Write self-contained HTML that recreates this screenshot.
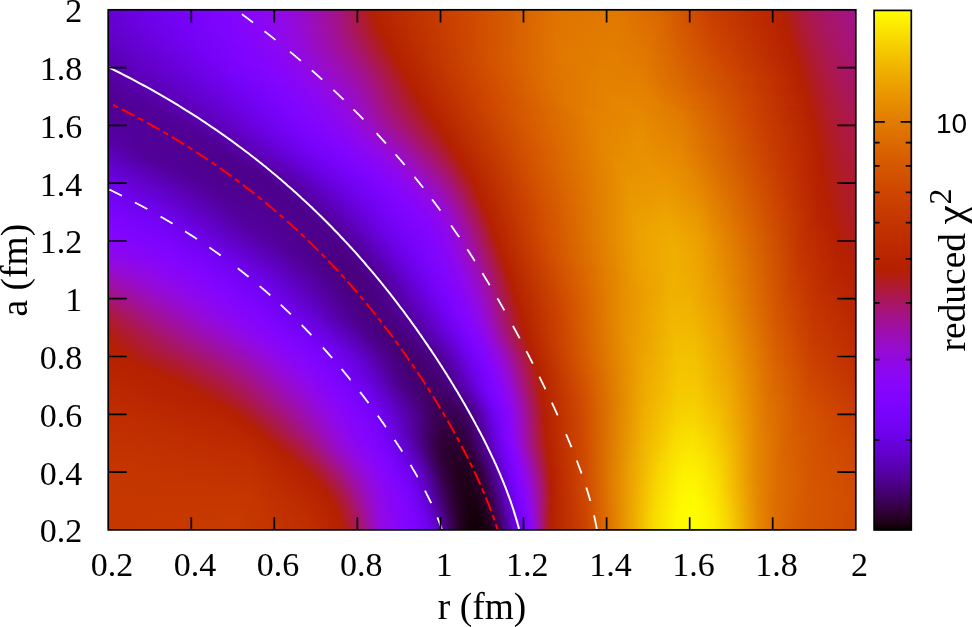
<!DOCTYPE html><html><head><meta charset="utf-8"><style>html,body{margin:0;padding:0;background:#fff;overflow:hidden}svg{display:block}text{font-family:"Liberation Serif","Times New Roman",serif;fill:#000}</style></head><body><svg width="972" height="627" viewBox="0 0 972 627"><defs><linearGradient id="g0"><stop offset="0.0006684" stop-color="#6401d3"/><stop offset="0.06751" stop-color="#7102f1"/><stop offset="0.1464" stop-color="#7e04ff"/><stop offset="0.1905" stop-color="#8806f9"/><stop offset="0.24" stop-color="#9209e1"/><stop offset="0.2694" stop-color="#9a0cbe"/><stop offset="0.3095" stop-color="#a41281"/><stop offset="0.3269" stop-color="#aa1754"/><stop offset="0.3536" stop-color="#b42003"/><stop offset="0.3643" stop-color="#b72300"/><stop offset="0.5074" stop-color="#d35100"/><stop offset="0.6009" stop-color="#e07400"/><stop offset="0.6798" stop-color="#e17900"/><stop offset="0.74" stop-color="#db6600"/><stop offset="0.8028" stop-color="#ca4000"/><stop offset="0.8763" stop-color="#bc2900"/><stop offset="0.9017" stop-color="#b42001"/><stop offset="0.9271" stop-color="#ad193d"/><stop offset="0.9539" stop-color="#a81563"/><stop offset="0.9993" stop-color="#a3118a"/></linearGradient><linearGradient id="g1"><stop offset="0.0006684" stop-color="#6401d3"/><stop offset="0.06885" stop-color="#7102f1"/><stop offset="0.1464" stop-color="#7e04ff"/><stop offset="0.1918" stop-color="#8806f9"/><stop offset="0.24" stop-color="#9209e1"/><stop offset="0.2694" stop-color="#9a0cbf"/><stop offset="0.3095" stop-color="#a41281"/><stop offset="0.3269" stop-color="#aa1755"/><stop offset="0.3549" stop-color="#b42001"/><stop offset="0.4806" stop-color="#cf4800"/><stop offset="0.6023" stop-color="#e07400"/><stop offset="0.6811" stop-color="#e17900"/><stop offset="0.74" stop-color="#db6600"/><stop offset="0.8028" stop-color="#ca4000"/><stop offset="0.879" stop-color="#bb2800"/><stop offset="0.9017" stop-color="#b42000"/><stop offset="0.9271" stop-color="#ad193c"/><stop offset="0.9539" stop-color="#a91562"/><stop offset="0.9993" stop-color="#a3118a"/></linearGradient><linearGradient id="g2"><stop offset="0.0006684" stop-color="#6401d2"/><stop offset="0.07019" stop-color="#7102f1"/><stop offset="0.1477" stop-color="#7e04ff"/><stop offset="0.1932" stop-color="#8806f8"/><stop offset="0.24" stop-color="#9209e1"/><stop offset="0.2694" stop-color="#9a0cbf"/><stop offset="0.3095" stop-color="#a41282"/><stop offset="0.3269" stop-color="#aa1656"/><stop offset="0.3549" stop-color="#b42003"/><stop offset="0.3656" stop-color="#b72300"/><stop offset="0.5074" stop-color="#d35100"/><stop offset="0.6009" stop-color="#e07400"/><stop offset="0.6798" stop-color="#e17900"/><stop offset="0.7386" stop-color="#db6700"/><stop offset="0.8041" stop-color="#ca4000"/><stop offset="0.8817" stop-color="#bb2700"/><stop offset="0.9031" stop-color="#b42002"/><stop offset="0.9271" stop-color="#ae193b"/><stop offset="0.9539" stop-color="#a91562"/><stop offset="0.9993" stop-color="#a31289"/></linearGradient><linearGradient id="g3"><stop offset="0.0006684" stop-color="#6401d1"/><stop offset="0.07152" stop-color="#7102f0"/><stop offset="0.1477" stop-color="#7e04ff"/><stop offset="0.1932" stop-color="#8806f9"/><stop offset="0.24" stop-color="#9209e2"/><stop offset="0.2694" stop-color="#9a0cc0"/><stop offset="0.3095" stop-color="#a41282"/><stop offset="0.3282" stop-color="#aa1753"/><stop offset="0.3563" stop-color="#b42001"/><stop offset="0.482" stop-color="#cf4800"/><stop offset="0.6023" stop-color="#e07500"/><stop offset="0.6811" stop-color="#e17900"/><stop offset="0.7386" stop-color="#db6800"/><stop offset="0.8041" stop-color="#cb4000"/><stop offset="0.8857" stop-color="#ba2600"/><stop offset="0.9031" stop-color="#b42001"/><stop offset="0.9271" stop-color="#ae1939"/><stop offset="0.9539" stop-color="#a91561"/><stop offset="0.9993" stop-color="#a31289"/></linearGradient><linearGradient id="g4"><stop offset="0.0006684" stop-color="#6301d0"/><stop offset="0.0742" stop-color="#7102f1"/><stop offset="0.1491" stop-color="#7e04ff"/><stop offset="0.1945" stop-color="#8806f8"/><stop offset="0.24" stop-color="#9209e2"/><stop offset="0.2707" stop-color="#9a0cbe"/><stop offset="0.3095" stop-color="#a41283"/><stop offset="0.3282" stop-color="#aa1755"/><stop offset="0.3576" stop-color="#b42000"/><stop offset="0.4846" stop-color="#cf4900"/><stop offset="0.6023" stop-color="#e07500"/><stop offset="0.6811" stop-color="#e17a00"/><stop offset="0.7386" stop-color="#dc6800"/><stop offset="0.8041" stop-color="#cb4100"/><stop offset="0.8884" stop-color="#b92500"/><stop offset="0.9044" stop-color="#b42003"/><stop offset="0.9285" stop-color="#ae193b"/><stop offset="0.9552" stop-color="#a91561"/><stop offset="0.9993" stop-color="#a31288"/></linearGradient><linearGradient id="g5"><stop offset="0.0006684" stop-color="#6301cf"/><stop offset="0.07553" stop-color="#7102f1"/><stop offset="0.1491" stop-color="#7e04ff"/><stop offset="0.1945" stop-color="#8806f9"/><stop offset="0.2386" stop-color="#9109e4"/><stop offset="0.268" stop-color="#990cc3"/><stop offset="0.3095" stop-color="#a41284"/><stop offset="0.3282" stop-color="#aa1656"/><stop offset="0.3576" stop-color="#b42002"/><stop offset="0.4833" stop-color="#cf4800"/><stop offset="0.6023" stop-color="#e07500"/><stop offset="0.6811" stop-color="#e17a00"/><stop offset="0.7373" stop-color="#dc6900"/><stop offset="0.8041" stop-color="#cb4100"/><stop offset="0.8897" stop-color="#b92500"/><stop offset="0.9044" stop-color="#b42001"/><stop offset="0.9285" stop-color="#ae1939"/><stop offset="0.9552" stop-color="#a91560"/><stop offset="0.9993" stop-color="#a31287"/></linearGradient><linearGradient id="g6"><stop offset="0.0006684" stop-color="#6301cf"/><stop offset="0.07821" stop-color="#7102f1"/><stop offset="0.1504" stop-color="#7e04ff"/><stop offset="0.1959" stop-color="#8806f9"/><stop offset="0.2386" stop-color="#9109e4"/><stop offset="0.2694" stop-color="#9a0cc2"/><stop offset="0.3095" stop-color="#a41285"/><stop offset="0.3282" stop-color="#aa1658"/><stop offset="0.359" stop-color="#b42002"/><stop offset="0.486" stop-color="#cf4900"/><stop offset="0.6009" stop-color="#e07500"/><stop offset="0.6798" stop-color="#e27a00"/><stop offset="0.736" stop-color="#dc6a00"/><stop offset="0.8055" stop-color="#cb4100"/><stop offset="0.8924" stop-color="#b82400"/><stop offset="0.9057" stop-color="#b42003"/><stop offset="0.9285" stop-color="#ae1a38"/><stop offset="0.9552" stop-color="#a9165f"/><stop offset="0.9993" stop-color="#a41287"/></linearGradient><linearGradient id="g7"><stop offset="0.0006684" stop-color="#6301ce"/><stop offset="0.08088" stop-color="#7102f1"/><stop offset="0.1517" stop-color="#7e04ff"/><stop offset="0.1985" stop-color="#8906f8"/><stop offset="0.24" stop-color="#9109e4"/><stop offset="0.2707" stop-color="#9a0cc0"/><stop offset="0.3095" stop-color="#a41286"/><stop offset="0.3295" stop-color="#aa1756"/><stop offset="0.3603" stop-color="#b42001"/><stop offset="0.4873" stop-color="#cf4a00"/><stop offset="0.6009" stop-color="#e07500"/><stop offset="0.6798" stop-color="#e27a00"/><stop offset="0.7346" stop-color="#dd6b00"/><stop offset="0.8055" stop-color="#cb4200"/><stop offset="0.8937" stop-color="#b82400"/><stop offset="0.9057" stop-color="#b42001"/><stop offset="0.9285" stop-color="#ae1a37"/><stop offset="0.9539" stop-color="#a9165d"/><stop offset="0.9993" stop-color="#a41286"/></linearGradient><linearGradient id="g8"><stop offset="0.0006684" stop-color="#6201cd"/><stop offset="0.08489" stop-color="#7202f2"/><stop offset="0.1544" stop-color="#7e04ff"/><stop offset="0.2012" stop-color="#8906f8"/><stop offset="0.2413" stop-color="#9109e3"/><stop offset="0.2734" stop-color="#9a0dbe"/><stop offset="0.3108" stop-color="#a41284"/><stop offset="0.3322" stop-color="#ab1750"/><stop offset="0.3616" stop-color="#b42000"/><stop offset="0.4886" stop-color="#cf4a00"/><stop offset="0.6009" stop-color="#e07500"/><stop offset="0.6798" stop-color="#e27b00"/><stop offset="0.7346" stop-color="#dd6b00"/><stop offset="0.8055" stop-color="#cc4200"/><stop offset="0.8964" stop-color="#b72300"/><stop offset="0.9071" stop-color="#b42002"/><stop offset="0.9298" stop-color="#ae1a38"/><stop offset="0.9566" stop-color="#a9165f"/><stop offset="0.9993" stop-color="#a41285"/></linearGradient><linearGradient id="g9"><stop offset="0.0006684" stop-color="#6201cc"/><stop offset="0.08757" stop-color="#7202f2"/><stop offset="0.1557" stop-color="#7e04ff"/><stop offset="0.2039" stop-color="#8906f7"/><stop offset="0.2413" stop-color="#9109e4"/><stop offset="0.2747" stop-color="#9b0dbd"/><stop offset="0.3108" stop-color="#a41285"/><stop offset="0.3322" stop-color="#ab1753"/><stop offset="0.363" stop-color="#b42000"/><stop offset="0.4913" stop-color="#d04b00"/><stop offset="0.5996" stop-color="#e07500"/><stop offset="0.6785" stop-color="#e27b00"/><stop offset="0.732" stop-color="#dd6d00"/><stop offset="0.8068" stop-color="#cc4200"/><stop offset="0.8991" stop-color="#b72300"/><stop offset="0.9071" stop-color="#b42000"/><stop offset="0.9298" stop-color="#ae1a36"/><stop offset="0.9566" stop-color="#a9165e"/><stop offset="0.9993" stop-color="#a41284"/></linearGradient><linearGradient id="g10"><stop offset="0.0006684" stop-color="#6101ca"/><stop offset="0.09158" stop-color="#7202f2"/><stop offset="0.1584" stop-color="#7f04ff"/><stop offset="0.2079" stop-color="#8a06f6"/><stop offset="0.244" stop-color="#9209e2"/><stop offset="0.2801" stop-color="#9c0db6"/><stop offset="0.3135" stop-color="#a41282"/><stop offset="0.3376" stop-color="#ac1846"/><stop offset="0.3643" stop-color="#b42000"/><stop offset="0.4926" stop-color="#d04b00"/><stop offset="0.5996" stop-color="#e07500"/><stop offset="0.6785" stop-color="#e27b00"/><stop offset="0.732" stop-color="#dd6d00"/><stop offset="0.8068" stop-color="#cc4300"/><stop offset="0.9004" stop-color="#b72200"/><stop offset="0.9084" stop-color="#b42002"/><stop offset="0.9311" stop-color="#ae1a37"/><stop offset="0.9579" stop-color="#a9165e"/><stop offset="0.9993" stop-color="#a41283"/></linearGradient><linearGradient id="g11"><stop offset="0.0006684" stop-color="#6101c9"/><stop offset="0.09559" stop-color="#7202f3"/><stop offset="0.1624" stop-color="#7f04ff"/><stop offset="0.2132" stop-color="#8b07f5"/><stop offset="0.2467" stop-color="#9209e0"/><stop offset="0.2881" stop-color="#9e0eac"/><stop offset="0.3162" stop-color="#a5137e"/><stop offset="0.3469" stop-color="#af1a30"/><stop offset="0.3656" stop-color="#b42000"/><stop offset="0.494" stop-color="#d04b00"/><stop offset="0.5996" stop-color="#e07500"/><stop offset="0.6785" stop-color="#e27b00"/><stop offset="0.7306" stop-color="#de6e00"/><stop offset="0.8068" stop-color="#cc4400"/><stop offset="0.9031" stop-color="#b62200"/><stop offset="0.9084" stop-color="#b42000"/><stop offset="0.9311" stop-color="#ae1a35"/><stop offset="0.9579" stop-color="#a9165d"/><stop offset="0.9993" stop-color="#a41282"/></linearGradient><linearGradient id="g12"><stop offset="0.0006684" stop-color="#6101c8"/><stop offset="0.1009" stop-color="#7302f4"/><stop offset="0.1651" stop-color="#8004ff"/><stop offset="0.2159" stop-color="#8b07f4"/><stop offset="0.248" stop-color="#9209e0"/><stop offset="0.2921" stop-color="#9e0fa8"/><stop offset="0.3189" stop-color="#a5137a"/><stop offset="0.367" stop-color="#b42000"/><stop offset="0.4967" stop-color="#d14c00"/><stop offset="0.5996" stop-color="#e07500"/><stop offset="0.6785" stop-color="#e27c00"/><stop offset="0.7306" stop-color="#de6e00"/><stop offset="0.8082" stop-color="#cc4400"/><stop offset="0.9044" stop-color="#b62200"/><stop offset="0.9098" stop-color="#b42001"/><stop offset="0.9311" stop-color="#ae1a34"/><stop offset="0.9579" stop-color="#a9165c"/><stop offset="0.9993" stop-color="#a41282"/></linearGradient><linearGradient id="g13"><stop offset="0.0006684" stop-color="#6001c7"/><stop offset="0.1049" stop-color="#7302f5"/><stop offset="0.1691" stop-color="#8004ff"/><stop offset="0.2213" stop-color="#8c07f3"/><stop offset="0.252" stop-color="#9309dd"/><stop offset="0.3001" stop-color="#a0109d"/><stop offset="0.3242" stop-color="#a71470"/><stop offset="0.3683" stop-color="#b42000"/><stop offset="0.498" stop-color="#d14d00"/><stop offset="0.5983" stop-color="#e07500"/><stop offset="0.6771" stop-color="#e27c00"/><stop offset="0.7279" stop-color="#de7000"/><stop offset="0.8082" stop-color="#cd4400"/><stop offset="0.9057" stop-color="#b62100"/><stop offset="0.9111" stop-color="#b42003"/><stop offset="0.9325" stop-color="#ae1a35"/><stop offset="0.9592" stop-color="#a9165c"/><stop offset="0.9993" stop-color="#a41281"/></linearGradient><linearGradient id="g14"><stop offset="0.0006684" stop-color="#6001c5"/><stop offset="0.1076" stop-color="#7302f5"/><stop offset="0.1705" stop-color="#8004ff"/><stop offset="0.2213" stop-color="#8b07f3"/><stop offset="0.252" stop-color="#9309dd"/><stop offset="0.3001" stop-color="#a00f9f"/><stop offset="0.3242" stop-color="#a61473"/><stop offset="0.3697" stop-color="#b42000"/><stop offset="0.5007" stop-color="#d14e00"/><stop offset="0.5983" stop-color="#e07500"/><stop offset="0.6758" stop-color="#e27c00"/><stop offset="0.7266" stop-color="#df7100"/><stop offset="0.8095" stop-color="#cd4400"/><stop offset="0.9071" stop-color="#b62100"/><stop offset="0.9111" stop-color="#b42001"/><stop offset="0.9325" stop-color="#ae1a33"/><stop offset="0.9592" stop-color="#aa165b"/><stop offset="0.9993" stop-color="#a51280"/></linearGradient><linearGradient id="g15"><stop offset="0.0006684" stop-color="#5f01c4"/><stop offset="0.1116" stop-color="#7402f5"/><stop offset="0.1731" stop-color="#8104ff"/><stop offset="0.2239" stop-color="#8c07f3"/><stop offset="0.2547" stop-color="#940adc"/><stop offset="0.3041" stop-color="#a1109a"/><stop offset="0.3282" stop-color="#a7146c"/><stop offset="0.3723" stop-color="#b52000"/><stop offset="0.506" stop-color="#d25000"/><stop offset="0.5983" stop-color="#e07500"/><stop offset="0.6758" stop-color="#e27c00"/><stop offset="0.7266" stop-color="#df7100"/><stop offset="0.8095" stop-color="#cd4500"/><stop offset="0.9071" stop-color="#b62100"/><stop offset="0.9124" stop-color="#b42002"/><stop offset="0.9338" stop-color="#ae1a34"/><stop offset="0.9619" stop-color="#a9165c"/><stop offset="0.9993" stop-color="#a5137f"/></linearGradient><linearGradient id="g16"><stop offset="0.0006684" stop-color="#5f01c2"/><stop offset="0.1143" stop-color="#7402f5"/><stop offset="0.1745" stop-color="#8104ff"/><stop offset="0.2253" stop-color="#8c07f3"/><stop offset="0.2574" stop-color="#940ada"/><stop offset="0.3068" stop-color="#a11098"/><stop offset="0.3322" stop-color="#a81566"/><stop offset="0.3737" stop-color="#b52000"/><stop offset="0.5087" stop-color="#d25100"/><stop offset="0.5983" stop-color="#e07500"/><stop offset="0.6745" stop-color="#e27d00"/><stop offset="0.7239" stop-color="#df7200"/><stop offset="0.8108" stop-color="#cd4500"/><stop offset="0.9084" stop-color="#b62100"/><stop offset="0.9124" stop-color="#b42000"/><stop offset="0.9338" stop-color="#af1a32"/><stop offset="0.9619" stop-color="#aa165b"/><stop offset="0.9993" stop-color="#a5137e"/></linearGradient><linearGradient id="g17"><stop offset="0.0006684" stop-color="#5e01c1"/><stop offset="0.117" stop-color="#7402f6"/><stop offset="0.1758" stop-color="#8004ff"/><stop offset="0.2253" stop-color="#8b07f4"/><stop offset="0.2574" stop-color="#940adb"/><stop offset="0.3068" stop-color="#a1109a"/><stop offset="0.3322" stop-color="#a81569"/><stop offset="0.375" stop-color="#b42000"/><stop offset="0.5114" stop-color="#d35200"/><stop offset="0.5969" stop-color="#e07500"/><stop offset="0.6731" stop-color="#e27d00"/><stop offset="0.7226" stop-color="#df7300"/><stop offset="0.8122" stop-color="#cd4500"/><stop offset="0.9098" stop-color="#b52100"/><stop offset="0.9151" stop-color="#b41f05"/><stop offset="0.9365" stop-color="#ae1a35"/><stop offset="0.9659" stop-color="#a9165e"/><stop offset="0.9993" stop-color="#a5137d"/></linearGradient><linearGradient id="g18"><stop offset="0.0006684" stop-color="#5e01bf"/><stop offset="0.1183" stop-color="#7402f5"/><stop offset="0.1771" stop-color="#8004ff"/><stop offset="0.2266" stop-color="#8b07f4"/><stop offset="0.2587" stop-color="#940adb"/><stop offset="0.3068" stop-color="#a0109c"/><stop offset="0.3336" stop-color="#a81569"/><stop offset="0.3763" stop-color="#b42000"/><stop offset="0.514" stop-color="#d35300"/><stop offset="0.5969" stop-color="#e07500"/><stop offset="0.6718" stop-color="#e27d00"/><stop offset="0.7213" stop-color="#e07400"/><stop offset="0.8122" stop-color="#cd4600"/><stop offset="0.9098" stop-color="#b62100"/><stop offset="0.9151" stop-color="#b42002"/><stop offset="0.9352" stop-color="#af1a31"/><stop offset="0.9632" stop-color="#aa165a"/><stop offset="0.9993" stop-color="#a5137c"/></linearGradient><linearGradient id="g19"><stop offset="0.0006684" stop-color="#5d01be"/><stop offset="0.121" stop-color="#7402f5"/><stop offset="0.1785" stop-color="#8004ff"/><stop offset="0.2266" stop-color="#8b07f4"/><stop offset="0.2587" stop-color="#930adc"/><stop offset="0.3068" stop-color="#a0109e"/><stop offset="0.3336" stop-color="#a7146d"/><stop offset="0.3777" stop-color="#b42000"/><stop offset="0.518" stop-color="#d45400"/><stop offset="0.5983" stop-color="#e07600"/><stop offset="0.6718" stop-color="#e37d00"/><stop offset="0.7213" stop-color="#e07500"/><stop offset="0.8135" stop-color="#cd4600"/><stop offset="0.9098" stop-color="#b62200"/><stop offset="0.9151" stop-color="#b42000"/><stop offset="0.9352" stop-color="#af1b2f"/><stop offset="0.9632" stop-color="#aa1659"/><stop offset="0.9993" stop-color="#a5137b"/></linearGradient><linearGradient id="g20"><stop offset="0.0006684" stop-color="#5d01bc"/><stop offset="0.1223" stop-color="#7302f5"/><stop offset="0.1798" stop-color="#8004ff"/><stop offset="0.2279" stop-color="#8b07f5"/><stop offset="0.2614" stop-color="#940ada"/><stop offset="0.3095" stop-color="#a0109c"/><stop offset="0.3376" stop-color="#a81568"/><stop offset="0.379" stop-color="#b42000"/><stop offset="0.5221" stop-color="#d55600"/><stop offset="0.5983" stop-color="#e07600"/><stop offset="0.6718" stop-color="#e37d00"/><stop offset="0.7199" stop-color="#e07600"/><stop offset="0.8148" stop-color="#ce4600"/><stop offset="0.9111" stop-color="#b62200"/><stop offset="0.9164" stop-color="#b42002"/><stop offset="0.9365" stop-color="#af1a30"/><stop offset="0.9646" stop-color="#aa1659"/><stop offset="0.9993" stop-color="#a5137a"/></linearGradient><linearGradient id="g21"><stop offset="0.0006684" stop-color="#5c01ba"/><stop offset="0.125" stop-color="#7302f5"/><stop offset="0.1811" stop-color="#8004ff"/><stop offset="0.2279" stop-color="#8a06f5"/><stop offset="0.2614" stop-color="#930adc"/><stop offset="0.3095" stop-color="#a00f9f"/><stop offset="0.3376" stop-color="#a7146b"/><stop offset="0.379" stop-color="#b41f04"/><stop offset="0.383" stop-color="#b52100"/><stop offset="0.5354" stop-color="#d75c00"/><stop offset="0.6036" stop-color="#e17700"/><stop offset="0.6771" stop-color="#e37e00"/><stop offset="0.7239" stop-color="#e07400"/><stop offset="0.8135" stop-color="#ce4700"/><stop offset="0.9098" stop-color="#b72200"/><stop offset="0.9164" stop-color="#b42000"/><stop offset="0.9378" stop-color="#af1a30"/><stop offset="0.9672" stop-color="#aa165b"/><stop offset="0.9993" stop-color="#a61379"/></linearGradient><linearGradient id="g22"><stop offset="0.0006684" stop-color="#5b01b8"/><stop offset="0.1263" stop-color="#7302f5"/><stop offset="0.1825" stop-color="#8004ff"/><stop offset="0.2293" stop-color="#8a06f5"/><stop offset="0.264" stop-color="#940adb"/><stop offset="0.3122" stop-color="#a0109e"/><stop offset="0.3402" stop-color="#a8156a"/><stop offset="0.383" stop-color="#b52000"/><stop offset="0.5341" stop-color="#d75c00"/><stop offset="0.6036" stop-color="#e17700"/><stop offset="0.6771" stop-color="#e37e00"/><stop offset="0.7226" stop-color="#e07500"/><stop offset="0.8162" stop-color="#ce4700"/><stop offset="0.9111" stop-color="#b62200"/><stop offset="0.9178" stop-color="#b42001"/><stop offset="0.9378" stop-color="#af1b2f"/><stop offset="0.9672" stop-color="#aa1659"/><stop offset="0.9993" stop-color="#a61378"/></linearGradient><linearGradient id="g23"><stop offset="0.0006684" stop-color="#5b01b7"/><stop offset="0.129" stop-color="#7302f5"/><stop offset="0.1838" stop-color="#8004ff"/><stop offset="0.2306" stop-color="#8a06f6"/><stop offset="0.2654" stop-color="#940adb"/><stop offset="0.3135" stop-color="#a0109e"/><stop offset="0.3416" stop-color="#a7146b"/><stop offset="0.3817" stop-color="#b41f06"/><stop offset="0.3857" stop-color="#b52100"/><stop offset="0.5354" stop-color="#d75c00"/><stop offset="0.6049" stop-color="#e17700"/><stop offset="0.6785" stop-color="#e37e00"/><stop offset="0.7226" stop-color="#e07600"/><stop offset="0.8175" stop-color="#ce4700"/><stop offset="0.9111" stop-color="#b72200"/><stop offset="0.9191" stop-color="#b42002"/><stop offset="0.9405" stop-color="#af1a32"/><stop offset="0.9699" stop-color="#aa165b"/><stop offset="0.9993" stop-color="#a61376"/></linearGradient><linearGradient id="g24"><stop offset="0.0006684" stop-color="#5a01b5"/><stop offset="0.1317" stop-color="#7302f5"/><stop offset="0.1852" stop-color="#8004ff"/><stop offset="0.2306" stop-color="#8a06f6"/><stop offset="0.2667" stop-color="#940adb"/><stop offset="0.3135" stop-color="#9f0fa1"/><stop offset="0.3416" stop-color="#a7146f"/><stop offset="0.3803" stop-color="#b31e0e"/><stop offset="0.3857" stop-color="#b42000"/><stop offset="0.5341" stop-color="#d75b00"/><stop offset="0.6036" stop-color="#e17700"/><stop offset="0.6745" stop-color="#e37e00"/><stop offset="0.7199" stop-color="#e17700"/><stop offset="0.8215" stop-color="#cd4600"/><stop offset="0.9124" stop-color="#b62200"/><stop offset="0.9191" stop-color="#b42000"/><stop offset="0.9392" stop-color="#af1b2d"/><stop offset="0.9686" stop-color="#aa1658"/><stop offset="0.9993" stop-color="#a61375"/></linearGradient><linearGradient id="g25"><stop offset="0.0006684" stop-color="#5a00b3"/><stop offset="0.1344" stop-color="#7302f4"/><stop offset="0.1865" stop-color="#7f04ff"/><stop offset="0.232" stop-color="#8a06f7"/><stop offset="0.268" stop-color="#940adc"/><stop offset="0.3148" stop-color="#9f0fa2"/><stop offset="0.3429" stop-color="#a71470"/><stop offset="0.3803" stop-color="#b21e12"/><stop offset="0.387" stop-color="#b42000"/><stop offset="0.5328" stop-color="#d75b00"/><stop offset="0.6036" stop-color="#e07700"/><stop offset="0.6745" stop-color="#e37f00"/><stop offset="0.7199" stop-color="#e17800"/><stop offset="0.8242" stop-color="#cd4500"/><stop offset="0.9138" stop-color="#b62200"/><stop offset="0.9205" stop-color="#b42002"/><stop offset="0.9418" stop-color="#af1a31"/><stop offset="0.9713" stop-color="#aa165a"/><stop offset="0.9993" stop-color="#a61474"/></linearGradient><linearGradient id="g26"><stop offset="0.0006684" stop-color="#5900b1"/><stop offset="0.137" stop-color="#7302f4"/><stop offset="0.1892" stop-color="#8004ff"/><stop offset="0.2333" stop-color="#8906f7"/><stop offset="0.2707" stop-color="#940adb"/><stop offset="0.3162" stop-color="#9f0fa3"/><stop offset="0.3429" stop-color="#a61474"/><stop offset="0.379" stop-color="#b11d1a"/><stop offset="0.3884" stop-color="#b42000"/><stop offset="0.5314" stop-color="#d65a00"/><stop offset="0.6023" stop-color="#e07600"/><stop offset="0.6718" stop-color="#e37f00"/><stop offset="0.7186" stop-color="#e17800"/><stop offset="0.8282" stop-color="#cd4400"/><stop offset="0.9151" stop-color="#b62200"/><stop offset="0.9218" stop-color="#b42003"/><stop offset="0.9432" stop-color="#af1a31"/><stop offset="0.9726" stop-color="#aa165a"/><stop offset="0.9993" stop-color="#a61473"/></linearGradient><linearGradient id="g27"><stop offset="0.0006684" stop-color="#5900af"/><stop offset="0.141" stop-color="#7302f5"/><stop offset="0.1918" stop-color="#8004ff"/><stop offset="0.2346" stop-color="#8906f7"/><stop offset="0.2721" stop-color="#940adb"/><stop offset="0.3175" stop-color="#9f0fa5"/><stop offset="0.3443" stop-color="#a61375"/><stop offset="0.3817" stop-color="#b21d16"/><stop offset="0.3897" stop-color="#b42000"/><stop offset="0.5301" stop-color="#d65900"/><stop offset="0.6023" stop-color="#e07600"/><stop offset="0.6705" stop-color="#e37f00"/><stop offset="0.7172" stop-color="#e17900"/><stop offset="0.8336" stop-color="#cc4300"/><stop offset="0.9191" stop-color="#b52100"/><stop offset="0.9231" stop-color="#b41f05"/><stop offset="0.9445" stop-color="#af1a32"/><stop offset="0.9739" stop-color="#aa165b"/><stop offset="0.9993" stop-color="#a61472"/></linearGradient><linearGradient id="g28"><stop offset="0.0006684" stop-color="#5800ae"/><stop offset="0.1451" stop-color="#7402f5"/><stop offset="0.1945" stop-color="#8004ff"/><stop offset="0.236" stop-color="#8906f7"/><stop offset="0.2734" stop-color="#930adc"/><stop offset="0.3189" stop-color="#9f0fa6"/><stop offset="0.3456" stop-color="#a61376"/><stop offset="0.383" stop-color="#b21d17"/><stop offset="0.3924" stop-color="#b52000"/><stop offset="0.5301" stop-color="#d65900"/><stop offset="0.6023" stop-color="#e07600"/><stop offset="0.6705" stop-color="#e37f00"/><stop offset="0.7172" stop-color="#e17a00"/><stop offset="0.8389" stop-color="#cb4100"/><stop offset="0.9231" stop-color="#b42002"/><stop offset="0.9445" stop-color="#af1a30"/><stop offset="0.9739" stop-color="#aa1659"/><stop offset="0.9993" stop-color="#a71471"/></linearGradient><linearGradient id="g29"><stop offset="0.0006684" stop-color="#5800ac"/><stop offset="0.09559" stop-color="#6801dd"/><stop offset="0.1678" stop-color="#7903fc"/><stop offset="0.2186" stop-color="#8405fd"/><stop offset="0.2547" stop-color="#8e08ed"/><stop offset="0.2961" stop-color="#990cc6"/><stop offset="0.3309" stop-color="#a11096"/><stop offset="0.3563" stop-color="#a91561"/><stop offset="0.3937" stop-color="#b52000"/><stop offset="0.5274" stop-color="#d55700"/><stop offset="0.6009" stop-color="#e07600"/><stop offset="0.6678" stop-color="#e37f00"/><stop offset="0.7159" stop-color="#e27b00"/><stop offset="0.8456" stop-color="#ca3f00"/><stop offset="0.9231" stop-color="#b42000"/><stop offset="0.9445" stop-color="#af1b2f"/><stop offset="0.9739" stop-color="#aa1658"/><stop offset="0.9993" stop-color="#a71470"/></linearGradient><linearGradient id="g30"><stop offset="0.0006684" stop-color="#5700aa"/><stop offset="0.09158" stop-color="#6701d9"/><stop offset="0.1651" stop-color="#7703fa"/><stop offset="0.2146" stop-color="#8305fe"/><stop offset="0.2507" stop-color="#8c07f1"/><stop offset="0.2908" stop-color="#970bcf"/><stop offset="0.3269" stop-color="#a00fa0"/><stop offset="0.3509" stop-color="#a71471"/><stop offset="0.3951" stop-color="#b42000"/><stop offset="0.5247" stop-color="#d55600"/><stop offset="0.5996" stop-color="#e07500"/><stop offset="0.6651" stop-color="#e38000"/><stop offset="0.7146" stop-color="#e27c00"/><stop offset="0.8536" stop-color="#c93d00"/><stop offset="0.9245" stop-color="#b42002"/><stop offset="0.9459" stop-color="#af1b2f"/><stop offset="0.9753" stop-color="#aa1658"/><stop offset="0.9993" stop-color="#a7146f"/></linearGradient><linearGradient id="g31"><stop offset="0.0006684" stop-color="#5600a8"/><stop offset="0.09158" stop-color="#6601d7"/><stop offset="0.1664" stop-color="#7703fa"/><stop offset="0.2159" stop-color="#8205fe"/><stop offset="0.252" stop-color="#8c07f2"/><stop offset="0.2921" stop-color="#970bd0"/><stop offset="0.3282" stop-color="#9f0fa1"/><stop offset="0.3523" stop-color="#a61472"/><stop offset="0.3964" stop-color="#b42000"/><stop offset="0.5234" stop-color="#d45500"/><stop offset="0.5996" stop-color="#e07500"/><stop offset="0.6651" stop-color="#e38000"/><stop offset="0.7146" stop-color="#e27c00"/><stop offset="0.8576" stop-color="#c83c00"/><stop offset="0.9245" stop-color="#b42000"/><stop offset="0.9472" stop-color="#af1a30"/><stop offset="0.9766" stop-color="#aa1659"/><stop offset="0.9993" stop-color="#a7146e"/></linearGradient><linearGradient id="g32"><stop offset="0.0006684" stop-color="#5600a6"/><stop offset="0.09425" stop-color="#6601d6"/><stop offset="0.1691" stop-color="#7703fa"/><stop offset="0.2186" stop-color="#8205fe"/><stop offset="0.2547" stop-color="#8c07f1"/><stop offset="0.2948" stop-color="#970bcf"/><stop offset="0.3295" stop-color="#9f0fa3"/><stop offset="0.3536" stop-color="#a61473"/><stop offset="0.3977" stop-color="#b42000"/><stop offset="0.5207" stop-color="#d35300"/><stop offset="0.5983" stop-color="#e07400"/><stop offset="0.6638" stop-color="#e38000"/><stop offset="0.7132" stop-color="#e37d00"/><stop offset="0.8643" stop-color="#c73a00"/><stop offset="0.9258" stop-color="#b42001"/><stop offset="0.9485" stop-color="#af1a31"/><stop offset="0.9779" stop-color="#aa1659"/><stop offset="0.9993" stop-color="#a7146d"/></linearGradient><linearGradient id="g33"><stop offset="0.0006684" stop-color="#5500a3"/><stop offset="0.09826" stop-color="#6601d7"/><stop offset="0.1718" stop-color="#7703fa"/><stop offset="0.2213" stop-color="#8205fe"/><stop offset="0.2587" stop-color="#8d07f0"/><stop offset="0.3001" stop-color="#970bcc"/><stop offset="0.3322" stop-color="#9f0fa2"/><stop offset="0.3563" stop-color="#a71470"/><stop offset="0.3991" stop-color="#b42000"/><stop offset="0.518" stop-color="#d35100"/><stop offset="0.5983" stop-color="#e07400"/><stop offset="0.6638" stop-color="#e38000"/><stop offset="0.7132" stop-color="#e37e00"/><stop offset="0.8697" stop-color="#c63800"/><stop offset="0.9258" stop-color="#b42000"/><stop offset="0.9499" stop-color="#af1a32"/><stop offset="0.9793" stop-color="#aa1659"/><stop offset="0.9993" stop-color="#a7146b"/></linearGradient><linearGradient id="g34"><stop offset="0.0006684" stop-color="#5400a1"/><stop offset="0.1009" stop-color="#6501d6"/><stop offset="0.1745" stop-color="#7703fa"/><stop offset="0.2239" stop-color="#8305fe"/><stop offset="0.2614" stop-color="#8d07f0"/><stop offset="0.3028" stop-color="#970bcc"/><stop offset="0.3336" stop-color="#9f0fa3"/><stop offset="0.3576" stop-color="#a71470"/><stop offset="0.4004" stop-color="#b42000"/><stop offset="0.5154" stop-color="#d24f00"/><stop offset="0.5969" stop-color="#df7300"/><stop offset="0.6624" stop-color="#e38000"/><stop offset="0.7132" stop-color="#e37e00"/><stop offset="0.875" stop-color="#c53600"/><stop offset="0.9271" stop-color="#b42001"/><stop offset="0.9499" stop-color="#af1a30"/><stop offset="0.9793" stop-color="#aa1658"/><stop offset="0.9993" stop-color="#a8156a"/></linearGradient><linearGradient id="g35"><stop offset="0.0006684" stop-color="#54009f"/><stop offset="0.1036" stop-color="#6501d5"/><stop offset="0.1771" stop-color="#7703fa"/><stop offset="0.2266" stop-color="#8305fe"/><stop offset="0.2654" stop-color="#8d07ef"/><stop offset="0.3068" stop-color="#980bca"/><stop offset="0.3362" stop-color="#9f0fa1"/><stop offset="0.3616" stop-color="#a81569"/><stop offset="0.4017" stop-color="#b42001"/><stop offset="0.5127" stop-color="#d14e00"/><stop offset="0.5969" stop-color="#df7300"/><stop offset="0.6624" stop-color="#e48100"/><stop offset="0.7132" stop-color="#e37f00"/><stop offset="0.883" stop-color="#c33300"/><stop offset="0.9285" stop-color="#b42002"/><stop offset="0.9525" stop-color="#ae1a33"/><stop offset="0.982" stop-color="#aa165a"/><stop offset="0.9993" stop-color="#a81569"/></linearGradient><linearGradient id="g36"><stop offset="0.0006684" stop-color="#53009d"/><stop offset="0.1049" stop-color="#6501d4"/><stop offset="0.1785" stop-color="#7703f9"/><stop offset="0.2279" stop-color="#8205fe"/><stop offset="0.2667" stop-color="#8d07f0"/><stop offset="0.3068" stop-color="#970bcd"/><stop offset="0.3362" stop-color="#9f0fa4"/><stop offset="0.3616" stop-color="#a7146d"/><stop offset="0.4044" stop-color="#b52000"/><stop offset="0.5127" stop-color="#d14d00"/><stop offset="0.5969" stop-color="#df7300"/><stop offset="0.6624" stop-color="#e48100"/><stop offset="0.7132" stop-color="#e38000"/><stop offset="0.8844" stop-color="#c33300"/><stop offset="0.9285" stop-color="#b42000"/><stop offset="0.9525" stop-color="#af1a32"/><stop offset="0.982" stop-color="#aa1658"/><stop offset="0.9993" stop-color="#a81568"/></linearGradient><linearGradient id="g37"><stop offset="0.0006684" stop-color="#52009b"/><stop offset="0.1063" stop-color="#6401d2"/><stop offset="0.1798" stop-color="#7603f9"/><stop offset="0.2293" stop-color="#8204fe"/><stop offset="0.268" stop-color="#8d07f0"/><stop offset="0.3082" stop-color="#970bce"/><stop offset="0.3362" stop-color="#9e0fa7"/><stop offset="0.3616" stop-color="#a71470"/><stop offset="0.4057" stop-color="#b42000"/><stop offset="0.51" stop-color="#d04c00"/><stop offset="0.5969" stop-color="#df7300"/><stop offset="0.6624" stop-color="#e48100"/><stop offset="0.7132" stop-color="#e38000"/><stop offset="0.8777" stop-color="#c53600"/><stop offset="0.9298" stop-color="#b42002"/><stop offset="0.9539" stop-color="#ae1a33"/><stop offset="0.9833" stop-color="#aa1659"/><stop offset="0.9993" stop-color="#a81567"/></linearGradient><linearGradient id="g38"><stop offset="0.0006684" stop-color="#520099"/><stop offset="0.09559" stop-color="#6101ca"/><stop offset="0.1798" stop-color="#7502f8"/><stop offset="0.2293" stop-color="#8104ff"/><stop offset="0.2694" stop-color="#8c07f1"/><stop offset="0.3082" stop-color="#960bd1"/><stop offset="0.3362" stop-color="#9e0eaa"/><stop offset="0.3616" stop-color="#a61473"/><stop offset="0.4071" stop-color="#b42000"/><stop offset="0.5074" stop-color="#cf4a00"/><stop offset="0.5969" stop-color="#df7200"/><stop offset="0.6624" stop-color="#e48100"/><stop offset="0.7132" stop-color="#e48100"/><stop offset="0.8082" stop-color="#d45500"/><stop offset="0.9111" stop-color="#bb2700"/><stop offset="0.9298" stop-color="#b42000"/><stop offset="0.9539" stop-color="#af1a31"/><stop offset="0.9833" stop-color="#aa1657"/><stop offset="0.9993" stop-color="#a81566"/></linearGradient><linearGradient id="g39"><stop offset="0.0006684" stop-color="#510097"/><stop offset="0.08356" stop-color="#5e01c0"/><stop offset="0.1798" stop-color="#7502f7"/><stop offset="0.2293" stop-color="#8104ff"/><stop offset="0.2694" stop-color="#8c07f3"/><stop offset="0.3082" stop-color="#960ad3"/><stop offset="0.3362" stop-color="#9d0ead"/><stop offset="0.3616" stop-color="#a61376"/><stop offset="0.4084" stop-color="#b42000"/><stop offset="0.506" stop-color="#cf4900"/><stop offset="0.5983" stop-color="#df7300"/><stop offset="0.6638" stop-color="#e48200"/><stop offset="0.7146" stop-color="#e48100"/><stop offset="0.8028" stop-color="#d65800"/><stop offset="0.9111" stop-color="#bb2700"/><stop offset="0.9311" stop-color="#b42002"/><stop offset="0.9552" stop-color="#af1a32"/><stop offset="0.9846" stop-color="#aa1657"/><stop offset="0.9993" stop-color="#a81564"/></linearGradient><linearGradient id="g40"><stop offset="0.0006684" stop-color="#510096"/><stop offset="0.07553" stop-color="#5c01ba"/><stop offset="0.1825" stop-color="#7402f6"/><stop offset="0.2306" stop-color="#8104ff"/><stop offset="0.2707" stop-color="#8b07f3"/><stop offset="0.3082" stop-color="#950ad6"/><stop offset="0.3362" stop-color="#9d0eb0"/><stop offset="0.3616" stop-color="#a51379"/><stop offset="0.4098" stop-color="#b42000"/><stop offset="0.5033" stop-color="#ce4700"/><stop offset="0.5983" stop-color="#df7200"/><stop offset="0.6638" stop-color="#e48200"/><stop offset="0.7146" stop-color="#e48200"/><stop offset="0.7948" stop-color="#d85d00"/><stop offset="0.9111" stop-color="#bb2800"/><stop offset="0.9311" stop-color="#b42000"/><stop offset="0.9552" stop-color="#af1a31"/><stop offset="0.9846" stop-color="#aa1656"/><stop offset="0.9993" stop-color="#a81563"/></linearGradient><linearGradient id="g41"><stop offset="0.0006684" stop-color="#500094"/><stop offset="0.07152" stop-color="#5a01b5"/><stop offset="0.1838" stop-color="#7402f6"/><stop offset="0.232" stop-color="#8004ff"/><stop offset="0.2721" stop-color="#8b07f4"/><stop offset="0.3095" stop-color="#950ad7"/><stop offset="0.3376" stop-color="#9d0eb0"/><stop offset="0.3643" stop-color="#a61376"/><stop offset="0.4124" stop-color="#b52000"/><stop offset="0.506" stop-color="#ce4800"/><stop offset="0.6009" stop-color="#df7300"/><stop offset="0.6664" stop-color="#e48300"/><stop offset="0.7159" stop-color="#e48200"/><stop offset="0.7921" stop-color="#d96000"/><stop offset="0.9111" stop-color="#bb2800"/><stop offset="0.9325" stop-color="#b42001"/><stop offset="0.9566" stop-color="#af1a31"/><stop offset="0.986" stop-color="#aa1656"/><stop offset="0.9993" stop-color="#a91562"/></linearGradient><linearGradient id="g42"><stop offset="0.0006684" stop-color="#500094"/><stop offset="0.06217" stop-color="#5800ad"/><stop offset="0.1852" stop-color="#7402f5"/><stop offset="0.2333" stop-color="#8004ff"/><stop offset="0.2734" stop-color="#8b07f4"/><stop offset="0.3095" stop-color="#940ad9"/><stop offset="0.3376" stop-color="#9c0eb3"/><stop offset="0.3643" stop-color="#a61379"/><stop offset="0.4138" stop-color="#b52000"/><stop offset="0.5047" stop-color="#ce4700"/><stop offset="0.6023" stop-color="#df7300"/><stop offset="0.6678" stop-color="#e48300"/><stop offset="0.7159" stop-color="#e48300"/><stop offset="0.7894" stop-color="#da6200"/><stop offset="0.9111" stop-color="#bb2800"/><stop offset="0.9325" stop-color="#b42000"/><stop offset="0.9579" stop-color="#af1a32"/><stop offset="0.9873" stop-color="#aa1656"/><stop offset="0.9993" stop-color="#a91561"/></linearGradient><linearGradient id="g43"><stop offset="0.0006684" stop-color="#500093"/><stop offset="0.0488" stop-color="#5500a4"/><stop offset="0.1892" stop-color="#7402f5"/><stop offset="0.236" stop-color="#8004ff"/><stop offset="0.2761" stop-color="#8b07f4"/><stop offset="0.3122" stop-color="#940ad8"/><stop offset="0.3389" stop-color="#9c0eb3"/><stop offset="0.367" stop-color="#a61375"/><stop offset="0.4151" stop-color="#b42000"/><stop offset="0.5033" stop-color="#cd4500"/><stop offset="0.6036" stop-color="#df7300"/><stop offset="0.6691" stop-color="#e48400"/><stop offset="0.7172" stop-color="#e48300"/><stop offset="0.7881" stop-color="#da6400"/><stop offset="0.883" stop-color="#c53600"/><stop offset="0.9338" stop-color="#b42001"/><stop offset="0.9579" stop-color="#af1a31"/><stop offset="0.9873" stop-color="#aa1755"/><stop offset="0.9993" stop-color="#a91660"/></linearGradient><linearGradient id="g44"><stop offset="0.0006684" stop-color="#500093"/><stop offset="0.04612" stop-color="#5400a0"/><stop offset="0.1491" stop-color="#6901de"/><stop offset="0.2052" stop-color="#7703fa"/><stop offset="0.248" stop-color="#8305fe"/><stop offset="0.2868" stop-color="#8d07ef"/><stop offset="0.3202" stop-color="#960bd1"/><stop offset="0.3443" stop-color="#9e0eab"/><stop offset="0.387" stop-color="#ac1847"/><stop offset="0.4164" stop-color="#b42000"/><stop offset="0.5033" stop-color="#cd4500"/><stop offset="0.6063" stop-color="#e07400"/><stop offset="0.6718" stop-color="#e58400"/><stop offset="0.7186" stop-color="#e48300"/><stop offset="0.7868" stop-color="#db6600"/><stop offset="0.8777" stop-color="#c73900"/><stop offset="0.9352" stop-color="#b42002"/><stop offset="0.9592" stop-color="#af1a32"/><stop offset="0.9886" stop-color="#aa1755"/><stop offset="0.9993" stop-color="#a9165e"/></linearGradient><linearGradient id="g45"><stop offset="0.0006684" stop-color="#4f0092"/><stop offset="0.0488" stop-color="#53009f"/><stop offset="0.1464" stop-color="#6701da"/><stop offset="0.2052" stop-color="#7603f9"/><stop offset="0.248" stop-color="#8205fe"/><stop offset="0.2868" stop-color="#8c07f1"/><stop offset="0.3202" stop-color="#960ad3"/><stop offset="0.3443" stop-color="#9d0eae"/><stop offset="0.3884" stop-color="#ac1847"/><stop offset="0.4191" stop-color="#b52000"/><stop offset="0.5074" stop-color="#ce4600"/><stop offset="0.609" stop-color="#e07500"/><stop offset="0.6745" stop-color="#e58500"/><stop offset="0.7199" stop-color="#e48400"/><stop offset="0.7854" stop-color="#db6700"/><stop offset="0.8737" stop-color="#c83b00"/><stop offset="0.9352" stop-color="#b42001"/><stop offset="0.9592" stop-color="#af1a30"/><stop offset="0.9886" stop-color="#aa1754"/><stop offset="0.9993" stop-color="#a9165d"/></linearGradient><linearGradient id="g46"><stop offset="0.0006684" stop-color="#4f0092"/><stop offset="0.05281" stop-color="#53009e"/><stop offset="0.1959" stop-color="#7302f4"/><stop offset="0.2413" stop-color="#8004ff"/><stop offset="0.2814" stop-color="#8a07f5"/><stop offset="0.3162" stop-color="#940ada"/><stop offset="0.3416" stop-color="#9c0db6"/><stop offset="0.3737" stop-color="#a7146e"/><stop offset="0.4205" stop-color="#b42000"/><stop offset="0.5087" stop-color="#ce4600"/><stop offset="0.613" stop-color="#e07600"/><stop offset="0.6798" stop-color="#e58600"/><stop offset="0.7239" stop-color="#e48300"/><stop offset="0.7868" stop-color="#db6800"/><stop offset="0.8723" stop-color="#c83c00"/><stop offset="0.9365" stop-color="#b42002"/><stop offset="0.9606" stop-color="#af1a31"/><stop offset="0.99" stop-color="#aa1754"/><stop offset="0.9993" stop-color="#a9165c"/></linearGradient><linearGradient id="g47"><stop offset="0.0006684" stop-color="#4f0091"/><stop offset="0.05682" stop-color="#53009d"/><stop offset="0.1972" stop-color="#7302f4"/><stop offset="0.2426" stop-color="#7f04ff"/><stop offset="0.2828" stop-color="#8a06f6"/><stop offset="0.3162" stop-color="#930adc"/><stop offset="0.3416" stop-color="#9b0db8"/><stop offset="0.3737" stop-color="#a71471"/><stop offset="0.4218" stop-color="#b42000"/><stop offset="0.51" stop-color="#ce4600"/><stop offset="0.6156" stop-color="#e17700"/><stop offset="0.6825" stop-color="#e58700"/><stop offset="0.7253" stop-color="#e48400"/><stop offset="0.7868" stop-color="#dc6900"/><stop offset="0.871" stop-color="#c93d00"/><stop offset="0.9365" stop-color="#b42001"/><stop offset="0.9606" stop-color="#af1b2f"/><stop offset="0.99" stop-color="#ab1753"/><stop offset="0.9993" stop-color="#aa165b"/></linearGradient><linearGradient id="g48"><stop offset="0.0006684" stop-color="#4f0091"/><stop offset="0.06083" stop-color="#53009d"/><stop offset="0.1985" stop-color="#7202f3"/><stop offset="0.244" stop-color="#7f04ff"/><stop offset="0.2841" stop-color="#8a06f6"/><stop offset="0.3175" stop-color="#9309dd"/><stop offset="0.3429" stop-color="#9b0db8"/><stop offset="0.3777" stop-color="#a7146b"/><stop offset="0.4231" stop-color="#b42000"/><stop offset="0.5114" stop-color="#ce4700"/><stop offset="0.6197" stop-color="#e17800"/><stop offset="0.6878" stop-color="#e58700"/><stop offset="0.7306" stop-color="#e48300"/><stop offset="0.7881" stop-color="#dc6900"/><stop offset="0.871" stop-color="#c93d00"/><stop offset="0.9378" stop-color="#b42002"/><stop offset="0.9619" stop-color="#af1a30"/><stop offset="0.9913" stop-color="#ab1753"/><stop offset="0.9993" stop-color="#aa165a"/></linearGradient><linearGradient id="g49"><stop offset="0.0006684" stop-color="#4f0091"/><stop offset="0.06484" stop-color="#53009c"/><stop offset="0.2012" stop-color="#7202f3"/><stop offset="0.2453" stop-color="#7f04ff"/><stop offset="0.2841" stop-color="#8906f7"/><stop offset="0.3175" stop-color="#9309df"/><stop offset="0.3429" stop-color="#9b0dbb"/><stop offset="0.3777" stop-color="#a7146e"/><stop offset="0.4258" stop-color="#b52000"/><stop offset="0.5207" stop-color="#d04b00"/><stop offset="0.6277" stop-color="#e27b00"/><stop offset="0.6972" stop-color="#e68800"/><stop offset="0.744" stop-color="#e37f00"/><stop offset="0.8015" stop-color="#d96100"/><stop offset="0.9191" stop-color="#ba2600"/><stop offset="0.9378" stop-color="#b42001"/><stop offset="0.9619" stop-color="#af1b2f"/><stop offset="0.9913" stop-color="#ab1752"/><stop offset="0.9993" stop-color="#aa1658"/></linearGradient><linearGradient id="g50"><stop offset="0.0006684" stop-color="#4f0092"/><stop offset="0.06885" stop-color="#52009b"/><stop offset="0.2025" stop-color="#7202f2"/><stop offset="0.2467" stop-color="#7e04ff"/><stop offset="0.2854" stop-color="#8906f7"/><stop offset="0.3175" stop-color="#9209e1"/><stop offset="0.3429" stop-color="#9a0dbd"/><stop offset="0.3777" stop-color="#a61472"/><stop offset="0.4271" stop-color="#b42000"/><stop offset="0.5247" stop-color="#d04c00"/><stop offset="0.6344" stop-color="#e27d00"/><stop offset="0.7025" stop-color="#e68900"/><stop offset="0.7547" stop-color="#e27c00"/><stop offset="0.875" stop-color="#c83c00"/><stop offset="0.9392" stop-color="#b42002"/><stop offset="0.9632" stop-color="#af1b30"/><stop offset="0.994" stop-color="#ab1753"/><stop offset="0.9993" stop-color="#aa1657"/></linearGradient><linearGradient id="g51"><stop offset="0.0006684" stop-color="#500093"/><stop offset="0.07286" stop-color="#52009b"/><stop offset="0.2039" stop-color="#7202f2"/><stop offset="0.248" stop-color="#7e04ff"/><stop offset="0.2868" stop-color="#8906f8"/><stop offset="0.3189" stop-color="#9209e1"/><stop offset="0.3443" stop-color="#9a0dbe"/><stop offset="0.3844" stop-color="#a81567"/><stop offset="0.4298" stop-color="#b52000"/><stop offset="0.5381" stop-color="#d35200"/><stop offset="0.6464" stop-color="#e48100"/><stop offset="0.7092" stop-color="#e68900"/><stop offset="0.768" stop-color="#e17700"/><stop offset="0.8643" stop-color="#cb4100"/><stop offset="0.9392" stop-color="#b42001"/><stop offset="0.9632" stop-color="#af1b2e"/><stop offset="0.994" stop-color="#ab1752"/><stop offset="0.9993" stop-color="#aa1656"/></linearGradient><linearGradient id="g52"><stop offset="0.0006684" stop-color="#500094"/><stop offset="0.07687" stop-color="#52009a"/><stop offset="0.2066" stop-color="#7202f2"/><stop offset="0.2493" stop-color="#7e04ff"/><stop offset="0.2881" stop-color="#8906f8"/><stop offset="0.3202" stop-color="#9209e2"/><stop offset="0.3456" stop-color="#9a0dbe"/><stop offset="0.3937" stop-color="#aa1756"/><stop offset="0.4311" stop-color="#b42000"/><stop offset="0.5448" stop-color="#d45500"/><stop offset="0.6491" stop-color="#e48200"/><stop offset="0.7106" stop-color="#e68900"/><stop offset="0.7694" stop-color="#e17700"/><stop offset="0.8643" stop-color="#cb4200"/><stop offset="0.9405" stop-color="#b42002"/><stop offset="0.9646" stop-color="#af1b2f"/><stop offset="0.9953" stop-color="#ab1752"/><stop offset="0.9993" stop-color="#aa1755"/></linearGradient><linearGradient id="g53"><stop offset="0.0006684" stop-color="#500095"/><stop offset="0.07687" stop-color="#510098"/><stop offset="0.1277" stop-color="#5c01ba"/><stop offset="0.2092" stop-color="#7202f2"/><stop offset="0.252" stop-color="#7e04ff"/><stop offset="0.2908" stop-color="#8906f8"/><stop offset="0.3229" stop-color="#9209e1"/><stop offset="0.3483" stop-color="#9b0dbc"/><stop offset="0.4124" stop-color="#af1a30"/><stop offset="0.4325" stop-color="#b42000"/><stop offset="0.5541" stop-color="#d65900"/><stop offset="0.6531" stop-color="#e48300"/><stop offset="0.7119" stop-color="#e68a00"/><stop offset="0.7707" stop-color="#e17700"/><stop offset="0.8643" stop-color="#cc4200"/><stop offset="0.9405" stop-color="#b42001"/><stop offset="0.9646" stop-color="#af1b2e"/><stop offset="0.9953" stop-color="#ab1751"/><stop offset="0.9993" stop-color="#aa1754"/></linearGradient><linearGradient id="g54"><stop offset="0.0006684" stop-color="#510097"/><stop offset="0.07019" stop-color="#510096"/><stop offset="0.09693" stop-color="#54009f"/><stop offset="0.2079" stop-color="#7102f0"/><stop offset="0.2507" stop-color="#7d04fe"/><stop offset="0.2894" stop-color="#8806fa"/><stop offset="0.3215" stop-color="#9109e4"/><stop offset="0.3469" stop-color="#9a0cc1"/><stop offset="0.3951" stop-color="#a9165c"/><stop offset="0.4352" stop-color="#b52000"/><stop offset="0.5568" stop-color="#d65a00"/><stop offset="0.6544" stop-color="#e48300"/><stop offset="0.7119" stop-color="#e68a00"/><stop offset="0.7694" stop-color="#e17900"/><stop offset="0.8643" stop-color="#cc4200"/><stop offset="0.9418" stop-color="#b42002"/><stop offset="0.9659" stop-color="#af1b2e"/><stop offset="0.9967" stop-color="#ab1751"/><stop offset="0.9993" stop-color="#ab1753"/></linearGradient><linearGradient id="g55"><stop offset="0.0006684" stop-color="#510099"/><stop offset="0.06618" stop-color="#500095"/><stop offset="0.09826" stop-color="#53009d"/><stop offset="0.2092" stop-color="#7002ef"/><stop offset="0.252" stop-color="#7c03fe"/><stop offset="0.2908" stop-color="#8706fa"/><stop offset="0.3229" stop-color="#9109e5"/><stop offset="0.3483" stop-color="#990cc2"/><stop offset="0.3977" stop-color="#aa165b"/><stop offset="0.4365" stop-color="#b42000"/><stop offset="0.5568" stop-color="#d65a00"/><stop offset="0.6557" stop-color="#e48400"/><stop offset="0.7119" stop-color="#e68b00"/><stop offset="0.7694" stop-color="#e17900"/><stop offset="0.8656" stop-color="#cc4200"/><stop offset="0.9418" stop-color="#b42001"/><stop offset="0.9659" stop-color="#af1b2d"/><stop offset="0.9967" stop-color="#ab174f"/><stop offset="0.9993" stop-color="#ab1752"/></linearGradient><linearGradient id="g56"><stop offset="0.0006684" stop-color="#52009a"/><stop offset="0.06885" stop-color="#500095"/><stop offset="0.1023" stop-color="#53009c"/><stop offset="0.2106" stop-color="#7002ee"/><stop offset="0.2533" stop-color="#7c03fe"/><stop offset="0.2921" stop-color="#8706fa"/><stop offset="0.3229" stop-color="#9008e7"/><stop offset="0.3483" stop-color="#990cc5"/><stop offset="0.3924" stop-color="#a7146b"/><stop offset="0.4365" stop-color="#b41f04"/><stop offset="0.4405" stop-color="#b52100"/><stop offset="0.5582" stop-color="#d65a00"/><stop offset="0.6557" stop-color="#e48400"/><stop offset="0.7119" stop-color="#e78b00"/><stop offset="0.7694" stop-color="#e27a00"/><stop offset="0.8656" stop-color="#cc4200"/><stop offset="0.9418" stop-color="#b42000"/><stop offset="0.9672" stop-color="#af1b2e"/><stop offset="0.998" stop-color="#ab174f"/><stop offset="0.9993" stop-color="#ab1751"/></linearGradient><linearGradient id="g57"><stop offset="0.0006684" stop-color="#53009c"/><stop offset="0.07286" stop-color="#500094"/><stop offset="0.1063" stop-color="#52009c"/><stop offset="0.2132" stop-color="#7002ee"/><stop offset="0.256" stop-color="#7c03fe"/><stop offset="0.2948" stop-color="#8706fa"/><stop offset="0.3255" stop-color="#9008e6"/><stop offset="0.3509" stop-color="#990cc4"/><stop offset="0.3977" stop-color="#a81565"/><stop offset="0.4405" stop-color="#b52000"/><stop offset="0.5582" stop-color="#d65900"/><stop offset="0.6571" stop-color="#e48400"/><stop offset="0.7119" stop-color="#e78c00"/><stop offset="0.768" stop-color="#e27c00"/><stop offset="0.867" stop-color="#cc4200"/><stop offset="0.9432" stop-color="#b42001"/><stop offset="0.9672" stop-color="#af1b2c"/><stop offset="0.998" stop-color="#ab174e"/><stop offset="0.9993" stop-color="#ab174f"/></linearGradient><linearGradient id="g58"><stop offset="0.0006684" stop-color="#53009e"/><stop offset="0.07821" stop-color="#500094"/><stop offset="0.1116" stop-color="#53009c"/><stop offset="0.2146" stop-color="#6f02ed"/><stop offset="0.256" stop-color="#7b03fe"/><stop offset="0.2948" stop-color="#8605fb"/><stop offset="0.3255" stop-color="#9008e8"/><stop offset="0.3509" stop-color="#980cc7"/><stop offset="0.3937" stop-color="#a61473"/><stop offset="0.4378" stop-color="#b31f0a"/><stop offset="0.4418" stop-color="#b42000"/><stop offset="0.5595" stop-color="#d65900"/><stop offset="0.6571" stop-color="#e58400"/><stop offset="0.7119" stop-color="#e78c00"/><stop offset="0.768" stop-color="#e27c00"/><stop offset="0.8683" stop-color="#cc4200"/><stop offset="0.9432" stop-color="#b42000"/><stop offset="0.9672" stop-color="#af1b2b"/><stop offset="0.998" stop-color="#ab174d"/><stop offset="0.9993" stop-color="#ab174e"/></linearGradient><linearGradient id="g59"><stop offset="0.0006684" stop-color="#53009f"/><stop offset="0.08623" stop-color="#500093"/><stop offset="0.117" stop-color="#53009c"/><stop offset="0.2159" stop-color="#6f02ec"/><stop offset="0.2574" stop-color="#7b03fd"/><stop offset="0.2961" stop-color="#8605fc"/><stop offset="0.3269" stop-color="#8f08e9"/><stop offset="0.3536" stop-color="#990cc6"/><stop offset="0.3964" stop-color="#a61472"/><stop offset="0.4392" stop-color="#b31f0c"/><stop offset="0.4432" stop-color="#b42000"/><stop offset="0.5608" stop-color="#d65900"/><stop offset="0.6584" stop-color="#e58400"/><stop offset="0.7119" stop-color="#e78c00"/><stop offset="0.768" stop-color="#e27d00"/><stop offset="0.8697" stop-color="#cb4200"/><stop offset="0.9445" stop-color="#b42002"/><stop offset="0.9686" stop-color="#af1b2c"/><stop offset="0.9993" stop-color="#ab174d"/></linearGradient><linearGradient id="g60"><stop offset="0.0006684" stop-color="#5400a0"/><stop offset="0.09291" stop-color="#500093"/><stop offset="0.1223" stop-color="#53009d"/><stop offset="0.2172" stop-color="#6e02eb"/><stop offset="0.2587" stop-color="#7a03fd"/><stop offset="0.2975" stop-color="#8605fc"/><stop offset="0.3282" stop-color="#8f08ea"/><stop offset="0.3549" stop-color="#980cc8"/><stop offset="0.3951" stop-color="#a5137a"/><stop offset="0.4378" stop-color="#b21e14"/><stop offset="0.4459" stop-color="#b52000"/><stop offset="0.5635" stop-color="#d65a00"/><stop offset="0.6598" stop-color="#e58500"/><stop offset="0.7119" stop-color="#e78d00"/><stop offset="0.768" stop-color="#e37e00"/><stop offset="0.871" stop-color="#cb4100"/><stop offset="0.9445" stop-color="#b42000"/><stop offset="0.9686" stop-color="#af1b2b"/><stop offset="0.9993" stop-color="#ab184c"/></linearGradient><linearGradient id="g61"><stop offset="0.0006684" stop-color="#5400a1"/><stop offset="0.09693" stop-color="#4f0092"/><stop offset="0.1263" stop-color="#53009c"/><stop offset="0.2186" stop-color="#6e02ea"/><stop offset="0.26" stop-color="#7a03fd"/><stop offset="0.2988" stop-color="#8505fc"/><stop offset="0.3295" stop-color="#8f08eb"/><stop offset="0.3563" stop-color="#980bca"/><stop offset="0.3951" stop-color="#a51280"/><stop offset="0.4378" stop-color="#b11d1a"/><stop offset="0.4472" stop-color="#b42000"/><stop offset="0.5662" stop-color="#d75b00"/><stop offset="0.6598" stop-color="#e58500"/><stop offset="0.7106" stop-color="#e78d00"/><stop offset="0.7667" stop-color="#e37f00"/><stop offset="0.8737" stop-color="#cb4000"/><stop offset="0.9459" stop-color="#b42002"/><stop offset="0.9699" stop-color="#af1b2b"/><stop offset="0.9993" stop-color="#ac184b"/></linearGradient><linearGradient id="g62"><stop offset="0.0006684" stop-color="#5400a2"/><stop offset="0.09826" stop-color="#4f0091"/><stop offset="0.1277" stop-color="#52009a"/><stop offset="0.2213" stop-color="#6d02e9"/><stop offset="0.2627" stop-color="#7a03fd"/><stop offset="0.3001" stop-color="#8505fd"/><stop offset="0.3309" stop-color="#8e08ec"/><stop offset="0.3576" stop-color="#980bcb"/><stop offset="0.3937" stop-color="#a31288"/><stop offset="0.4365" stop-color="#b01c23"/><stop offset="0.4485" stop-color="#b42000"/><stop offset="0.5675" stop-color="#d75b00"/><stop offset="0.6611" stop-color="#e58500"/><stop offset="0.7106" stop-color="#e78e00"/><stop offset="0.7667" stop-color="#e38000"/><stop offset="0.875" stop-color="#cb4000"/><stop offset="0.9459" stop-color="#b42001"/><stop offset="0.9699" stop-color="#af1b2a"/><stop offset="0.9993" stop-color="#ac184a"/></linearGradient><linearGradient id="g63"><stop offset="0.0006684" stop-color="#5500a4"/><stop offset="0.05548" stop-color="#510098"/><stop offset="0.1143" stop-color="#4f0092"/><stop offset="0.1424" stop-color="#5400a2"/><stop offset="0.2213" stop-color="#6c02e7"/><stop offset="0.2627" stop-color="#7903fc"/><stop offset="0.3015" stop-color="#8405fd"/><stop offset="0.3322" stop-color="#8e08ed"/><stop offset="0.3603" stop-color="#980bcb"/><stop offset="0.3951" stop-color="#a3118b"/><stop offset="0.4378" stop-color="#b01c24"/><stop offset="0.4512" stop-color="#b52000"/><stop offset="0.5715" stop-color="#d75c00"/><stop offset="0.6624" stop-color="#e58600"/><stop offset="0.7106" stop-color="#e78e00"/><stop offset="0.7654" stop-color="#e48100"/><stop offset="0.8777" stop-color="#ca3f00"/><stop offset="0.9459" stop-color="#b42000"/><stop offset="0.9699" stop-color="#b01b29"/><stop offset="0.9993" stop-color="#ac1849"/></linearGradient><linearGradient id="g64"><stop offset="0.0006684" stop-color="#5500a5"/><stop offset="0.04345" stop-color="#520099"/><stop offset="0.1183" stop-color="#4f0091"/><stop offset="0.1464" stop-color="#5400a2"/><stop offset="0.2226" stop-color="#6c01e6"/><stop offset="0.2654" stop-color="#7903fc"/><stop offset="0.3041" stop-color="#8405fd"/><stop offset="0.3349" stop-color="#8e08ed"/><stop offset="0.363" stop-color="#980bcb"/><stop offset="0.3964" stop-color="#a3118e"/><stop offset="0.4378" stop-color="#b01b2a"/><stop offset="0.4525" stop-color="#b42000"/><stop offset="0.5729" stop-color="#d75d00"/><stop offset="0.6638" stop-color="#e58600"/><stop offset="0.7106" stop-color="#e78f00"/><stop offset="0.7654" stop-color="#e48200"/><stop offset="0.8803" stop-color="#ca3e00"/><stop offset="0.9472" stop-color="#b42002"/><stop offset="0.9726" stop-color="#af1b2c"/><stop offset="0.9993" stop-color="#ac1848"/></linearGradient><linearGradient id="g65"><stop offset="0.0006684" stop-color="#5600a7"/><stop offset="0.0381" stop-color="#52009a"/><stop offset="0.1223" stop-color="#4f0091"/><stop offset="0.1504" stop-color="#5400a1"/><stop offset="0.2239" stop-color="#6b01e4"/><stop offset="0.2667" stop-color="#7803fb"/><stop offset="0.3055" stop-color="#8405fe"/><stop offset="0.3362" stop-color="#8d07ee"/><stop offset="0.3643" stop-color="#970bcd"/><stop offset="0.3964" stop-color="#a21194"/><stop offset="0.4378" stop-color="#af1b2f"/><stop offset="0.4539" stop-color="#b42000"/><stop offset="0.5742" stop-color="#d75d00"/><stop offset="0.6638" stop-color="#e58600"/><stop offset="0.7106" stop-color="#e88f00"/><stop offset="0.7654" stop-color="#e48200"/><stop offset="0.883" stop-color="#c93d00"/><stop offset="0.9472" stop-color="#b42001"/><stop offset="0.9726" stop-color="#af1b2b"/><stop offset="0.9993" stop-color="#ac1847"/></linearGradient><linearGradient id="g66"><stop offset="0.0006684" stop-color="#5700aa"/><stop offset="0.03543" stop-color="#52009a"/><stop offset="0.1063" stop-color="#4f0091"/><stop offset="0.1317" stop-color="#4f0092"/><stop offset="0.1611" stop-color="#5600a7"/><stop offset="0.2279" stop-color="#6b01e5"/><stop offset="0.2707" stop-color="#7903fb"/><stop offset="0.3082" stop-color="#8405fe"/><stop offset="0.3389" stop-color="#8d07ee"/><stop offset="0.367" stop-color="#970bce"/><stop offset="0.3964" stop-color="#a11099"/><stop offset="0.4378" stop-color="#ae1a35"/><stop offset="0.4552" stop-color="#b42001"/><stop offset="0.5742" stop-color="#d75c00"/><stop offset="0.6651" stop-color="#e58700"/><stop offset="0.7106" stop-color="#e88f00"/><stop offset="0.7654" stop-color="#e48300"/><stop offset="0.8844" stop-color="#c93d00"/><stop offset="0.9472" stop-color="#b42000"/><stop offset="0.9739" stop-color="#af1b2c"/><stop offset="0.9993" stop-color="#ac1846"/></linearGradient><linearGradient id="g67"><stop offset="0.0006684" stop-color="#5800ac"/><stop offset="0.03543" stop-color="#52009a"/><stop offset="0.1076" stop-color="#4f0091"/><stop offset="0.1344" stop-color="#4f0090"/><stop offset="0.1638" stop-color="#5600a6"/><stop offset="0.2306" stop-color="#6b01e4"/><stop offset="0.2747" stop-color="#7903fc"/><stop offset="0.3122" stop-color="#8405fd"/><stop offset="0.3429" stop-color="#8e08ee"/><stop offset="0.371" stop-color="#970bcc"/><stop offset="0.3991" stop-color="#a11099"/><stop offset="0.4392" stop-color="#ae1a37"/><stop offset="0.4579" stop-color="#b52000"/><stop offset="0.5742" stop-color="#d75c00"/><stop offset="0.6651" stop-color="#e58700"/><stop offset="0.7092" stop-color="#e89000"/><stop offset="0.7654" stop-color="#e48400"/><stop offset="0.887" stop-color="#c83c00"/><stop offset="0.9472" stop-color="#b42000"/><stop offset="0.9766" stop-color="#af1b2e"/><stop offset="0.9993" stop-color="#ac1845"/></linearGradient><linearGradient id="g68"><stop offset="0.0006684" stop-color="#5800af"/><stop offset="0.03676" stop-color="#52009a"/><stop offset="0.1116" stop-color="#4f0091"/><stop offset="0.1384" stop-color="#4f0090"/><stop offset="0.1678" stop-color="#5600a6"/><stop offset="0.2333" stop-color="#6b01e3"/><stop offset="0.2774" stop-color="#7903fb"/><stop offset="0.3148" stop-color="#8405fe"/><stop offset="0.3456" stop-color="#8e08ee"/><stop offset="0.3737" stop-color="#970bcd"/><stop offset="0.4004" stop-color="#a0109c"/><stop offset="0.4392" stop-color="#ad193d"/><stop offset="0.4592" stop-color="#b42000"/><stop offset="0.5689" stop-color="#d65800"/><stop offset="0.6638" stop-color="#e58600"/><stop offset="0.7092" stop-color="#e89000"/><stop offset="0.7654" stop-color="#e58400"/><stop offset="0.891" stop-color="#c73a00"/><stop offset="0.9485" stop-color="#b42000"/><stop offset="0.9739" stop-color="#b01b2a"/><stop offset="0.9993" stop-color="#ac1844"/></linearGradient><linearGradient id="g69"><stop offset="0.0006684" stop-color="#5900b2"/><stop offset="0.0381" stop-color="#52009a"/><stop offset="0.1156" stop-color="#4f0091"/><stop offset="0.141" stop-color="#4e008e"/><stop offset="0.1691" stop-color="#5500a3"/><stop offset="0.236" stop-color="#6a01e2"/><stop offset="0.2801" stop-color="#7803fb"/><stop offset="0.3175" stop-color="#8405fe"/><stop offset="0.3483" stop-color="#8e07ee"/><stop offset="0.3763" stop-color="#970bcd"/><stop offset="0.4017" stop-color="#a00f9f"/><stop offset="0.4405" stop-color="#ad193f"/><stop offset="0.4606" stop-color="#b42001"/><stop offset="0.5662" stop-color="#d55600"/><stop offset="0.6638" stop-color="#e58600"/><stop offset="0.7079" stop-color="#e89000"/><stop offset="0.764" stop-color="#e58500"/><stop offset="0.9031" stop-color="#c43400"/><stop offset="0.9499" stop-color="#b42002"/><stop offset="0.9766" stop-color="#af1b2c"/><stop offset="0.9993" stop-color="#ad1843"/></linearGradient><linearGradient id="g70"><stop offset="0.0006684" stop-color="#5a01b5"/><stop offset="0.04078" stop-color="#52009a"/><stop offset="0.1197" stop-color="#4f0091"/><stop offset="0.1451" stop-color="#4e008e"/><stop offset="0.1731" stop-color="#5500a2"/><stop offset="0.24" stop-color="#6a01e3"/><stop offset="0.2841" stop-color="#7903fb"/><stop offset="0.3215" stop-color="#8405fd"/><stop offset="0.3523" stop-color="#8e08ed"/><stop offset="0.3803" stop-color="#970bcc"/><stop offset="0.4057" stop-color="#a0109c"/><stop offset="0.4418" stop-color="#ad1942"/><stop offset="0.4632" stop-color="#b52000"/><stop offset="0.5675" stop-color="#d55700"/><stop offset="0.6651" stop-color="#e58700"/><stop offset="0.7079" stop-color="#e89100"/><stop offset="0.764" stop-color="#e58600"/><stop offset="0.9044" stop-color="#c33300"/><stop offset="0.9499" stop-color="#b42001"/><stop offset="0.9766" stop-color="#af1b2b"/><stop offset="0.9993" stop-color="#ad1942"/></linearGradient><linearGradient id="g71"><stop offset="0.0006684" stop-color="#5c01b9"/><stop offset="0.04211" stop-color="#52009b"/><stop offset="0.09291" stop-color="#500095"/><stop offset="0.1491" stop-color="#4e008d"/><stop offset="0.1758" stop-color="#5400a1"/><stop offset="0.2426" stop-color="#6a01e2"/><stop offset="0.2868" stop-color="#7803fb"/><stop offset="0.3242" stop-color="#8405fe"/><stop offset="0.3549" stop-color="#8e08ee"/><stop offset="0.383" stop-color="#970bcd"/><stop offset="0.4084" stop-color="#a0109b"/><stop offset="0.4432" stop-color="#ac1844"/><stop offset="0.4646" stop-color="#b42000"/><stop offset="0.5662" stop-color="#d45500"/><stop offset="0.6651" stop-color="#e58700"/><stop offset="0.7079" stop-color="#e89100"/><stop offset="0.764" stop-color="#e58700"/><stop offset="0.9031" stop-color="#c43400"/><stop offset="0.9499" stop-color="#b42001"/><stop offset="0.9753" stop-color="#b01b29"/><stop offset="0.9993" stop-color="#ad1941"/></linearGradient><linearGradient id="g72"><stop offset="0.0006684" stop-color="#5d01bc"/><stop offset="0.04479" stop-color="#52009b"/><stop offset="0.09024" stop-color="#500094"/><stop offset="0.1303" stop-color="#4f008f"/><stop offset="0.1544" stop-color="#4e008d"/><stop offset="0.1825" stop-color="#5500a3"/><stop offset="0.2453" stop-color="#6a01e1"/><stop offset="0.2881" stop-color="#7803fa"/><stop offset="0.3255" stop-color="#8305fe"/><stop offset="0.3563" stop-color="#8d07ef"/><stop offset="0.3844" stop-color="#970bcf"/><stop offset="0.4098" stop-color="#a0109e"/><stop offset="0.4432" stop-color="#ac184a"/><stop offset="0.4659" stop-color="#b42000"/><stop offset="0.5662" stop-color="#d45500"/><stop offset="0.6664" stop-color="#e58700"/><stop offset="0.7079" stop-color="#e89100"/><stop offset="0.764" stop-color="#e68800"/><stop offset="0.9017" stop-color="#c53600"/><stop offset="0.9512" stop-color="#b42002"/><stop offset="0.9779" stop-color="#af1b2b"/><stop offset="0.9993" stop-color="#ad1940"/></linearGradient><linearGradient id="g73"><stop offset="0.0006684" stop-color="#5e01bf"/><stop offset="0.0488" stop-color="#52009b"/><stop offset="0.09425" stop-color="#500094"/><stop offset="0.1357" stop-color="#4e008f"/><stop offset="0.1598" stop-color="#4e008d"/><stop offset="0.1892" stop-color="#5600a6"/><stop offset="0.2493" stop-color="#6a01e1"/><stop offset="0.2921" stop-color="#7803fb"/><stop offset="0.3295" stop-color="#8305fe"/><stop offset="0.3603" stop-color="#8d07ef"/><stop offset="0.387" stop-color="#970bcf"/><stop offset="0.4124" stop-color="#a0109e"/><stop offset="0.4445" stop-color="#ab174c"/><stop offset="0.4686" stop-color="#b52000"/><stop offset="0.5702" stop-color="#d55700"/><stop offset="0.6691" stop-color="#e68800"/><stop offset="0.7092" stop-color="#e89200"/><stop offset="0.764" stop-color="#e68800"/><stop offset="0.9017" stop-color="#c53600"/><stop offset="0.9512" stop-color="#b42001"/><stop offset="0.9779" stop-color="#af1b2a"/><stop offset="0.9993" stop-color="#ad193f"/></linearGradient><linearGradient id="g74"><stop offset="0.0006684" stop-color="#5f01c3"/><stop offset="0.05281" stop-color="#52009b"/><stop offset="0.09693" stop-color="#500093"/><stop offset="0.1397" stop-color="#4e008e"/><stop offset="0.1638" stop-color="#4e008d"/><stop offset="0.1918" stop-color="#5500a4"/><stop offset="0.252" stop-color="#6901e0"/><stop offset="0.2948" stop-color="#7703fa"/><stop offset="0.3322" stop-color="#8305fe"/><stop offset="0.363" stop-color="#8d07ef"/><stop offset="0.3897" stop-color="#970bd0"/><stop offset="0.4151" stop-color="#a0109e"/><stop offset="0.4445" stop-color="#ab1753"/><stop offset="0.4699" stop-color="#b42000"/><stop offset="0.5729" stop-color="#d55800"/><stop offset="0.6718" stop-color="#e68a00"/><stop offset="0.7106" stop-color="#e89200"/><stop offset="0.7654" stop-color="#e68800"/><stop offset="0.9017" stop-color="#c53600"/><stop offset="0.9512" stop-color="#b42001"/><stop offset="0.9779" stop-color="#b01b29"/><stop offset="0.9993" stop-color="#ad193e"/></linearGradient><linearGradient id="g75"><stop offset="0.0006684" stop-color="#6001c6"/><stop offset="0.05682" stop-color="#52009b"/><stop offset="0.0996" stop-color="#500092"/><stop offset="0.1437" stop-color="#4e008e"/><stop offset="0.1678" stop-color="#4e008c"/><stop offset="0.1959" stop-color="#5500a4"/><stop offset="0.2547" stop-color="#6901df"/><stop offset="0.2961" stop-color="#7703f9"/><stop offset="0.3336" stop-color="#8205fe"/><stop offset="0.3643" stop-color="#8d07f0"/><stop offset="0.3897" stop-color="#950ad4"/><stop offset="0.4151" stop-color="#9f0fa3"/><stop offset="0.4445" stop-color="#aa1659"/><stop offset="0.4713" stop-color="#b42000"/><stop offset="0.5755" stop-color="#d65900"/><stop offset="0.6758" stop-color="#e78b00"/><stop offset="0.7146" stop-color="#e89200"/><stop offset="0.7667" stop-color="#e68900"/><stop offset="0.9017" stop-color="#c53700"/><stop offset="0.9512" stop-color="#b42000"/><stop offset="0.9779" stop-color="#b01b29"/><stop offset="0.9993" stop-color="#ad193d"/></linearGradient><linearGradient id="g76"><stop offset="0.0006684" stop-color="#6101c9"/><stop offset="0.06217" stop-color="#52009b"/><stop offset="0.1049" stop-color="#4f0092"/><stop offset="0.1504" stop-color="#4e008d"/><stop offset="0.1731" stop-color="#4e008c"/><stop offset="0.2025" stop-color="#5600a6"/><stop offset="0.2587" stop-color="#6901df"/><stop offset="0.3001" stop-color="#7703f9"/><stop offset="0.3376" stop-color="#8305fe"/><stop offset="0.3683" stop-color="#8d07f0"/><stop offset="0.3937" stop-color="#960bd2"/><stop offset="0.4205" stop-color="#a0109d"/><stop offset="0.4472" stop-color="#aa1657"/><stop offset="0.4726" stop-color="#b42001"/><stop offset="0.5836" stop-color="#d75d00"/><stop offset="0.6811" stop-color="#e78e00"/><stop offset="0.7199" stop-color="#e99300"/><stop offset="0.768" stop-color="#e68900"/><stop offset="0.9017" stop-color="#c53700"/><stop offset="0.9512" stop-color="#b42000"/><stop offset="0.9806" stop-color="#af1b2b"/><stop offset="0.9993" stop-color="#ad193c"/></linearGradient><linearGradient id="g77"><stop offset="0.0006684" stop-color="#6201cd"/><stop offset="0.06751" stop-color="#52009b"/><stop offset="0.1103" stop-color="#4f0091"/><stop offset="0.1571" stop-color="#4e008c"/><stop offset="0.1798" stop-color="#4e008d"/><stop offset="0.2159" stop-color="#5900b0"/><stop offset="0.2667" stop-color="#6a01e3"/><stop offset="0.3068" stop-color="#7803fb"/><stop offset="0.3429" stop-color="#8305fe"/><stop offset="0.3723" stop-color="#8d07ef"/><stop offset="0.3964" stop-color="#960bd2"/><stop offset="0.4231" stop-color="#a0109d"/><stop offset="0.4485" stop-color="#aa165a"/><stop offset="0.4753" stop-color="#b52000"/><stop offset="0.5836" stop-color="#d75c00"/><stop offset="0.6825" stop-color="#e78e00"/><stop offset="0.7226" stop-color="#e99300"/><stop offset="0.768" stop-color="#e68900"/><stop offset="0.9004" stop-color="#c63800"/><stop offset="0.9499" stop-color="#b52000"/><stop offset="0.9566" stop-color="#b31f08"/><stop offset="0.9846" stop-color="#af1b2e"/><stop offset="0.9993" stop-color="#ae193b"/></linearGradient><linearGradient id="g78"><stop offset="0.0006684" stop-color="#6301d0"/><stop offset="0.07286" stop-color="#52009b"/><stop offset="0.1143" stop-color="#4f0091"/><stop offset="0.1651" stop-color="#4d008b"/><stop offset="0.1865" stop-color="#4e008e"/><stop offset="0.232" stop-color="#5d01bd"/><stop offset="0.2814" stop-color="#6e02eb"/><stop offset="0.3202" stop-color="#7b03fd"/><stop offset="0.3536" stop-color="#8605fc"/><stop offset="0.3817" stop-color="#8f08e9"/><stop offset="0.4057" stop-color="#990cc7"/><stop offset="0.4352" stop-color="#a41286"/><stop offset="0.4566" stop-color="#ac1846"/><stop offset="0.4766" stop-color="#b42000"/><stop offset="0.5822" stop-color="#d75b00"/><stop offset="0.6838" stop-color="#e88f00"/><stop offset="0.7239" stop-color="#e99300"/><stop offset="0.7694" stop-color="#e68a00"/><stop offset="0.9004" stop-color="#c63800"/><stop offset="0.9499" stop-color="#b52100"/><stop offset="0.9552" stop-color="#b41f05"/><stop offset="0.9833" stop-color="#af1b2c"/><stop offset="0.9993" stop-color="#ae193a"/></linearGradient><linearGradient id="g79"><stop offset="0.0006684" stop-color="#6501d3"/><stop offset="0.08088" stop-color="#520099"/><stop offset="0.1237" stop-color="#4f0090"/><stop offset="0.1852" stop-color="#4d008b"/><stop offset="0.2132" stop-color="#5500a3"/><stop offset="0.2721" stop-color="#6a01e1"/><stop offset="0.3122" stop-color="#7703fa"/><stop offset="0.3469" stop-color="#8205fe"/><stop offset="0.3763" stop-color="#8c07f1"/><stop offset="0.4004" stop-color="#950ad4"/><stop offset="0.4271" stop-color="#a00f9f"/><stop offset="0.4499" stop-color="#a91563"/><stop offset="0.4779" stop-color="#b42000"/><stop offset="0.5822" stop-color="#d75b00"/><stop offset="0.6852" stop-color="#e88f00"/><stop offset="0.7266" stop-color="#e99400"/><stop offset="0.7694" stop-color="#e68a00"/><stop offset="0.8991" stop-color="#c73900"/><stop offset="0.9485" stop-color="#b52100"/><stop offset="0.9539" stop-color="#b42002"/><stop offset="0.982" stop-color="#b01b2a"/><stop offset="0.9993" stop-color="#ae1a39"/></linearGradient><linearGradient id="g80"><stop offset="0.0006684" stop-color="#6601d7"/><stop offset="0.08757" stop-color="#520099"/><stop offset="0.1317" stop-color="#4f008f"/><stop offset="0.1892" stop-color="#4d008b"/><stop offset="0.2172" stop-color="#5500a2"/><stop offset="0.2774" stop-color="#6a01e2"/><stop offset="0.3175" stop-color="#7703fa"/><stop offset="0.3523" stop-color="#8305fe"/><stop offset="0.3803" stop-color="#8d07f0"/><stop offset="0.4044" stop-color="#960bd2"/><stop offset="0.4311" stop-color="#a0109c"/><stop offset="0.4525" stop-color="#a91561"/><stop offset="0.4793" stop-color="#b42000"/><stop offset="0.5809" stop-color="#d65900"/><stop offset="0.6865" stop-color="#e89000"/><stop offset="0.7293" stop-color="#e99400"/><stop offset="0.7707" stop-color="#e68b00"/><stop offset="0.8991" stop-color="#c73a00"/><stop offset="0.9485" stop-color="#b52100"/><stop offset="0.9552" stop-color="#b41f04"/><stop offset="0.9833" stop-color="#af1b2b"/><stop offset="0.9993" stop-color="#ae1a38"/></linearGradient><linearGradient id="g81"><stop offset="0.0006684" stop-color="#6701da"/><stop offset="0.09425" stop-color="#510098"/><stop offset="0.1397" stop-color="#4e008f"/><stop offset="0.1945" stop-color="#4d008b"/><stop offset="0.2239" stop-color="#5500a5"/><stop offset="0.2814" stop-color="#6a01e2"/><stop offset="0.3229" stop-color="#7803fb"/><stop offset="0.3563" stop-color="#8305fe"/><stop offset="0.3844" stop-color="#8d07ef"/><stop offset="0.4084" stop-color="#970bd0"/><stop offset="0.4352" stop-color="#a11099"/><stop offset="0.4552" stop-color="#a9165f"/><stop offset="0.4806" stop-color="#b42001"/><stop offset="0.5809" stop-color="#d65900"/><stop offset="0.6878" stop-color="#e89100"/><stop offset="0.732" stop-color="#e99400"/><stop offset="0.7721" stop-color="#e68b00"/><stop offset="0.8991" stop-color="#c73a00"/><stop offset="0.9485" stop-color="#b62100"/><stop offset="0.9552" stop-color="#b42003"/><stop offset="0.9833" stop-color="#b01b2a"/><stop offset="0.9993" stop-color="#ae1a37"/></linearGradient><linearGradient id="g82"><stop offset="0.0006684" stop-color="#6801dd"/><stop offset="0.1009" stop-color="#510097"/><stop offset="0.1464" stop-color="#4e008e"/><stop offset="0.1985" stop-color="#4d008b"/><stop offset="0.2279" stop-color="#5500a5"/><stop offset="0.2841" stop-color="#6a01e1"/><stop offset="0.3255" stop-color="#7803fb"/><stop offset="0.359" stop-color="#8305fe"/><stop offset="0.387" stop-color="#8d07ef"/><stop offset="0.4111" stop-color="#970bcf"/><stop offset="0.4365" stop-color="#a0109b"/><stop offset="0.4552" stop-color="#a81565"/><stop offset="0.482" stop-color="#b42002"/><stop offset="0.5795" stop-color="#d55800"/><stop offset="0.6892" stop-color="#e89100"/><stop offset="0.736" stop-color="#e99500"/><stop offset="0.7734" stop-color="#e68b00"/><stop offset="0.8991" stop-color="#c83b00"/><stop offset="0.9485" stop-color="#b62100"/><stop offset="0.9552" stop-color="#b42002"/><stop offset="0.9833" stop-color="#b01b29"/><stop offset="0.9993" stop-color="#ae1a36"/></linearGradient><linearGradient id="g83"><stop offset="0.0006684" stop-color="#6901e0"/><stop offset="0.1063" stop-color="#510097"/><stop offset="0.1504" stop-color="#4e008e"/><stop offset="0.2025" stop-color="#4d008b"/><stop offset="0.2333" stop-color="#5600a6"/><stop offset="0.2881" stop-color="#6a01e2"/><stop offset="0.3295" stop-color="#7803fb"/><stop offset="0.363" stop-color="#8305fe"/><stop offset="0.3897" stop-color="#8d07ef"/><stop offset="0.4138" stop-color="#970bcf"/><stop offset="0.4378" stop-color="#a0109e"/><stop offset="0.4566" stop-color="#a81567"/><stop offset="0.4833" stop-color="#b42002"/><stop offset="0.5795" stop-color="#d55700"/><stop offset="0.6905" stop-color="#e89200"/><stop offset="0.7386" stop-color="#e99500"/><stop offset="0.7761" stop-color="#e68a00"/><stop offset="0.9004" stop-color="#c73a00"/><stop offset="0.9485" stop-color="#b62100"/><stop offset="0.9566" stop-color="#b41f04"/><stop offset="0.9846" stop-color="#b01b2a"/><stop offset="0.9993" stop-color="#ae1a35"/></linearGradient><linearGradient id="g84"><stop offset="0.0006684" stop-color="#6a01e3"/><stop offset="0.1116" stop-color="#510097"/><stop offset="0.1544" stop-color="#4e008e"/><stop offset="0.2066" stop-color="#4d008b"/><stop offset="0.2386" stop-color="#5600a7"/><stop offset="0.2908" stop-color="#6a01e1"/><stop offset="0.3322" stop-color="#7803fb"/><stop offset="0.3656" stop-color="#8305fe"/><stop offset="0.3924" stop-color="#8d07ef"/><stop offset="0.4178" stop-color="#970bcd"/><stop offset="0.4405" stop-color="#a0109e"/><stop offset="0.4592" stop-color="#a81564"/><stop offset="0.486" stop-color="#b52000"/><stop offset="0.5795" stop-color="#d55700"/><stop offset="0.6918" stop-color="#e99300"/><stop offset="0.7426" stop-color="#e99500"/><stop offset="0.7801" stop-color="#e68900"/><stop offset="0.9017" stop-color="#c73a00"/><stop offset="0.9499" stop-color="#b52100"/><stop offset="0.9566" stop-color="#b42003"/><stop offset="0.9846" stop-color="#b01b29"/><stop offset="0.9993" stop-color="#ae1a35"/></linearGradient><linearGradient id="g85"><stop offset="0.0006684" stop-color="#6c01e5"/><stop offset="0.09158" stop-color="#5600a6"/><stop offset="0.1317" stop-color="#4f0091"/><stop offset="0.2092" stop-color="#4d008b"/><stop offset="0.2386" stop-color="#5500a3"/><stop offset="0.2934" stop-color="#6901e0"/><stop offset="0.3349" stop-color="#7803fa"/><stop offset="0.367" stop-color="#8305fe"/><stop offset="0.3937" stop-color="#8d07f0"/><stop offset="0.4191" stop-color="#970bcf"/><stop offset="0.4418" stop-color="#a00fa0"/><stop offset="0.4592" stop-color="#a7146b"/><stop offset="0.4873" stop-color="#b52000"/><stop offset="0.5795" stop-color="#d55600"/><stop offset="0.6932" stop-color="#e99300"/><stop offset="0.7453" stop-color="#e99600"/><stop offset="0.7828" stop-color="#e68800"/><stop offset="0.9017" stop-color="#c73a00"/><stop offset="0.9499" stop-color="#b62100"/><stop offset="0.9566" stop-color="#b42002"/><stop offset="0.9833" stop-color="#b01b27"/><stop offset="0.9993" stop-color="#ae1a34"/></linearGradient><linearGradient id="g86"><stop offset="0.0006684" stop-color="#6d02e8"/><stop offset="0.08489" stop-color="#5800af"/><stop offset="0.1263" stop-color="#500094"/><stop offset="0.1718" stop-color="#4e008e"/><stop offset="0.2132" stop-color="#4d008b"/><stop offset="0.2453" stop-color="#5600a6"/><stop offset="0.2961" stop-color="#6901df"/><stop offset="0.3376" stop-color="#7703fa"/><stop offset="0.3697" stop-color="#8305fe"/><stop offset="0.3964" stop-color="#8d07f0"/><stop offset="0.4218" stop-color="#970bcf"/><stop offset="0.4432" stop-color="#9f0fa3"/><stop offset="0.4606" stop-color="#a7146c"/><stop offset="0.4886" stop-color="#b52000"/><stop offset="0.5795" stop-color="#d55600"/><stop offset="0.6945" stop-color="#e99400"/><stop offset="0.748" stop-color="#e99600"/><stop offset="0.7868" stop-color="#e58700"/><stop offset="0.9044" stop-color="#c63900"/><stop offset="0.9512" stop-color="#b52100"/><stop offset="0.9579" stop-color="#b41f04"/><stop offset="0.9846" stop-color="#b01b28"/><stop offset="0.9993" stop-color="#ae1a33"/></linearGradient><linearGradient id="g87"><stop offset="0.0006684" stop-color="#6e02ea"/><stop offset="0.08088" stop-color="#5b01b6"/><stop offset="0.1263" stop-color="#510096"/><stop offset="0.1678" stop-color="#4e008e"/><stop offset="0.2172" stop-color="#4d008b"/><stop offset="0.2507" stop-color="#5600a8"/><stop offset="0.2988" stop-color="#6901df"/><stop offset="0.3402" stop-color="#7703fa"/><stop offset="0.3723" stop-color="#8305fe"/><stop offset="0.3991" stop-color="#8d07f0"/><stop offset="0.4245" stop-color="#970bcf"/><stop offset="0.4445" stop-color="#9f0fa5"/><stop offset="0.4619" stop-color="#a7146e"/><stop offset="0.49" stop-color="#b52000"/><stop offset="0.5795" stop-color="#d45500"/><stop offset="0.6945" stop-color="#e99400"/><stop offset="0.7467" stop-color="#ea9700"/><stop offset="0.7841" stop-color="#e68900"/><stop offset="0.9017" stop-color="#c83b00"/><stop offset="0.9485" stop-color="#b62200"/><stop offset="0.9579" stop-color="#b42003"/><stop offset="0.9846" stop-color="#b01b27"/><stop offset="0.9993" stop-color="#af1a32"/></linearGradient><linearGradient id="g88"><stop offset="0.0006684" stop-color="#6f02ec"/><stop offset="0.07553" stop-color="#5d01be"/><stop offset="0.1263" stop-color="#510098"/><stop offset="0.1651" stop-color="#4e008e"/><stop offset="0.2199" stop-color="#4d008b"/><stop offset="0.252" stop-color="#5600a6"/><stop offset="0.3028" stop-color="#6901df"/><stop offset="0.3429" stop-color="#7703fa"/><stop offset="0.375" stop-color="#8305fe"/><stop offset="0.4017" stop-color="#8d07f0"/><stop offset="0.4271" stop-color="#970bcf"/><stop offset="0.4459" stop-color="#9e0fa7"/><stop offset="0.4632" stop-color="#a7146f"/><stop offset="0.4913" stop-color="#b52000"/><stop offset="0.5782" stop-color="#d45400"/><stop offset="0.6959" stop-color="#e99500"/><stop offset="0.748" stop-color="#ea9800"/><stop offset="0.7868" stop-color="#e68800"/><stop offset="0.9017" stop-color="#c83b00"/><stop offset="0.9485" stop-color="#b62200"/><stop offset="0.9579" stop-color="#b42002"/><stop offset="0.9846" stop-color="#b01c26"/><stop offset="0.9993" stop-color="#af1a31"/></linearGradient><linearGradient id="g89"><stop offset="0.0006684" stop-color="#7002ee"/><stop offset="0.07152" stop-color="#5f01c5"/><stop offset="0.1303" stop-color="#510099"/><stop offset="0.1691" stop-color="#4e008f"/><stop offset="0.2239" stop-color="#4d008b"/><stop offset="0.2587" stop-color="#5700aa"/><stop offset="0.3055" stop-color="#6901df"/><stop offset="0.3456" stop-color="#7703fa"/><stop offset="0.3777" stop-color="#8305fe"/><stop offset="0.4044" stop-color="#8d07f0"/><stop offset="0.4285" stop-color="#960bd1"/><stop offset="0.4472" stop-color="#9e0ea9"/><stop offset="0.4646" stop-color="#a71470"/><stop offset="0.4913" stop-color="#b42003"/><stop offset="0.5194" stop-color="#c02f00"/><stop offset="0.6143" stop-color="#dc6800"/><stop offset="0.6972" stop-color="#e99600"/><stop offset="0.7493" stop-color="#ea9800"/><stop offset="0.7881" stop-color="#e68900"/><stop offset="0.9031" stop-color="#c73a00"/><stop offset="0.9499" stop-color="#b62200"/><stop offset="0.9579" stop-color="#b42001"/><stop offset="0.9846" stop-color="#b01c26"/><stop offset="0.9993" stop-color="#af1a31"/></linearGradient><linearGradient id="g90"><stop offset="0.0006684" stop-color="#7102f0"/><stop offset="0.06751" stop-color="#6201cb"/><stop offset="0.133" stop-color="#520099"/><stop offset="0.1705" stop-color="#4e008f"/><stop offset="0.2266" stop-color="#4d008b"/><stop offset="0.26" stop-color="#5600a7"/><stop offset="0.3082" stop-color="#6901df"/><stop offset="0.3483" stop-color="#7703fa"/><stop offset="0.3803" stop-color="#8305fe"/><stop offset="0.4071" stop-color="#8d07f0"/><stop offset="0.4311" stop-color="#960bd1"/><stop offset="0.4485" stop-color="#9e0eab"/><stop offset="0.4659" stop-color="#a71471"/><stop offset="0.4926" stop-color="#b42002"/><stop offset="0.5769" stop-color="#d35200"/><stop offset="0.6959" stop-color="#e99500"/><stop offset="0.7467" stop-color="#ea9900"/><stop offset="0.7854" stop-color="#e78b00"/><stop offset="0.9004" stop-color="#c93d00"/><stop offset="0.9485" stop-color="#b62200"/><stop offset="0.9592" stop-color="#b42003"/><stop offset="0.986" stop-color="#b01c26"/><stop offset="0.9993" stop-color="#af1a30"/></linearGradient><linearGradient id="g91"><stop offset="0.0006684" stop-color="#7202f2"/><stop offset="0.06618" stop-color="#6301d0"/><stop offset="0.137" stop-color="#520099"/><stop offset="0.1745" stop-color="#4f008f"/><stop offset="0.2306" stop-color="#4d008b"/><stop offset="0.2667" stop-color="#5700ab"/><stop offset="0.3122" stop-color="#6901df"/><stop offset="0.3509" stop-color="#7703fa"/><stop offset="0.3817" stop-color="#8205fe"/><stop offset="0.4084" stop-color="#8c07f1"/><stop offset="0.4325" stop-color="#960ad3"/><stop offset="0.4485" stop-color="#9d0eb1"/><stop offset="0.4659" stop-color="#a61377"/><stop offset="0.494" stop-color="#b42002"/><stop offset="0.5782" stop-color="#d35200"/><stop offset="0.6972" stop-color="#e99600"/><stop offset="0.748" stop-color="#ea9a00"/><stop offset="0.7868" stop-color="#e78b00"/><stop offset="0.9004" stop-color="#c93d00"/><stop offset="0.9485" stop-color="#b72200"/><stop offset="0.9592" stop-color="#b42002"/><stop offset="0.986" stop-color="#b01c25"/><stop offset="0.9993" stop-color="#af1b2f"/></linearGradient><linearGradient id="g92"><stop offset="0.0006684" stop-color="#7302f4"/><stop offset="0.0635" stop-color="#6501d5"/><stop offset="0.141" stop-color="#520099"/><stop offset="0.1785" stop-color="#4f0090"/><stop offset="0.2333" stop-color="#4d008b"/><stop offset="0.2667" stop-color="#5600a8"/><stop offset="0.3162" stop-color="#6901e0"/><stop offset="0.3549" stop-color="#7803fb"/><stop offset="0.3857" stop-color="#8305fe"/><stop offset="0.4124" stop-color="#8d07f0"/><stop offset="0.4352" stop-color="#960ad3"/><stop offset="0.4512" stop-color="#9d0eae"/><stop offset="0.4686" stop-color="#a61472"/><stop offset="0.4953" stop-color="#b42001"/><stop offset="0.5782" stop-color="#d35200"/><stop offset="0.6972" stop-color="#ea9600"/><stop offset="0.7467" stop-color="#eb9b00"/><stop offset="0.7854" stop-color="#e78d00"/><stop offset="0.8991" stop-color="#ca3e00"/><stop offset="0.9472" stop-color="#b72300"/><stop offset="0.9592" stop-color="#b42001"/><stop offset="0.9846" stop-color="#b01c24"/><stop offset="0.9993" stop-color="#af1b2e"/></linearGradient><linearGradient id="g93"><stop offset="0.0006684" stop-color="#7402f5"/><stop offset="0.0635" stop-color="#6601d8"/><stop offset="0.1451" stop-color="#520099"/><stop offset="0.1825" stop-color="#4f0090"/><stop offset="0.236" stop-color="#4d008b"/><stop offset="0.268" stop-color="#5600a6"/><stop offset="0.3202" stop-color="#6a01e1"/><stop offset="0.3576" stop-color="#7803fb"/><stop offset="0.3884" stop-color="#8305fe"/><stop offset="0.4164" stop-color="#8d07ef"/><stop offset="0.4378" stop-color="#960bd2"/><stop offset="0.4539" stop-color="#9e0eac"/><stop offset="0.4726" stop-color="#a81568"/><stop offset="0.4967" stop-color="#b42001"/><stop offset="0.5782" stop-color="#d35100"/><stop offset="0.6972" stop-color="#ea9700"/><stop offset="0.7453" stop-color="#eb9c00"/><stop offset="0.7841" stop-color="#e78f00"/><stop offset="0.8977" stop-color="#ca4000"/><stop offset="0.9472" stop-color="#b72300"/><stop offset="0.9606" stop-color="#b42003"/><stop offset="0.986" stop-color="#b01c24"/><stop offset="0.9993" stop-color="#af1b2e"/></linearGradient><linearGradient id="g94"><stop offset="0.0006684" stop-color="#7402f6"/><stop offset="0.06217" stop-color="#6801dc"/><stop offset="0.1504" stop-color="#510099"/><stop offset="0.1918" stop-color="#4f0090"/><stop offset="0.24" stop-color="#4d008b"/><stop offset="0.2734" stop-color="#5600a8"/><stop offset="0.3229" stop-color="#6a01e1"/><stop offset="0.3603" stop-color="#7803fb"/><stop offset="0.391" stop-color="#8305fe"/><stop offset="0.4191" stop-color="#8d07ef"/><stop offset="0.4392" stop-color="#960ad4"/><stop offset="0.4539" stop-color="#9d0eb1"/><stop offset="0.4713" stop-color="#a61473"/><stop offset="0.498" stop-color="#b42000"/><stop offset="0.5795" stop-color="#d35100"/><stop offset="0.6985" stop-color="#ea9700"/><stop offset="0.7467" stop-color="#eb9c00"/><stop offset="0.7854" stop-color="#e88f00"/><stop offset="0.8977" stop-color="#cb4000"/><stop offset="0.9472" stop-color="#b72300"/><stop offset="0.9606" stop-color="#b42002"/><stop offset="0.986" stop-color="#b01c23"/><stop offset="0.9993" stop-color="#af1b2d"/></linearGradient><linearGradient id="g95"><stop offset="0.0006684" stop-color="#7502f8"/><stop offset="0.06217" stop-color="#6901e0"/><stop offset="0.1544" stop-color="#510099"/><stop offset="0.1985" stop-color="#4f0091"/><stop offset="0.2426" stop-color="#4d008b"/><stop offset="0.2747" stop-color="#5600a6"/><stop offset="0.3282" stop-color="#6b01e3"/><stop offset="0.3643" stop-color="#7803fb"/><stop offset="0.3951" stop-color="#8405fe"/><stop offset="0.4218" stop-color="#8d07ef"/><stop offset="0.4418" stop-color="#960ad3"/><stop offset="0.4566" stop-color="#9d0eae"/><stop offset="0.4753" stop-color="#a81569"/><stop offset="0.4993" stop-color="#b42000"/><stop offset="0.5795" stop-color="#d35100"/><stop offset="0.6985" stop-color="#ea9800"/><stop offset="0.7467" stop-color="#eb9d00"/><stop offset="0.7854" stop-color="#e89000"/><stop offset="0.8977" stop-color="#cb4000"/><stop offset="0.9472" stop-color="#b82300"/><stop offset="0.9619" stop-color="#b42003"/><stop offset="0.9873" stop-color="#b01c24"/><stop offset="0.9993" stop-color="#af1b2c"/></linearGradient><linearGradient id="g96"><stop offset="0.0006684" stop-color="#7603f9"/><stop offset="0.06217" stop-color="#6a01e2"/><stop offset="0.1571" stop-color="#520099"/><stop offset="0.1999" stop-color="#4f0091"/><stop offset="0.2453" stop-color="#4d008b"/><stop offset="0.2747" stop-color="#5500a3"/><stop offset="0.3322" stop-color="#6b01e4"/><stop offset="0.3683" stop-color="#7903fc"/><stop offset="0.3991" stop-color="#8405fd"/><stop offset="0.4258" stop-color="#8e08ed"/><stop offset="0.4445" stop-color="#960bd2"/><stop offset="0.4592" stop-color="#9e0eaa"/><stop offset="0.4793" stop-color="#a9165e"/><stop offset="0.5007" stop-color="#b52000"/><stop offset="0.5809" stop-color="#d35100"/><stop offset="0.6985" stop-color="#ea9800"/><stop offset="0.7453" stop-color="#ec9e00"/><stop offset="0.7841" stop-color="#e89200"/><stop offset="0.8951" stop-color="#cc4300"/><stop offset="0.9459" stop-color="#b82400"/><stop offset="0.9619" stop-color="#b42002"/><stop offset="0.9873" stop-color="#b01c23"/><stop offset="0.9993" stop-color="#af1b2c"/></linearGradient><linearGradient id="g97"><stop offset="0.0006684" stop-color="#7703fa"/><stop offset="0.06083" stop-color="#6c01e6"/><stop offset="0.1103" stop-color="#5e01bf"/><stop offset="0.1624" stop-color="#510098"/><stop offset="0.248" stop-color="#4d008a"/><stop offset="0.2761" stop-color="#5400a1"/><stop offset="0.3362" stop-color="#6c01e6"/><stop offset="0.371" stop-color="#7903fc"/><stop offset="0.4017" stop-color="#8405fd"/><stop offset="0.4285" stop-color="#8e08ed"/><stop offset="0.4459" stop-color="#960ad3"/><stop offset="0.4606" stop-color="#9e0eab"/><stop offset="0.482" stop-color="#aa1658"/><stop offset="0.5007" stop-color="#b41f03"/><stop offset="0.506" stop-color="#b72200"/><stop offset="0.5862" stop-color="#d45400"/><stop offset="0.6999" stop-color="#ea9900"/><stop offset="0.7467" stop-color="#ec9f00"/><stop offset="0.7854" stop-color="#e89200"/><stop offset="0.8964" stop-color="#cc4200"/><stop offset="0.9472" stop-color="#b82400"/><stop offset="0.9619" stop-color="#b42001"/><stop offset="0.986" stop-color="#b11c21"/><stop offset="0.9993" stop-color="#af1b2b"/></linearGradient><linearGradient id="g98"><stop offset="0.0006684" stop-color="#7803fb"/><stop offset="0.06217" stop-color="#6d02e8"/><stop offset="0.1103" stop-color="#5f01c3"/><stop offset="0.1651" stop-color="#520099"/><stop offset="0.2507" stop-color="#4d008a"/><stop offset="0.2774" stop-color="#5400a0"/><stop offset="0.3402" stop-color="#6c01e7"/><stop offset="0.3737" stop-color="#7903fc"/><stop offset="0.4057" stop-color="#8505fd"/><stop offset="0.4311" stop-color="#8e08ed"/><stop offset="0.4472" stop-color="#950ad4"/><stop offset="0.4619" stop-color="#9e0eab"/><stop offset="0.4833" stop-color="#aa1658"/><stop offset="0.502" stop-color="#b42002"/><stop offset="0.5809" stop-color="#d25000"/><stop offset="0.6999" stop-color="#ea9900"/><stop offset="0.7453" stop-color="#eca000"/><stop offset="0.7841" stop-color="#e99400"/><stop offset="0.8951" stop-color="#cc4400"/><stop offset="0.9459" stop-color="#b82400"/><stop offset="0.9632" stop-color="#b42002"/><stop offset="0.9873" stop-color="#b01c22"/><stop offset="0.9993" stop-color="#af1b2a"/></linearGradient><linearGradient id="g99"><stop offset="0.0006684" stop-color="#7903fc"/><stop offset="0.06217" stop-color="#6e02ea"/><stop offset="0.1063" stop-color="#6101ca"/><stop offset="0.1664" stop-color="#52009a"/><stop offset="0.2533" stop-color="#4d008a"/><stop offset="0.2787" stop-color="#53009e"/><stop offset="0.3429" stop-color="#6c01e7"/><stop offset="0.3763" stop-color="#7a03fc"/><stop offset="0.4084" stop-color="#8505fd"/><stop offset="0.4338" stop-color="#8e08ec"/><stop offset="0.4499" stop-color="#960bd2"/><stop offset="0.4646" stop-color="#9e0fa7"/><stop offset="0.486" stop-color="#ab1752"/><stop offset="0.5033" stop-color="#b42001"/><stop offset="0.5809" stop-color="#d25000"/><stop offset="0.7012" stop-color="#ea9a00"/><stop offset="0.7467" stop-color="#eca100"/><stop offset="0.7868" stop-color="#e99300"/><stop offset="0.8977" stop-color="#cc4200"/><stop offset="0.9472" stop-color="#b82400"/><stop offset="0.9632" stop-color="#b42001"/><stop offset="0.9873" stop-color="#b11c21"/><stop offset="0.9993" stop-color="#b01b2a"/></linearGradient><linearGradient id="g100"><stop offset="0.0006684" stop-color="#7a03fc"/><stop offset="0.06217" stop-color="#6f02ed"/><stop offset="0.1049" stop-color="#6301ce"/><stop offset="0.1678" stop-color="#52009b"/><stop offset="0.2146" stop-color="#500092"/><stop offset="0.256" stop-color="#4d008a"/><stop offset="0.2814" stop-color="#53009d"/><stop offset="0.3469" stop-color="#6d02e8"/><stop offset="0.379" stop-color="#7a03fd"/><stop offset="0.4111" stop-color="#8505fd"/><stop offset="0.4352" stop-color="#8e08ed"/><stop offset="0.4499" stop-color="#950ad6"/><stop offset="0.4646" stop-color="#9e0eac"/><stop offset="0.486" stop-color="#aa1658"/><stop offset="0.5047" stop-color="#b42000"/><stop offset="0.5822" stop-color="#d25000"/><stop offset="0.7012" stop-color="#eb9a00"/><stop offset="0.7453" stop-color="#eca200"/><stop offset="0.7841" stop-color="#e99600"/><stop offset="0.8951" stop-color="#cd4400"/><stop offset="0.9459" stop-color="#b92500"/><stop offset="0.9646" stop-color="#b42003"/><stop offset="0.9886" stop-color="#b11c21"/><stop offset="0.9993" stop-color="#b01b29"/></linearGradient><linearGradient id="g101"><stop offset="0.0006684" stop-color="#7a03fd"/><stop offset="0.06217" stop-color="#7002ef"/><stop offset="0.1036" stop-color="#6401d3"/><stop offset="0.1705" stop-color="#52009c"/><stop offset="0.2199" stop-color="#500092"/><stop offset="0.2587" stop-color="#4d008a"/><stop offset="0.2828" stop-color="#52009b"/><stop offset="0.3496" stop-color="#6d02e9"/><stop offset="0.3817" stop-color="#7a03fd"/><stop offset="0.4138" stop-color="#8505fd"/><stop offset="0.4378" stop-color="#8e08ec"/><stop offset="0.4525" stop-color="#960ad3"/><stop offset="0.4672" stop-color="#9e0fa7"/><stop offset="0.4873" stop-color="#aa1657"/><stop offset="0.506" stop-color="#b42000"/><stop offset="0.5836" stop-color="#d25100"/><stop offset="0.7025" stop-color="#eb9b00"/><stop offset="0.7467" stop-color="#eda200"/><stop offset="0.7854" stop-color="#e99600"/><stop offset="0.8964" stop-color="#cd4400"/><stop offset="0.9472" stop-color="#b82500"/><stop offset="0.9646" stop-color="#b42001"/><stop offset="0.9886" stop-color="#b11c21"/><stop offset="0.9993" stop-color="#b01b28"/></linearGradient><linearGradient id="g102"><stop offset="0.0006684" stop-color="#7b03fe"/><stop offset="0.06217" stop-color="#7102f1"/><stop offset="0.1036" stop-color="#6501d6"/><stop offset="0.1731" stop-color="#53009c"/><stop offset="0.2614" stop-color="#4d008a"/><stop offset="0.2854" stop-color="#52009b"/><stop offset="0.3523" stop-color="#6d02e9"/><stop offset="0.383" stop-color="#7a03fc"/><stop offset="0.4151" stop-color="#8505fd"/><stop offset="0.4378" stop-color="#8d07ef"/><stop offset="0.4525" stop-color="#950ad7"/><stop offset="0.4672" stop-color="#9e0eac"/><stop offset="0.4873" stop-color="#a9165d"/><stop offset="0.5074" stop-color="#b52000"/><stop offset="0.5836" stop-color="#d25000"/><stop offset="0.7025" stop-color="#eb9c00"/><stop offset="0.7467" stop-color="#eda300"/><stop offset="0.7854" stop-color="#ea9700"/><stop offset="0.8964" stop-color="#cd4400"/><stop offset="0.9472" stop-color="#b92500"/><stop offset="0.9659" stop-color="#b42003"/><stop offset="0.99" stop-color="#b11c21"/><stop offset="0.9993" stop-color="#b01b27"/></linearGradient><linearGradient id="g103"><stop offset="0.0006684" stop-color="#7c03fe"/><stop offset="0.0635" stop-color="#7202f2"/><stop offset="0.1049" stop-color="#6601d8"/><stop offset="0.1745" stop-color="#53009d"/><stop offset="0.2213" stop-color="#500093"/><stop offset="0.2654" stop-color="#4d008a"/><stop offset="0.2894" stop-color="#53009c"/><stop offset="0.3549" stop-color="#6d02e9"/><stop offset="0.3857" stop-color="#7a03fd"/><stop offset="0.4178" stop-color="#8505fd"/><stop offset="0.4405" stop-color="#8e08ee"/><stop offset="0.4552" stop-color="#960ad4"/><stop offset="0.4713" stop-color="#9f0fa2"/><stop offset="0.4913" stop-color="#ab1750"/><stop offset="0.5074" stop-color="#b42003"/><stop offset="0.5234" stop-color="#bc2900"/><stop offset="0.6036" stop-color="#d75c00"/><stop offset="0.7025" stop-color="#eb9c00"/><stop offset="0.7467" stop-color="#eda400"/><stop offset="0.7854" stop-color="#ea9800"/><stop offset="0.8964" stop-color="#cd4500"/><stop offset="0.9472" stop-color="#b92500"/><stop offset="0.9659" stop-color="#b42001"/><stop offset="0.9886" stop-color="#b11c1f"/><stop offset="0.9993" stop-color="#b01b27"/></linearGradient><linearGradient id="g104"><stop offset="0.0006684" stop-color="#7d04fe"/><stop offset="0.0635" stop-color="#7302f4"/><stop offset="0.1049" stop-color="#6701db"/><stop offset="0.1771" stop-color="#53009e"/><stop offset="0.2279" stop-color="#500092"/><stop offset="0.2667" stop-color="#4d008a"/><stop offset="0.2894" stop-color="#520099"/><stop offset="0.3576" stop-color="#6e02ea"/><stop offset="0.3884" stop-color="#7a03fd"/><stop offset="0.4205" stop-color="#8505fd"/><stop offset="0.4418" stop-color="#8e07ee"/><stop offset="0.4566" stop-color="#960ad4"/><stop offset="0.4726" stop-color="#9f0fa2"/><stop offset="0.4913" stop-color="#aa1755"/><stop offset="0.5087" stop-color="#b42001"/><stop offset="0.5836" stop-color="#d25000"/><stop offset="0.7039" stop-color="#eb9d00"/><stop offset="0.7467" stop-color="#eda500"/><stop offset="0.7854" stop-color="#ea9900"/><stop offset="0.8964" stop-color="#cd4500"/><stop offset="0.9472" stop-color="#b92500"/><stop offset="0.9672" stop-color="#b42002"/><stop offset="0.99" stop-color="#b11c1f"/><stop offset="0.9993" stop-color="#b01c26"/></linearGradient><linearGradient id="g105"><stop offset="0.0006684" stop-color="#7e04ff"/><stop offset="0.06484" stop-color="#7402f5"/><stop offset="0.1063" stop-color="#6801dd"/><stop offset="0.1785" stop-color="#54009f"/><stop offset="0.2253" stop-color="#500093"/><stop offset="0.2694" stop-color="#4d008a"/><stop offset="0.2921" stop-color="#510098"/><stop offset="0.3603" stop-color="#6e02ea"/><stop offset="0.3897" stop-color="#7a03fc"/><stop offset="0.4218" stop-color="#8505fd"/><stop offset="0.4432" stop-color="#8e07ee"/><stop offset="0.4579" stop-color="#960ad4"/><stop offset="0.4739" stop-color="#9f0fa2"/><stop offset="0.4926" stop-color="#aa1754"/><stop offset="0.51" stop-color="#b42000"/><stop offset="0.5849" stop-color="#d25000"/><stop offset="0.7052" stop-color="#eb9e00"/><stop offset="0.748" stop-color="#eda600"/><stop offset="0.7868" stop-color="#ea9900"/><stop offset="0.8977" stop-color="#cd4400"/><stop offset="0.9472" stop-color="#b92500"/><stop offset="0.9672" stop-color="#b42001"/><stop offset="0.99" stop-color="#b11c1e"/><stop offset="0.9993" stop-color="#b01c25"/></linearGradient><linearGradient id="g106"><stop offset="0.0006684" stop-color="#7f04ff"/><stop offset="0.06484" stop-color="#7502f7"/><stop offset="0.1063" stop-color="#6901df"/><stop offset="0.1811" stop-color="#5400a0"/><stop offset="0.2306" stop-color="#500092"/><stop offset="0.2721" stop-color="#4d008a"/><stop offset="0.2948" stop-color="#510098"/><stop offset="0.363" stop-color="#6e02eb"/><stop offset="0.3924" stop-color="#7a03fd"/><stop offset="0.4245" stop-color="#8505fd"/><stop offset="0.4445" stop-color="#8d07ee"/><stop offset="0.4592" stop-color="#960ad3"/><stop offset="0.4753" stop-color="#9f0fa1"/><stop offset="0.494" stop-color="#ab1753"/><stop offset="0.5114" stop-color="#b52000"/><stop offset="0.5862" stop-color="#d25100"/><stop offset="0.7052" stop-color="#eb9e00"/><stop offset="0.748" stop-color="#eda600"/><stop offset="0.7854" stop-color="#eb9b00"/><stop offset="0.8456" stop-color="#dd6d00"/><stop offset="0.9378" stop-color="#bd2a00"/><stop offset="0.9686" stop-color="#b42002"/><stop offset="0.9913" stop-color="#b11c1e"/><stop offset="0.9993" stop-color="#b01c24"/></linearGradient><linearGradient id="g107"><stop offset="0.0006684" stop-color="#7f04ff"/><stop offset="0.06618" stop-color="#7502f8"/><stop offset="0.109" stop-color="#6901e0"/><stop offset="0.1825" stop-color="#5400a1"/><stop offset="0.2293" stop-color="#500093"/><stop offset="0.2747" stop-color="#4d008a"/><stop offset="0.2975" stop-color="#510098"/><stop offset="0.3643" stop-color="#6e02ea"/><stop offset="0.3937" stop-color="#7a03fc"/><stop offset="0.4258" stop-color="#8505fd"/><stop offset="0.4459" stop-color="#8d07ee"/><stop offset="0.4606" stop-color="#960ad3"/><stop offset="0.4766" stop-color="#a00fa1"/><stop offset="0.494" stop-color="#aa1658"/><stop offset="0.5114" stop-color="#b42003"/><stop offset="0.5194" stop-color="#b82400"/><stop offset="0.5943" stop-color="#d45500"/><stop offset="0.7066" stop-color="#ec9f00"/><stop offset="0.7493" stop-color="#eea700"/><stop offset="0.7868" stop-color="#eb9b00"/><stop offset="0.8523" stop-color="#dc6800"/><stop offset="0.9392" stop-color="#bc2900"/><stop offset="0.9686" stop-color="#b42001"/><stop offset="0.9913" stop-color="#b11c1d"/><stop offset="0.9993" stop-color="#b01c23"/></linearGradient><linearGradient id="g108"><stop offset="0.0006684" stop-color="#8004ff"/><stop offset="0.06751" stop-color="#7603f9"/><stop offset="0.1103" stop-color="#6a01e2"/><stop offset="0.1852" stop-color="#5400a2"/><stop offset="0.2333" stop-color="#4f0092"/><stop offset="0.2774" stop-color="#4d008a"/><stop offset="0.2988" stop-color="#510096"/><stop offset="0.367" stop-color="#6e02eb"/><stop offset="0.3964" stop-color="#7a03fd"/><stop offset="0.4285" stop-color="#8505fc"/><stop offset="0.4472" stop-color="#8d07ee"/><stop offset="0.4619" stop-color="#960bd2"/><stop offset="0.4779" stop-color="#a00fa0"/><stop offset="0.4953" stop-color="#aa1657"/><stop offset="0.5127" stop-color="#b42001"/><stop offset="0.5862" stop-color="#d25000"/><stop offset="0.7066" stop-color="#ec9f00"/><stop offset="0.7493" stop-color="#eea800"/><stop offset="0.7868" stop-color="#eb9c00"/><stop offset="0.8429" stop-color="#de7000"/><stop offset="0.9378" stop-color="#bd2a00"/><stop offset="0.9699" stop-color="#b42002"/><stop offset="0.9926" stop-color="#b11c1d"/><stop offset="0.9993" stop-color="#b01c22"/></linearGradient><linearGradient id="g109"><stop offset="0.0006684" stop-color="#8104ff"/><stop offset="0.06885" stop-color="#7703fa"/><stop offset="0.113" stop-color="#6b01e3"/><stop offset="0.1865" stop-color="#5500a3"/><stop offset="0.2333" stop-color="#500092"/><stop offset="0.2801" stop-color="#4d008a"/><stop offset="0.3015" stop-color="#510096"/><stop offset="0.3683" stop-color="#6e02ea"/><stop offset="0.3977" stop-color="#7a03fc"/><stop offset="0.4285" stop-color="#8405fd"/><stop offset="0.4472" stop-color="#8d07f0"/><stop offset="0.4619" stop-color="#950ad5"/><stop offset="0.4779" stop-color="#9f0fa4"/><stop offset="0.4953" stop-color="#a9165c"/><stop offset="0.514" stop-color="#b42000"/><stop offset="0.5876" stop-color="#d25100"/><stop offset="0.7079" stop-color="#eca000"/><stop offset="0.7507" stop-color="#eea800"/><stop offset="0.7881" stop-color="#eb9c00"/><stop offset="0.8509" stop-color="#dc6a00"/><stop offset="0.9378" stop-color="#bd2b00"/><stop offset="0.9713" stop-color="#b42003"/><stop offset="0.994" stop-color="#b11c1d"/><stop offset="0.9993" stop-color="#b01c21"/></linearGradient><linearGradient id="g110"><stop offset="0.0006684" stop-color="#8204ff"/><stop offset="0.07019" stop-color="#7803fa"/><stop offset="0.1143" stop-color="#6b01e5"/><stop offset="0.1892" stop-color="#5500a4"/><stop offset="0.2386" stop-color="#4f0091"/><stop offset="0.2828" stop-color="#4d0089"/><stop offset="0.3041" stop-color="#510096"/><stop offset="0.3697" stop-color="#6d02ea"/><stop offset="0.3991" stop-color="#7903fc"/><stop offset="0.4298" stop-color="#8405fd"/><stop offset="0.4485" stop-color="#8d07f0"/><stop offset="0.4632" stop-color="#950ad4"/><stop offset="0.4793" stop-color="#9f0fa3"/><stop offset="0.4967" stop-color="#aa165a"/><stop offset="0.5154" stop-color="#b52000"/><stop offset="0.5876" stop-color="#d25000"/><stop offset="0.7079" stop-color="#eca000"/><stop offset="0.7507" stop-color="#eea900"/><stop offset="0.7868" stop-color="#eb9d00"/><stop offset="0.8309" stop-color="#e27b00"/><stop offset="0.9298" stop-color="#c12f00"/><stop offset="0.9713" stop-color="#b42001"/><stop offset="0.994" stop-color="#b11d1c"/><stop offset="0.9993" stop-color="#b11c20"/></linearGradient><linearGradient id="g111"><stop offset="0.0006684" stop-color="#8305fe"/><stop offset="0.07152" stop-color="#7803fb"/><stop offset="0.117" stop-color="#6c01e5"/><stop offset="0.1918" stop-color="#5500a4"/><stop offset="0.2413" stop-color="#4f0091"/><stop offset="0.2854" stop-color="#4d0089"/><stop offset="0.3068" stop-color="#500095"/><stop offset="0.3723" stop-color="#6e02ea"/><stop offset="0.4017" stop-color="#7a03fc"/><stop offset="0.4325" stop-color="#8505fd"/><stop offset="0.4512" stop-color="#8e08ed"/><stop offset="0.4659" stop-color="#960bd0"/><stop offset="0.482" stop-color="#a0109d"/><stop offset="0.498" stop-color="#aa1658"/><stop offset="0.5154" stop-color="#b42002"/><stop offset="0.5876" stop-color="#d25000"/><stop offset="0.7092" stop-color="#eca100"/><stop offset="0.752" stop-color="#eeaa00"/><stop offset="0.7881" stop-color="#eb9e00"/><stop offset="0.8336" stop-color="#e17a00"/><stop offset="0.9325" stop-color="#c02e00"/><stop offset="0.9726" stop-color="#b42002"/><stop offset="0.9953" stop-color="#b11d1c"/><stop offset="0.9993" stop-color="#b11c1f"/></linearGradient><linearGradient id="g112"><stop offset="0.0006684" stop-color="#8405fe"/><stop offset="0.07286" stop-color="#7903fc"/><stop offset="0.1183" stop-color="#6c02e7"/><stop offset="0.1959" stop-color="#5500a4"/><stop offset="0.248" stop-color="#4e008f"/><stop offset="0.2881" stop-color="#4d0089"/><stop offset="0.3082" stop-color="#500094"/><stop offset="0.3737" stop-color="#6e02ea"/><stop offset="0.4031" stop-color="#7903fc"/><stop offset="0.4325" stop-color="#8405fd"/><stop offset="0.4512" stop-color="#8d07ef"/><stop offset="0.4659" stop-color="#960ad3"/><stop offset="0.482" stop-color="#a00fa1"/><stop offset="0.498" stop-color="#a9165d"/><stop offset="0.5167" stop-color="#b42000"/><stop offset="0.5889" stop-color="#d25100"/><stop offset="0.7092" stop-color="#eca100"/><stop offset="0.752" stop-color="#eeaa00"/><stop offset="0.7881" stop-color="#ec9e00"/><stop offset="0.8309" stop-color="#e27d00"/><stop offset="0.9311" stop-color="#c12f00"/><stop offset="0.9739" stop-color="#b42002"/><stop offset="0.998" stop-color="#b11d1d"/><stop offset="0.9993" stop-color="#b11c1e"/></linearGradient><linearGradient id="g113"><stop offset="0.0006684" stop-color="#8505fd"/><stop offset="0.0742" stop-color="#7a03fc"/><stop offset="0.1197" stop-color="#6d02e9"/><stop offset="0.1999" stop-color="#5500a4"/><stop offset="0.2533" stop-color="#4e008e"/><stop offset="0.2921" stop-color="#4d0089"/><stop offset="0.3122" stop-color="#500095"/><stop offset="0.375" stop-color="#6d02e9"/><stop offset="0.4044" stop-color="#7903fc"/><stop offset="0.4338" stop-color="#8405fd"/><stop offset="0.4525" stop-color="#8d07ee"/><stop offset="0.4672" stop-color="#960bd2"/><stop offset="0.4833" stop-color="#a00fa0"/><stop offset="0.4993" stop-color="#a9165b"/><stop offset="0.518" stop-color="#b52000"/><stop offset="0.5902" stop-color="#d35100"/><stop offset="0.7092" stop-color="#eca100"/><stop offset="0.752" stop-color="#efab00"/><stop offset="0.7868" stop-color="#eca000"/><stop offset="0.8255" stop-color="#e48200"/><stop offset="0.9271" stop-color="#c23200"/><stop offset="0.9699" stop-color="#b52100"/><stop offset="0.9766" stop-color="#b41f05"/><stop offset="0.9993" stop-color="#b11d1d"/></linearGradient><linearGradient id="g114"><stop offset="0.0006684" stop-color="#8605fc"/><stop offset="0.07553" stop-color="#7a03fd"/><stop offset="0.121" stop-color="#6e02eb"/><stop offset="0.2052" stop-color="#5500a3"/><stop offset="0.26" stop-color="#4d008c"/><stop offset="0.2961" stop-color="#4d0089"/><stop offset="0.3148" stop-color="#500095"/><stop offset="0.3763" stop-color="#6d02e8"/><stop offset="0.4057" stop-color="#7903fc"/><stop offset="0.4352" stop-color="#8405fd"/><stop offset="0.4525" stop-color="#8d07f0"/><stop offset="0.4672" stop-color="#950ad4"/><stop offset="0.4833" stop-color="#9f0fa3"/><stop offset="0.4993" stop-color="#a91660"/><stop offset="0.518" stop-color="#b42002"/><stop offset="0.5889" stop-color="#d25000"/><stop offset="0.7106" stop-color="#eca200"/><stop offset="0.7533" stop-color="#efac00"/><stop offset="0.7894" stop-color="#ec9f00"/><stop offset="0.8322" stop-color="#e27d00"/><stop offset="0.9325" stop-color="#c02f00"/><stop offset="0.9753" stop-color="#b42001"/><stop offset="0.9993" stop-color="#b11d1c"/></linearGradient><linearGradient id="g115"><stop offset="0.0006684" stop-color="#8706fb"/><stop offset="0.07687" stop-color="#7b03fd"/><stop offset="0.1223" stop-color="#6f02ec"/><stop offset="0.1691" stop-color="#5f01c3"/><stop offset="0.2199" stop-color="#53009c"/><stop offset="0.2747" stop-color="#4c0088"/><stop offset="0.3041" stop-color="#4d008a"/><stop offset="0.3242" stop-color="#53009d"/><stop offset="0.3777" stop-color="#6d02e8"/><stop offset="0.4071" stop-color="#7903fc"/><stop offset="0.4352" stop-color="#8405fe"/><stop offset="0.4539" stop-color="#8d07ef"/><stop offset="0.4686" stop-color="#960ad3"/><stop offset="0.4846" stop-color="#9f0fa2"/><stop offset="0.5007" stop-color="#a9165e"/><stop offset="0.5194" stop-color="#b42000"/><stop offset="0.5902" stop-color="#d25000"/><stop offset="0.7106" stop-color="#eca200"/><stop offset="0.7547" stop-color="#efac00"/><stop offset="0.7908" stop-color="#ec9f00"/><stop offset="0.8389" stop-color="#e17700"/><stop offset="0.9365" stop-color="#bf2d00"/><stop offset="0.9766" stop-color="#b42001"/><stop offset="0.9993" stop-color="#b11d1a"/></linearGradient><linearGradient id="g116"><stop offset="0.0006684" stop-color="#8806fa"/><stop offset="0.07821" stop-color="#7c03fe"/><stop offset="0.1237" stop-color="#7002ee"/><stop offset="0.1678" stop-color="#6101c8"/><stop offset="0.2226" stop-color="#53009c"/><stop offset="0.2734" stop-color="#4c0088"/><stop offset="0.3055" stop-color="#4d0089"/><stop offset="0.3242" stop-color="#52009a"/><stop offset="0.379" stop-color="#6c02e7"/><stop offset="0.4084" stop-color="#7803fb"/><stop offset="0.4365" stop-color="#8405fe"/><stop offset="0.4539" stop-color="#8d07f0"/><stop offset="0.4699" stop-color="#960bd2"/><stop offset="0.486" stop-color="#a00fa1"/><stop offset="0.502" stop-color="#a9165c"/><stop offset="0.5207" stop-color="#b52000"/><stop offset="0.5916" stop-color="#d35100"/><stop offset="0.7106" stop-color="#eca200"/><stop offset="0.7547" stop-color="#efad00"/><stop offset="0.7894" stop-color="#eca000"/><stop offset="0.8282" stop-color="#e48100"/><stop offset="0.9298" stop-color="#c23100"/><stop offset="0.9739" stop-color="#b52000"/><stop offset="0.982" stop-color="#b31f07"/><stop offset="0.9993" stop-color="#b11d19"/></linearGradient><linearGradient id="g117"><stop offset="0.0006684" stop-color="#8906f8"/><stop offset="0.07955" stop-color="#7c03fe"/><stop offset="0.125" stop-color="#7002ef"/><stop offset="0.1678" stop-color="#6201cc"/><stop offset="0.2266" stop-color="#53009c"/><stop offset="0.2747" stop-color="#4c0088"/><stop offset="0.3068" stop-color="#4c0088"/><stop offset="0.3255" stop-color="#510098"/><stop offset="0.3803" stop-color="#6c01e6"/><stop offset="0.4084" stop-color="#7803fb"/><stop offset="0.4365" stop-color="#8305fe"/><stop offset="0.4552" stop-color="#8d07f0"/><stop offset="0.4713" stop-color="#960bd1"/><stop offset="0.4873" stop-color="#a00f9f"/><stop offset="0.5033" stop-color="#aa165a"/><stop offset="0.5207" stop-color="#b42002"/><stop offset="0.5916" stop-color="#d25000"/><stop offset="0.7106" stop-color="#eca200"/><stop offset="0.7547" stop-color="#efad00"/><stop offset="0.7894" stop-color="#eca100"/><stop offset="0.8282" stop-color="#e48200"/><stop offset="0.9298" stop-color="#c23100"/><stop offset="0.9753" stop-color="#b52000"/><stop offset="0.9833" stop-color="#b31f07"/><stop offset="0.9993" stop-color="#b21d18"/></linearGradient><linearGradient id="g118"><stop offset="0.0006684" stop-color="#8a06f6"/><stop offset="0.08088" stop-color="#7d04ff"/><stop offset="0.1263" stop-color="#7102f1"/><stop offset="0.1678" stop-color="#6301d0"/><stop offset="0.2306" stop-color="#52009b"/><stop offset="0.2774" stop-color="#4c0087"/><stop offset="0.3095" stop-color="#4c0088"/><stop offset="0.3282" stop-color="#510098"/><stop offset="0.383" stop-color="#6c01e7"/><stop offset="0.4124" stop-color="#7903fc"/><stop offset="0.4392" stop-color="#8405fd"/><stop offset="0.4566" stop-color="#8d07ef"/><stop offset="0.4726" stop-color="#960bd0"/><stop offset="0.4886" stop-color="#a0109e"/><stop offset="0.5047" stop-color="#aa1658"/><stop offset="0.5221" stop-color="#b42000"/><stop offset="0.5916" stop-color="#d25000"/><stop offset="0.7119" stop-color="#eda200"/><stop offset="0.756" stop-color="#efad00"/><stop offset="0.7908" stop-color="#eca100"/><stop offset="0.8309" stop-color="#e38000"/><stop offset="0.9325" stop-color="#c13000"/><stop offset="0.9793" stop-color="#b42000"/><stop offset="0.9993" stop-color="#b21d16"/></linearGradient><linearGradient id="g119"><stop offset="0.0006684" stop-color="#8b07f4"/><stop offset="0.08088" stop-color="#7e04ff"/><stop offset="0.1263" stop-color="#7202f3"/><stop offset="0.1664" stop-color="#6501d5"/><stop offset="0.2346" stop-color="#52009b"/><stop offset="0.2787" stop-color="#4c0087"/><stop offset="0.3108" stop-color="#4c0087"/><stop offset="0.3295" stop-color="#510097"/><stop offset="0.3844" stop-color="#6c01e6"/><stop offset="0.4138" stop-color="#7803fb"/><stop offset="0.4405" stop-color="#8405fd"/><stop offset="0.4579" stop-color="#8d07ef"/><stop offset="0.4739" stop-color="#970bcf"/><stop offset="0.49" stop-color="#a0109c"/><stop offset="0.506" stop-color="#aa1756"/><stop offset="0.5234" stop-color="#b52000"/><stop offset="0.5929" stop-color="#d25000"/><stop offset="0.7119" stop-color="#eca200"/><stop offset="0.756" stop-color="#efae00"/><stop offset="0.7908" stop-color="#eca100"/><stop offset="0.8295" stop-color="#e48100"/><stop offset="0.9311" stop-color="#c23100"/><stop offset="0.9779" stop-color="#b52000"/><stop offset="0.9993" stop-color="#b21d15"/></linearGradient><linearGradient id="g120"><stop offset="0.0006684" stop-color="#8c07f2"/><stop offset="0.08222" stop-color="#7f04ff"/><stop offset="0.1277" stop-color="#7302f4"/><stop offset="0.1678" stop-color="#6601d7"/><stop offset="0.24" stop-color="#520099"/><stop offset="0.2828" stop-color="#4c0086"/><stop offset="0.3135" stop-color="#4c0087"/><stop offset="0.3322" stop-color="#510097"/><stop offset="0.3857" stop-color="#6c01e5"/><stop offset="0.4138" stop-color="#7803fb"/><stop offset="0.4405" stop-color="#8305fe"/><stop offset="0.4579" stop-color="#8d07f0"/><stop offset="0.4739" stop-color="#960bd1"/><stop offset="0.49" stop-color="#a00fa0"/><stop offset="0.506" stop-color="#aa165b"/><stop offset="0.5234" stop-color="#b42003"/><stop offset="0.5341" stop-color="#ba2600"/><stop offset="0.6023" stop-color="#d55600"/><stop offset="0.7119" stop-color="#eca200"/><stop offset="0.756" stop-color="#efae00"/><stop offset="0.7908" stop-color="#eca100"/><stop offset="0.8295" stop-color="#e48200"/><stop offset="0.9311" stop-color="#c23100"/><stop offset="0.9779" stop-color="#b52100"/><stop offset="0.9846" stop-color="#b41f04"/><stop offset="0.9993" stop-color="#b21e13"/></linearGradient><linearGradient id="g121"><stop offset="0.0006684" stop-color="#8d07f0"/><stop offset="0.08222" stop-color="#8004ff"/><stop offset="0.129" stop-color="#7402f6"/><stop offset="0.1691" stop-color="#6701da"/><stop offset="0.244" stop-color="#510098"/><stop offset="0.2854" stop-color="#4b0085"/><stop offset="0.3148" stop-color="#4c0086"/><stop offset="0.3349" stop-color="#510097"/><stop offset="0.387" stop-color="#6b01e5"/><stop offset="0.4151" stop-color="#7803fa"/><stop offset="0.4405" stop-color="#8305fe"/><stop offset="0.4579" stop-color="#8c07f1"/><stop offset="0.4739" stop-color="#960ad3"/><stop offset="0.49" stop-color="#9f0fa3"/><stop offset="0.506" stop-color="#a9165f"/><stop offset="0.5247" stop-color="#b42001"/><stop offset="0.5943" stop-color="#d25000"/><stop offset="0.7119" stop-color="#eca200"/><stop offset="0.756" stop-color="#efaf00"/><stop offset="0.7894" stop-color="#eda300"/><stop offset="0.8255" stop-color="#e58600"/><stop offset="0.9271" stop-color="#c43400"/><stop offset="0.9726" stop-color="#b62200"/><stop offset="0.9846" stop-color="#b42002"/><stop offset="0.9993" stop-color="#b21e11"/></linearGradient><linearGradient id="g122"><stop offset="0.0006684" stop-color="#8e08ed"/><stop offset="0.08356" stop-color="#8004ff"/><stop offset="0.1303" stop-color="#7502f7"/><stop offset="0.1705" stop-color="#6801dc"/><stop offset="0.2493" stop-color="#510097"/><stop offset="0.2908" stop-color="#4b0084"/><stop offset="0.3189" stop-color="#4c0086"/><stop offset="0.3389" stop-color="#520099"/><stop offset="0.3884" stop-color="#6b01e4"/><stop offset="0.4164" stop-color="#7703fa"/><stop offset="0.4418" stop-color="#8305fe"/><stop offset="0.4592" stop-color="#8c07f1"/><stop offset="0.4753" stop-color="#960bd2"/><stop offset="0.4913" stop-color="#9f0fa2"/><stop offset="0.5074" stop-color="#a9165d"/><stop offset="0.5261" stop-color="#b42000"/><stop offset="0.5956" stop-color="#d25100"/><stop offset="0.7119" stop-color="#eca200"/><stop offset="0.756" stop-color="#efaf00"/><stop offset="0.7894" stop-color="#eda300"/><stop offset="0.8255" stop-color="#e58700"/><stop offset="0.9271" stop-color="#c43400"/><stop offset="0.9726" stop-color="#b62200"/><stop offset="0.9873" stop-color="#b42003"/><stop offset="0.9993" stop-color="#b31e0f"/></linearGradient><linearGradient id="g123"><stop offset="0.0006684" stop-color="#8f08ea"/><stop offset="0.08356" stop-color="#8104ff"/><stop offset="0.1303" stop-color="#7602f9"/><stop offset="0.1691" stop-color="#6a01e1"/><stop offset="0.2547" stop-color="#500095"/><stop offset="0.2948" stop-color="#4b0083"/><stop offset="0.3215" stop-color="#4c0086"/><stop offset="0.3429" stop-color="#52009b"/><stop offset="0.3897" stop-color="#6a01e3"/><stop offset="0.4178" stop-color="#7703fa"/><stop offset="0.4418" stop-color="#8205fe"/><stop offset="0.4592" stop-color="#8c07f2"/><stop offset="0.4753" stop-color="#950ad5"/><stop offset="0.4913" stop-color="#9f0fa5"/><stop offset="0.5074" stop-color="#a91561"/><stop offset="0.5261" stop-color="#b41f03"/><stop offset="0.5301" stop-color="#b62200"/><stop offset="0.5983" stop-color="#d35200"/><stop offset="0.7119" stop-color="#eca200"/><stop offset="0.756" stop-color="#efaf00"/><stop offset="0.7894" stop-color="#eda300"/><stop offset="0.8255" stop-color="#e58700"/><stop offset="0.9271" stop-color="#c43500"/><stop offset="0.9726" stop-color="#b72200"/><stop offset="0.9886" stop-color="#b42003"/><stop offset="0.9993" stop-color="#b31e0e"/></linearGradient><linearGradient id="g124"><stop offset="0.0006684" stop-color="#9008e7"/><stop offset="0.08356" stop-color="#8205fe"/><stop offset="0.1303" stop-color="#7703fa"/><stop offset="0.1691" stop-color="#6b01e4"/><stop offset="0.26" stop-color="#500093"/><stop offset="0.2988" stop-color="#4a0082"/><stop offset="0.3242" stop-color="#4c0086"/><stop offset="0.3456" stop-color="#52009c"/><stop offset="0.391" stop-color="#6a01e2"/><stop offset="0.4191" stop-color="#7703fa"/><stop offset="0.4432" stop-color="#8305fe"/><stop offset="0.4606" stop-color="#8c07f1"/><stop offset="0.4766" stop-color="#960ad4"/><stop offset="0.4926" stop-color="#9f0fa4"/><stop offset="0.5074" stop-color="#a81566"/><stop offset="0.5274" stop-color="#b42001"/><stop offset="0.5969" stop-color="#d25000"/><stop offset="0.7119" stop-color="#eca100"/><stop offset="0.7574" stop-color="#f0af00"/><stop offset="0.7908" stop-color="#eda300"/><stop offset="0.8269" stop-color="#e58600"/><stop offset="0.9285" stop-color="#c43400"/><stop offset="0.9753" stop-color="#b62200"/><stop offset="0.99" stop-color="#b42002"/><stop offset="0.9993" stop-color="#b31e0c"/></linearGradient><linearGradient id="g125"><stop offset="0.0006684" stop-color="#9109e3"/><stop offset="0.08222" stop-color="#8405fe"/><stop offset="0.1303" stop-color="#7803fb"/><stop offset="0.1691" stop-color="#6c02e7"/><stop offset="0.2654" stop-color="#4f0091"/><stop offset="0.3028" stop-color="#4a0081"/><stop offset="0.3269" stop-color="#4c0086"/><stop offset="0.3483" stop-color="#53009c"/><stop offset="0.3937" stop-color="#6a01e2"/><stop offset="0.4218" stop-color="#7803fa"/><stop offset="0.4445" stop-color="#8305fe"/><stop offset="0.4619" stop-color="#8c07f1"/><stop offset="0.4779" stop-color="#960ad3"/><stop offset="0.494" stop-color="#9f0fa2"/><stop offset="0.5087" stop-color="#a81564"/><stop offset="0.5287" stop-color="#b42000"/><stop offset="0.5983" stop-color="#d25100"/><stop offset="0.7119" stop-color="#eca100"/><stop offset="0.7574" stop-color="#f0af00"/><stop offset="0.7908" stop-color="#eda300"/><stop offset="0.8269" stop-color="#e58700"/><stop offset="0.9285" stop-color="#c43400"/><stop offset="0.9753" stop-color="#b72200"/><stop offset="0.9926" stop-color="#b42003"/><stop offset="0.9993" stop-color="#b31f0a"/></linearGradient><linearGradient id="g126"><stop offset="0.0006684" stop-color="#9209e0"/><stop offset="0.08222" stop-color="#8505fd"/><stop offset="0.1303" stop-color="#7903fc"/><stop offset="0.1691" stop-color="#6e02ea"/><stop offset="0.2199" stop-color="#5d01bd"/><stop offset="0.2707" stop-color="#4f0090"/><stop offset="0.3068" stop-color="#4a0080"/><stop offset="0.3295" stop-color="#4b0085"/><stop offset="0.3523" stop-color="#53009e"/><stop offset="0.3951" stop-color="#6a01e2"/><stop offset="0.4231" stop-color="#7703fa"/><stop offset="0.4459" stop-color="#8305fe"/><stop offset="0.4632" stop-color="#8d07f0"/><stop offset="0.4793" stop-color="#960bd2"/><stop offset="0.4953" stop-color="#a00fa1"/><stop offset="0.51" stop-color="#a91562"/><stop offset="0.5301" stop-color="#b52000"/><stop offset="0.5996" stop-color="#d35100"/><stop offset="0.7106" stop-color="#eca000"/><stop offset="0.756" stop-color="#f0b000"/><stop offset="0.7881" stop-color="#eda500"/><stop offset="0.8242" stop-color="#e68a00"/><stop offset="0.9258" stop-color="#c53600"/><stop offset="0.9713" stop-color="#b82400"/><stop offset="0.994" stop-color="#b42002"/><stop offset="0.9993" stop-color="#b31f08"/></linearGradient><linearGradient id="g127"><stop offset="0.0006684" stop-color="#940adc"/><stop offset="0.08088" stop-color="#8605fc"/><stop offset="0.1303" stop-color="#7b03fd"/><stop offset="0.1705" stop-color="#6f02ec"/><stop offset="0.2172" stop-color="#5f01c3"/><stop offset="0.2707" stop-color="#4f0091"/><stop offset="0.3068" stop-color="#4a0080"/><stop offset="0.3295" stop-color="#4b0084"/><stop offset="0.3523" stop-color="#52009b"/><stop offset="0.3964" stop-color="#6a01e1"/><stop offset="0.4245" stop-color="#7703fa"/><stop offset="0.4472" stop-color="#8305fe"/><stop offset="0.4646" stop-color="#8d07f0"/><stop offset="0.4806" stop-color="#960bd1"/><stop offset="0.4967" stop-color="#a00f9f"/><stop offset="0.5114" stop-color="#a91660"/><stop offset="0.5301" stop-color="#b42002"/><stop offset="0.6009" stop-color="#d35100"/><stop offset="0.7106" stop-color="#eca000"/><stop offset="0.7574" stop-color="#f0b000"/><stop offset="0.7908" stop-color="#eda400"/><stop offset="0.8269" stop-color="#e58700"/><stop offset="0.9285" stop-color="#c43500"/><stop offset="0.9766" stop-color="#b72300"/><stop offset="0.9967" stop-color="#b42003"/><stop offset="0.9993" stop-color="#b41f06"/></linearGradient><linearGradient id="g128"><stop offset="0.0006684" stop-color="#950ad7"/><stop offset="0.07955" stop-color="#8706fa"/><stop offset="0.129" stop-color="#7c03fe"/><stop offset="0.1691" stop-color="#7002f0"/><stop offset="0.2132" stop-color="#6201cb"/><stop offset="0.2707" stop-color="#500093"/><stop offset="0.3082" stop-color="#4a007f"/><stop offset="0.3309" stop-color="#4b0083"/><stop offset="0.3536" stop-color="#52009a"/><stop offset="0.3991" stop-color="#6a01e1"/><stop offset="0.4271" stop-color="#7803fb"/><stop offset="0.4485" stop-color="#8305fe"/><stop offset="0.4659" stop-color="#8d07f0"/><stop offset="0.482" stop-color="#960bd0"/><stop offset="0.498" stop-color="#a0109e"/><stop offset="0.5127" stop-color="#a9165e"/><stop offset="0.5314" stop-color="#b42000"/><stop offset="0.6023" stop-color="#d35100"/><stop offset="0.7106" stop-color="#eca000"/><stop offset="0.7574" stop-color="#f0b000"/><stop offset="0.7908" stop-color="#eda400"/><stop offset="0.8269" stop-color="#e68800"/><stop offset="0.9285" stop-color="#c43500"/><stop offset="0.9779" stop-color="#b72300"/><stop offset="0.998" stop-color="#b42002"/><stop offset="0.9993" stop-color="#b41f04"/></linearGradient><linearGradient id="g129"><stop offset="0.0006684" stop-color="#960ad3"/><stop offset="0.07821" stop-color="#8806f8"/><stop offset="0.1277" stop-color="#7d04ff"/><stop offset="0.1678" stop-color="#7202f3"/><stop offset="0.2106" stop-color="#6401d2"/><stop offset="0.2734" stop-color="#500093"/><stop offset="0.3095" stop-color="#49007f"/><stop offset="0.3322" stop-color="#4a0082"/><stop offset="0.3549" stop-color="#510098"/><stop offset="0.4004" stop-color="#6a01e1"/><stop offset="0.4271" stop-color="#7703fa"/><stop offset="0.4485" stop-color="#8205fe"/><stop offset="0.4659" stop-color="#8c07f1"/><stop offset="0.482" stop-color="#960ad3"/><stop offset="0.498" stop-color="#9f0fa2"/><stop offset="0.5127" stop-color="#a91562"/><stop offset="0.5328" stop-color="#b42000"/><stop offset="0.6049" stop-color="#d35200"/><stop offset="0.7092" stop-color="#ec9f00"/><stop offset="0.756" stop-color="#f0b000"/><stop offset="0.7868" stop-color="#eea700"/><stop offset="0.8229" stop-color="#e78c00"/><stop offset="0.9245" stop-color="#c63800"/><stop offset="0.9699" stop-color="#b92500"/><stop offset="0.9993" stop-color="#b42002"/></linearGradient><linearGradient id="g130"><stop offset="0.0006684" stop-color="#970bce"/><stop offset="0.07553" stop-color="#8a06f6"/><stop offset="0.1263" stop-color="#7f04ff"/><stop offset="0.1664" stop-color="#7402f5"/><stop offset="0.2092" stop-color="#6601d7"/><stop offset="0.2774" stop-color="#4f0092"/><stop offset="0.3122" stop-color="#49007e"/><stop offset="0.3336" stop-color="#4a0081"/><stop offset="0.3576" stop-color="#520099"/><stop offset="0.4031" stop-color="#6a01e2"/><stop offset="0.4298" stop-color="#7803fb"/><stop offset="0.4512" stop-color="#8305fe"/><stop offset="0.4686" stop-color="#8d07ef"/><stop offset="0.4846" stop-color="#970bcf"/><stop offset="0.4993" stop-color="#a00fa0"/><stop offset="0.514" stop-color="#a91660"/><stop offset="0.5328" stop-color="#b41f03"/><stop offset="0.5381" stop-color="#b72300"/><stop offset="0.6116" stop-color="#d55700"/><stop offset="0.7092" stop-color="#ec9e00"/><stop offset="0.7574" stop-color="#f0b000"/><stop offset="0.7894" stop-color="#eda600"/><stop offset="0.8242" stop-color="#e78b00"/><stop offset="0.9245" stop-color="#c63800"/><stop offset="0.9699" stop-color="#b92500"/><stop offset="0.9993" stop-color="#b42000"/></linearGradient><linearGradient id="g131"><stop offset="0.0006684" stop-color="#980bc9"/><stop offset="0.0742" stop-color="#8b07f3"/><stop offset="0.125" stop-color="#8004ff"/><stop offset="0.1664" stop-color="#7502f7"/><stop offset="0.2079" stop-color="#6801db"/><stop offset="0.2814" stop-color="#4f0091"/><stop offset="0.3148" stop-color="#49007e"/><stop offset="0.3362" stop-color="#4a0081"/><stop offset="0.3603" stop-color="#52009a"/><stop offset="0.4044" stop-color="#6a01e1"/><stop offset="0.4311" stop-color="#7803fa"/><stop offset="0.4525" stop-color="#8305fe"/><stop offset="0.4699" stop-color="#8d07ef"/><stop offset="0.486" stop-color="#970bce"/><stop offset="0.5007" stop-color="#a00f9f"/><stop offset="0.5167" stop-color="#aa1657"/><stop offset="0.5341" stop-color="#b42001"/><stop offset="0.609" stop-color="#d45400"/><stop offset="0.7079" stop-color="#eb9d00"/><stop offset="0.756" stop-color="#f0b000"/><stop offset="0.7868" stop-color="#eea700"/><stop offset="0.8229" stop-color="#e78d00"/><stop offset="0.9231" stop-color="#c73900"/><stop offset="0.9686" stop-color="#b92600"/><stop offset="0.9993" stop-color="#b52000"/></linearGradient><linearGradient id="g132"><stop offset="0.0006684" stop-color="#990cc3"/><stop offset="0.07152" stop-color="#8d07f0"/><stop offset="0.1223" stop-color="#8204ff"/><stop offset="0.1638" stop-color="#7703fa"/><stop offset="0.2052" stop-color="#6a01e1"/><stop offset="0.2868" stop-color="#4e008f"/><stop offset="0.3175" stop-color="#49007d"/><stop offset="0.3389" stop-color="#4a0082"/><stop offset="0.363" stop-color="#52009b"/><stop offset="0.4057" stop-color="#6901e0"/><stop offset="0.4325" stop-color="#7803fa"/><stop offset="0.4525" stop-color="#8305fe"/><stop offset="0.4699" stop-color="#8d07f0"/><stop offset="0.486" stop-color="#960bd1"/><stop offset="0.5007" stop-color="#9f0fa3"/><stop offset="0.5154" stop-color="#a91562"/><stop offset="0.5354" stop-color="#b42000"/><stop offset="0.6116" stop-color="#d45500"/><stop offset="0.7066" stop-color="#eb9c00"/><stop offset="0.756" stop-color="#f0b000"/><stop offset="0.7868" stop-color="#eea800"/><stop offset="0.8229" stop-color="#e78d00"/><stop offset="0.9231" stop-color="#c73900"/><stop offset="0.9686" stop-color="#ba2600"/><stop offset="0.9993" stop-color="#b52000"/></linearGradient><linearGradient id="g133"><stop offset="0.0006684" stop-color="#9a0dbe"/><stop offset="0.07019" stop-color="#8e08ed"/><stop offset="0.121" stop-color="#8305fe"/><stop offset="0.1638" stop-color="#7803fb"/><stop offset="0.2039" stop-color="#6b01e5"/><stop offset="0.2908" stop-color="#4e008d"/><stop offset="0.3202" stop-color="#49007d"/><stop offset="0.3416" stop-color="#4a0082"/><stop offset="0.3656" stop-color="#52009c"/><stop offset="0.4084" stop-color="#6a01e1"/><stop offset="0.4338" stop-color="#7803fa"/><stop offset="0.4539" stop-color="#8305fe"/><stop offset="0.4713" stop-color="#8d07f0"/><stop offset="0.4873" stop-color="#960bd0"/><stop offset="0.502" stop-color="#9f0fa1"/><stop offset="0.518" stop-color="#aa1659"/><stop offset="0.5354" stop-color="#b41f04"/><stop offset="0.5381" stop-color="#b52100"/><stop offset="0.617" stop-color="#d65900"/><stop offset="0.7066" stop-color="#eb9c00"/><stop offset="0.756" stop-color="#f0b000"/><stop offset="0.7868" stop-color="#eea800"/><stop offset="0.8229" stop-color="#e78e00"/><stop offset="0.9218" stop-color="#c83b00"/><stop offset="0.9659" stop-color="#ba2700"/><stop offset="0.9993" stop-color="#b52100"/></linearGradient><linearGradient id="g134"><stop offset="0.0006684" stop-color="#9b0db8"/><stop offset="0.06885" stop-color="#8f08ea"/><stop offset="0.1197" stop-color="#8505fd"/><stop offset="0.1624" stop-color="#7903fc"/><stop offset="0.2025" stop-color="#6d02e9"/><stop offset="0.2426" stop-color="#5e01c0"/><stop offset="0.2948" stop-color="#4d008c"/><stop offset="0.3229" stop-color="#49007c"/><stop offset="0.3443" stop-color="#4b0083"/><stop offset="0.3683" stop-color="#53009d"/><stop offset="0.4098" stop-color="#6a01e1"/><stop offset="0.4352" stop-color="#7803fa"/><stop offset="0.4552" stop-color="#8305fe"/><stop offset="0.4726" stop-color="#8d07f0"/><stop offset="0.4886" stop-color="#970bd0"/><stop offset="0.5033" stop-color="#a00fa0"/><stop offset="0.5207" stop-color="#ab1750"/><stop offset="0.5368" stop-color="#b42002"/><stop offset="0.617" stop-color="#d65800"/><stop offset="0.7039" stop-color="#eb9a00"/><stop offset="0.756" stop-color="#f0b100"/><stop offset="0.7868" stop-color="#eea800"/><stop offset="0.8229" stop-color="#e78e00"/><stop offset="0.9218" stop-color="#c83b00"/><stop offset="0.9659" stop-color="#bb2700"/><stop offset="0.9993" stop-color="#b52100"/></linearGradient><linearGradient id="g135"><stop offset="0.0006684" stop-color="#9d0eb2"/><stop offset="0.06618" stop-color="#9109e5"/><stop offset="0.117" stop-color="#8605fb"/><stop offset="0.1611" stop-color="#7b03fd"/><stop offset="0.2012" stop-color="#6f02ec"/><stop offset="0.2373" stop-color="#6101ca"/><stop offset="0.2948" stop-color="#4e008d"/><stop offset="0.3229" stop-color="#49007c"/><stop offset="0.3443" stop-color="#4a0081"/><stop offset="0.3683" stop-color="#52009a"/><stop offset="0.4124" stop-color="#6a01e2"/><stop offset="0.4378" stop-color="#7803fb"/><stop offset="0.4579" stop-color="#8405fe"/><stop offset="0.4753" stop-color="#8e08ed"/><stop offset="0.49" stop-color="#970bcf"/><stop offset="0.5047" stop-color="#a0109e"/><stop offset="0.5234" stop-color="#ac1847"/><stop offset="0.5381" stop-color="#b42000"/><stop offset="0.621" stop-color="#d75b00"/><stop offset="0.7039" stop-color="#ea9a00"/><stop offset="0.756" stop-color="#f0b100"/><stop offset="0.7868" stop-color="#eea900"/><stop offset="0.8229" stop-color="#e78f00"/><stop offset="0.9205" stop-color="#c83c00"/><stop offset="0.9632" stop-color="#bc2800"/><stop offset="0.9993" stop-color="#b62100"/></linearGradient><linearGradient id="g136"><stop offset="0.0006684" stop-color="#9e0eac"/><stop offset="0.06484" stop-color="#9209e1"/><stop offset="0.1156" stop-color="#8706fa"/><stop offset="0.1598" stop-color="#7c03fe"/><stop offset="0.1999" stop-color="#7002ef"/><stop offset="0.2346" stop-color="#6301d0"/><stop offset="0.2961" stop-color="#4e008e"/><stop offset="0.3242" stop-color="#49007c"/><stop offset="0.3456" stop-color="#4a0081"/><stop offset="0.3697" stop-color="#520099"/><stop offset="0.4151" stop-color="#6b01e4"/><stop offset="0.4392" stop-color="#7803fb"/><stop offset="0.4592" stop-color="#8405fd"/><stop offset="0.4766" stop-color="#8e08ed"/><stop offset="0.4913" stop-color="#970bce"/><stop offset="0.5047" stop-color="#9f0fa2"/><stop offset="0.5234" stop-color="#ac184b"/><stop offset="0.5394" stop-color="#b52000"/><stop offset="0.625" stop-color="#d85d00"/><stop offset="0.7025" stop-color="#ea9900"/><stop offset="0.756" stop-color="#f0b100"/><stop offset="0.7868" stop-color="#eea900"/><stop offset="0.8229" stop-color="#e88f00"/><stop offset="0.9191" stop-color="#c93d00"/><stop offset="0.9619" stop-color="#bc2900"/><stop offset="0.9993" stop-color="#b62100"/></linearGradient><linearGradient id="g137"><stop offset="0.0006684" stop-color="#9f0fa5"/><stop offset="0.0635" stop-color="#9309dd"/><stop offset="0.1143" stop-color="#8906f8"/><stop offset="0.1598" stop-color="#7d04ff"/><stop offset="0.1985" stop-color="#7202f2"/><stop offset="0.2333" stop-color="#6501d5"/><stop offset="0.2988" stop-color="#4e008d"/><stop offset="0.3255" stop-color="#49007c"/><stop offset="0.3469" stop-color="#4a0081"/><stop offset="0.371" stop-color="#520099"/><stop offset="0.4178" stop-color="#6b01e5"/><stop offset="0.4418" stop-color="#7903fc"/><stop offset="0.4606" stop-color="#8405fd"/><stop offset="0.4779" stop-color="#8e08ed"/><stop offset="0.4926" stop-color="#970bce"/><stop offset="0.506" stop-color="#a00fa0"/><stop offset="0.5394" stop-color="#b42002"/><stop offset="0.6223" stop-color="#d75b00"/><stop offset="0.6999" stop-color="#ea9700"/><stop offset="0.756" stop-color="#f0b100"/><stop offset="0.7854" stop-color="#eeaa00"/><stop offset="0.8215" stop-color="#e89100"/><stop offset="0.9164" stop-color="#ca4000"/><stop offset="0.9579" stop-color="#bd2b00"/><stop offset="0.9993" stop-color="#b62200"/></linearGradient><linearGradient id="g138"><stop offset="0.0006684" stop-color="#a00f9f"/><stop offset="0.06217" stop-color="#940ad8"/><stop offset="0.113" stop-color="#8a06f6"/><stop offset="0.1584" stop-color="#7f04ff"/><stop offset="0.1972" stop-color="#7302f4"/><stop offset="0.232" stop-color="#6701d9"/><stop offset="0.3015" stop-color="#4e008c"/><stop offset="0.3269" stop-color="#49007c"/><stop offset="0.3483" stop-color="#4a0081"/><stop offset="0.3723" stop-color="#510098"/><stop offset="0.4205" stop-color="#6c01e6"/><stop offset="0.4432" stop-color="#7903fc"/><stop offset="0.4619" stop-color="#8405fd"/><stop offset="0.4793" stop-color="#8e08ec"/><stop offset="0.494" stop-color="#970bcd"/><stop offset="0.5074" stop-color="#a0109e"/><stop offset="0.5408" stop-color="#b42000"/><stop offset="0.621" stop-color="#d65900"/><stop offset="0.6972" stop-color="#e99500"/><stop offset="0.7547" stop-color="#f0b100"/><stop offset="0.7841" stop-color="#efab00"/><stop offset="0.8202" stop-color="#e99300"/><stop offset="0.9138" stop-color="#cb4200"/><stop offset="0.9539" stop-color="#bf2c00"/><stop offset="0.9993" stop-color="#b62200"/></linearGradient><linearGradient id="g139"><stop offset="0.0006684" stop-color="#a11098"/><stop offset="0.06217" stop-color="#950ad5"/><stop offset="0.113" stop-color="#8b07f4"/><stop offset="0.1584" stop-color="#8004ff"/><stop offset="0.1972" stop-color="#7402f6"/><stop offset="0.232" stop-color="#6801dc"/><stop offset="0.3028" stop-color="#4e008d"/><stop offset="0.3282" stop-color="#49007c"/><stop offset="0.3509" stop-color="#4a0081"/><stop offset="0.375" stop-color="#52009a"/><stop offset="0.4231" stop-color="#6d02e8"/><stop offset="0.4459" stop-color="#7a03fd"/><stop offset="0.4646" stop-color="#8505fc"/><stop offset="0.482" stop-color="#8f08ea"/><stop offset="0.4967" stop-color="#980cc8"/><stop offset="0.5087" stop-color="#a0109c"/><stop offset="0.5408" stop-color="#b41f04"/><stop offset="0.5434" stop-color="#b52100"/><stop offset="0.621" stop-color="#d65800"/><stop offset="0.6959" stop-color="#e99400"/><stop offset="0.7547" stop-color="#f0b100"/><stop offset="0.7841" stop-color="#efab00"/><stop offset="0.8202" stop-color="#e99300"/><stop offset="0.9124" stop-color="#cc4300"/><stop offset="0.9525" stop-color="#bf2d00"/><stop offset="0.9993" stop-color="#b62200"/></linearGradient><linearGradient id="g140"><stop offset="0.0006684" stop-color="#a21191"/><stop offset="0.06083" stop-color="#970bd0"/><stop offset="0.1116" stop-color="#8c07f2"/><stop offset="0.1584" stop-color="#8104ff"/><stop offset="0.1972" stop-color="#7502f7"/><stop offset="0.232" stop-color="#6901df"/><stop offset="0.3055" stop-color="#4e008c"/><stop offset="0.3295" stop-color="#49007c"/><stop offset="0.3523" stop-color="#4a0081"/><stop offset="0.3763" stop-color="#520099"/><stop offset="0.4258" stop-color="#6d02ea"/><stop offset="0.4472" stop-color="#7a03fd"/><stop offset="0.4659" stop-color="#8505fc"/><stop offset="0.4833" stop-color="#8f08e9"/><stop offset="0.4967" stop-color="#980bcb"/><stop offset="0.5087" stop-color="#a00fa0"/><stop offset="0.5421" stop-color="#b42002"/><stop offset="0.617" stop-color="#d45400"/><stop offset="0.6932" stop-color="#e89200"/><stop offset="0.7547" stop-color="#f0b200"/><stop offset="0.7841" stop-color="#efac00"/><stop offset="0.8202" stop-color="#e99400"/><stop offset="0.9111" stop-color="#cd4400"/><stop offset="0.9512" stop-color="#c02e00"/><stop offset="0.9993" stop-color="#b72300"/></linearGradient><linearGradient id="g141"><stop offset="0.0006684" stop-color="#a3118b"/><stop offset="0.06083" stop-color="#970bcb"/><stop offset="0.1116" stop-color="#8d07f0"/><stop offset="0.1584" stop-color="#8204ff"/><stop offset="0.1972" stop-color="#7603f9"/><stop offset="0.232" stop-color="#6a01e1"/><stop offset="0.3082" stop-color="#4d008b"/><stop offset="0.3322" stop-color="#48007c"/><stop offset="0.3549" stop-color="#4a0082"/><stop offset="0.3777" stop-color="#520099"/><stop offset="0.4285" stop-color="#6e02eb"/><stop offset="0.4499" stop-color="#7b03fe"/><stop offset="0.4686" stop-color="#8605fb"/><stop offset="0.486" stop-color="#9008e6"/><stop offset="0.4993" stop-color="#990cc6"/><stop offset="0.5114" stop-color="#a11097"/><stop offset="0.5434" stop-color="#b42000"/><stop offset="0.617" stop-color="#d45400"/><stop offset="0.6918" stop-color="#e89100"/><stop offset="0.7547" stop-color="#f0b200"/><stop offset="0.7828" stop-color="#efad00"/><stop offset="0.8202" stop-color="#e99400"/><stop offset="0.9084" stop-color="#ce4700"/><stop offset="0.9485" stop-color="#c12f00"/><stop offset="0.9993" stop-color="#b72300"/></linearGradient><linearGradient id="g142"><stop offset="0.0006684" stop-color="#a41284"/><stop offset="0.05949" stop-color="#990cc6"/><stop offset="0.1103" stop-color="#8e08ed"/><stop offset="0.1571" stop-color="#8305fe"/><stop offset="0.1959" stop-color="#7703fa"/><stop offset="0.2306" stop-color="#6c01e5"/><stop offset="0.3108" stop-color="#4d008b"/><stop offset="0.3336" stop-color="#48007c"/><stop offset="0.3563" stop-color="#4a0082"/><stop offset="0.379" stop-color="#510098"/><stop offset="0.4311" stop-color="#6f02ed"/><stop offset="0.4512" stop-color="#7b03fe"/><stop offset="0.4699" stop-color="#8605fb"/><stop offset="0.486" stop-color="#9008e8"/><stop offset="0.4993" stop-color="#980bc9"/><stop offset="0.5114" stop-color="#a1109b"/><stop offset="0.5434" stop-color="#b42003"/><stop offset="0.5501" stop-color="#b72300"/><stop offset="0.621" stop-color="#d55700"/><stop offset="0.6918" stop-color="#e89100"/><stop offset="0.7547" stop-color="#f0b200"/><stop offset="0.7828" stop-color="#efad00"/><stop offset="0.8202" stop-color="#e99500"/><stop offset="0.9071" stop-color="#cf4800"/><stop offset="0.9485" stop-color="#c13000"/><stop offset="0.9993" stop-color="#b72300"/></linearGradient><linearGradient id="g143"><stop offset="0.0006684" stop-color="#a5137d"/><stop offset="0.05949" stop-color="#9a0cc1"/><stop offset="0.1103" stop-color="#8f08ea"/><stop offset="0.1571" stop-color="#8405fe"/><stop offset="0.1959" stop-color="#7803fb"/><stop offset="0.2306" stop-color="#6d02e8"/><stop offset="0.2828" stop-color="#5700ab"/><stop offset="0.3215" stop-color="#4b0083"/><stop offset="0.3416" stop-color="#48007c"/><stop offset="0.367" stop-color="#4d0089"/><stop offset="0.3884" stop-color="#5500a4"/><stop offset="0.4325" stop-color="#6f02ed"/><stop offset="0.4525" stop-color="#7b03fe"/><stop offset="0.4713" stop-color="#8706fb"/><stop offset="0.4873" stop-color="#9008e7"/><stop offset="0.5007" stop-color="#980cc7"/><stop offset="0.5127" stop-color="#a11098"/><stop offset="0.5434" stop-color="#b41f07"/><stop offset="0.5448" stop-color="#b42001"/><stop offset="0.6143" stop-color="#d25000"/><stop offset="0.6892" stop-color="#e88f00"/><stop offset="0.7533" stop-color="#f0b200"/><stop offset="0.7814" stop-color="#efae00"/><stop offset="0.8189" stop-color="#ea9700"/><stop offset="0.9044" stop-color="#d04b00"/><stop offset="0.9459" stop-color="#c23100"/><stop offset="0.9993" stop-color="#b72300"/></linearGradient><linearGradient id="g144"><stop offset="0.0006684" stop-color="#a61376"/><stop offset="0.05949" stop-color="#9b0dbd"/><stop offset="0.1103" stop-color="#9008e8"/><stop offset="0.1571" stop-color="#8505fd"/><stop offset="0.1959" stop-color="#7903fc"/><stop offset="0.2306" stop-color="#6e02ea"/><stop offset="0.2747" stop-color="#5b01b8"/><stop offset="0.3135" stop-color="#4d008b"/><stop offset="0.3376" stop-color="#48007c"/><stop offset="0.3603" stop-color="#4b0083"/><stop offset="0.383" stop-color="#520099"/><stop offset="0.4352" stop-color="#7002ee"/><stop offset="0.4552" stop-color="#7c03fe"/><stop offset="0.4726" stop-color="#8706fb"/><stop offset="0.4886" stop-color="#9008e7"/><stop offset="0.502" stop-color="#990cc6"/><stop offset="0.514" stop-color="#a11095"/><stop offset="0.5421" stop-color="#b31e10"/><stop offset="0.5461" stop-color="#b52000"/><stop offset="0.6143" stop-color="#d25000"/><stop offset="0.6878" stop-color="#e78e00"/><stop offset="0.752" stop-color="#f0b200"/><stop offset="0.7787" stop-color="#f0b000"/><stop offset="0.8175" stop-color="#ea9800"/><stop offset="0.9017" stop-color="#d14d00"/><stop offset="0.9445" stop-color="#c23200"/><stop offset="0.9993" stop-color="#b82400"/></linearGradient><linearGradient id="g145"><stop offset="0.0006684" stop-color="#a7146f"/><stop offset="0.05949" stop-color="#9b0db8"/><stop offset="0.1103" stop-color="#9109e5"/><stop offset="0.1571" stop-color="#8605fc"/><stop offset="0.1959" stop-color="#7a03fd"/><stop offset="0.2306" stop-color="#6f02ec"/><stop offset="0.2707" stop-color="#5e01c1"/><stop offset="0.3122" stop-color="#4e008e"/><stop offset="0.3376" stop-color="#49007c"/><stop offset="0.3603" stop-color="#4a0082"/><stop offset="0.3844" stop-color="#520099"/><stop offset="0.4365" stop-color="#7002ee"/><stop offset="0.4566" stop-color="#7c03fe"/><stop offset="0.4739" stop-color="#8706fb"/><stop offset="0.49" stop-color="#9008e6"/><stop offset="0.5033" stop-color="#990cc4"/><stop offset="0.5154" stop-color="#a21192"/><stop offset="0.5421" stop-color="#b21e13"/><stop offset="0.5461" stop-color="#b42002"/><stop offset="0.613" stop-color="#d14e00"/><stop offset="0.6878" stop-color="#e78e00"/><stop offset="0.752" stop-color="#f0b200"/><stop offset="0.7787" stop-color="#f0b100"/><stop offset="0.8175" stop-color="#ea9900"/><stop offset="0.9004" stop-color="#d14e00"/><stop offset="0.9432" stop-color="#c33300"/><stop offset="0.9993" stop-color="#b82400"/></linearGradient><linearGradient id="g146"><stop offset="0.0006684" stop-color="#a81568"/><stop offset="0.05949" stop-color="#9c0eb3"/><stop offset="0.1103" stop-color="#9209e2"/><stop offset="0.1571" stop-color="#8605fb"/><stop offset="0.1959" stop-color="#7b03fe"/><stop offset="0.2306" stop-color="#7002ee"/><stop offset="0.268" stop-color="#6001c7"/><stop offset="0.3135" stop-color="#4e008f"/><stop offset="0.3389" stop-color="#49007c"/><stop offset="0.3603" stop-color="#4a0081"/><stop offset="0.3857" stop-color="#510098"/><stop offset="0.4392" stop-color="#7002ef"/><stop offset="0.4579" stop-color="#7c03fe"/><stop offset="0.4753" stop-color="#8706fa"/><stop offset="0.4913" stop-color="#9109e5"/><stop offset="0.5033" stop-color="#990cc6"/><stop offset="0.5154" stop-color="#a11095"/><stop offset="0.5421" stop-color="#b21d17"/><stop offset="0.5475" stop-color="#b42000"/><stop offset="0.613" stop-color="#d14e00"/><stop offset="0.6878" stop-color="#e78e00"/><stop offset="0.752" stop-color="#f0b300"/><stop offset="0.7787" stop-color="#f0b100"/><stop offset="0.8189" stop-color="#ea9800"/><stop offset="0.8991" stop-color="#d25000"/><stop offset="0.9432" stop-color="#c33300"/><stop offset="0.9993" stop-color="#b82400"/></linearGradient><linearGradient id="g147"><stop offset="0.0006684" stop-color="#a91561"/><stop offset="0.05949" stop-color="#9d0eae"/><stop offset="0.1116" stop-color="#9209e0"/><stop offset="0.1584" stop-color="#8706fa"/><stop offset="0.1972" stop-color="#7c03fe"/><stop offset="0.232" stop-color="#7002ef"/><stop offset="0.268" stop-color="#6101ca"/><stop offset="0.3148" stop-color="#4f008f"/><stop offset="0.3416" stop-color="#49007c"/><stop offset="0.363" stop-color="#4a0082"/><stop offset="0.3884" stop-color="#52009a"/><stop offset="0.4405" stop-color="#7002ef"/><stop offset="0.4592" stop-color="#7c03fe"/><stop offset="0.4766" stop-color="#8706fa"/><stop offset="0.4926" stop-color="#9109e4"/><stop offset="0.5047" stop-color="#990cc4"/><stop offset="0.5167" stop-color="#a21192"/><stop offset="0.5434" stop-color="#b21e14"/><stop offset="0.5475" stop-color="#b42002"/><stop offset="0.6116" stop-color="#d04c00"/><stop offset="0.6865" stop-color="#e78d00"/><stop offset="0.752" stop-color="#f0b300"/><stop offset="0.7787" stop-color="#f0b200"/><stop offset="0.8189" stop-color="#ea9900"/><stop offset="0.8977" stop-color="#d35100"/><stop offset="0.9418" stop-color="#c43400"/><stop offset="0.9993" stop-color="#b82400"/></linearGradient><linearGradient id="g148"><stop offset="0.0006684" stop-color="#aa165a"/><stop offset="0.06083" stop-color="#9e0eab"/><stop offset="0.113" stop-color="#9309de"/><stop offset="0.1598" stop-color="#8806fa"/><stop offset="0.1972" stop-color="#7d03fe"/><stop offset="0.232" stop-color="#7102f1"/><stop offset="0.2667" stop-color="#6301cf"/><stop offset="0.3175" stop-color="#4e008e"/><stop offset="0.3429" stop-color="#49007c"/><stop offset="0.3643" stop-color="#4a0081"/><stop offset="0.3897" stop-color="#520099"/><stop offset="0.4432" stop-color="#7102f1"/><stop offset="0.4619" stop-color="#7d04ff"/><stop offset="0.4793" stop-color="#8806f9"/><stop offset="0.494" stop-color="#9109e3"/><stop offset="0.506" stop-color="#9a0cc2"/><stop offset="0.5194" stop-color="#a31289"/><stop offset="0.5448" stop-color="#b21e11"/><stop offset="0.5488" stop-color="#b42000"/><stop offset="0.6116" stop-color="#d04c00"/><stop offset="0.6865" stop-color="#e78d00"/><stop offset="0.752" stop-color="#f0b300"/><stop offset="0.7787" stop-color="#f0b200"/><stop offset="0.8189" stop-color="#ea9a00"/><stop offset="0.8964" stop-color="#d35300"/><stop offset="0.9418" stop-color="#c43400"/><stop offset="0.9993" stop-color="#b92500"/></linearGradient><linearGradient id="g149"><stop offset="0.0006684" stop-color="#aa1754"/><stop offset="0.06083" stop-color="#9f0fa6"/><stop offset="0.113" stop-color="#940adb"/><stop offset="0.1598" stop-color="#8806f8"/><stop offset="0.1972" stop-color="#7e04ff"/><stop offset="0.232" stop-color="#7202f3"/><stop offset="0.2654" stop-color="#6501d4"/><stop offset="0.3189" stop-color="#4e008f"/><stop offset="0.3456" stop-color="#49007c"/><stop offset="0.367" stop-color="#4a0082"/><stop offset="0.3924" stop-color="#52009a"/><stop offset="0.4445" stop-color="#7102f0"/><stop offset="0.4632" stop-color="#7d04ff"/><stop offset="0.4793" stop-color="#8706fa"/><stop offset="0.494" stop-color="#9109e5"/><stop offset="0.506" stop-color="#990cc4"/><stop offset="0.5194" stop-color="#a3118c"/><stop offset="0.5475" stop-color="#b31f09"/><stop offset="0.5501" stop-color="#b52000"/><stop offset="0.613" stop-color="#d14c00"/><stop offset="0.6865" stop-color="#e78d00"/><stop offset="0.752" stop-color="#f1b400"/><stop offset="0.7787" stop-color="#f0b300"/><stop offset="0.8189" stop-color="#eb9a00"/><stop offset="0.8964" stop-color="#d35300"/><stop offset="0.9418" stop-color="#c43500"/><stop offset="0.9993" stop-color="#b92500"/></linearGradient><linearGradient id="g150"><stop offset="0.0006684" stop-color="#ab174d"/><stop offset="0.06217" stop-color="#9f0fa3"/><stop offset="0.1156" stop-color="#940ada"/><stop offset="0.1624" stop-color="#8906f8"/><stop offset="0.1999" stop-color="#7e04ff"/><stop offset="0.2346" stop-color="#7202f3"/><stop offset="0.268" stop-color="#6501d4"/><stop offset="0.3202" stop-color="#4f008f"/><stop offset="0.3469" stop-color="#49007c"/><stop offset="0.367" stop-color="#4a0081"/><stop offset="0.3937" stop-color="#52009a"/><stop offset="0.4459" stop-color="#7102f0"/><stop offset="0.4646" stop-color="#7d04ff"/><stop offset="0.4806" stop-color="#8806fa"/><stop offset="0.4953" stop-color="#9109e4"/><stop offset="0.5074" stop-color="#9a0cc2"/><stop offset="0.5207" stop-color="#a31288"/><stop offset="0.5501" stop-color="#b42000"/><stop offset="0.6116" stop-color="#d04b00"/><stop offset="0.6865" stop-color="#e78d00"/><stop offset="0.752" stop-color="#f1b400"/><stop offset="0.7787" stop-color="#f0b300"/><stop offset="0.8189" stop-color="#eb9b00"/><stop offset="0.8951" stop-color="#d45400"/><stop offset="0.9405" stop-color="#c53600"/><stop offset="0.9993" stop-color="#b92500"/></linearGradient><linearGradient id="g151"><stop offset="0.0006684" stop-color="#ac1847"/><stop offset="0.06217" stop-color="#a0109d"/><stop offset="0.1156" stop-color="#950ad6"/><stop offset="0.1624" stop-color="#8a06f7"/><stop offset="0.1999" stop-color="#7f04ff"/><stop offset="0.2346" stop-color="#7302f4"/><stop offset="0.268" stop-color="#6601d7"/><stop offset="0.3229" stop-color="#4e008e"/><stop offset="0.3496" stop-color="#49007c"/><stop offset="0.3697" stop-color="#4a0081"/><stop offset="0.3964" stop-color="#52009b"/><stop offset="0.4485" stop-color="#7102f1"/><stop offset="0.4659" stop-color="#7d04ff"/><stop offset="0.482" stop-color="#8806f9"/><stop offset="0.4967" stop-color="#9209e3"/><stop offset="0.5087" stop-color="#9a0cbf"/><stop offset="0.5247" stop-color="#a61378"/><stop offset="0.5501" stop-color="#b42003"/><stop offset="0.5568" stop-color="#b72300"/><stop offset="0.617" stop-color="#d24f00"/><stop offset="0.6865" stop-color="#e78e00"/><stop offset="0.752" stop-color="#f1b400"/><stop offset="0.7787" stop-color="#f1b400"/><stop offset="0.8189" stop-color="#eb9c00"/><stop offset="0.8951" stop-color="#d45500"/><stop offset="0.9418" stop-color="#c53600"/><stop offset="0.9993" stop-color="#b92600"/></linearGradient><linearGradient id="g152"><stop offset="0.0006684" stop-color="#ad1940"/><stop offset="0.0635" stop-color="#a1109a"/><stop offset="0.1183" stop-color="#950ad5"/><stop offset="0.1651" stop-color="#8a06f6"/><stop offset="0.2025" stop-color="#7f04ff"/><stop offset="0.2373" stop-color="#7302f5"/><stop offset="0.2694" stop-color="#6601d8"/><stop offset="0.3255" stop-color="#4e008e"/><stop offset="0.3523" stop-color="#48007c"/><stop offset="0.3723" stop-color="#4a0082"/><stop offset="0.3991" stop-color="#53009c"/><stop offset="0.4499" stop-color="#7102f1"/><stop offset="0.4672" stop-color="#7d04ff"/><stop offset="0.4833" stop-color="#8806f9"/><stop offset="0.4967" stop-color="#9109e5"/><stop offset="0.5087" stop-color="#9a0cc1"/><stop offset="0.5247" stop-color="#a5137b"/><stop offset="0.5515" stop-color="#b42000"/><stop offset="0.6116" stop-color="#d04a00"/><stop offset="0.6865" stop-color="#e78e00"/><stop offset="0.752" stop-color="#f1b500"/><stop offset="0.7787" stop-color="#f1b500"/><stop offset="0.8189" stop-color="#eb9c00"/><stop offset="0.8937" stop-color="#d55600"/><stop offset="0.9405" stop-color="#c53700"/><stop offset="0.9993" stop-color="#ba2600"/></linearGradient><linearGradient id="g153"><stop offset="0.0006684" stop-color="#ae193a"/><stop offset="0.06484" stop-color="#a11096"/><stop offset="0.121" stop-color="#960ad4"/><stop offset="0.1678" stop-color="#8a06f6"/><stop offset="0.2052" stop-color="#7f04ff"/><stop offset="0.24" stop-color="#7302f5"/><stop offset="0.2721" stop-color="#6601d9"/><stop offset="0.3095" stop-color="#5500a4"/><stop offset="0.3322" stop-color="#4d0089"/><stop offset="0.3563" stop-color="#48007b"/><stop offset="0.3777" stop-color="#4b0084"/><stop offset="0.4017" stop-color="#53009d"/><stop offset="0.4512" stop-color="#7102f1"/><stop offset="0.4686" stop-color="#7d04ff"/><stop offset="0.4846" stop-color="#8806f9"/><stop offset="0.498" stop-color="#9109e4"/><stop offset="0.51" stop-color="#9a0cbf"/><stop offset="0.5301" stop-color="#a81565"/><stop offset="0.5515" stop-color="#b41f03"/><stop offset="0.5568" stop-color="#b72200"/><stop offset="0.6156" stop-color="#d14e00"/><stop offset="0.6865" stop-color="#e78e00"/><stop offset="0.752" stop-color="#f1b500"/><stop offset="0.7787" stop-color="#f1b500"/><stop offset="0.8189" stop-color="#eb9d00"/><stop offset="0.8937" stop-color="#d55600"/><stop offset="0.9405" stop-color="#c53700"/><stop offset="0.9993" stop-color="#ba2600"/></linearGradient><linearGradient id="g154"><stop offset="0.0006684" stop-color="#ae1a35"/><stop offset="0.06618" stop-color="#a21193"/><stop offset="0.1237" stop-color="#960bd3"/><stop offset="0.1705" stop-color="#8a06f5"/><stop offset="0.2079" stop-color="#7f04ff"/><stop offset="0.2426" stop-color="#7302f5"/><stop offset="0.2747" stop-color="#6701d9"/><stop offset="0.3095" stop-color="#5600a8"/><stop offset="0.3322" stop-color="#4d008b"/><stop offset="0.3576" stop-color="#48007b"/><stop offset="0.3777" stop-color="#4a0082"/><stop offset="0.4031" stop-color="#53009c"/><stop offset="0.4525" stop-color="#7102f0"/><stop offset="0.4699" stop-color="#7d04fe"/><stop offset="0.4846" stop-color="#8706fa"/><stop offset="0.498" stop-color="#9108e6"/><stop offset="0.51" stop-color="#9a0cc1"/><stop offset="0.5301" stop-color="#a81568"/><stop offset="0.5528" stop-color="#b42000"/><stop offset="0.6116" stop-color="#cf4a00"/><stop offset="0.6878" stop-color="#e78f00"/><stop offset="0.7533" stop-color="#f1b600"/><stop offset="0.7801" stop-color="#f1b500"/><stop offset="0.8189" stop-color="#eb9e00"/><stop offset="0.8937" stop-color="#d55700"/><stop offset="0.9405" stop-color="#c63700"/><stop offset="0.9993" stop-color="#ba2700"/></linearGradient><linearGradient id="g155"><stop offset="0.0006684" stop-color="#af1b2f"/><stop offset="0.06751" stop-color="#a2118f"/><stop offset="0.1263" stop-color="#960bd1"/><stop offset="0.1731" stop-color="#8a07f5"/><stop offset="0.2092" stop-color="#8004ff"/><stop offset="0.244" stop-color="#7402f6"/><stop offset="0.2761" stop-color="#6701da"/><stop offset="0.3095" stop-color="#5700ac"/><stop offset="0.3322" stop-color="#4e008d"/><stop offset="0.359" stop-color="#48007b"/><stop offset="0.379" stop-color="#4a0081"/><stop offset="0.4057" stop-color="#53009d"/><stop offset="0.4552" stop-color="#7202f2"/><stop offset="0.4726" stop-color="#7e04ff"/><stop offset="0.4873" stop-color="#8806f9"/><stop offset="0.4993" stop-color="#9109e5"/><stop offset="0.5114" stop-color="#9a0cbf"/><stop offset="0.5541" stop-color="#b52000"/><stop offset="0.6116" stop-color="#cf4900"/><stop offset="0.6878" stop-color="#e78f00"/><stop offset="0.7533" stop-color="#f1b600"/><stop offset="0.7801" stop-color="#f1b600"/><stop offset="0.8202" stop-color="#eb9d00"/><stop offset="0.8937" stop-color="#d55700"/><stop offset="0.9405" stop-color="#c63800"/><stop offset="0.9993" stop-color="#bb2700"/></linearGradient><linearGradient id="g156"><stop offset="0.0006684" stop-color="#b01b2a"/><stop offset="0.07019" stop-color="#a3118e"/><stop offset="0.1303" stop-color="#960bd1"/><stop offset="0.1758" stop-color="#8b07f4"/><stop offset="0.2119" stop-color="#8004ff"/><stop offset="0.2467" stop-color="#7402f6"/><stop offset="0.2787" stop-color="#6701db"/><stop offset="0.3108" stop-color="#5800ae"/><stop offset="0.3336" stop-color="#4e008d"/><stop offset="0.3616" stop-color="#48007b"/><stop offset="0.3817" stop-color="#4a0081"/><stop offset="0.4071" stop-color="#53009c"/><stop offset="0.4566" stop-color="#7102f1"/><stop offset="0.4739" stop-color="#7e04ff"/><stop offset="0.4886" stop-color="#8806f9"/><stop offset="0.5007" stop-color="#9109e4"/><stop offset="0.5127" stop-color="#9b0dbd"/><stop offset="0.5541" stop-color="#b42001"/><stop offset="0.6116" stop-color="#cf4900"/><stop offset="0.6878" stop-color="#e78f00"/><stop offset="0.7547" stop-color="#f1b700"/><stop offset="0.7814" stop-color="#f1b600"/><stop offset="0.8202" stop-color="#eb9e00"/><stop offset="0.8937" stop-color="#d55800"/><stop offset="0.9405" stop-color="#c63800"/><stop offset="0.9993" stop-color="#bb2700"/></linearGradient><linearGradient id="g157"><stop offset="0.0006684" stop-color="#b01c24"/><stop offset="0.07286" stop-color="#a3118c"/><stop offset="0.1357" stop-color="#960bd2"/><stop offset="0.1811" stop-color="#8a06f5"/><stop offset="0.2172" stop-color="#7f04ff"/><stop offset="0.2507" stop-color="#7402f5"/><stop offset="0.2828" stop-color="#6701d9"/><stop offset="0.3135" stop-color="#5800ad"/><stop offset="0.3362" stop-color="#4e008d"/><stop offset="0.363" stop-color="#48007b"/><stop offset="0.3817" stop-color="#4a007f"/><stop offset="0.4084" stop-color="#52009b"/><stop offset="0.4579" stop-color="#7102f1"/><stop offset="0.4753" stop-color="#7e04ff"/><stop offset="0.49" stop-color="#8806f9"/><stop offset="0.502" stop-color="#9109e3"/><stop offset="0.514" stop-color="#9b0dba"/><stop offset="0.5555" stop-color="#b52000"/><stop offset="0.613" stop-color="#d04a00"/><stop offset="0.6878" stop-color="#e78f00"/><stop offset="0.7547" stop-color="#f1b800"/><stop offset="0.7814" stop-color="#f1b700"/><stop offset="0.8202" stop-color="#ec9f00"/><stop offset="0.8937" stop-color="#d65800"/><stop offset="0.9405" stop-color="#c63900"/><stop offset="0.9993" stop-color="#bb2800"/></linearGradient><linearGradient id="g158"><stop offset="0.0006684" stop-color="#b11c1f"/><stop offset="0.07553" stop-color="#a3118a"/><stop offset="0.1397" stop-color="#960bd2"/><stop offset="0.1852" stop-color="#8a06f5"/><stop offset="0.2199" stop-color="#7f04ff"/><stop offset="0.2533" stop-color="#7402f6"/><stop offset="0.2854" stop-color="#6701da"/><stop offset="0.3148" stop-color="#5900af"/><stop offset="0.3376" stop-color="#4e008e"/><stop offset="0.3643" stop-color="#48007a"/><stop offset="0.383" stop-color="#49007e"/><stop offset="0.4098" stop-color="#52009a"/><stop offset="0.4592" stop-color="#7102f1"/><stop offset="0.4766" stop-color="#7e04ff"/><stop offset="0.4913" stop-color="#8806f8"/><stop offset="0.5033" stop-color="#9209e2"/><stop offset="0.5154" stop-color="#9b0db8"/><stop offset="0.5555" stop-color="#b42001"/><stop offset="0.6116" stop-color="#cf4900"/><stop offset="0.6892" stop-color="#e89000"/><stop offset="0.756" stop-color="#f2b900"/><stop offset="0.7828" stop-color="#f1b700"/><stop offset="0.8215" stop-color="#eb9e00"/><stop offset="0.8937" stop-color="#d65900"/><stop offset="0.9405" stop-color="#c73900"/><stop offset="0.9993" stop-color="#bb2800"/></linearGradient><linearGradient id="g159"><stop offset="0.0006684" stop-color="#b11d1b"/><stop offset="0.07821" stop-color="#a31288"/><stop offset="0.1451" stop-color="#960ad4"/><stop offset="0.1905" stop-color="#8a06f6"/><stop offset="0.2253" stop-color="#7f04ff"/><stop offset="0.2587" stop-color="#7302f4"/><stop offset="0.2908" stop-color="#6601d7"/><stop offset="0.3189" stop-color="#5800ac"/><stop offset="0.3402" stop-color="#4e008d"/><stop offset="0.367" stop-color="#48007a"/><stop offset="0.3857" stop-color="#49007e"/><stop offset="0.4124" stop-color="#52009b"/><stop offset="0.4619" stop-color="#7202f2"/><stop offset="0.4779" stop-color="#7e04ff"/><stop offset="0.4913" stop-color="#8806fa"/><stop offset="0.5033" stop-color="#9109e5"/><stop offset="0.5154" stop-color="#9b0dbc"/><stop offset="0.5568" stop-color="#b52000"/><stop offset="0.613" stop-color="#cf4a00"/><stop offset="0.6892" stop-color="#e89000"/><stop offset="0.756" stop-color="#f2b900"/><stop offset="0.7828" stop-color="#f1b800"/><stop offset="0.8229" stop-color="#eb9d00"/><stop offset="0.8937" stop-color="#d65900"/><stop offset="0.9405" stop-color="#c73900"/><stop offset="0.9993" stop-color="#bc2800"/></linearGradient><linearGradient id="g160"><stop offset="0.0006684" stop-color="#b21d16"/><stop offset="0.08222" stop-color="#a31288"/><stop offset="0.1504" stop-color="#950ad5"/><stop offset="0.1945" stop-color="#8a06f7"/><stop offset="0.2293" stop-color="#7f04ff"/><stop offset="0.2627" stop-color="#7302f4"/><stop offset="0.2948" stop-color="#6501d6"/><stop offset="0.3229" stop-color="#5700aa"/><stop offset="0.3443" stop-color="#4d008b"/><stop offset="0.3697" stop-color="#480079"/><stop offset="0.3884" stop-color="#49007e"/><stop offset="0.4138" stop-color="#520099"/><stop offset="0.4632" stop-color="#7202f2"/><stop offset="0.4793" stop-color="#7e04ff"/><stop offset="0.4926" stop-color="#8806fa"/><stop offset="0.5047" stop-color="#9109e4"/><stop offset="0.5167" stop-color="#9b0dba"/><stop offset="0.5568" stop-color="#b42002"/><stop offset="0.613" stop-color="#cf4a00"/><stop offset="0.6892" stop-color="#e89000"/><stop offset="0.756" stop-color="#f2b900"/><stop offset="0.7814" stop-color="#f2b900"/><stop offset="0.8215" stop-color="#ec9f00"/><stop offset="0.8937" stop-color="#d65a00"/><stop offset="0.9418" stop-color="#c73900"/><stop offset="0.9993" stop-color="#bc2900"/></linearGradient><linearGradient id="g161"><stop offset="0.0006684" stop-color="#b21e12"/><stop offset="0.08757" stop-color="#a31289"/><stop offset="0.1571" stop-color="#950ad7"/><stop offset="0.1999" stop-color="#8906f7"/><stop offset="0.2333" stop-color="#7e04ff"/><stop offset="0.2667" stop-color="#7302f3"/><stop offset="0.2988" stop-color="#6501d4"/><stop offset="0.3295" stop-color="#5400a2"/><stop offset="0.3509" stop-color="#4c0087"/><stop offset="0.3737" stop-color="#470078"/><stop offset="0.3924" stop-color="#49007f"/><stop offset="0.4164" stop-color="#52009a"/><stop offset="0.4646" stop-color="#7102f1"/><stop offset="0.4806" stop-color="#7e04ff"/><stop offset="0.494" stop-color="#8806f9"/><stop offset="0.506" stop-color="#9109e3"/><stop offset="0.518" stop-color="#9b0db9"/><stop offset="0.5582" stop-color="#b42000"/><stop offset="0.6143" stop-color="#d04a00"/><stop offset="0.6905" stop-color="#e89100"/><stop offset="0.7574" stop-color="#f2ba00"/><stop offset="0.7828" stop-color="#f2b900"/><stop offset="0.8229" stop-color="#ec9f00"/><stop offset="0.8937" stop-color="#d65a00"/><stop offset="0.9418" stop-color="#c73a00"/><stop offset="0.9993" stop-color="#bc2900"/></linearGradient><linearGradient id="g162"><stop offset="0.0006684" stop-color="#b31e0e"/><stop offset="0.09425" stop-color="#a3118c"/><stop offset="0.1651" stop-color="#940ada"/><stop offset="0.2052" stop-color="#8906f8"/><stop offset="0.2386" stop-color="#7e04ff"/><stop offset="0.2707" stop-color="#7202f3"/><stop offset="0.3015" stop-color="#6501d5"/><stop offset="0.3456" stop-color="#4e008e"/><stop offset="0.3723" stop-color="#470078"/><stop offset="0.391" stop-color="#48007c"/><stop offset="0.4164" stop-color="#510096"/><stop offset="0.4672" stop-color="#7202f3"/><stop offset="0.4833" stop-color="#7f04ff"/><stop offset="0.4967" stop-color="#8906f8"/><stop offset="0.5074" stop-color="#9209e2"/><stop offset="0.5194" stop-color="#9b0db8"/><stop offset="0.5582" stop-color="#b42003"/><stop offset="0.6143" stop-color="#d04a00"/><stop offset="0.6905" stop-color="#e89100"/><stop offset="0.7574" stop-color="#f2bb00"/><stop offset="0.7828" stop-color="#f2ba00"/><stop offset="0.8229" stop-color="#ec9f00"/><stop offset="0.8937" stop-color="#d75a00"/><stop offset="0.9418" stop-color="#c73a00"/><stop offset="0.9993" stop-color="#bc2a00"/></linearGradient><linearGradient id="g163"><stop offset="0.0006684" stop-color="#b31f0a"/><stop offset="0.1036" stop-color="#a21192"/><stop offset="0.1731" stop-color="#9309de"/><stop offset="0.2119" stop-color="#8806fa"/><stop offset="0.2453" stop-color="#7d03fe"/><stop offset="0.2774" stop-color="#7102f0"/><stop offset="0.3082" stop-color="#6301d0"/><stop offset="0.3483" stop-color="#4e008e"/><stop offset="0.3737" stop-color="#470078"/><stop offset="0.391" stop-color="#48007a"/><stop offset="0.4164" stop-color="#500093"/><stop offset="0.4525" stop-color="#6601d6"/><stop offset="0.4726" stop-color="#7502f7"/><stop offset="0.4873" stop-color="#8104ff"/><stop offset="0.4993" stop-color="#8a06f6"/><stop offset="0.51" stop-color="#9309de"/><stop offset="0.5234" stop-color="#9e0eab"/><stop offset="0.5595" stop-color="#b42000"/><stop offset="0.6156" stop-color="#d04b00"/><stop offset="0.6918" stop-color="#e89200"/><stop offset="0.7574" stop-color="#f2bb00"/><stop offset="0.7828" stop-color="#f2ba00"/><stop offset="0.8229" stop-color="#eca000"/><stop offset="0.8937" stop-color="#d75b00"/><stop offset="0.9418" stop-color="#c83b00"/><stop offset="0.9993" stop-color="#bd2a00"/></linearGradient><linearGradient id="g164"><stop offset="0.0006684" stop-color="#b41f07"/><stop offset="0.1183" stop-color="#a0109e"/><stop offset="0.1838" stop-color="#9109e4"/><stop offset="0.2199" stop-color="#8605fb"/><stop offset="0.2533" stop-color="#7b03fe"/><stop offset="0.2841" stop-color="#6f02ee"/><stop offset="0.3135" stop-color="#6201cc"/><stop offset="0.3496" stop-color="#4f008f"/><stop offset="0.375" stop-color="#470078"/><stop offset="0.3924" stop-color="#470078"/><stop offset="0.4178" stop-color="#4f0091"/><stop offset="0.4485" stop-color="#6101ca"/><stop offset="0.4713" stop-color="#7302f4"/><stop offset="0.486" stop-color="#7e04ff"/><stop offset="0.4993" stop-color="#8906f7"/><stop offset="0.51" stop-color="#9209e1"/><stop offset="0.5221" stop-color="#9c0db6"/><stop offset="0.5608" stop-color="#b52000"/><stop offset="0.617" stop-color="#d04c00"/><stop offset="0.6918" stop-color="#e89200"/><stop offset="0.7587" stop-color="#f2bc00"/><stop offset="0.7841" stop-color="#f2bb00"/><stop offset="0.8255" stop-color="#ec9e00"/><stop offset="0.8937" stop-color="#d75b00"/><stop offset="0.9418" stop-color="#c83b00"/><stop offset="0.9993" stop-color="#bd2a00"/></linearGradient><linearGradient id="g165"><stop offset="0.0006684" stop-color="#b41f04"/><stop offset="0.1384" stop-color="#9d0eb0"/><stop offset="0.1972" stop-color="#8e08ec"/><stop offset="0.2306" stop-color="#8405fd"/><stop offset="0.264" stop-color="#7903fc"/><stop offset="0.2948" stop-color="#6c01e7"/><stop offset="0.3215" stop-color="#5f01c4"/><stop offset="0.3523" stop-color="#4e008f"/><stop offset="0.3777" stop-color="#470077"/><stop offset="0.3951" stop-color="#470078"/><stop offset="0.4191" stop-color="#4e008f"/><stop offset="0.4472" stop-color="#5f01c3"/><stop offset="0.4726" stop-color="#7302f3"/><stop offset="0.4873" stop-color="#7e04ff"/><stop offset="0.5007" stop-color="#8906f7"/><stop offset="0.5114" stop-color="#9209e1"/><stop offset="0.5234" stop-color="#9c0db6"/><stop offset="0.5541" stop-color="#b01c23"/><stop offset="0.5608" stop-color="#b42002"/><stop offset="0.617" stop-color="#d04c00"/><stop offset="0.6932" stop-color="#e99300"/><stop offset="0.7587" stop-color="#f3bd00"/><stop offset="0.7841" stop-color="#f2bb00"/><stop offset="0.8255" stop-color="#ec9f00"/><stop offset="0.8937" stop-color="#d75c00"/><stop offset="0.9418" stop-color="#c83b00"/><stop offset="0.9993" stop-color="#bd2b00"/></linearGradient><linearGradient id="g166"><stop offset="0.0006684" stop-color="#b42000"/><stop offset="0.1598" stop-color="#990cc3"/><stop offset="0.2079" stop-color="#8c07f1"/><stop offset="0.2413" stop-color="#8204ff"/><stop offset="0.2734" stop-color="#7603f9"/><stop offset="0.3028" stop-color="#6a01e2"/><stop offset="0.3282" stop-color="#5d01bd"/><stop offset="0.3549" stop-color="#4e008e"/><stop offset="0.379" stop-color="#470076"/><stop offset="0.3964" stop-color="#470077"/><stop offset="0.4205" stop-color="#4e008d"/><stop offset="0.4472" stop-color="#5e01bf"/><stop offset="0.4739" stop-color="#7202f3"/><stop offset="0.4886" stop-color="#7e04ff"/><stop offset="0.5007" stop-color="#8806f9"/><stop offset="0.5127" stop-color="#9209e1"/><stop offset="0.5261" stop-color="#9d0eb0"/><stop offset="0.5568" stop-color="#b11d1a"/><stop offset="0.5622" stop-color="#b42000"/><stop offset="0.6183" stop-color="#d14d00"/><stop offset="0.6945" stop-color="#e99400"/><stop offset="0.7587" stop-color="#f3bd00"/><stop offset="0.7841" stop-color="#f2bc00"/><stop offset="0.8255" stop-color="#eca000"/><stop offset="0.8937" stop-color="#d75c00"/><stop offset="0.9418" stop-color="#c83c00"/><stop offset="0.9993" stop-color="#be2b00"/></linearGradient><linearGradient id="g167"><stop offset="0.0006684" stop-color="#b52000"/><stop offset="0.1785" stop-color="#960bd3"/><stop offset="0.2172" stop-color="#8b07f5"/><stop offset="0.2507" stop-color="#8004ff"/><stop offset="0.2814" stop-color="#7402f6"/><stop offset="0.3108" stop-color="#6801dc"/><stop offset="0.3362" stop-color="#5a00b3"/><stop offset="0.359" stop-color="#4e008c"/><stop offset="0.3817" stop-color="#460075"/><stop offset="0.3991" stop-color="#470076"/><stop offset="0.4231" stop-color="#4e008d"/><stop offset="0.4499" stop-color="#5e01c0"/><stop offset="0.4753" stop-color="#7202f3"/><stop offset="0.49" stop-color="#7e04ff"/><stop offset="0.502" stop-color="#8806f9"/><stop offset="0.514" stop-color="#9209e0"/><stop offset="0.5274" stop-color="#9d0eaf"/><stop offset="0.5528" stop-color="#ae1a33"/><stop offset="0.5622" stop-color="#b41f04"/><stop offset="0.5662" stop-color="#b62200"/><stop offset="0.625" stop-color="#d35300"/><stop offset="0.6959" stop-color="#e99500"/><stop offset="0.7587" stop-color="#f3be00"/><stop offset="0.7841" stop-color="#f2bd00"/><stop offset="0.8269" stop-color="#ec9f00"/><stop offset="0.8937" stop-color="#d85d00"/><stop offset="0.9418" stop-color="#c93c00"/><stop offset="0.9993" stop-color="#be2b00"/></linearGradient><linearGradient id="g168"><stop offset="0.0006684" stop-color="#b52100"/><stop offset="0.01003" stop-color="#b41f06"/><stop offset="0.1798" stop-color="#970bd0"/><stop offset="0.2186" stop-color="#8b07f3"/><stop offset="0.252" stop-color="#8004ff"/><stop offset="0.2828" stop-color="#7502f8"/><stop offset="0.3122" stop-color="#6801de"/><stop offset="0.3362" stop-color="#5b01b7"/><stop offset="0.3603" stop-color="#4e008d"/><stop offset="0.383" stop-color="#460075"/><stop offset="0.4004" stop-color="#460075"/><stop offset="0.4245" stop-color="#4d008b"/><stop offset="0.4499" stop-color="#5c01bc"/><stop offset="0.4766" stop-color="#7202f2"/><stop offset="0.4913" stop-color="#7e04ff"/><stop offset="0.5033" stop-color="#8806f9"/><stop offset="0.5154" stop-color="#9209e0"/><stop offset="0.5287" stop-color="#9d0eaf"/><stop offset="0.5515" stop-color="#ad1940"/><stop offset="0.5635" stop-color="#b42002"/><stop offset="0.6197" stop-color="#d14d00"/><stop offset="0.6959" stop-color="#e99500"/><stop offset="0.76" stop-color="#f3bf00"/><stop offset="0.7854" stop-color="#f3bd00"/><stop offset="0.8282" stop-color="#ec9e00"/><stop offset="0.8937" stop-color="#d85d00"/><stop offset="0.9432" stop-color="#c83c00"/><stop offset="0.9993" stop-color="#be2c00"/></linearGradient><linearGradient id="g169"><stop offset="0.0006684" stop-color="#b52100"/><stop offset="0.01136" stop-color="#b41f04"/><stop offset="0.1544" stop-color="#9e0ead"/><stop offset="0.2106" stop-color="#8f08eb"/><stop offset="0.244" stop-color="#8405fd"/><stop offset="0.2761" stop-color="#7903fc"/><stop offset="0.3055" stop-color="#6d02e8"/><stop offset="0.3309" stop-color="#6001c6"/><stop offset="0.3616" stop-color="#4e008e"/><stop offset="0.3844" stop-color="#460075"/><stop offset="0.4017" stop-color="#460074"/><stop offset="0.4245" stop-color="#4c0088"/><stop offset="0.4459" stop-color="#5800ae"/><stop offset="0.4779" stop-color="#7202f2"/><stop offset="0.4913" stop-color="#7d04ff"/><stop offset="0.5033" stop-color="#8706fa"/><stop offset="0.5154" stop-color="#9109e3"/><stop offset="0.5274" stop-color="#9b0dba"/><stop offset="0.5448" stop-color="#a81568"/><stop offset="0.5648" stop-color="#b42000"/><stop offset="0.621" stop-color="#d14e00"/><stop offset="0.6972" stop-color="#e99600"/><stop offset="0.76" stop-color="#f3bf00"/><stop offset="0.7854" stop-color="#f3bd00"/><stop offset="0.8282" stop-color="#ec9f00"/><stop offset="0.8937" stop-color="#d85e00"/><stop offset="0.9432" stop-color="#c93d00"/><stop offset="0.9993" stop-color="#be2c00"/></linearGradient><linearGradient id="g170"><stop offset="0.0006684" stop-color="#b62100"/><stop offset="0.01404" stop-color="#b41f04"/><stop offset="0.1183" stop-color="#a5137b"/><stop offset="0.2092" stop-color="#9008e6"/><stop offset="0.2426" stop-color="#8605fc"/><stop offset="0.2747" stop-color="#7b03fd"/><stop offset="0.3041" stop-color="#6f02ec"/><stop offset="0.3295" stop-color="#6201cd"/><stop offset="0.3643" stop-color="#4e008d"/><stop offset="0.387" stop-color="#460074"/><stop offset="0.4044" stop-color="#460074"/><stop offset="0.4271" stop-color="#4c0088"/><stop offset="0.4485" stop-color="#5900b0"/><stop offset="0.4793" stop-color="#7102f1"/><stop offset="0.4926" stop-color="#7d04ff"/><stop offset="0.5047" stop-color="#8706fa"/><stop offset="0.5167" stop-color="#9109e3"/><stop offset="0.5287" stop-color="#9b0db9"/><stop offset="0.5461" stop-color="#a81567"/><stop offset="0.5648" stop-color="#b41f04"/><stop offset="0.5675" stop-color="#b52100"/><stop offset="0.6263" stop-color="#d35300"/><stop offset="0.6999" stop-color="#ea9800"/><stop offset="0.76" stop-color="#f3bf00"/><stop offset="0.7841" stop-color="#f3be00"/><stop offset="0.8269" stop-color="#eca100"/><stop offset="0.8937" stop-color="#d85e00"/><stop offset="0.9432" stop-color="#c93d00"/><stop offset="0.9993" stop-color="#bf2d00"/></linearGradient><linearGradient id="g171"><stop offset="0.0006684" stop-color="#b62100"/><stop offset="0.01671" stop-color="#b42003"/><stop offset="0.1049" stop-color="#a81564"/><stop offset="0.2119" stop-color="#9108e6"/><stop offset="0.2453" stop-color="#8605fb"/><stop offset="0.2774" stop-color="#7b03fd"/><stop offset="0.3068" stop-color="#6f02ed"/><stop offset="0.3322" stop-color="#6201cd"/><stop offset="0.367" stop-color="#4e008c"/><stop offset="0.3884" stop-color="#460074"/><stop offset="0.4057" stop-color="#460073"/><stop offset="0.4285" stop-color="#4c0086"/><stop offset="0.4499" stop-color="#5800ae"/><stop offset="0.4806" stop-color="#7102f1"/><stop offset="0.494" stop-color="#7d04ff"/><stop offset="0.506" stop-color="#8706fa"/><stop offset="0.518" stop-color="#9209e3"/><stop offset="0.5301" stop-color="#9b0db9"/><stop offset="0.5461" stop-color="#a7146d"/><stop offset="0.5662" stop-color="#b42002"/><stop offset="0.6237" stop-color="#d25000"/><stop offset="0.7012" stop-color="#ea9900"/><stop offset="0.76" stop-color="#f3c000"/><stop offset="0.7841" stop-color="#f3bf00"/><stop offset="0.8282" stop-color="#eca000"/><stop offset="0.8937" stop-color="#d85f00"/><stop offset="0.9432" stop-color="#c93e00"/><stop offset="0.9993" stop-color="#bf2d00"/></linearGradient><linearGradient id="g172"><stop offset="0.0006684" stop-color="#b62200"/><stop offset="0.01939" stop-color="#b42002"/><stop offset="0.09826" stop-color="#aa1656"/><stop offset="0.2132" stop-color="#9109e3"/><stop offset="0.2453" stop-color="#8706fa"/><stop offset="0.2774" stop-color="#7c03fe"/><stop offset="0.3068" stop-color="#7002ef"/><stop offset="0.3322" stop-color="#6401d0"/><stop offset="0.3683" stop-color="#4e008d"/><stop offset="0.3897" stop-color="#460074"/><stop offset="0.4071" stop-color="#450072"/><stop offset="0.4285" stop-color="#4b0083"/><stop offset="0.4485" stop-color="#5600a7"/><stop offset="0.482" stop-color="#7102f1"/><stop offset="0.4953" stop-color="#7d04ff"/><stop offset="0.5074" stop-color="#8706fa"/><stop offset="0.5194" stop-color="#9209e2"/><stop offset="0.5314" stop-color="#9b0db8"/><stop offset="0.5475" stop-color="#a7146b"/><stop offset="0.5675" stop-color="#b42000"/><stop offset="0.625" stop-color="#d25100"/><stop offset="0.7025" stop-color="#eb9a00"/><stop offset="0.76" stop-color="#f3c000"/><stop offset="0.7841" stop-color="#f3c000"/><stop offset="0.8282" stop-color="#eca100"/><stop offset="0.8924" stop-color="#d96100"/><stop offset="0.9432" stop-color="#c93e00"/><stop offset="0.9993" stop-color="#bf2d00"/></linearGradient><linearGradient id="g173"><stop offset="0.0006684" stop-color="#b62200"/><stop offset="0.0234" stop-color="#b42003"/><stop offset="0.09559" stop-color="#ab174d"/><stop offset="0.2106" stop-color="#9309dd"/><stop offset="0.244" stop-color="#8906f8"/><stop offset="0.2761" stop-color="#7e04ff"/><stop offset="0.3055" stop-color="#7202f2"/><stop offset="0.3322" stop-color="#6501d4"/><stop offset="0.371" stop-color="#4d008c"/><stop offset="0.3924" stop-color="#450072"/><stop offset="0.4111" stop-color="#450072"/><stop offset="0.4325" stop-color="#4b0085"/><stop offset="0.4525" stop-color="#5700ab"/><stop offset="0.4833" stop-color="#7102f1"/><stop offset="0.4967" stop-color="#7d04ff"/><stop offset="0.5087" stop-color="#8706fa"/><stop offset="0.5207" stop-color="#9209e2"/><stop offset="0.5328" stop-color="#9c0db7"/><stop offset="0.5488" stop-color="#a81569"/><stop offset="0.5689" stop-color="#b52000"/><stop offset="0.6277" stop-color="#d35300"/><stop offset="0.7052" stop-color="#eb9d00"/><stop offset="0.7614" stop-color="#f3c100"/><stop offset="0.7854" stop-color="#f3c000"/><stop offset="0.8295" stop-color="#eca000"/><stop offset="0.8924" stop-color="#d96100"/><stop offset="0.9432" stop-color="#ca3f00"/><stop offset="0.9993" stop-color="#bf2e00"/></linearGradient><linearGradient id="g174"><stop offset="0.0006684" stop-color="#b72200"/><stop offset="0.02741" stop-color="#b42003"/><stop offset="0.09291" stop-color="#ac1844"/><stop offset="0.1798" stop-color="#9d0eb1"/><stop offset="0.2226" stop-color="#9108e6"/><stop offset="0.256" stop-color="#8605fc"/><stop offset="0.2868" stop-color="#7b03fd"/><stop offset="0.3148" stop-color="#6f02ec"/><stop offset="0.3389" stop-color="#6201cd"/><stop offset="0.3723" stop-color="#4e008c"/><stop offset="0.3937" stop-color="#450072"/><stop offset="0.4124" stop-color="#450072"/><stop offset="0.4325" stop-color="#4a0082"/><stop offset="0.4512" stop-color="#5500a4"/><stop offset="0.4846" stop-color="#7102f1"/><stop offset="0.498" stop-color="#7d04ff"/><stop offset="0.51" stop-color="#8806fa"/><stop offset="0.5207" stop-color="#9109e5"/><stop offset="0.5328" stop-color="#9b0dbc"/><stop offset="0.5488" stop-color="#a7146f"/><stop offset="0.5689" stop-color="#b42002"/><stop offset="0.6263" stop-color="#d35100"/><stop offset="0.7066" stop-color="#eb9e00"/><stop offset="0.7614" stop-color="#f4c200"/><stop offset="0.7854" stop-color="#f3c000"/><stop offset="0.8309" stop-color="#ec9f00"/><stop offset="0.8924" stop-color="#d96100"/><stop offset="0.9432" stop-color="#ca3f00"/><stop offset="0.9993" stop-color="#c02e00"/></linearGradient><linearGradient id="g175"><stop offset="0.0006684" stop-color="#b72300"/><stop offset="0.03142" stop-color="#b42002"/><stop offset="0.09158" stop-color="#ad193c"/><stop offset="0.1705" stop-color="#a00f9f"/><stop offset="0.2213" stop-color="#9209e1"/><stop offset="0.2547" stop-color="#8706fa"/><stop offset="0.2854" stop-color="#7c03fe"/><stop offset="0.3135" stop-color="#7002f0"/><stop offset="0.3376" stop-color="#6401d3"/><stop offset="0.3737" stop-color="#4e008c"/><stop offset="0.3951" stop-color="#450072"/><stop offset="0.4138" stop-color="#450071"/><stop offset="0.4338" stop-color="#4a0081"/><stop offset="0.4525" stop-color="#5500a3"/><stop offset="0.4846" stop-color="#7002ee"/><stop offset="0.498" stop-color="#7c03fe"/><stop offset="0.51" stop-color="#8605fb"/><stop offset="0.5207" stop-color="#9008e8"/><stop offset="0.5328" stop-color="#9a0cc0"/><stop offset="0.5488" stop-color="#a61473"/><stop offset="0.5702" stop-color="#b42000"/><stop offset="0.629" stop-color="#d35300"/><stop offset="0.7092" stop-color="#eca000"/><stop offset="0.7614" stop-color="#f4c200"/><stop offset="0.7854" stop-color="#f3c100"/><stop offset="0.8309" stop-color="#eca000"/><stop offset="0.891" stop-color="#da6300"/><stop offset="0.9418" stop-color="#cb4000"/><stop offset="0.9993" stop-color="#c02e00"/></linearGradient><linearGradient id="g176"><stop offset="0.0006684" stop-color="#b72300"/><stop offset="0.03543" stop-color="#b42002"/><stop offset="0.09024" stop-color="#ae1a35"/><stop offset="0.1638" stop-color="#a21190"/><stop offset="0.2213" stop-color="#9309de"/><stop offset="0.2547" stop-color="#8806f8"/><stop offset="0.2854" stop-color="#7d04ff"/><stop offset="0.3135" stop-color="#7202f2"/><stop offset="0.3389" stop-color="#6501d4"/><stop offset="0.375" stop-color="#4e008c"/><stop offset="0.3964" stop-color="#450072"/><stop offset="0.4151" stop-color="#450070"/><stop offset="0.4352" stop-color="#4a0080"/><stop offset="0.4539" stop-color="#5400a2"/><stop offset="0.486" stop-color="#7002ef"/><stop offset="0.4993" stop-color="#7c03fe"/><stop offset="0.5114" stop-color="#8706fb"/><stop offset="0.5221" stop-color="#9008e7"/><stop offset="0.5341" stop-color="#9a0cbf"/><stop offset="0.5501" stop-color="#a71471"/><stop offset="0.5702" stop-color="#b41f04"/><stop offset="0.5729" stop-color="#b52100"/><stop offset="0.6344" stop-color="#d55800"/><stop offset="0.7119" stop-color="#eda200"/><stop offset="0.7627" stop-color="#f4c300"/><stop offset="0.7868" stop-color="#f3c100"/><stop offset="0.8322" stop-color="#ec9f00"/><stop offset="0.891" stop-color="#da6300"/><stop offset="0.9432" stop-color="#cb4000"/><stop offset="0.9993" stop-color="#c02f00"/></linearGradient><linearGradient id="g177"><stop offset="0.0006684" stop-color="#b72300"/><stop offset="0.04078" stop-color="#b42002"/><stop offset="0.09158" stop-color="#af1a30"/><stop offset="0.1611" stop-color="#a41286"/><stop offset="0.2226" stop-color="#930adc"/><stop offset="0.256" stop-color="#8906f8"/><stop offset="0.2868" stop-color="#7e04ff"/><stop offset="0.3148" stop-color="#7202f2"/><stop offset="0.3389" stop-color="#6601d7"/><stop offset="0.3777" stop-color="#4d008a"/><stop offset="0.3977" stop-color="#450071"/><stop offset="0.4164" stop-color="#440070"/><stop offset="0.4352" stop-color="#49007d"/><stop offset="0.4539" stop-color="#53009e"/><stop offset="0.4873" stop-color="#7002ef"/><stop offset="0.5007" stop-color="#7c03fe"/><stop offset="0.5127" stop-color="#8706fb"/><stop offset="0.5234" stop-color="#9008e7"/><stop offset="0.5354" stop-color="#9b0dbd"/><stop offset="0.5528" stop-color="#a81567"/><stop offset="0.5715" stop-color="#b42001"/><stop offset="0.6303" stop-color="#d35300"/><stop offset="0.7119" stop-color="#eda300"/><stop offset="0.7627" stop-color="#f4c300"/><stop offset="0.7868" stop-color="#f3c100"/><stop offset="0.8322" stop-color="#eca000"/><stop offset="0.891" stop-color="#da6400"/><stop offset="0.9432" stop-color="#cb4100"/><stop offset="0.9993" stop-color="#c12f00"/></linearGradient><linearGradient id="g178"><stop offset="0.0006684" stop-color="#b82400"/><stop offset="0.04746" stop-color="#b42003"/><stop offset="0.09425" stop-color="#af1b2d"/><stop offset="0.1598" stop-color="#a5137f"/><stop offset="0.2239" stop-color="#940ada"/><stop offset="0.2574" stop-color="#8906f7"/><stop offset="0.2881" stop-color="#7e04ff"/><stop offset="0.3148" stop-color="#7302f4"/><stop offset="0.3402" stop-color="#6601d8"/><stop offset="0.3656" stop-color="#5500a3"/><stop offset="0.3897" stop-color="#48007b"/><stop offset="0.4057" stop-color="#44006e"/><stop offset="0.4285" stop-color="#460074"/><stop offset="0.4459" stop-color="#4d008a"/><stop offset="0.4672" stop-color="#5d01bc"/><stop offset="0.4886" stop-color="#7002ef"/><stop offset="0.502" stop-color="#7c03fe"/><stop offset="0.514" stop-color="#8706fa"/><stop offset="0.5247" stop-color="#9008e6"/><stop offset="0.5368" stop-color="#9b0dbb"/><stop offset="0.5555" stop-color="#a9165d"/><stop offset="0.5729" stop-color="#b42000"/><stop offset="0.6317" stop-color="#d45400"/><stop offset="0.7132" stop-color="#eda400"/><stop offset="0.7627" stop-color="#f4c400"/><stop offset="0.7868" stop-color="#f4c200"/><stop offset="0.8322" stop-color="#eca000"/><stop offset="0.8897" stop-color="#db6500"/><stop offset="0.9418" stop-color="#cb4200"/><stop offset="0.9993" stop-color="#c13000"/></linearGradient><linearGradient id="g179"><stop offset="0.0006684" stop-color="#b82400"/><stop offset="0.05281" stop-color="#b42002"/><stop offset="0.09693" stop-color="#af1b2a"/><stop offset="0.1584" stop-color="#a61377"/><stop offset="0.2253" stop-color="#950ad8"/><stop offset="0.2587" stop-color="#8a06f6"/><stop offset="0.2881" stop-color="#7f04ff"/><stop offset="0.3148" stop-color="#7402f6"/><stop offset="0.3402" stop-color="#6701da"/><stop offset="0.3616" stop-color="#5900af"/><stop offset="0.3817" stop-color="#4c0088"/><stop offset="0.4004" stop-color="#450071"/><stop offset="0.4205" stop-color="#44006f"/><stop offset="0.4378" stop-color="#48007b"/><stop offset="0.4566" stop-color="#53009d"/><stop offset="0.4886" stop-color="#6f02ed"/><stop offset="0.502" stop-color="#7b03fe"/><stop offset="0.514" stop-color="#8605fc"/><stop offset="0.5247" stop-color="#9008e9"/><stop offset="0.5354" stop-color="#990cc4"/><stop offset="0.5515" stop-color="#a61376"/><stop offset="0.5729" stop-color="#b42003"/><stop offset="0.6317" stop-color="#d35300"/><stop offset="0.7132" stop-color="#eda400"/><stop offset="0.7627" stop-color="#f4c400"/><stop offset="0.7868" stop-color="#f4c200"/><stop offset="0.8322" stop-color="#eca100"/><stop offset="0.8897" stop-color="#db6600"/><stop offset="0.9418" stop-color="#cc4200"/><stop offset="0.9993" stop-color="#c13000"/></linearGradient><linearGradient id="g180"><stop offset="0.0006684" stop-color="#b82400"/><stop offset="0.05949" stop-color="#b42002"/><stop offset="0.1036" stop-color="#af1b2c"/><stop offset="0.1611" stop-color="#a61375"/><stop offset="0.2266" stop-color="#950ad6"/><stop offset="0.26" stop-color="#8a07f5"/><stop offset="0.2894" stop-color="#8004ff"/><stop offset="0.3162" stop-color="#7402f6"/><stop offset="0.3402" stop-color="#6801dd"/><stop offset="0.3603" stop-color="#5b01b6"/><stop offset="0.3803" stop-color="#4e008c"/><stop offset="0.4017" stop-color="#450070"/><stop offset="0.4218" stop-color="#44006e"/><stop offset="0.4392" stop-color="#48007a"/><stop offset="0.4579" stop-color="#53009d"/><stop offset="0.4886" stop-color="#6e02eb"/><stop offset="0.502" stop-color="#7a03fd"/><stop offset="0.514" stop-color="#8505fd"/><stop offset="0.5247" stop-color="#8f08eb"/><stop offset="0.5354" stop-color="#980cc8"/><stop offset="0.5515" stop-color="#a5137a"/><stop offset="0.5742" stop-color="#b42000"/><stop offset="0.633" stop-color="#d45400"/><stop offset="0.7146" stop-color="#eda500"/><stop offset="0.7627" stop-color="#f4c400"/><stop offset="0.7868" stop-color="#f4c300"/><stop offset="0.8322" stop-color="#eca100"/><stop offset="0.8897" stop-color="#db6600"/><stop offset="0.9418" stop-color="#cc4300"/><stop offset="0.9993" stop-color="#c13000"/></linearGradient><linearGradient id="g181"><stop offset="0.0006684" stop-color="#b82500"/><stop offset="0.06618" stop-color="#b42002"/><stop offset="0.1143" stop-color="#af1a32"/><stop offset="0.1691" stop-color="#a5137b"/><stop offset="0.2266" stop-color="#960bd2"/><stop offset="0.26" stop-color="#8b07f3"/><stop offset="0.2894" stop-color="#8104ff"/><stop offset="0.3162" stop-color="#7502f8"/><stop offset="0.3402" stop-color="#6901e0"/><stop offset="0.359" stop-color="#5d01bd"/><stop offset="0.3803" stop-color="#4e008e"/><stop offset="0.4017" stop-color="#450071"/><stop offset="0.4205" stop-color="#44006d"/><stop offset="0.4392" stop-color="#470078"/><stop offset="0.4566" stop-color="#510096"/><stop offset="0.49" stop-color="#6e02ec"/><stop offset="0.5033" stop-color="#7b03fd"/><stop offset="0.5154" stop-color="#8505fc"/><stop offset="0.5261" stop-color="#8f08ea"/><stop offset="0.5368" stop-color="#990cc6"/><stop offset="0.5555" stop-color="#a81568"/><stop offset="0.5742" stop-color="#b42003"/><stop offset="0.5822" stop-color="#b92500"/><stop offset="0.6451" stop-color="#d96000"/><stop offset="0.7199" stop-color="#eeaa00"/><stop offset="0.764" stop-color="#f4c500"/><stop offset="0.7881" stop-color="#f4c200"/><stop offset="0.8336" stop-color="#eca100"/><stop offset="0.8884" stop-color="#db6800"/><stop offset="0.9418" stop-color="#cc4300"/><stop offset="0.9993" stop-color="#c23100"/></linearGradient><linearGradient id="g182"><stop offset="0.0006684" stop-color="#b92500"/><stop offset="0.07286" stop-color="#b42002"/><stop offset="0.1277" stop-color="#ad193c"/><stop offset="0.1811" stop-color="#a31288"/><stop offset="0.2293" stop-color="#960bd2"/><stop offset="0.264" stop-color="#8b07f4"/><stop offset="0.2934" stop-color="#8004ff"/><stop offset="0.3202" stop-color="#7402f6"/><stop offset="0.3443" stop-color="#6801dc"/><stop offset="0.363" stop-color="#5b01b7"/><stop offset="0.383" stop-color="#4d008c"/><stop offset="0.4044" stop-color="#450070"/><stop offset="0.4258" stop-color="#44006e"/><stop offset="0.4418" stop-color="#470079"/><stop offset="0.4606" stop-color="#52009b"/><stop offset="0.49" stop-color="#6d02ea"/><stop offset="0.5033" stop-color="#7a03fd"/><stop offset="0.5154" stop-color="#8405fd"/><stop offset="0.5261" stop-color="#8e08ed"/><stop offset="0.5368" stop-color="#980bc9"/><stop offset="0.5541" stop-color="#a61472"/><stop offset="0.5755" stop-color="#b42000"/><stop offset="0.633" stop-color="#d35200"/><stop offset="0.7146" stop-color="#eda600"/><stop offset="0.7627" stop-color="#f4c500"/><stop offset="0.7868" stop-color="#f4c400"/><stop offset="0.8322" stop-color="#eda300"/><stop offset="0.8884" stop-color="#dc6800"/><stop offset="0.9418" stop-color="#cd4400"/><stop offset="0.9993" stop-color="#c23100"/></linearGradient><linearGradient id="g183"><stop offset="0.0006684" stop-color="#b92500"/><stop offset="0.07955" stop-color="#b42002"/><stop offset="0.1384" stop-color="#ac1844"/><stop offset="0.1878" stop-color="#a3118e"/><stop offset="0.232" stop-color="#960bd1"/><stop offset="0.2667" stop-color="#8b07f4"/><stop offset="0.2948" stop-color="#8004ff"/><stop offset="0.3215" stop-color="#7502f7"/><stop offset="0.3456" stop-color="#6801dd"/><stop offset="0.3643" stop-color="#5b01b7"/><stop offset="0.3844" stop-color="#4d008b"/><stop offset="0.4057" stop-color="#44006f"/><stop offset="0.4271" stop-color="#44006d"/><stop offset="0.4432" stop-color="#470078"/><stop offset="0.4619" stop-color="#52009b"/><stop offset="0.4913" stop-color="#6e02ea"/><stop offset="0.5047" stop-color="#7a03fd"/><stop offset="0.5167" stop-color="#8505fd"/><stop offset="0.5274" stop-color="#8e08ec"/><stop offset="0.5368" stop-color="#970bcc"/><stop offset="0.5528" stop-color="#a5137d"/><stop offset="0.5755" stop-color="#b42003"/><stop offset="0.633" stop-color="#d35100"/><stop offset="0.7146" stop-color="#eda600"/><stop offset="0.7627" stop-color="#f4c600"/><stop offset="0.7868" stop-color="#f4c400"/><stop offset="0.8322" stop-color="#eda300"/><stop offset="0.887" stop-color="#dc6a00"/><stop offset="0.9405" stop-color="#cd4500"/><stop offset="0.9993" stop-color="#c23200"/></linearGradient><linearGradient id="g184"><stop offset="0.0006684" stop-color="#b92600"/><stop offset="0.08489" stop-color="#b42002"/><stop offset="0.1437" stop-color="#ac1845"/><stop offset="0.1905" stop-color="#a3118d"/><stop offset="0.2333" stop-color="#970bcf"/><stop offset="0.268" stop-color="#8b07f3"/><stop offset="0.2961" stop-color="#8104ff"/><stop offset="0.3215" stop-color="#7602f8"/><stop offset="0.3456" stop-color="#6901df"/><stop offset="0.3643" stop-color="#5c01ba"/><stop offset="0.3844" stop-color="#4e008d"/><stop offset="0.4057" stop-color="#450070"/><stop offset="0.4258" stop-color="#43006c"/><stop offset="0.4432" stop-color="#460075"/><stop offset="0.4606" stop-color="#500094"/><stop offset="0.4926" stop-color="#6e02eb"/><stop offset="0.506" stop-color="#7a03fd"/><stop offset="0.518" stop-color="#8505fd"/><stop offset="0.5287" stop-color="#8f08eb"/><stop offset="0.5381" stop-color="#980bca"/><stop offset="0.5582" stop-color="#a81563"/><stop offset="0.5769" stop-color="#b42000"/><stop offset="0.6344" stop-color="#d35200"/><stop offset="0.7159" stop-color="#eea700"/><stop offset="0.7627" stop-color="#f4c600"/><stop offset="0.7868" stop-color="#f4c500"/><stop offset="0.8322" stop-color="#eda400"/><stop offset="0.887" stop-color="#dc6a00"/><stop offset="0.9405" stop-color="#cd4600"/><stop offset="0.9993" stop-color="#c33200"/></linearGradient><linearGradient id="g185"><stop offset="0.0006684" stop-color="#ba2600"/><stop offset="0.09024" stop-color="#b42002"/><stop offset="0.1464" stop-color="#ad1843"/><stop offset="0.1905" stop-color="#a31288"/><stop offset="0.2333" stop-color="#970bcc"/><stop offset="0.268" stop-color="#8c07f1"/><stop offset="0.2961" stop-color="#8204ff"/><stop offset="0.3215" stop-color="#7603f9"/><stop offset="0.3443" stop-color="#6b01e3"/><stop offset="0.363" stop-color="#5e01c1"/><stop offset="0.3857" stop-color="#4e008d"/><stop offset="0.4071" stop-color="#440070"/><stop offset="0.4258" stop-color="#43006b"/><stop offset="0.4432" stop-color="#450072"/><stop offset="0.4592" stop-color="#4e008d"/><stop offset="0.4766" stop-color="#5d01bc"/><stop offset="0.4926" stop-color="#6d02e9"/><stop offset="0.506" stop-color="#7a03fc"/><stop offset="0.518" stop-color="#8405fd"/><stop offset="0.5287" stop-color="#8e08ed"/><stop offset="0.5381" stop-color="#970bcd"/><stop offset="0.5541" stop-color="#a5137c"/><stop offset="0.5769" stop-color="#b42001"/><stop offset="0.633" stop-color="#d25000"/><stop offset="0.7146" stop-color="#eea700"/><stop offset="0.7627" stop-color="#f5c600"/><stop offset="0.7868" stop-color="#f4c500"/><stop offset="0.8322" stop-color="#eda400"/><stop offset="0.8857" stop-color="#dd6b00"/><stop offset="0.9392" stop-color="#ce4700"/><stop offset="0.9993" stop-color="#c33300"/></linearGradient><linearGradient id="g186"><stop offset="0.0006684" stop-color="#ba2600"/><stop offset="0.09559" stop-color="#b42002"/><stop offset="0.1491" stop-color="#ad1941"/><stop offset="0.1918" stop-color="#a41285"/><stop offset="0.2346" stop-color="#980bca"/><stop offset="0.2694" stop-color="#8d07f0"/><stop offset="0.2975" stop-color="#8204ff"/><stop offset="0.3229" stop-color="#7703fa"/><stop offset="0.3456" stop-color="#6b01e4"/><stop offset="0.3643" stop-color="#5e01c1"/><stop offset="0.387" stop-color="#4e008d"/><stop offset="0.4098" stop-color="#44006e"/><stop offset="0.4311" stop-color="#43006a"/><stop offset="0.4472" stop-color="#460074"/><stop offset="0.4646" stop-color="#510096"/><stop offset="0.494" stop-color="#6d02e9"/><stop offset="0.5074" stop-color="#7a03fd"/><stop offset="0.5194" stop-color="#8505fd"/><stop offset="0.5301" stop-color="#8e08ec"/><stop offset="0.5394" stop-color="#980bcb"/><stop offset="0.5622" stop-color="#aa1753"/><stop offset="0.5769" stop-color="#b41f04"/><stop offset="0.5795" stop-color="#b52100"/><stop offset="0.6357" stop-color="#d35200"/><stop offset="0.7172" stop-color="#eea900"/><stop offset="0.7627" stop-color="#f5c700"/><stop offset="0.7868" stop-color="#f4c600"/><stop offset="0.8309" stop-color="#eda600"/><stop offset="0.8857" stop-color="#dd6c00"/><stop offset="0.9392" stop-color="#ce4700"/><stop offset="0.9993" stop-color="#c33300"/></linearGradient><linearGradient id="g187"><stop offset="0.0006684" stop-color="#ba2700"/><stop offset="0.1009" stop-color="#b42002"/><stop offset="0.1517" stop-color="#ad193f"/><stop offset="0.1918" stop-color="#a51280"/><stop offset="0.236" stop-color="#980cc8"/><stop offset="0.2721" stop-color="#8d07f0"/><stop offset="0.3001" stop-color="#8204ff"/><stop offset="0.3255" stop-color="#7603f9"/><stop offset="0.3483" stop-color="#6a01e3"/><stop offset="0.367" stop-color="#5d01bf"/><stop offset="0.3884" stop-color="#4e008e"/><stop offset="0.4111" stop-color="#44006e"/><stop offset="0.4311" stop-color="#420069"/><stop offset="0.4472" stop-color="#450071"/><stop offset="0.4632" stop-color="#4e008e"/><stop offset="0.4793" stop-color="#5d01bc"/><stop offset="0.4953" stop-color="#6e02ea"/><stop offset="0.5087" stop-color="#7a03fd"/><stop offset="0.5207" stop-color="#8505fd"/><stop offset="0.5301" stop-color="#8e08ee"/><stop offset="0.5394" stop-color="#970bce"/><stop offset="0.5555" stop-color="#a5137a"/><stop offset="0.5782" stop-color="#b42000"/><stop offset="0.633" stop-color="#d24f00"/><stop offset="0.7146" stop-color="#eea700"/><stop offset="0.7614" stop-color="#f5c700"/><stop offset="0.7854" stop-color="#f5c700"/><stop offset="0.8295" stop-color="#eea800"/><stop offset="0.8857" stop-color="#dd6c00"/><stop offset="0.9392" stop-color="#cf4800"/><stop offset="0.9993" stop-color="#c33400"/></linearGradient><linearGradient id="g188"><stop offset="0.0006684" stop-color="#bb2700"/><stop offset="0.1063" stop-color="#b42002"/><stop offset="0.1544" stop-color="#ad193d"/><stop offset="0.1932" stop-color="#a5137d"/><stop offset="0.2373" stop-color="#990cc6"/><stop offset="0.2734" stop-color="#8d07ef"/><stop offset="0.3015" stop-color="#8204fe"/><stop offset="0.3269" stop-color="#7703fa"/><stop offset="0.3496" stop-color="#6b01e3"/><stop offset="0.3683" stop-color="#5e01bf"/><stop offset="0.391" stop-color="#4d008c"/><stop offset="0.4138" stop-color="#43006c"/><stop offset="0.4365" stop-color="#420069"/><stop offset="0.4512" stop-color="#460073"/><stop offset="0.4686" stop-color="#510097"/><stop offset="0.4953" stop-color="#6d02e8"/><stop offset="0.5087" stop-color="#7903fc"/><stop offset="0.5207" stop-color="#8405fd"/><stop offset="0.5314" stop-color="#8e08ed"/><stop offset="0.5408" stop-color="#980bcb"/><stop offset="0.5729" stop-color="#b11c1f"/><stop offset="0.5782" stop-color="#b42002"/><stop offset="0.633" stop-color="#d14e00"/><stop offset="0.7146" stop-color="#eea800"/><stop offset="0.7614" stop-color="#f5c700"/><stop offset="0.7854" stop-color="#f5c700"/><stop offset="0.8295" stop-color="#eea900"/><stop offset="0.8844" stop-color="#de6e00"/><stop offset="0.9378" stop-color="#cf4900"/><stop offset="0.9993" stop-color="#c43400"/></linearGradient><linearGradient id="g189"><stop offset="0.0006684" stop-color="#bb2800"/><stop offset="0.1103" stop-color="#b42001"/><stop offset="0.1571" stop-color="#ad193b"/><stop offset="0.1945" stop-color="#a5137a"/><stop offset="0.2386" stop-color="#990cc3"/><stop offset="0.2747" stop-color="#8d07ee"/><stop offset="0.3028" stop-color="#8205fe"/><stop offset="0.3282" stop-color="#7703fa"/><stop offset="0.3496" stop-color="#6c01e6"/><stop offset="0.3683" stop-color="#5f01c3"/><stop offset="0.3924" stop-color="#4e008c"/><stop offset="0.4151" stop-color="#43006c"/><stop offset="0.4365" stop-color="#420067"/><stop offset="0.4512" stop-color="#440070"/><stop offset="0.4672" stop-color="#4e008f"/><stop offset="0.4833" stop-color="#5e01c0"/><stop offset="0.4967" stop-color="#6d02e8"/><stop offset="0.5087" stop-color="#7803fb"/><stop offset="0.5207" stop-color="#8305fe"/><stop offset="0.5314" stop-color="#8d07ef"/><stop offset="0.5408" stop-color="#970bcf"/><stop offset="0.5555" stop-color="#a41281"/><stop offset="0.5795" stop-color="#b52000"/><stop offset="0.6344" stop-color="#d24f00"/><stop offset="0.7159" stop-color="#eea900"/><stop offset="0.7627" stop-color="#f5c800"/><stop offset="0.7868" stop-color="#f5c800"/><stop offset="0.8309" stop-color="#eea800"/><stop offset="0.8844" stop-color="#de6e00"/><stop offset="0.9378" stop-color="#cf4a00"/><stop offset="0.9993" stop-color="#c43500"/></linearGradient><linearGradient id="g190"><stop offset="0.0006684" stop-color="#bb2800"/><stop offset="0.1156" stop-color="#b42002"/><stop offset="0.1611" stop-color="#ad193b"/><stop offset="0.2012" stop-color="#a41281"/><stop offset="0.2453" stop-color="#980bc9"/><stop offset="0.2801" stop-color="#8c07f1"/><stop offset="0.3068" stop-color="#8204ff"/><stop offset="0.3322" stop-color="#7603f9"/><stop offset="0.3536" stop-color="#6a01e2"/><stop offset="0.3723" stop-color="#5d01bd"/><stop offset="0.3951" stop-color="#4d008a"/><stop offset="0.4178" stop-color="#43006a"/><stop offset="0.4405" stop-color="#410066"/><stop offset="0.4539" stop-color="#44006f"/><stop offset="0.4713" stop-color="#500094"/><stop offset="0.4967" stop-color="#6b01e5"/><stop offset="0.5087" stop-color="#7703fa"/><stop offset="0.5207" stop-color="#8305fe"/><stop offset="0.5314" stop-color="#8d07f1"/><stop offset="0.5408" stop-color="#960bd2"/><stop offset="0.5528" stop-color="#a21194"/><stop offset="0.5795" stop-color="#b42000"/><stop offset="0.633" stop-color="#d14d00"/><stop offset="0.7146" stop-color="#eea800"/><stop offset="0.7614" stop-color="#f5c800"/><stop offset="0.7854" stop-color="#f5c900"/><stop offset="0.8282" stop-color="#efab00"/><stop offset="0.8844" stop-color="#de6e00"/><stop offset="0.9378" stop-color="#d04a00"/><stop offset="0.9993" stop-color="#c53500"/></linearGradient><linearGradient id="g191"><stop offset="0.0006684" stop-color="#bc2800"/><stop offset="0.121" stop-color="#b42002"/><stop offset="0.1664" stop-color="#ad193d"/><stop offset="0.236" stop-color="#9c0db7"/><stop offset="0.2747" stop-color="#8f08ea"/><stop offset="0.3028" stop-color="#8405fd"/><stop offset="0.3282" stop-color="#7903fc"/><stop offset="0.3496" stop-color="#6e02eb"/><stop offset="0.3683" stop-color="#6101ca"/><stop offset="0.3964" stop-color="#4d008b"/><stop offset="0.4191" stop-color="#420069"/><stop offset="0.4392" stop-color="#410065"/><stop offset="0.4539" stop-color="#43006c"/><stop offset="0.4686" stop-color="#4c0088"/><stop offset="0.4833" stop-color="#5a00b4"/><stop offset="0.498" stop-color="#6b01e5"/><stop offset="0.51" stop-color="#7803fb"/><stop offset="0.5221" stop-color="#8305fe"/><stop offset="0.5328" stop-color="#8d07ef"/><stop offset="0.5421" stop-color="#970bd0"/><stop offset="0.5555" stop-color="#a31288"/><stop offset="0.5795" stop-color="#b42002"/><stop offset="0.633" stop-color="#d14c00"/><stop offset="0.7146" stop-color="#eea800"/><stop offset="0.7614" stop-color="#f5c900"/><stop offset="0.7854" stop-color="#f5c900"/><stop offset="0.8282" stop-color="#efac00"/><stop offset="0.883" stop-color="#de7000"/><stop offset="0.9352" stop-color="#d14c00"/><stop offset="0.9993" stop-color="#c53600"/></linearGradient><linearGradient id="g192"><stop offset="0.0006684" stop-color="#bc2900"/><stop offset="0.125" stop-color="#b42002"/><stop offset="0.1691" stop-color="#ad193c"/><stop offset="0.2346" stop-color="#9d0eb1"/><stop offset="0.2747" stop-color="#9008e7"/><stop offset="0.3028" stop-color="#8505fc"/><stop offset="0.3282" stop-color="#7a03fd"/><stop offset="0.3496" stop-color="#6f02ed"/><stop offset="0.3683" stop-color="#6301ce"/><stop offset="0.3991" stop-color="#4d0089"/><stop offset="0.4218" stop-color="#420067"/><stop offset="0.4432" stop-color="#400063"/><stop offset="0.4566" stop-color="#43006b"/><stop offset="0.4726" stop-color="#4e008d"/><stop offset="0.4873" stop-color="#5d01bd"/><stop offset="0.5007" stop-color="#6d02e8"/><stop offset="0.5127" stop-color="#7903fc"/><stop offset="0.5247" stop-color="#8505fd"/><stop offset="0.5341" stop-color="#8e07ee"/><stop offset="0.5434" stop-color="#970bcd"/><stop offset="0.5568" stop-color="#a41284"/><stop offset="0.5795" stop-color="#b41f05"/><stop offset="0.5822" stop-color="#b52100"/><stop offset="0.6357" stop-color="#d24f00"/><stop offset="0.7172" stop-color="#efab00"/><stop offset="0.7627" stop-color="#f5ca00"/><stop offset="0.7868" stop-color="#f5ca00"/><stop offset="0.8295" stop-color="#efab00"/><stop offset="0.883" stop-color="#de7000"/><stop offset="0.9352" stop-color="#d14d00"/><stop offset="0.9993" stop-color="#c53700"/></linearGradient><linearGradient id="g193"><stop offset="0.0006684" stop-color="#bc2900"/><stop offset="0.1303" stop-color="#b42002"/><stop offset="0.1731" stop-color="#ad193c"/><stop offset="0.2333" stop-color="#9e0eaa"/><stop offset="0.2747" stop-color="#9109e4"/><stop offset="0.3028" stop-color="#8605fb"/><stop offset="0.3282" stop-color="#7b03fe"/><stop offset="0.3509" stop-color="#6f02ee"/><stop offset="0.3697" stop-color="#6301cf"/><stop offset="0.4004" stop-color="#4d008a"/><stop offset="0.4231" stop-color="#410067"/><stop offset="0.4418" stop-color="#400061"/><stop offset="0.4566" stop-color="#420067"/><stop offset="0.4699" stop-color="#4a0081"/><stop offset="0.4846" stop-color="#5800ad"/><stop offset="0.5007" stop-color="#6b01e5"/><stop offset="0.5114" stop-color="#7703fa"/><stop offset="0.5234" stop-color="#8205fe"/><stop offset="0.5328" stop-color="#8b07f3"/><stop offset="0.5421" stop-color="#950ad6"/><stop offset="0.5528" stop-color="#a00fa0"/><stop offset="0.5809" stop-color="#b42000"/><stop offset="0.633" stop-color="#d04b00"/><stop offset="0.7146" stop-color="#eea900"/><stop offset="0.7614" stop-color="#f5ca00"/><stop offset="0.7854" stop-color="#f5cb00"/><stop offset="0.8269" stop-color="#efaf00"/><stop offset="0.883" stop-color="#de7000"/><stop offset="0.9352" stop-color="#d14d00"/><stop offset="0.9993" stop-color="#c63700"/></linearGradient><linearGradient id="g194"><stop offset="0.0006684" stop-color="#bd2a00"/><stop offset="0.1344" stop-color="#b42002"/><stop offset="0.1745" stop-color="#ae1a38"/><stop offset="0.2333" stop-color="#9f0fa5"/><stop offset="0.2761" stop-color="#9109e3"/><stop offset="0.3028" stop-color="#8706fa"/><stop offset="0.3282" stop-color="#7c03fe"/><stop offset="0.3509" stop-color="#7102f0"/><stop offset="0.3697" stop-color="#6401d2"/><stop offset="0.4031" stop-color="#4c0088"/><stop offset="0.4258" stop-color="#410064"/><stop offset="0.4472" stop-color="#3f0060"/><stop offset="0.4606" stop-color="#420069"/><stop offset="0.4753" stop-color="#4d0089"/><stop offset="0.49" stop-color="#5c01bb"/><stop offset="0.5033" stop-color="#6d02e8"/><stop offset="0.514" stop-color="#7803fb"/><stop offset="0.5247" stop-color="#8305fe"/><stop offset="0.5341" stop-color="#8c07f2"/><stop offset="0.5434" stop-color="#960ad4"/><stop offset="0.5541" stop-color="#a0109c"/><stop offset="0.5809" stop-color="#b42002"/><stop offset="0.633" stop-color="#d04b00"/><stop offset="0.7146" stop-color="#eea900"/><stop offset="0.7614" stop-color="#f5cb00"/><stop offset="0.7854" stop-color="#f6cc00"/><stop offset="0.8269" stop-color="#f0af00"/><stop offset="0.883" stop-color="#df7100"/><stop offset="0.9352" stop-color="#d14e00"/><stop offset="0.9993" stop-color="#c63800"/></linearGradient><linearGradient id="g195"><stop offset="0.0006684" stop-color="#bd2a00"/><stop offset="0.1344" stop-color="#b52000"/><stop offset="0.1451" stop-color="#b31f09"/><stop offset="0.1785" stop-color="#ae1939"/><stop offset="0.232" stop-color="#a0109e"/><stop offset="0.2761" stop-color="#9209e0"/><stop offset="0.3028" stop-color="#8806f9"/><stop offset="0.3282" stop-color="#7d04ff"/><stop offset="0.3509" stop-color="#7202f2"/><stop offset="0.3697" stop-color="#6501d6"/><stop offset="0.4071" stop-color="#4b0084"/><stop offset="0.4285" stop-color="#400062"/><stop offset="0.4512" stop-color="#3f005e"/><stop offset="0.4632" stop-color="#420068"/><stop offset="0.4779" stop-color="#4d008b"/><stop offset="0.4926" stop-color="#5d01bf"/><stop offset="0.5047" stop-color="#6d02e8"/><stop offset="0.5154" stop-color="#7903fc"/><stop offset="0.5261" stop-color="#8305fe"/><stop offset="0.5354" stop-color="#8d07f0"/><stop offset="0.5448" stop-color="#960bd1"/><stop offset="0.5568" stop-color="#a21190"/><stop offset="0.5809" stop-color="#b41f04"/><stop offset="0.5836" stop-color="#b62100"/><stop offset="0.6357" stop-color="#d14d00"/><stop offset="0.7172" stop-color="#efac00"/><stop offset="0.7627" stop-color="#f6cc00"/><stop offset="0.7868" stop-color="#f6cc00"/><stop offset="0.8282" stop-color="#efaf00"/><stop offset="0.8817" stop-color="#df7200"/><stop offset="0.9325" stop-color="#d25000"/><stop offset="0.9993" stop-color="#c63900"/></linearGradient><linearGradient id="g196"><stop offset="0.0006684" stop-color="#bd2b00"/><stop offset="0.1344" stop-color="#b52100"/><stop offset="0.1451" stop-color="#b41f04"/><stop offset="0.1785" stop-color="#ae1a33"/><stop offset="0.2333" stop-color="#a0109b"/><stop offset="0.2787" stop-color="#9209e1"/><stop offset="0.3055" stop-color="#8806fa"/><stop offset="0.3309" stop-color="#7d04fe"/><stop offset="0.3536" stop-color="#7102f1"/><stop offset="0.3723" stop-color="#6501d4"/><stop offset="0.4098" stop-color="#4a0081"/><stop offset="0.4298" stop-color="#3f0061"/><stop offset="0.4499" stop-color="#3e005c"/><stop offset="0.4632" stop-color="#410064"/><stop offset="0.4766" stop-color="#4a0082"/><stop offset="0.4913" stop-color="#5a00b3"/><stop offset="0.5047" stop-color="#6b01e5"/><stop offset="0.5154" stop-color="#7803fa"/><stop offset="0.5261" stop-color="#8205fe"/><stop offset="0.5354" stop-color="#8c07f2"/><stop offset="0.5448" stop-color="#960ad4"/><stop offset="0.5555" stop-color="#a0109c"/><stop offset="0.5809" stop-color="#b41f06"/><stop offset="0.5822" stop-color="#b42000"/><stop offset="0.6344" stop-color="#d04b00"/><stop offset="0.7159" stop-color="#efab00"/><stop offset="0.7614" stop-color="#f6cc00"/><stop offset="0.7854" stop-color="#f6cd00"/><stop offset="0.8255" stop-color="#f0b200"/><stop offset="0.8817" stop-color="#df7200"/><stop offset="0.9325" stop-color="#d25000"/><stop offset="0.9993" stop-color="#c73900"/></linearGradient><linearGradient id="g197"><stop offset="0.0006684" stop-color="#be2b00"/><stop offset="0.1357" stop-color="#b62100"/><stop offset="0.1491" stop-color="#b42003"/><stop offset="0.1785" stop-color="#af1b2d"/><stop offset="0.2333" stop-color="#a11096"/><stop offset="0.2801" stop-color="#9209e0"/><stop offset="0.3068" stop-color="#8806f9"/><stop offset="0.3322" stop-color="#7d04ff"/><stop offset="0.3536" stop-color="#7202f3"/><stop offset="0.3723" stop-color="#6601d7"/><stop offset="0.4124" stop-color="#49007f"/><stop offset="0.4311" stop-color="#3f005f"/><stop offset="0.4499" stop-color="#3d005a"/><stop offset="0.4632" stop-color="#3f0060"/><stop offset="0.4753" stop-color="#470078"/><stop offset="0.4913" stop-color="#5800ac"/><stop offset="0.506" stop-color="#6b01e4"/><stop offset="0.5167" stop-color="#7803fb"/><stop offset="0.5274" stop-color="#8305fe"/><stop offset="0.5368" stop-color="#8d07f1"/><stop offset="0.5461" stop-color="#960bd1"/><stop offset="0.5582" stop-color="#a21190"/><stop offset="0.5822" stop-color="#b42001"/><stop offset="0.6344" stop-color="#d04b00"/><stop offset="0.7159" stop-color="#efac00"/><stop offset="0.7614" stop-color="#f6cd00"/><stop offset="0.7854" stop-color="#f6ce00"/><stop offset="0.8255" stop-color="#f0b300"/><stop offset="0.8817" stop-color="#df7300"/><stop offset="0.9325" stop-color="#d25000"/><stop offset="0.9993" stop-color="#c73a00"/></linearGradient><linearGradient id="g198"><stop offset="0.0006684" stop-color="#be2c00"/><stop offset="0.137" stop-color="#b62200"/><stop offset="0.1531" stop-color="#b42002"/><stop offset="0.1798" stop-color="#b01b29"/><stop offset="0.2346" stop-color="#a21193"/><stop offset="0.2814" stop-color="#9309df"/><stop offset="0.3068" stop-color="#8906f8"/><stop offset="0.3322" stop-color="#7e04ff"/><stop offset="0.3549" stop-color="#7302f4"/><stop offset="0.3737" stop-color="#6601d7"/><stop offset="0.4164" stop-color="#48007a"/><stop offset="0.4338" stop-color="#3e005c"/><stop offset="0.4552" stop-color="#3d0058"/><stop offset="0.4672" stop-color="#400061"/><stop offset="0.4806" stop-color="#4a0082"/><stop offset="0.4953" stop-color="#5b01b6"/><stop offset="0.5087" stop-color="#6d02e9"/><stop offset="0.518" stop-color="#7803fb"/><stop offset="0.5287" stop-color="#8305fe"/><stop offset="0.5381" stop-color="#8d07ef"/><stop offset="0.5475" stop-color="#970bcd"/><stop offset="0.5595" stop-color="#a3118b"/><stop offset="0.5822" stop-color="#b42003"/><stop offset="0.5916" stop-color="#ba2600"/><stop offset="0.6397" stop-color="#d25000"/><stop offset="0.7199" stop-color="#f0b000"/><stop offset="0.7627" stop-color="#f6ce00"/><stop offset="0.7868" stop-color="#f6cf00"/><stop offset="0.8269" stop-color="#f0b200"/><stop offset="0.8803" stop-color="#e07400"/><stop offset="0.9298" stop-color="#d35200"/><stop offset="0.9967" stop-color="#c83b00"/><stop offset="0.9993" stop-color="#c83b00"/></linearGradient><linearGradient id="g199"><stop offset="0.0006684" stop-color="#be2c00"/><stop offset="0.137" stop-color="#b72300"/><stop offset="0.1571" stop-color="#b42001"/><stop offset="0.1811" stop-color="#b01c25"/><stop offset="0.2346" stop-color="#a2118e"/><stop offset="0.2828" stop-color="#9309de"/><stop offset="0.3082" stop-color="#8906f8"/><stop offset="0.3336" stop-color="#7e04ff"/><stop offset="0.3563" stop-color="#7302f4"/><stop offset="0.3737" stop-color="#6701da"/><stop offset="0.4218" stop-color="#450071"/><stop offset="0.4365" stop-color="#3d0059"/><stop offset="0.4606" stop-color="#3c0057"/><stop offset="0.4713" stop-color="#410064"/><stop offset="0.486" stop-color="#4e008d"/><stop offset="0.51" stop-color="#6d02e9"/><stop offset="0.5194" stop-color="#7803fb"/><stop offset="0.5287" stop-color="#8305fe"/><stop offset="0.5381" stop-color="#8d07f1"/><stop offset="0.5475" stop-color="#970bd0"/><stop offset="0.5595" stop-color="#a2118e"/><stop offset="0.5822" stop-color="#b41f05"/><stop offset="0.5849" stop-color="#b52100"/><stop offset="0.6357" stop-color="#d04c00"/><stop offset="0.7172" stop-color="#efae00"/><stop offset="0.7627" stop-color="#f6cf00"/><stop offset="0.7868" stop-color="#f6cf00"/><stop offset="0.8269" stop-color="#f0b300"/><stop offset="0.879" stop-color="#e07600"/><stop offset="0.9285" stop-color="#d45300"/><stop offset="0.9953" stop-color="#c83c00"/><stop offset="0.9993" stop-color="#c83b00"/></linearGradient><linearGradient id="g200"><stop offset="0.0006684" stop-color="#bf2c00"/><stop offset="0.1384" stop-color="#b72300"/><stop offset="0.1624" stop-color="#b42002"/><stop offset="0.1852" stop-color="#b01b27"/><stop offset="0.236" stop-color="#a3118b"/><stop offset="0.2841" stop-color="#9309dd"/><stop offset="0.3095" stop-color="#8906f7"/><stop offset="0.3362" stop-color="#7e04ff"/><stop offset="0.3576" stop-color="#7302f4"/><stop offset="0.375" stop-color="#6701da"/><stop offset="0.4271" stop-color="#420067"/><stop offset="0.4392" stop-color="#3c0056"/><stop offset="0.4632" stop-color="#3c0056"/><stop offset="0.4739" stop-color="#410065"/><stop offset="0.49" stop-color="#510096"/><stop offset="0.51" stop-color="#6c01e5"/><stop offset="0.5194" stop-color="#7703fa"/><stop offset="0.5287" stop-color="#8204ff"/><stop offset="0.5381" stop-color="#8c07f2"/><stop offset="0.5475" stop-color="#960bd2"/><stop offset="0.5595" stop-color="#a21191"/><stop offset="0.5836" stop-color="#b42000"/><stop offset="0.6344" stop-color="#cf4a00"/><stop offset="0.7159" stop-color="#efad00"/><stop offset="0.7614" stop-color="#f6cf00"/><stop offset="0.7854" stop-color="#f7d100"/><stop offset="0.8242" stop-color="#f1b600"/><stop offset="0.8803" stop-color="#e07500"/><stop offset="0.9298" stop-color="#d35300"/><stop offset="0.9967" stop-color="#c93c00"/><stop offset="0.9993" stop-color="#c83c00"/></linearGradient><linearGradient id="g201"><stop offset="0.0006684" stop-color="#bf2d00"/><stop offset="0.141" stop-color="#b72300"/><stop offset="0.1678" stop-color="#b42003"/><stop offset="0.1905" stop-color="#af1b2b"/><stop offset="0.24" stop-color="#a3118d"/><stop offset="0.2868" stop-color="#9309de"/><stop offset="0.3108" stop-color="#8906f7"/><stop offset="0.3376" stop-color="#7e04ff"/><stop offset="0.359" stop-color="#7302f5"/><stop offset="0.3763" stop-color="#6701da"/><stop offset="0.4311" stop-color="#3f0060"/><stop offset="0.4432" stop-color="#3a0053"/><stop offset="0.4659" stop-color="#3b0055"/><stop offset="0.4766" stop-color="#420067"/><stop offset="0.494" stop-color="#5400a0"/><stop offset="0.5114" stop-color="#6c01e6"/><stop offset="0.5207" stop-color="#7803fb"/><stop offset="0.5301" stop-color="#8205fe"/><stop offset="0.5394" stop-color="#8d07f0"/><stop offset="0.5488" stop-color="#970bce"/><stop offset="0.5608" stop-color="#a3118b"/><stop offset="0.5836" stop-color="#b42001"/><stop offset="0.6344" stop-color="#cf4a00"/><stop offset="0.7159" stop-color="#efad00"/><stop offset="0.7614" stop-color="#f6d000"/><stop offset="0.7854" stop-color="#f7d200"/><stop offset="0.8242" stop-color="#f1b700"/><stop offset="0.879" stop-color="#e07600"/><stop offset="0.9271" stop-color="#d45500"/><stop offset="0.9926" stop-color="#c93e00"/><stop offset="0.9993" stop-color="#c93d00"/></linearGradient><linearGradient id="g202"><stop offset="0.0006684" stop-color="#bf2d00"/><stop offset="0.1424" stop-color="#b82400"/><stop offset="0.1718" stop-color="#b42002"/><stop offset="0.1985" stop-color="#ae1a36"/><stop offset="0.264" stop-color="#9c0db5"/><stop offset="0.2961" stop-color="#9008e8"/><stop offset="0.3202" stop-color="#8605fb"/><stop offset="0.3456" stop-color="#7b03fe"/><stop offset="0.3643" stop-color="#7102f0"/><stop offset="0.383" stop-color="#6301cf"/><stop offset="0.4311" stop-color="#3f0061"/><stop offset="0.4432" stop-color="#3a0051"/><stop offset="0.4659" stop-color="#3a0052"/><stop offset="0.4753" stop-color="#3f0060"/><stop offset="0.4913" stop-color="#4f0091"/><stop offset="0.5127" stop-color="#6c02e7"/><stop offset="0.5221" stop-color="#7803fb"/><stop offset="0.5314" stop-color="#8305fe"/><stop offset="0.5408" stop-color="#8e08ee"/><stop offset="0.5501" stop-color="#980bc9"/><stop offset="0.5648" stop-color="#a61375"/><stop offset="0.5836" stop-color="#b42002"/><stop offset="0.6357" stop-color="#d04b00"/><stop offset="0.7172" stop-color="#efaf00"/><stop offset="0.7614" stop-color="#f7d100"/><stop offset="0.7854" stop-color="#f7d300"/><stop offset="0.8229" stop-color="#f2b900"/><stop offset="0.879" stop-color="#e07700"/><stop offset="0.9271" stop-color="#d45500"/><stop offset="0.9926" stop-color="#ca3f00"/><stop offset="0.9993" stop-color="#c93d00"/></linearGradient><linearGradient id="g203"><stop offset="0.0006684" stop-color="#bf2e00"/><stop offset="0.1451" stop-color="#b82400"/><stop offset="0.1758" stop-color="#b42002"/><stop offset="0.2614" stop-color="#9e0eab"/><stop offset="0.2948" stop-color="#9109e4"/><stop offset="0.3189" stop-color="#8706fa"/><stop offset="0.3456" stop-color="#7c03fe"/><stop offset="0.3643" stop-color="#7202f2"/><stop offset="0.383" stop-color="#6401d1"/><stop offset="0.4338" stop-color="#3e005b"/><stop offset="0.4445" stop-color="#39004f"/><stop offset="0.4672" stop-color="#3a0050"/><stop offset="0.4766" stop-color="#3f005f"/><stop offset="0.4926" stop-color="#500092"/><stop offset="0.5127" stop-color="#6b01e5"/><stop offset="0.5221" stop-color="#7703fa"/><stop offset="0.5314" stop-color="#8305fe"/><stop offset="0.5394" stop-color="#8c07f2"/><stop offset="0.5488" stop-color="#960bd1"/><stop offset="0.5608" stop-color="#a2118f"/><stop offset="0.5836" stop-color="#b41f04"/><stop offset="0.5876" stop-color="#b62200"/><stop offset="0.637" stop-color="#d04c00"/><stop offset="0.7172" stop-color="#f0af00"/><stop offset="0.7614" stop-color="#f7d200"/><stop offset="0.7854" stop-color="#f7d400"/><stop offset="0.8229" stop-color="#f2ba00"/><stop offset="0.879" stop-color="#e17700"/><stop offset="0.9271" stop-color="#d45500"/><stop offset="0.9926" stop-color="#ca3f00"/><stop offset="0.9993" stop-color="#c93e00"/></linearGradient><linearGradient id="g204"><stop offset="0.0006684" stop-color="#c02e00"/><stop offset="0.1477" stop-color="#b82500"/><stop offset="0.1798" stop-color="#b42002"/><stop offset="0.2627" stop-color="#9e0fa9"/><stop offset="0.2948" stop-color="#9209e2"/><stop offset="0.3175" stop-color="#8906f8"/><stop offset="0.3443" stop-color="#7e04ff"/><stop offset="0.3643" stop-color="#7302f3"/><stop offset="0.3817" stop-color="#6601d6"/><stop offset="0.4352" stop-color="#3c0058"/><stop offset="0.4459" stop-color="#38004c"/><stop offset="0.4686" stop-color="#39004e"/><stop offset="0.4779" stop-color="#3f005f"/><stop offset="0.4953" stop-color="#520099"/><stop offset="0.514" stop-color="#6c01e6"/><stop offset="0.5234" stop-color="#7803fb"/><stop offset="0.5328" stop-color="#8405fe"/><stop offset="0.5408" stop-color="#8d07f0"/><stop offset="0.5501" stop-color="#970bcc"/><stop offset="0.5635" stop-color="#a51280"/><stop offset="0.5836" stop-color="#b41f05"/><stop offset="0.5862" stop-color="#b52100"/><stop offset="0.6357" stop-color="#d04a00"/><stop offset="0.7159" stop-color="#efae00"/><stop offset="0.7614" stop-color="#f7d200"/><stop offset="0.7854" stop-color="#f7d500"/><stop offset="0.8215" stop-color="#f2bc00"/><stop offset="0.879" stop-color="#e17700"/><stop offset="0.9271" stop-color="#d55600"/><stop offset="0.9926" stop-color="#ca4000"/><stop offset="0.9993" stop-color="#ca3e00"/></linearGradient><linearGradient id="g205"><stop offset="0.0006684" stop-color="#c02e00"/><stop offset="0.1504" stop-color="#b92500"/><stop offset="0.1825" stop-color="#b42000"/><stop offset="0.2761" stop-color="#9a0cbf"/><stop offset="0.3015" stop-color="#9008e8"/><stop offset="0.3255" stop-color="#8605fc"/><stop offset="0.3509" stop-color="#7b03fe"/><stop offset="0.3683" stop-color="#7102f0"/><stop offset="0.3884" stop-color="#6101c9"/><stop offset="0.4352" stop-color="#3c0058"/><stop offset="0.4459" stop-color="#37004a"/><stop offset="0.4686" stop-color="#38004c"/><stop offset="0.4779" stop-color="#3e005b"/><stop offset="0.494" stop-color="#4f0090"/><stop offset="0.514" stop-color="#6b01e4"/><stop offset="0.5234" stop-color="#7703fa"/><stop offset="0.5328" stop-color="#8305fe"/><stop offset="0.5408" stop-color="#8d07f1"/><stop offset="0.5501" stop-color="#970bcd"/><stop offset="0.5635" stop-color="#a41281"/><stop offset="0.5836" stop-color="#b41f06"/><stop offset="0.5849" stop-color="#b52000"/><stop offset="0.6357" stop-color="#d04a00"/><stop offset="0.7159" stop-color="#efaf00"/><stop offset="0.7614" stop-color="#f7d300"/><stop offset="0.7841" stop-color="#f8d600"/><stop offset="0.8175" stop-color="#f3c000"/><stop offset="0.8456" stop-color="#ec9f00"/><stop offset="0.8817" stop-color="#e07500"/><stop offset="0.9298" stop-color="#d45400"/><stop offset="0.9967" stop-color="#ca4000"/><stop offset="0.9993" stop-color="#ca3f00"/></linearGradient><linearGradient id="g206"><stop offset="0.0006684" stop-color="#c02f00"/><stop offset="0.1544" stop-color="#b92500"/><stop offset="0.1865" stop-color="#b42001"/><stop offset="0.2868" stop-color="#970bcf"/><stop offset="0.3095" stop-color="#8d07ef"/><stop offset="0.3349" stop-color="#8305fe"/><stop offset="0.3576" stop-color="#7803fb"/><stop offset="0.3737" stop-color="#6d02e9"/><stop offset="0.3964" stop-color="#5b01b8"/><stop offset="0.4352" stop-color="#3c0057"/><stop offset="0.4459" stop-color="#370049"/><stop offset="0.4686" stop-color="#370049"/><stop offset="0.4779" stop-color="#3c0058"/><stop offset="0.494" stop-color="#4e008d"/><stop offset="0.5154" stop-color="#6c01e6"/><stop offset="0.5247" stop-color="#7803fb"/><stop offset="0.5328" stop-color="#8205fe"/><stop offset="0.5408" stop-color="#8c07f2"/><stop offset="0.5488" stop-color="#950ad4"/><stop offset="0.5608" stop-color="#a21193"/><stop offset="0.5849" stop-color="#b42000"/><stop offset="0.6357" stop-color="#d04a00"/><stop offset="0.7159" stop-color="#f0af00"/><stop offset="0.7614" stop-color="#f7d400"/><stop offset="0.7841" stop-color="#f8d700"/><stop offset="0.8175" stop-color="#f3c100"/><stop offset="0.8456" stop-color="#ec9f00"/><stop offset="0.8803" stop-color="#e07600"/><stop offset="0.9271" stop-color="#d55600"/><stop offset="0.9926" stop-color="#cb4100"/><stop offset="0.9993" stop-color="#ca4000"/></linearGradient><linearGradient id="g207"><stop offset="0.0006684" stop-color="#c12f00"/><stop offset="0.1571" stop-color="#b92600"/><stop offset="0.1892" stop-color="#b42000"/><stop offset="0.2881" stop-color="#970bcf"/><stop offset="0.3095" stop-color="#8e08ee"/><stop offset="0.3349" stop-color="#8405fe"/><stop offset="0.3576" stop-color="#7903fc"/><stop offset="0.3737" stop-color="#6e02eb"/><stop offset="0.3951" stop-color="#5d01bd"/><stop offset="0.4352" stop-color="#3c0056"/><stop offset="0.4459" stop-color="#360047"/><stop offset="0.4686" stop-color="#360047"/><stop offset="0.4779" stop-color="#3b0055"/><stop offset="0.4926" stop-color="#4b0085"/><stop offset="0.5167" stop-color="#6d02e8"/><stop offset="0.5261" stop-color="#7903fc"/><stop offset="0.5341" stop-color="#8305fe"/><stop offset="0.5421" stop-color="#8d07ef"/><stop offset="0.5515" stop-color="#980cc9"/><stop offset="0.5689" stop-color="#a91562"/><stop offset="0.5849" stop-color="#b42000"/><stop offset="0.6357" stop-color="#cf4a00"/><stop offset="0.7159" stop-color="#f0af00"/><stop offset="0.7614" stop-color="#f7d500"/><stop offset="0.7841" stop-color="#f8d800"/><stop offset="0.8175" stop-color="#f4c200"/><stop offset="0.8456" stop-color="#eca000"/><stop offset="0.8803" stop-color="#e07600"/><stop offset="0.9271" stop-color="#d55600"/><stop offset="0.9926" stop-color="#cb4100"/><stop offset="0.9993" stop-color="#cb4000"/></linearGradient><linearGradient id="g208"><stop offset="0.0006684" stop-color="#c13000"/><stop offset="0.1611" stop-color="#ba2600"/><stop offset="0.1932" stop-color="#b42002"/><stop offset="0.2894" stop-color="#970bce"/><stop offset="0.3108" stop-color="#8e08ee"/><stop offset="0.3362" stop-color="#8405fe"/><stop offset="0.359" stop-color="#7903fc"/><stop offset="0.375" stop-color="#6e02ea"/><stop offset="0.3964" stop-color="#5c01bb"/><stop offset="0.4338" stop-color="#3d0058"/><stop offset="0.4445" stop-color="#360046"/><stop offset="0.4659" stop-color="#340043"/><stop offset="0.4753" stop-color="#38004c"/><stop offset="0.486" stop-color="#43006a"/><stop offset="0.5033" stop-color="#5800ae"/><stop offset="0.5167" stop-color="#6c01e6"/><stop offset="0.5261" stop-color="#7903fc"/><stop offset="0.5341" stop-color="#8305fe"/><stop offset="0.5421" stop-color="#8d07f0"/><stop offset="0.5501" stop-color="#960bd0"/><stop offset="0.5648" stop-color="#a5137c"/><stop offset="0.5849" stop-color="#b42001"/><stop offset="0.6357" stop-color="#cf4a00"/><stop offset="0.7159" stop-color="#f0b000"/><stop offset="0.76" stop-color="#f8d500"/><stop offset="0.7828" stop-color="#f8da00"/><stop offset="0.8135" stop-color="#f5c600"/><stop offset="0.8389" stop-color="#eeaa00"/><stop offset="0.875" stop-color="#e27c00"/><stop offset="0.9205" stop-color="#d65a00"/><stop offset="0.9846" stop-color="#cc4300"/><stop offset="0.9993" stop-color="#cb4100"/></linearGradient><linearGradient id="g209"><stop offset="0.0006684" stop-color="#c13000"/><stop offset="0.1651" stop-color="#ba2600"/><stop offset="0.1959" stop-color="#b42001"/><stop offset="0.2881" stop-color="#980cc8"/><stop offset="0.3095" stop-color="#8f08ea"/><stop offset="0.3336" stop-color="#8505fc"/><stop offset="0.3576" stop-color="#7a03fd"/><stop offset="0.3737" stop-color="#7002ee"/><stop offset="0.3924" stop-color="#6001c8"/><stop offset="0.4338" stop-color="#3c0058"/><stop offset="0.4445" stop-color="#350044"/><stop offset="0.4646" stop-color="#330041"/><stop offset="0.4753" stop-color="#370049"/><stop offset="0.486" stop-color="#420067"/><stop offset="0.5047" stop-color="#5900b1"/><stop offset="0.518" stop-color="#6d02e8"/><stop offset="0.5274" stop-color="#7a03fc"/><stop offset="0.5354" stop-color="#8405fd"/><stop offset="0.5434" stop-color="#8e08ec"/><stop offset="0.5528" stop-color="#990cc4"/><stop offset="0.5755" stop-color="#ae193b"/><stop offset="0.5849" stop-color="#b42002"/><stop offset="0.6357" stop-color="#cf4a00"/><stop offset="0.7159" stop-color="#f0b000"/><stop offset="0.76" stop-color="#f8d600"/><stop offset="0.7828" stop-color="#f9db00"/><stop offset="0.8122" stop-color="#f5c900"/><stop offset="0.8376" stop-color="#efac00"/><stop offset="0.8737" stop-color="#e37d00"/><stop offset="0.9178" stop-color="#d75b00"/><stop offset="0.9806" stop-color="#cd4500"/><stop offset="0.9993" stop-color="#cb4100"/></linearGradient><linearGradient id="g210"><stop offset="0.0006684" stop-color="#c13000"/><stop offset="0.1678" stop-color="#ba2700"/><stop offset="0.1985" stop-color="#b42000"/><stop offset="0.2734" stop-color="#9f0fa3"/><stop offset="0.3001" stop-color="#940adb"/><stop offset="0.3215" stop-color="#8b07f4"/><stop offset="0.3483" stop-color="#8004ff"/><stop offset="0.367" stop-color="#7502f8"/><stop offset="0.383" stop-color="#6901df"/><stop offset="0.4044" stop-color="#5600a8"/><stop offset="0.4325" stop-color="#3d005a"/><stop offset="0.4445" stop-color="#340043"/><stop offset="0.4632" stop-color="#32003e"/><stop offset="0.4739" stop-color="#350045"/><stop offset="0.4833" stop-color="#3d005b"/><stop offset="0.5033" stop-color="#5600a8"/><stop offset="0.518" stop-color="#6c01e7"/><stop offset="0.5274" stop-color="#7903fc"/><stop offset="0.5354" stop-color="#8405fe"/><stop offset="0.5434" stop-color="#8e08ed"/><stop offset="0.5528" stop-color="#990cc5"/><stop offset="0.5755" stop-color="#ad193c"/><stop offset="0.5849" stop-color="#b42003"/><stop offset="0.5929" stop-color="#b92500"/><stop offset="0.6384" stop-color="#d14c00"/><stop offset="0.7186" stop-color="#f1b400"/><stop offset="0.7614" stop-color="#f8d800"/><stop offset="0.7841" stop-color="#f9dc00"/><stop offset="0.8162" stop-color="#f4c600"/><stop offset="0.8416" stop-color="#eea700"/><stop offset="0.875" stop-color="#e27c00"/><stop offset="0.9205" stop-color="#d65a00"/><stop offset="0.9846" stop-color="#cd4400"/><stop offset="0.9993" stop-color="#cc4200"/></linearGradient><linearGradient id="g211"><stop offset="0.0006684" stop-color="#c13100"/><stop offset="0.1705" stop-color="#ba2700"/><stop offset="0.2025" stop-color="#b42002"/><stop offset="0.2667" stop-color="#a3118e"/><stop offset="0.2988" stop-color="#950ad6"/><stop offset="0.3189" stop-color="#8c07f1"/><stop offset="0.3456" stop-color="#8204ff"/><stop offset="0.3656" stop-color="#7703fa"/><stop offset="0.3817" stop-color="#6b01e3"/><stop offset="0.4017" stop-color="#5900b2"/><stop offset="0.4311" stop-color="#3e005d"/><stop offset="0.4445" stop-color="#340041"/><stop offset="0.4606" stop-color="#32003c"/><stop offset="0.4739" stop-color="#340042"/><stop offset="0.4833" stop-color="#3c0058"/><stop offset="0.5033" stop-color="#5600a6"/><stop offset="0.518" stop-color="#6b01e5"/><stop offset="0.5274" stop-color="#7803fb"/><stop offset="0.5354" stop-color="#8305fe"/><stop offset="0.5434" stop-color="#8d07ee"/><stop offset="0.5515" stop-color="#970bcd"/><stop offset="0.5689" stop-color="#a81567"/><stop offset="0.5849" stop-color="#b41f04"/><stop offset="0.5876" stop-color="#b62100"/><stop offset="0.637" stop-color="#d04b00"/><stop offset="0.7172" stop-color="#f0b300"/><stop offset="0.76" stop-color="#f8d800"/><stop offset="0.7828" stop-color="#f9dd00"/><stop offset="0.8122" stop-color="#f5ca00"/><stop offset="0.8376" stop-color="#efad00"/><stop offset="0.8723" stop-color="#e37f00"/><stop offset="0.9164" stop-color="#d75c00"/><stop offset="0.9793" stop-color="#cd4600"/><stop offset="0.9993" stop-color="#cc4200"/></linearGradient><linearGradient id="g212"><stop offset="0.0006684" stop-color="#c23100"/><stop offset="0.1731" stop-color="#bb2700"/><stop offset="0.2052" stop-color="#b42001"/><stop offset="0.2614" stop-color="#a5137b"/><stop offset="0.2988" stop-color="#960ad3"/><stop offset="0.3189" stop-color="#8d07ef"/><stop offset="0.3443" stop-color="#8305fe"/><stop offset="0.3656" stop-color="#7803fa"/><stop offset="0.3817" stop-color="#6c01e5"/><stop offset="0.4004" stop-color="#5b01b8"/><stop offset="0.4298" stop-color="#3f005f"/><stop offset="0.4432" stop-color="#340042"/><stop offset="0.4566" stop-color="#31003a"/><stop offset="0.4726" stop-color="#32003e"/><stop offset="0.482" stop-color="#3a0051"/><stop offset="0.5007" stop-color="#510098"/><stop offset="0.518" stop-color="#6b01e3"/><stop offset="0.5274" stop-color="#7803fa"/><stop offset="0.5354" stop-color="#8205fe"/><stop offset="0.5434" stop-color="#8d07f0"/><stop offset="0.5515" stop-color="#970bce"/><stop offset="0.5689" stop-color="#a81568"/><stop offset="0.5849" stop-color="#b41f05"/><stop offset="0.5862" stop-color="#b52000"/><stop offset="0.6357" stop-color="#cf4900"/><stop offset="0.7159" stop-color="#f0b100"/><stop offset="0.76" stop-color="#f8d900"/><stop offset="0.7828" stop-color="#f9de00"/><stop offset="0.8122" stop-color="#f6cb00"/><stop offset="0.8376" stop-color="#efae00"/><stop offset="0.8723" stop-color="#e37f00"/><stop offset="0.9164" stop-color="#d75c00"/><stop offset="0.9793" stop-color="#ce4600"/><stop offset="0.9993" stop-color="#cc4300"/></linearGradient><linearGradient id="g213"><stop offset="0.0006684" stop-color="#c23100"/><stop offset="0.1758" stop-color="#bb2800"/><stop offset="0.2079" stop-color="#b42000"/><stop offset="0.2587" stop-color="#a7146f"/><stop offset="0.3001" stop-color="#960bd2"/><stop offset="0.3202" stop-color="#8d07ef"/><stop offset="0.3456" stop-color="#8305fe"/><stop offset="0.3656" stop-color="#7803fb"/><stop offset="0.3817" stop-color="#6c01e7"/><stop offset="0.4004" stop-color="#5c01ba"/><stop offset="0.4298" stop-color="#3f005f"/><stop offset="0.4432" stop-color="#330040"/><stop offset="0.4552" stop-color="#300038"/><stop offset="0.4726" stop-color="#31003c"/><stop offset="0.482" stop-color="#39004e"/><stop offset="0.4993" stop-color="#4f0090"/><stop offset="0.5194" stop-color="#6c01e6"/><stop offset="0.5287" stop-color="#7903fc"/><stop offset="0.5368" stop-color="#8405fe"/><stop offset="0.5434" stop-color="#8c07f1"/><stop offset="0.5515" stop-color="#970bd0"/><stop offset="0.5689" stop-color="#a81569"/><stop offset="0.5862" stop-color="#b52000"/><stop offset="0.6357" stop-color="#cf4900"/><stop offset="0.7159" stop-color="#f0b200"/><stop offset="0.7587" stop-color="#f8d900"/><stop offset="0.7814" stop-color="#f9df00"/><stop offset="0.8095" stop-color="#f6cf00"/><stop offset="0.8349" stop-color="#f0b200"/><stop offset="0.8697" stop-color="#e48200"/><stop offset="0.9111" stop-color="#d96000"/><stop offset="0.9686" stop-color="#cf4900"/><stop offset="0.9993" stop-color="#cc4300"/></linearGradient><linearGradient id="g214"><stop offset="0.0006684" stop-color="#c23100"/><stop offset="0.1771" stop-color="#bb2800"/><stop offset="0.2119" stop-color="#b42002"/><stop offset="0.2574" stop-color="#a81565"/><stop offset="0.3001" stop-color="#970bcf"/><stop offset="0.3189" stop-color="#8f08ec"/><stop offset="0.3443" stop-color="#8405fd"/><stop offset="0.3656" stop-color="#7903fc"/><stop offset="0.3803" stop-color="#6e02eb"/><stop offset="0.3977" stop-color="#5f01c4"/><stop offset="0.4311" stop-color="#3d005b"/><stop offset="0.4445" stop-color="#32003d"/><stop offset="0.4579" stop-color="#2f0036"/><stop offset="0.4739" stop-color="#31003b"/><stop offset="0.4833" stop-color="#39004f"/><stop offset="0.5033" stop-color="#53009e"/><stop offset="0.5194" stop-color="#6b01e4"/><stop offset="0.5287" stop-color="#7803fb"/><stop offset="0.5368" stop-color="#8305fe"/><stop offset="0.5434" stop-color="#8c07f2"/><stop offset="0.5515" stop-color="#960bd2"/><stop offset="0.5675" stop-color="#a61473"/><stop offset="0.5862" stop-color="#b42000"/><stop offset="0.6357" stop-color="#cf4900"/><stop offset="0.7159" stop-color="#f0b200"/><stop offset="0.7587" stop-color="#f8da00"/><stop offset="0.7814" stop-color="#fae100"/><stop offset="0.8082" stop-color="#f7d100"/><stop offset="0.8336" stop-color="#f1b500"/><stop offset="0.8697" stop-color="#e48200"/><stop offset="0.9111" stop-color="#d96000"/><stop offset="0.9672" stop-color="#cf4a00"/><stop offset="0.9993" stop-color="#cc4400"/></linearGradient><linearGradient id="g215"><stop offset="0.0006684" stop-color="#c23200"/><stop offset="0.1785" stop-color="#bc2900"/><stop offset="0.2146" stop-color="#b42001"/><stop offset="0.2574" stop-color="#a9165e"/><stop offset="0.3015" stop-color="#970bce"/><stop offset="0.3202" stop-color="#8f08eb"/><stop offset="0.3456" stop-color="#8405fd"/><stop offset="0.367" stop-color="#7903fc"/><stop offset="0.3817" stop-color="#6e02eb"/><stop offset="0.3991" stop-color="#5f01c3"/><stop offset="0.4311" stop-color="#3d005a"/><stop offset="0.4445" stop-color="#31003c"/><stop offset="0.4579" stop-color="#2e0034"/><stop offset="0.4739" stop-color="#300038"/><stop offset="0.4833" stop-color="#38004c"/><stop offset="0.502" stop-color="#510096"/><stop offset="0.5194" stop-color="#6a01e2"/><stop offset="0.5287" stop-color="#7703fa"/><stop offset="0.5368" stop-color="#8205fe"/><stop offset="0.5434" stop-color="#8b07f3"/><stop offset="0.5515" stop-color="#960ad3"/><stop offset="0.5675" stop-color="#a61375"/><stop offset="0.5862" stop-color="#b42001"/><stop offset="0.6357" stop-color="#cf4900"/><stop offset="0.7159" stop-color="#f0b300"/><stop offset="0.7587" stop-color="#f9db00"/><stop offset="0.7814" stop-color="#fae200"/><stop offset="0.8082" stop-color="#f7d200"/><stop offset="0.8336" stop-color="#f1b500"/><stop offset="0.8683" stop-color="#e48400"/><stop offset="0.9084" stop-color="#d96200"/><stop offset="0.9619" stop-color="#d04b00"/><stop offset="0.9993" stop-color="#cd4400"/></linearGradient><linearGradient id="g216"><stop offset="0.0006684" stop-color="#c23200"/><stop offset="0.1798" stop-color="#bc2900"/><stop offset="0.2186" stop-color="#b42002"/><stop offset="0.2574" stop-color="#aa1657"/><stop offset="0.3028" stop-color="#970bcd"/><stop offset="0.3215" stop-color="#8f08eb"/><stop offset="0.3469" stop-color="#8405fd"/><stop offset="0.367" stop-color="#7a03fd"/><stop offset="0.3817" stop-color="#6f02ed"/><stop offset="0.3991" stop-color="#6001c6"/><stop offset="0.4191" stop-color="#4a0081"/><stop offset="0.4365" stop-color="#38004c"/><stop offset="0.4472" stop-color="#300037"/><stop offset="0.4632" stop-color="#2d0032"/><stop offset="0.4766" stop-color="#300039"/><stop offset="0.486" stop-color="#3a0051"/><stop offset="0.5074" stop-color="#5700ab"/><stop offset="0.5207" stop-color="#6b01e4"/><stop offset="0.5301" stop-color="#7803fb"/><stop offset="0.5381" stop-color="#8305fe"/><stop offset="0.5448" stop-color="#8d07f1"/><stop offset="0.5528" stop-color="#970bcf"/><stop offset="0.5715" stop-color="#a9165e"/><stop offset="0.5862" stop-color="#b42002"/><stop offset="0.6357" stop-color="#cf4900"/><stop offset="0.7159" stop-color="#f0b300"/><stop offset="0.7574" stop-color="#f9db00"/><stop offset="0.7801" stop-color="#fae300"/><stop offset="0.8055" stop-color="#f8d500"/><stop offset="0.8322" stop-color="#f1b800"/><stop offset="0.8683" stop-color="#e58400"/><stop offset="0.9084" stop-color="#d96200"/><stop offset="0.9606" stop-color="#d04c00"/><stop offset="0.9993" stop-color="#cd4500"/></linearGradient><linearGradient id="g217"><stop offset="0.0006684" stop-color="#c33200"/><stop offset="0.1811" stop-color="#bc2a00"/><stop offset="0.2213" stop-color="#b42001"/><stop offset="0.2587" stop-color="#aa1753"/><stop offset="0.3028" stop-color="#980bc9"/><stop offset="0.3215" stop-color="#9008e8"/><stop offset="0.3456" stop-color="#8605fc"/><stop offset="0.367" stop-color="#7b03fd"/><stop offset="0.3817" stop-color="#7002ee"/><stop offset="0.3991" stop-color="#6101c9"/><stop offset="0.4164" stop-color="#4e008e"/><stop offset="0.4325" stop-color="#3c0057"/><stop offset="0.4459" stop-color="#300038"/><stop offset="0.4592" stop-color="#2c0030"/><stop offset="0.4753" stop-color="#2f0035"/><stop offset="0.4846" stop-color="#370049"/><stop offset="0.5033" stop-color="#510096"/><stop offset="0.5207" stop-color="#6a01e2"/><stop offset="0.5301" stop-color="#7803fa"/><stop offset="0.5381" stop-color="#8305fe"/><stop offset="0.5448" stop-color="#8c07f2"/><stop offset="0.5528" stop-color="#960bd1"/><stop offset="0.5689" stop-color="#a71471"/><stop offset="0.5862" stop-color="#b41f04"/><stop offset="0.5889" stop-color="#b62100"/><stop offset="0.637" stop-color="#d04a00"/><stop offset="0.7172" stop-color="#f1b500"/><stop offset="0.7587" stop-color="#f9dd00"/><stop offset="0.7814" stop-color="#fae400"/><stop offset="0.8082" stop-color="#f7d400"/><stop offset="0.8322" stop-color="#f2b800"/><stop offset="0.867" stop-color="#e58600"/><stop offset="0.9057" stop-color="#da6300"/><stop offset="0.9552" stop-color="#d14e00"/><stop offset="0.9993" stop-color="#cd4500"/></linearGradient><linearGradient id="g218"><stop offset="0.0006684" stop-color="#c33300"/><stop offset="0.1825" stop-color="#bd2a00"/><stop offset="0.2253" stop-color="#b42002"/><stop offset="0.2614" stop-color="#ab1753"/><stop offset="0.3041" stop-color="#980cc7"/><stop offset="0.3229" stop-color="#9008e7"/><stop offset="0.3469" stop-color="#8605fc"/><stop offset="0.3683" stop-color="#7b03fd"/><stop offset="0.383" stop-color="#7002ee"/><stop offset="0.3991" stop-color="#6201cc"/><stop offset="0.4151" stop-color="#510096"/><stop offset="0.4311" stop-color="#3e005b"/><stop offset="0.4459" stop-color="#300037"/><stop offset="0.4579" stop-color="#2c002e"/><stop offset="0.4753" stop-color="#2e0033"/><stop offset="0.4833" stop-color="#340042"/><stop offset="0.4967" stop-color="#460075"/><stop offset="0.5207" stop-color="#6901e0"/><stop offset="0.5301" stop-color="#7703f9"/><stop offset="0.5381" stop-color="#8204ff"/><stop offset="0.5448" stop-color="#8b07f4"/><stop offset="0.5528" stop-color="#950ad4"/><stop offset="0.5675" stop-color="#a5137d"/><stop offset="0.5862" stop-color="#b41f06"/><stop offset="0.5876" stop-color="#b52000"/><stop offset="0.637" stop-color="#d04a00"/><stop offset="0.7172" stop-color="#f1b600"/><stop offset="0.7574" stop-color="#f9dd00"/><stop offset="0.7801" stop-color="#fae500"/><stop offset="0.8055" stop-color="#f8d700"/><stop offset="0.8309" stop-color="#f2bb00"/><stop offset="0.867" stop-color="#e58600"/><stop offset="0.9057" stop-color="#da6400"/><stop offset="0.9552" stop-color="#d14e00"/><stop offset="0.9993" stop-color="#cd4500"/></linearGradient><linearGradient id="g219"><stop offset="0.0006684" stop-color="#c33300"/><stop offset="0.1825" stop-color="#bd2b00"/><stop offset="0.2279" stop-color="#b42001"/><stop offset="0.2627" stop-color="#ab174f"/><stop offset="0.3055" stop-color="#990cc6"/><stop offset="0.3242" stop-color="#9008e6"/><stop offset="0.3483" stop-color="#8605fc"/><stop offset="0.3697" stop-color="#7b03fd"/><stop offset="0.3844" stop-color="#7002ee"/><stop offset="0.4004" stop-color="#6201cb"/><stop offset="0.4151" stop-color="#52009a"/><stop offset="0.4325" stop-color="#3d0058"/><stop offset="0.4459" stop-color="#300037"/><stop offset="0.4579" stop-color="#2b002d"/><stop offset="0.4766" stop-color="#2d0032"/><stop offset="0.4846" stop-color="#340042"/><stop offset="0.498" stop-color="#470076"/><stop offset="0.5221" stop-color="#6a01e2"/><stop offset="0.5314" stop-color="#7803fa"/><stop offset="0.5394" stop-color="#8305fe"/><stop offset="0.5461" stop-color="#8c07f2"/><stop offset="0.5541" stop-color="#960bd0"/><stop offset="0.5702" stop-color="#a7146f"/><stop offset="0.5876" stop-color="#b42000"/><stop offset="0.637" stop-color="#d04a00"/><stop offset="0.7159" stop-color="#f1b500"/><stop offset="0.756" stop-color="#f9dd00"/><stop offset="0.7787" stop-color="#fbe600"/><stop offset="0.8028" stop-color="#f9da00"/><stop offset="0.8295" stop-color="#f3be00"/><stop offset="0.867" stop-color="#e58600"/><stop offset="0.9044" stop-color="#da6400"/><stop offset="0.9525" stop-color="#d24f00"/><stop offset="0.9993" stop-color="#cd4600"/></linearGradient><linearGradient id="g220"><stop offset="0.0006684" stop-color="#c33300"/><stop offset="0.1838" stop-color="#be2b00"/><stop offset="0.232" stop-color="#b42002"/><stop offset="0.2654" stop-color="#ab174e"/><stop offset="0.3055" stop-color="#9a0cc1"/><stop offset="0.3242" stop-color="#9109e3"/><stop offset="0.3469" stop-color="#8706fa"/><stop offset="0.3683" stop-color="#7c03fe"/><stop offset="0.3844" stop-color="#7102f0"/><stop offset="0.4004" stop-color="#6301cf"/><stop offset="0.4151" stop-color="#53009e"/><stop offset="0.4325" stop-color="#3d005a"/><stop offset="0.4459" stop-color="#300037"/><stop offset="0.4566" stop-color="#2a002c"/><stop offset="0.4753" stop-color="#2b002e"/><stop offset="0.4846" stop-color="#32003e"/><stop offset="0.4967" stop-color="#43006c"/><stop offset="0.5221" stop-color="#6901df"/><stop offset="0.5314" stop-color="#7703f9"/><stop offset="0.5394" stop-color="#8204ff"/><stop offset="0.5461" stop-color="#8b07f4"/><stop offset="0.5541" stop-color="#960ad4"/><stop offset="0.5675" stop-color="#a41284"/><stop offset="0.5876" stop-color="#b42002"/><stop offset="0.637" stop-color="#d04a00"/><stop offset="0.7159" stop-color="#f1b500"/><stop offset="0.756" stop-color="#f9de00"/><stop offset="0.7787" stop-color="#fbe700"/><stop offset="0.8028" stop-color="#f9db00"/><stop offset="0.8295" stop-color="#f3be00"/><stop offset="0.8656" stop-color="#e58800"/><stop offset="0.9017" stop-color="#db6600"/><stop offset="0.9472" stop-color="#d35100"/><stop offset="0.9993" stop-color="#ce4600"/></linearGradient><linearGradient id="g221"><stop offset="0.0006684" stop-color="#c33300"/><stop offset="0.1852" stop-color="#be2c00"/><stop offset="0.2346" stop-color="#b42001"/><stop offset="0.2667" stop-color="#ac184a"/><stop offset="0.3068" stop-color="#9a0cbf"/><stop offset="0.3269" stop-color="#9109e4"/><stop offset="0.3496" stop-color="#8706fa"/><stop offset="0.371" stop-color="#7c03fe"/><stop offset="0.387" stop-color="#7002ee"/><stop offset="0.4031" stop-color="#6201cb"/><stop offset="0.4164" stop-color="#53009d"/><stop offset="0.4338" stop-color="#3c0057"/><stop offset="0.4472" stop-color="#2f0035"/><stop offset="0.4592" stop-color="#290029"/><stop offset="0.4779" stop-color="#2c002e"/><stop offset="0.486" stop-color="#32003e"/><stop offset="0.498" stop-color="#44006d"/><stop offset="0.5221" stop-color="#6801dd"/><stop offset="0.5314" stop-color="#7602f8"/><stop offset="0.5394" stop-color="#8104ff"/><stop offset="0.5461" stop-color="#8a06f6"/><stop offset="0.5541" stop-color="#950ad7"/><stop offset="0.5662" stop-color="#a21190"/><stop offset="0.5876" stop-color="#b41f04"/><stop offset="0.5902" stop-color="#b62100"/><stop offset="0.637" stop-color="#cf4a00"/><stop offset="0.7159" stop-color="#f1b600"/><stop offset="0.7547" stop-color="#f9de00"/><stop offset="0.7774" stop-color="#fbe800"/><stop offset="0.8015" stop-color="#f9dd00"/><stop offset="0.8282" stop-color="#f3c100"/><stop offset="0.8656" stop-color="#e68800"/><stop offset="0.9017" stop-color="#db6600"/><stop offset="0.9472" stop-color="#d35100"/><stop offset="0.9993" stop-color="#ce4600"/></linearGradient><linearGradient id="g222"><stop offset="0.0006684" stop-color="#c33400"/><stop offset="0.1865" stop-color="#be2c00"/><stop offset="0.2386" stop-color="#b42002"/><stop offset="0.2694" stop-color="#ac184a"/><stop offset="0.3068" stop-color="#9b0db9"/><stop offset="0.3269" stop-color="#9209e1"/><stop offset="0.3496" stop-color="#8806f9"/><stop offset="0.371" stop-color="#7d03fe"/><stop offset="0.387" stop-color="#7102f1"/><stop offset="0.4017" stop-color="#6401d3"/><stop offset="0.4151" stop-color="#5600a7"/><stop offset="0.4338" stop-color="#3d0059"/><stop offset="0.4472" stop-color="#2f0036"/><stop offset="0.4579" stop-color="#290029"/><stop offset="0.4766" stop-color="#2a002b"/><stop offset="0.486" stop-color="#31003a"/><stop offset="0.4967" stop-color="#400062"/><stop offset="0.5234" stop-color="#6901df"/><stop offset="0.5328" stop-color="#7703f9"/><stop offset="0.5408" stop-color="#8204ff"/><stop offset="0.5475" stop-color="#8b07f4"/><stop offset="0.5555" stop-color="#960ad4"/><stop offset="0.5689" stop-color="#a41283"/><stop offset="0.5876" stop-color="#b41f06"/><stop offset="0.5889" stop-color="#b52000"/><stop offset="0.637" stop-color="#cf4a00"/><stop offset="0.7039" stop-color="#eda600"/><stop offset="0.7426" stop-color="#f7d400"/><stop offset="0.7707" stop-color="#fbe800"/><stop offset="0.7921" stop-color="#fae500"/><stop offset="0.8229" stop-color="#f5c900"/><stop offset="0.8656" stop-color="#e68800"/><stop offset="0.9004" stop-color="#db6700"/><stop offset="0.9459" stop-color="#d35200"/><stop offset="0.9993" stop-color="#ce4700"/></linearGradient><linearGradient id="g223"><stop offset="0.0006684" stop-color="#c43400"/><stop offset="0.1865" stop-color="#bf2d00"/><stop offset="0.2413" stop-color="#b42001"/><stop offset="0.2707" stop-color="#ac1846"/><stop offset="0.3082" stop-color="#9c0db7"/><stop offset="0.3282" stop-color="#9209e0"/><stop offset="0.3509" stop-color="#8806f9"/><stop offset="0.3723" stop-color="#7d03fe"/><stop offset="0.3884" stop-color="#7102f1"/><stop offset="0.4031" stop-color="#6401d3"/><stop offset="0.4164" stop-color="#5600a7"/><stop offset="0.4352" stop-color="#3c0057"/><stop offset="0.4485" stop-color="#2e0034"/><stop offset="0.4606" stop-color="#280027"/><stop offset="0.4779" stop-color="#29002a"/><stop offset="0.4873" stop-color="#31003a"/><stop offset="0.498" stop-color="#400063"/><stop offset="0.5234" stop-color="#6801dc"/><stop offset="0.5328" stop-color="#7502f8"/><stop offset="0.5408" stop-color="#8104ff"/><stop offset="0.5475" stop-color="#8a06f6"/><stop offset="0.5555" stop-color="#950ad8"/><stop offset="0.5675" stop-color="#a21190"/><stop offset="0.5889" stop-color="#b42000"/><stop offset="0.637" stop-color="#cf4a00"/><stop offset="0.7012" stop-color="#eca200"/><stop offset="0.74" stop-color="#f7d300"/><stop offset="0.7694" stop-color="#fbe900"/><stop offset="0.7908" stop-color="#fbe700"/><stop offset="0.8229" stop-color="#f5ca00"/><stop offset="0.8656" stop-color="#e68800"/><stop offset="0.9004" stop-color="#db6700"/><stop offset="0.9459" stop-color="#d35200"/><stop offset="0.9993" stop-color="#ce4700"/></linearGradient><linearGradient id="g224"><stop offset="0.0006684" stop-color="#c43400"/><stop offset="0.1878" stop-color="#bf2d00"/><stop offset="0.2453" stop-color="#b42002"/><stop offset="0.2721" stop-color="#ad1942"/><stop offset="0.3095" stop-color="#9c0db4"/><stop offset="0.3295" stop-color="#9309de"/><stop offset="0.3509" stop-color="#8906f8"/><stop offset="0.3723" stop-color="#7e04ff"/><stop offset="0.3884" stop-color="#7202f3"/><stop offset="0.4031" stop-color="#6601d7"/><stop offset="0.4164" stop-color="#5700ac"/><stop offset="0.4365" stop-color="#3b0055"/><stop offset="0.4499" stop-color="#2d0032"/><stop offset="0.4619" stop-color="#270025"/><stop offset="0.4793" stop-color="#290029"/><stop offset="0.4886" stop-color="#31003a"/><stop offset="0.4993" stop-color="#410064"/><stop offset="0.5247" stop-color="#6901de"/><stop offset="0.5341" stop-color="#7603f9"/><stop offset="0.5421" stop-color="#8204ff"/><stop offset="0.5488" stop-color="#8b07f4"/><stop offset="0.5568" stop-color="#950ad5"/><stop offset="0.5689" stop-color="#a3118c"/><stop offset="0.5889" stop-color="#b42003"/><stop offset="0.6023" stop-color="#bd2a00"/><stop offset="0.6424" stop-color="#d25000"/><stop offset="0.7199" stop-color="#f2bc00"/><stop offset="0.7574" stop-color="#fae300"/><stop offset="0.7801" stop-color="#fceb00"/><stop offset="0.8055" stop-color="#f9dd00"/><stop offset="0.8282" stop-color="#f4c300"/><stop offset="0.8643" stop-color="#e68a00"/><stop offset="0.8977" stop-color="#dc6900"/><stop offset="0.9418" stop-color="#d45300"/><stop offset="0.9993" stop-color="#ce4700"/></linearGradient><linearGradient id="g225"><stop offset="0.0006684" stop-color="#c43400"/><stop offset="0.1878" stop-color="#bf2d00"/><stop offset="0.248" stop-color="#b42001"/><stop offset="0.2734" stop-color="#ad193e"/><stop offset="0.3108" stop-color="#9d0eb2"/><stop offset="0.3309" stop-color="#9309dd"/><stop offset="0.3523" stop-color="#8906f7"/><stop offset="0.3737" stop-color="#7e04ff"/><stop offset="0.3897" stop-color="#7202f3"/><stop offset="0.4044" stop-color="#6601d7"/><stop offset="0.4178" stop-color="#5700ab"/><stop offset="0.4365" stop-color="#3c0058"/><stop offset="0.4485" stop-color="#2f0036"/><stop offset="0.4606" stop-color="#270025"/><stop offset="0.4766" stop-color="#270025"/><stop offset="0.4873" stop-color="#2e0033"/><stop offset="0.4967" stop-color="#3b0053"/><stop offset="0.5261" stop-color="#6901e0"/><stop offset="0.5341" stop-color="#7502f8"/><stop offset="0.5421" stop-color="#8104ff"/><stop offset="0.5488" stop-color="#8a06f6"/><stop offset="0.5568" stop-color="#940ad8"/><stop offset="0.5675" stop-color="#a1109a"/><stop offset="0.5889" stop-color="#b41f05"/><stop offset="0.5902" stop-color="#b52000"/><stop offset="0.6384" stop-color="#d04b00"/><stop offset="0.7159" stop-color="#f1b800"/><stop offset="0.752" stop-color="#f9df00"/><stop offset="0.7761" stop-color="#fcec00"/><stop offset="0.7988" stop-color="#fae300"/><stop offset="0.8255" stop-color="#f5c800"/><stop offset="0.8643" stop-color="#e68a00"/><stop offset="0.8964" stop-color="#dc6a00"/><stop offset="0.9405" stop-color="#d45400"/><stop offset="0.9993" stop-color="#ce4800"/></linearGradient><linearGradient id="g226"><stop offset="0.0006684" stop-color="#c43500"/><stop offset="0.1892" stop-color="#c02e00"/><stop offset="0.252" stop-color="#b42002"/><stop offset="0.2761" stop-color="#ad193e"/><stop offset="0.3122" stop-color="#9d0eaf"/><stop offset="0.3322" stop-color="#940adc"/><stop offset="0.3536" stop-color="#8906f7"/><stop offset="0.3737" stop-color="#7f04ff"/><stop offset="0.3897" stop-color="#7402f5"/><stop offset="0.4044" stop-color="#6701da"/><stop offset="0.4178" stop-color="#5900b0"/><stop offset="0.4378" stop-color="#3c0056"/><stop offset="0.4499" stop-color="#2e0034"/><stop offset="0.4619" stop-color="#260024"/><stop offset="0.4779" stop-color="#260024"/><stop offset="0.4886" stop-color="#2e0033"/><stop offset="0.498" stop-color="#3b0054"/><stop offset="0.5261" stop-color="#6801dd"/><stop offset="0.5341" stop-color="#7402f6"/><stop offset="0.5421" stop-color="#8004ff"/><stop offset="0.5488" stop-color="#8906f8"/><stop offset="0.5568" stop-color="#930adc"/><stop offset="0.5662" stop-color="#9e0fa7"/><stop offset="0.5902" stop-color="#b42000"/><stop offset="0.6384" stop-color="#d04b00"/><stop offset="0.7066" stop-color="#efab00"/><stop offset="0.7426" stop-color="#f8d800"/><stop offset="0.7707" stop-color="#fcec00"/><stop offset="0.7921" stop-color="#fbe900"/><stop offset="0.8229" stop-color="#f6cc00"/><stop offset="0.8643" stop-color="#e68a00"/><stop offset="0.8964" stop-color="#dc6a00"/><stop offset="0.9405" stop-color="#d45400"/><stop offset="0.9993" stop-color="#ce4800"/></linearGradient><linearGradient id="g227"><stop offset="0.0006684" stop-color="#c43500"/><stop offset="0.1892" stop-color="#c02e00"/><stop offset="0.2547" stop-color="#b42001"/><stop offset="0.2787" stop-color="#ad193e"/><stop offset="0.3135" stop-color="#9e0eac"/><stop offset="0.3322" stop-color="#950ad8"/><stop offset="0.3523" stop-color="#8b07f4"/><stop offset="0.3737" stop-color="#8004ff"/><stop offset="0.3897" stop-color="#7502f7"/><stop offset="0.4044" stop-color="#6801de"/><stop offset="0.4178" stop-color="#5a01b5"/><stop offset="0.4392" stop-color="#3b0054"/><stop offset="0.4512" stop-color="#2e0033"/><stop offset="0.4632" stop-color="#250022"/><stop offset="0.4779" stop-color="#250023"/><stop offset="0.4886" stop-color="#2c0030"/><stop offset="0.4967" stop-color="#370049"/><stop offset="0.5154" stop-color="#5500a5"/><stop offset="0.5274" stop-color="#6901df"/><stop offset="0.5354" stop-color="#7502f7"/><stop offset="0.5434" stop-color="#8104ff"/><stop offset="0.5501" stop-color="#8a06f6"/><stop offset="0.5582" stop-color="#940ad9"/><stop offset="0.5675" stop-color="#9f0fa3"/><stop offset="0.5902" stop-color="#b42002"/><stop offset="0.6384" stop-color="#d04b00"/><stop offset="0.7025" stop-color="#eda600"/><stop offset="0.74" stop-color="#f8d600"/><stop offset="0.7694" stop-color="#fced00"/><stop offset="0.7894" stop-color="#fceb00"/><stop offset="0.8202" stop-color="#f7d100"/><stop offset="0.8656" stop-color="#e68800"/><stop offset="0.8977" stop-color="#dc6a00"/><stop offset="0.9432" stop-color="#d45300"/><stop offset="0.9993" stop-color="#cf4800"/></linearGradient><linearGradient id="g228"><stop offset="0.0006684" stop-color="#c43500"/><stop offset="0.1905" stop-color="#c02f00"/><stop offset="0.2574" stop-color="#b42000"/><stop offset="0.2801" stop-color="#ae193a"/><stop offset="0.3162" stop-color="#9d0eae"/><stop offset="0.3349" stop-color="#940ad9"/><stop offset="0.3549" stop-color="#8a07f5"/><stop offset="0.375" stop-color="#8004ff"/><stop offset="0.391" stop-color="#7502f7"/><stop offset="0.4057" stop-color="#6901de"/><stop offset="0.4191" stop-color="#5a00b4"/><stop offset="0.4405" stop-color="#3a0053"/><stop offset="0.4525" stop-color="#2d0032"/><stop offset="0.4646" stop-color="#250021"/><stop offset="0.4793" stop-color="#250022"/><stop offset="0.49" stop-color="#2c0030"/><stop offset="0.498" stop-color="#37004a"/><stop offset="0.5167" stop-color="#5600a7"/><stop offset="0.5287" stop-color="#6a01e1"/><stop offset="0.5368" stop-color="#7603f9"/><stop offset="0.5448" stop-color="#8204ff"/><stop offset="0.5515" stop-color="#8b07f5"/><stop offset="0.5595" stop-color="#950ad6"/><stop offset="0.5689" stop-color="#a00f9f"/><stop offset="0.5902" stop-color="#b41f04"/><stop offset="0.5929" stop-color="#b62200"/><stop offset="0.6384" stop-color="#d04a00"/><stop offset="0.6999" stop-color="#eca200"/><stop offset="0.7386" stop-color="#f8d500"/><stop offset="0.7694" stop-color="#fcee00"/><stop offset="0.7894" stop-color="#fcec00"/><stop offset="0.8202" stop-color="#f7d100"/><stop offset="0.8656" stop-color="#e68800"/><stop offset="0.8964" stop-color="#dc6a00"/><stop offset="0.9418" stop-color="#d45400"/><stop offset="0.9993" stop-color="#cf4800"/></linearGradient><linearGradient id="g229"><stop offset="0.0006684" stop-color="#c43500"/><stop offset="0.1905" stop-color="#c12f00"/><stop offset="0.2614" stop-color="#b42002"/><stop offset="0.2828" stop-color="#ae193b"/><stop offset="0.3189" stop-color="#9d0eaf"/><stop offset="0.3376" stop-color="#940adb"/><stop offset="0.3576" stop-color="#8a06f6"/><stop offset="0.3777" stop-color="#7f04ff"/><stop offset="0.3937" stop-color="#7402f6"/><stop offset="0.4071" stop-color="#6801de"/><stop offset="0.4205" stop-color="#5a00b4"/><stop offset="0.4405" stop-color="#3c0056"/><stop offset="0.4525" stop-color="#2e0033"/><stop offset="0.4646" stop-color="#250021"/><stop offset="0.4779" stop-color="#24001f"/><stop offset="0.49" stop-color="#2b002d"/><stop offset="0.498" stop-color="#360046"/><stop offset="0.514" stop-color="#500094"/><stop offset="0.5287" stop-color="#6901de"/><stop offset="0.5368" stop-color="#7502f7"/><stop offset="0.5448" stop-color="#8104ff"/><stop offset="0.5515" stop-color="#8a06f6"/><stop offset="0.5595" stop-color="#940ad9"/><stop offset="0.5689" stop-color="#9f0fa3"/><stop offset="0.5902" stop-color="#b41f07"/><stop offset="0.5916" stop-color="#b52000"/><stop offset="0.6384" stop-color="#d04a00"/><stop offset="0.6985" stop-color="#eca000"/><stop offset="0.7386" stop-color="#f8d600"/><stop offset="0.7694" stop-color="#fcee00"/><stop offset="0.7894" stop-color="#fced00"/><stop offset="0.8202" stop-color="#f7d200"/><stop offset="0.8643" stop-color="#e68a00"/><stop offset="0.8937" stop-color="#dd6c00"/><stop offset="0.9392" stop-color="#d45500"/><stop offset="0.9993" stop-color="#cf4900"/></linearGradient><linearGradient id="g230"><stop offset="0.0006684" stop-color="#c53500"/><stop offset="0.1905" stop-color="#c13000"/><stop offset="0.264" stop-color="#b42002"/><stop offset="0.2854" stop-color="#ad193b"/><stop offset="0.3215" stop-color="#9d0eb1"/><stop offset="0.3402" stop-color="#930adc"/><stop offset="0.359" stop-color="#8a06f6"/><stop offset="0.379" stop-color="#7f04ff"/><stop offset="0.3951" stop-color="#7402f6"/><stop offset="0.4084" stop-color="#6801de"/><stop offset="0.4205" stop-color="#5b01b8"/><stop offset="0.4338" stop-color="#470079"/><stop offset="0.4432" stop-color="#39004f"/><stop offset="0.4552" stop-color="#2c002f"/><stop offset="0.4672" stop-color="#23001f"/><stop offset="0.4806" stop-color="#24001f"/><stop offset="0.4913" stop-color="#2b002d"/><stop offset="0.4993" stop-color="#360047"/><stop offset="0.5167" stop-color="#53009e"/><stop offset="0.5287" stop-color="#6801db"/><stop offset="0.5368" stop-color="#7402f6"/><stop offset="0.5448" stop-color="#8004ff"/><stop offset="0.5515" stop-color="#8906f8"/><stop offset="0.5595" stop-color="#930adc"/><stop offset="0.5689" stop-color="#9e0fa7"/><stop offset="0.5916" stop-color="#b42000"/><stop offset="0.6384" stop-color="#d04a00"/><stop offset="0.6972" stop-color="#ec9f00"/><stop offset="0.7373" stop-color="#f8d500"/><stop offset="0.768" stop-color="#fcef00"/><stop offset="0.7881" stop-color="#fcef00"/><stop offset="0.8175" stop-color="#f8d600"/><stop offset="0.867" stop-color="#e58700"/><stop offset="0.8977" stop-color="#dc6a00"/><stop offset="0.9432" stop-color="#d45400"/><stop offset="0.9993" stop-color="#cf4900"/></linearGradient><linearGradient id="g231"><stop offset="0.0006684" stop-color="#c53600"/><stop offset="0.1918" stop-color="#c13000"/><stop offset="0.2667" stop-color="#b42001"/><stop offset="0.2881" stop-color="#ad193c"/><stop offset="0.3242" stop-color="#9c0eb3"/><stop offset="0.3429" stop-color="#9309de"/><stop offset="0.3616" stop-color="#8906f7"/><stop offset="0.3817" stop-color="#7e04ff"/><stop offset="0.3977" stop-color="#7302f4"/><stop offset="0.4111" stop-color="#6701da"/><stop offset="0.4231" stop-color="#5900b1"/><stop offset="0.4432" stop-color="#3a0052"/><stop offset="0.4552" stop-color="#2c0030"/><stop offset="0.4672" stop-color="#23001e"/><stop offset="0.4806" stop-color="#23001e"/><stop offset="0.4913" stop-color="#2a002b"/><stop offset="0.4993" stop-color="#350043"/><stop offset="0.514" stop-color="#4d008c"/><stop offset="0.5287" stop-color="#6601d9"/><stop offset="0.5368" stop-color="#7302f5"/><stop offset="0.5448" stop-color="#7f04ff"/><stop offset="0.5515" stop-color="#8806f9"/><stop offset="0.5595" stop-color="#9309df"/><stop offset="0.5689" stop-color="#9e0eab"/><stop offset="0.5822" stop-color="#ac1848"/><stop offset="0.5916" stop-color="#b42001"/><stop offset="0.6384" stop-color="#cf4a00"/><stop offset="0.6945" stop-color="#eb9b00"/><stop offset="0.7373" stop-color="#f8d600"/><stop offset="0.768" stop-color="#fcf000"/><stop offset="0.7881" stop-color="#fcef00"/><stop offset="0.8175" stop-color="#f8d700"/><stop offset="0.867" stop-color="#e58700"/><stop offset="0.8964" stop-color="#dd6b00"/><stop offset="0.9418" stop-color="#d45400"/><stop offset="0.9993" stop-color="#cf4900"/></linearGradient><linearGradient id="g232"><stop offset="0.0006684" stop-color="#c53600"/><stop offset="0.1918" stop-color="#c13000"/><stop offset="0.2694" stop-color="#b42001"/><stop offset="0.2894" stop-color="#ae1939"/><stop offset="0.3269" stop-color="#9c0db5"/><stop offset="0.3456" stop-color="#9209e0"/><stop offset="0.3643" stop-color="#8906f8"/><stop offset="0.3844" stop-color="#7e04ff"/><stop offset="0.3991" stop-color="#7302f4"/><stop offset="0.4124" stop-color="#6701d9"/><stop offset="0.4245" stop-color="#5800af"/><stop offset="0.4432" stop-color="#3b0055"/><stop offset="0.4539" stop-color="#2e0035"/><stop offset="0.4672" stop-color="#23001e"/><stop offset="0.4793" stop-color="#22001c"/><stop offset="0.4913" stop-color="#290029"/><stop offset="0.4993" stop-color="#330040"/><stop offset="0.5114" stop-color="#480079"/><stop offset="0.5301" stop-color="#6801dc"/><stop offset="0.5381" stop-color="#7402f6"/><stop offset="0.5461" stop-color="#8004ff"/><stop offset="0.5528" stop-color="#8906f7"/><stop offset="0.5608" stop-color="#940adb"/><stop offset="0.5702" stop-color="#9f0fa6"/><stop offset="0.5849" stop-color="#ae1a35"/><stop offset="0.5916" stop-color="#b41f03"/><stop offset="0.5969" stop-color="#b82400"/><stop offset="0.6397" stop-color="#d04b00"/><stop offset="0.6999" stop-color="#eda300"/><stop offset="0.7386" stop-color="#f8d800"/><stop offset="0.7694" stop-color="#fdf100"/><stop offset="0.7894" stop-color="#fcf000"/><stop offset="0.8189" stop-color="#f8d600"/><stop offset="0.8656" stop-color="#e68800"/><stop offset="0.8937" stop-color="#dd6d00"/><stop offset="0.9392" stop-color="#d55500"/><stop offset="0.9993" stop-color="#cf4900"/></linearGradient><linearGradient id="g233"><stop offset="0.0006684" stop-color="#c53600"/><stop offset="0.1918" stop-color="#c23100"/><stop offset="0.2721" stop-color="#b42001"/><stop offset="0.2921" stop-color="#ae193b"/><stop offset="0.3282" stop-color="#9c0eb4"/><stop offset="0.3469" stop-color="#9209e0"/><stop offset="0.3643" stop-color="#8906f7"/><stop offset="0.3844" stop-color="#7f04ff"/><stop offset="0.3991" stop-color="#7402f6"/><stop offset="0.4111" stop-color="#6901df"/><stop offset="0.4231" stop-color="#5b01b8"/><stop offset="0.4445" stop-color="#3a0053"/><stop offset="0.4566" stop-color="#2c0030"/><stop offset="0.4699" stop-color="#22001c"/><stop offset="0.482" stop-color="#22001c"/><stop offset="0.494" stop-color="#2b002d"/><stop offset="0.502" stop-color="#360047"/><stop offset="0.518" stop-color="#52009a"/><stop offset="0.5314" stop-color="#6901df"/><stop offset="0.5394" stop-color="#7602f8"/><stop offset="0.5475" stop-color="#8104ff"/><stop offset="0.5541" stop-color="#8a06f5"/><stop offset="0.5622" stop-color="#950ad8"/><stop offset="0.5715" stop-color="#a00fa0"/><stop offset="0.5916" stop-color="#b41f05"/><stop offset="0.5943" stop-color="#b62200"/><stop offset="0.6397" stop-color="#d04b00"/><stop offset="0.6972" stop-color="#eca000"/><stop offset="0.7373" stop-color="#f8d800"/><stop offset="0.768" stop-color="#fdf100"/><stop offset="0.7881" stop-color="#fdf100"/><stop offset="0.8175" stop-color="#f8d800"/><stop offset="0.867" stop-color="#e58700"/><stop offset="0.8951" stop-color="#dd6c00"/><stop offset="0.9405" stop-color="#d45500"/><stop offset="0.9993" stop-color="#cf4900"/></linearGradient><linearGradient id="g234"><stop offset="0.0006684" stop-color="#c53600"/><stop offset="0.1918" stop-color="#c23100"/><stop offset="0.2747" stop-color="#b42002"/><stop offset="0.2961" stop-color="#ad1940"/><stop offset="0.3295" stop-color="#9c0eb2"/><stop offset="0.3483" stop-color="#9209df"/><stop offset="0.3656" stop-color="#8906f7"/><stop offset="0.3857" stop-color="#7f04ff"/><stop offset="0.4004" stop-color="#7402f6"/><stop offset="0.4124" stop-color="#6901df"/><stop offset="0.4245" stop-color="#5b01b6"/><stop offset="0.4459" stop-color="#3a0051"/><stop offset="0.4579" stop-color="#2c002f"/><stop offset="0.4713" stop-color="#21001b"/><stop offset="0.4833" stop-color="#22001c"/><stop offset="0.494" stop-color="#2a002a"/><stop offset="0.502" stop-color="#350044"/><stop offset="0.5154" stop-color="#4c0087"/><stop offset="0.5314" stop-color="#6801dc"/><stop offset="0.5394" stop-color="#7502f7"/><stop offset="0.5475" stop-color="#8004ff"/><stop offset="0.5541" stop-color="#8a06f7"/><stop offset="0.5622" stop-color="#940ada"/><stop offset="0.5702" stop-color="#9e0eac"/><stop offset="0.5809" stop-color="#a9165b"/><stop offset="0.5916" stop-color="#b41f07"/><stop offset="0.5929" stop-color="#b52000"/><stop offset="0.6397" stop-color="#d04b00"/><stop offset="0.6959" stop-color="#eb9e00"/><stop offset="0.7373" stop-color="#f8d800"/><stop offset="0.768" stop-color="#fdf200"/><stop offset="0.7881" stop-color="#fdf200"/><stop offset="0.8175" stop-color="#f8d900"/><stop offset="0.867" stop-color="#e58700"/><stop offset="0.8951" stop-color="#dd6c00"/><stop offset="0.9418" stop-color="#d45500"/><stop offset="0.9993" stop-color="#cf4a00"/></linearGradient><linearGradient id="g235"><stop offset="0.0006684" stop-color="#c53600"/><stop offset="0.1918" stop-color="#c23200"/><stop offset="0.2774" stop-color="#b42002"/><stop offset="0.2988" stop-color="#ad1942"/><stop offset="0.3309" stop-color="#9d0eb2"/><stop offset="0.3496" stop-color="#9209df"/><stop offset="0.367" stop-color="#8906f7"/><stop offset="0.387" stop-color="#7f04ff"/><stop offset="0.4017" stop-color="#7402f6"/><stop offset="0.4138" stop-color="#6801de"/><stop offset="0.4258" stop-color="#5a00b4"/><stop offset="0.4459" stop-color="#3b0053"/><stop offset="0.4566" stop-color="#2e0033"/><stop offset="0.4699" stop-color="#22001c"/><stop offset="0.482" stop-color="#20001a"/><stop offset="0.494" stop-color="#290028"/><stop offset="0.502" stop-color="#330040"/><stop offset="0.514" stop-color="#48007c"/><stop offset="0.5314" stop-color="#6701d9"/><stop offset="0.5394" stop-color="#7402f5"/><stop offset="0.5475" stop-color="#8004ff"/><stop offset="0.5541" stop-color="#8906f8"/><stop offset="0.5622" stop-color="#9309dd"/><stop offset="0.5702" stop-color="#9d0eaf"/><stop offset="0.5809" stop-color="#a9165e"/><stop offset="0.5916" stop-color="#b31f08"/><stop offset="0.5929" stop-color="#b42000"/><stop offset="0.6397" stop-color="#d04b00"/><stop offset="0.6945" stop-color="#eb9c00"/><stop offset="0.736" stop-color="#f8d700"/><stop offset="0.768" stop-color="#fdf300"/><stop offset="0.7881" stop-color="#fdf300"/><stop offset="0.8175" stop-color="#f8da00"/><stop offset="0.867" stop-color="#e58700"/><stop offset="0.8951" stop-color="#dd6c00"/><stop offset="0.9418" stop-color="#d45500"/><stop offset="0.9993" stop-color="#cf4a00"/></linearGradient><linearGradient id="g236"><stop offset="0.0006684" stop-color="#c53600"/><stop offset="0.1918" stop-color="#c33200"/><stop offset="0.2787" stop-color="#b42000"/><stop offset="0.3001" stop-color="#ad193f"/><stop offset="0.3309" stop-color="#9e0ead"/><stop offset="0.3496" stop-color="#9309dd"/><stop offset="0.3656" stop-color="#8b07f5"/><stop offset="0.3857" stop-color="#8004ff"/><stop offset="0.4017" stop-color="#7502f7"/><stop offset="0.4138" stop-color="#6901e0"/><stop offset="0.4258" stop-color="#5b01b7"/><stop offset="0.4472" stop-color="#3a0051"/><stop offset="0.4592" stop-color="#2c002e"/><stop offset="0.4726" stop-color="#20001a"/><stop offset="0.4846" stop-color="#21001a"/><stop offset="0.4967" stop-color="#2b002d"/><stop offset="0.5047" stop-color="#370048"/><stop offset="0.5194" stop-color="#510096"/><stop offset="0.5328" stop-color="#6801dc"/><stop offset="0.5408" stop-color="#7502f7"/><stop offset="0.5488" stop-color="#8104ff"/><stop offset="0.5555" stop-color="#8a06f6"/><stop offset="0.5635" stop-color="#940ad9"/><stop offset="0.5715" stop-color="#9e0ea9"/><stop offset="0.5822" stop-color="#aa1755"/><stop offset="0.5929" stop-color="#b42000"/><stop offset="0.6397" stop-color="#d04a00"/><stop offset="0.6918" stop-color="#ea9800"/><stop offset="0.736" stop-color="#f8d800"/><stop offset="0.768" stop-color="#fdf300"/><stop offset="0.7881" stop-color="#fdf300"/><stop offset="0.8175" stop-color="#f9db00"/><stop offset="0.867" stop-color="#e58700"/><stop offset="0.8937" stop-color="#dd6d00"/><stop offset="0.9392" stop-color="#d55600"/><stop offset="0.9993" stop-color="#cf4a00"/></linearGradient><linearGradient id="g237"><stop offset="0.0006684" stop-color="#c53700"/><stop offset="0.1918" stop-color="#c33300"/><stop offset="0.2814" stop-color="#b42001"/><stop offset="0.3028" stop-color="#ad1941"/><stop offset="0.3322" stop-color="#9e0eac"/><stop offset="0.3496" stop-color="#940ada"/><stop offset="0.3656" stop-color="#8b07f3"/><stop offset="0.387" stop-color="#8004ff"/><stop offset="0.4017" stop-color="#7602f8"/><stop offset="0.4138" stop-color="#6a01e3"/><stop offset="0.4258" stop-color="#5c01ba"/><stop offset="0.4472" stop-color="#3b0054"/><stop offset="0.4579" stop-color="#2e0033"/><stop offset="0.4713" stop-color="#21001b"/><stop offset="0.4833" stop-color="#1f0018"/><stop offset="0.4953" stop-color="#280027"/><stop offset="0.5033" stop-color="#33003f"/><stop offset="0.514" stop-color="#460074"/><stop offset="0.5328" stop-color="#6701da"/><stop offset="0.5408" stop-color="#7402f6"/><stop offset="0.5488" stop-color="#8004ff"/><stop offset="0.5555" stop-color="#8906f7"/><stop offset="0.5622" stop-color="#9209e1"/><stop offset="0.5702" stop-color="#9c0db5"/><stop offset="0.5795" stop-color="#a7146e"/><stop offset="0.5929" stop-color="#b42001"/><stop offset="0.6397" stop-color="#d04a00"/><stop offset="0.6905" stop-color="#e99600"/><stop offset="0.7346" stop-color="#f8d700"/><stop offset="0.7667" stop-color="#fdf400"/><stop offset="0.7868" stop-color="#fdf500"/><stop offset="0.8148" stop-color="#f9de00"/><stop offset="0.8349" stop-color="#f3bd00"/><stop offset="0.8683" stop-color="#e58500"/><stop offset="0.8964" stop-color="#dd6b00"/><stop offset="0.9432" stop-color="#d45500"/><stop offset="0.9993" stop-color="#d04a00"/></linearGradient><linearGradient id="g238"><stop offset="0.0006684" stop-color="#c53700"/><stop offset="0.1918" stop-color="#c33300"/><stop offset="0.2828" stop-color="#b42000"/><stop offset="0.3015" stop-color="#ae1a36"/><stop offset="0.3336" stop-color="#9e0eac"/><stop offset="0.3509" stop-color="#940adb"/><stop offset="0.367" stop-color="#8b07f4"/><stop offset="0.3884" stop-color="#8004ff"/><stop offset="0.4031" stop-color="#7602f8"/><stop offset="0.4151" stop-color="#6a01e1"/><stop offset="0.4271" stop-color="#5b01b8"/><stop offset="0.4485" stop-color="#3a0052"/><stop offset="0.4592" stop-color="#2d0031"/><stop offset="0.4726" stop-color="#21001a"/><stop offset="0.4846" stop-color="#1f0018"/><stop offset="0.4967" stop-color="#290029"/><stop offset="0.5047" stop-color="#340042"/><stop offset="0.5167" stop-color="#49007f"/><stop offset="0.5328" stop-color="#6601d7"/><stop offset="0.5408" stop-color="#7302f4"/><stop offset="0.5488" stop-color="#7f04ff"/><stop offset="0.5555" stop-color="#8906f8"/><stop offset="0.5622" stop-color="#9109e3"/><stop offset="0.5702" stop-color="#9c0db7"/><stop offset="0.5795" stop-color="#a71471"/><stop offset="0.5929" stop-color="#b42002"/><stop offset="0.6397" stop-color="#cf4a00"/><stop offset="0.6892" stop-color="#e99400"/><stop offset="0.7346" stop-color="#f8d800"/><stop offset="0.7667" stop-color="#fdf400"/><stop offset="0.7868" stop-color="#fdf500"/><stop offset="0.8148" stop-color="#f9df00"/><stop offset="0.8349" stop-color="#f3be00"/><stop offset="0.8683" stop-color="#e58600"/><stop offset="0.8951" stop-color="#dd6c00"/><stop offset="0.9418" stop-color="#d55500"/><stop offset="0.9993" stop-color="#d04a00"/></linearGradient><linearGradient id="g239"><stop offset="0.0006684" stop-color="#c53700"/><stop offset="0.1918" stop-color="#c33400"/><stop offset="0.2828" stop-color="#b52100"/><stop offset="0.2868" stop-color="#b41f04"/><stop offset="0.3068" stop-color="#ad1941"/><stop offset="0.3322" stop-color="#9f0fa3"/><stop offset="0.3509" stop-color="#940ad9"/><stop offset="0.3656" stop-color="#8c07f1"/><stop offset="0.387" stop-color="#8104ff"/><stop offset="0.4031" stop-color="#7703f9"/><stop offset="0.4151" stop-color="#6b01e4"/><stop offset="0.4271" stop-color="#5c01bb"/><stop offset="0.4499" stop-color="#39004f"/><stop offset="0.4619" stop-color="#2b002c"/><stop offset="0.4753" stop-color="#1f0018"/><stop offset="0.486" stop-color="#1f0017"/><stop offset="0.498" stop-color="#29002a"/><stop offset="0.506" stop-color="#350044"/><stop offset="0.518" stop-color="#4b0083"/><stop offset="0.5341" stop-color="#6701da"/><stop offset="0.5421" stop-color="#7402f6"/><stop offset="0.5488" stop-color="#7e04ff"/><stop offset="0.5555" stop-color="#8806f9"/><stop offset="0.5622" stop-color="#9109e5"/><stop offset="0.5702" stop-color="#9b0dba"/><stop offset="0.5795" stop-color="#a61473"/><stop offset="0.5929" stop-color="#b42003"/><stop offset="0.5996" stop-color="#b92500"/><stop offset="0.6397" stop-color="#cf4a00"/><stop offset="0.6878" stop-color="#e89200"/><stop offset="0.7333" stop-color="#f8d700"/><stop offset="0.7667" stop-color="#fdf500"/><stop offset="0.7868" stop-color="#fdf600"/><stop offset="0.8148" stop-color="#fae000"/><stop offset="0.8349" stop-color="#f3be00"/><stop offset="0.8683" stop-color="#e58600"/><stop offset="0.8951" stop-color="#dd6c00"/><stop offset="0.9418" stop-color="#d55500"/><stop offset="0.9993" stop-color="#d04a00"/></linearGradient><linearGradient id="g240"><stop offset="0.0006684" stop-color="#c53700"/><stop offset="0.1918" stop-color="#c43400"/><stop offset="0.2828" stop-color="#b62100"/><stop offset="0.2881" stop-color="#b42002"/><stop offset="0.3068" stop-color="#ae193a"/><stop offset="0.3336" stop-color="#9f0fa3"/><stop offset="0.3509" stop-color="#950ad6"/><stop offset="0.3656" stop-color="#8d07f0"/><stop offset="0.387" stop-color="#8205fe"/><stop offset="0.4031" stop-color="#7703fa"/><stop offset="0.4151" stop-color="#6c01e6"/><stop offset="0.4271" stop-color="#5d01be"/><stop offset="0.4499" stop-color="#3a0052"/><stop offset="0.4606" stop-color="#2d0031"/><stop offset="0.4739" stop-color="#200019"/><stop offset="0.4846" stop-color="#1d0015"/><stop offset="0.4967" stop-color="#270025"/><stop offset="0.506" stop-color="#340041"/><stop offset="0.518" stop-color="#49007f"/><stop offset="0.5341" stop-color="#6601d7"/><stop offset="0.5421" stop-color="#7302f5"/><stop offset="0.5488" stop-color="#7e04ff"/><stop offset="0.5555" stop-color="#8706fa"/><stop offset="0.5622" stop-color="#9008e7"/><stop offset="0.5702" stop-color="#9b0dbc"/><stop offset="0.5795" stop-color="#a61375"/><stop offset="0.5929" stop-color="#b41f04"/><stop offset="0.5956" stop-color="#b62200"/><stop offset="0.6397" stop-color="#cf4900"/><stop offset="0.6865" stop-color="#e89000"/><stop offset="0.7333" stop-color="#f8d700"/><stop offset="0.7667" stop-color="#fdf500"/><stop offset="0.7868" stop-color="#fef700"/><stop offset="0.8148" stop-color="#fae000"/><stop offset="0.8349" stop-color="#f3bf00"/><stop offset="0.8683" stop-color="#e58600"/><stop offset="0.8951" stop-color="#dd6c00"/><stop offset="0.9405" stop-color="#d55600"/><stop offset="0.9993" stop-color="#d04a00"/></linearGradient><linearGradient id="g241"><stop offset="0.0006684" stop-color="#c53700"/><stop offset="0.1905" stop-color="#c43400"/><stop offset="0.2814" stop-color="#b72200"/><stop offset="0.2894" stop-color="#b42000"/><stop offset="0.3068" stop-color="#ae1a34"/><stop offset="0.3349" stop-color="#9f0fa3"/><stop offset="0.3523" stop-color="#950ad7"/><stop offset="0.367" stop-color="#8d07f1"/><stop offset="0.3884" stop-color="#8204ff"/><stop offset="0.4044" stop-color="#7703fa"/><stop offset="0.4164" stop-color="#6b01e5"/><stop offset="0.4285" stop-color="#5c01bb"/><stop offset="0.4512" stop-color="#390050"/><stop offset="0.4619" stop-color="#2c002f"/><stop offset="0.4753" stop-color="#1f0018"/><stop offset="0.486" stop-color="#1d0015"/><stop offset="0.498" stop-color="#270026"/><stop offset="0.5074" stop-color="#350043"/><stop offset="0.5194" stop-color="#4b0083"/><stop offset="0.5341" stop-color="#6501d5"/><stop offset="0.5421" stop-color="#7202f3"/><stop offset="0.5488" stop-color="#7d03fe"/><stop offset="0.5555" stop-color="#8605fb"/><stop offset="0.5622" stop-color="#9008e9"/><stop offset="0.5689" stop-color="#990cc7"/><stop offset="0.5769" stop-color="#a3118d"/><stop offset="0.5929" stop-color="#b41f04"/><stop offset="0.5956" stop-color="#b62200"/><stop offset="0.6397" stop-color="#cf4900"/><stop offset="0.6852" stop-color="#e78e00"/><stop offset="0.7333" stop-color="#f8d800"/><stop offset="0.7654" stop-color="#fdf500"/><stop offset="0.7854" stop-color="#fef800"/><stop offset="0.8135" stop-color="#fae300"/><stop offset="0.8322" stop-color="#f4c500"/><stop offset="0.867" stop-color="#e68800"/><stop offset="0.8924" stop-color="#dd6d00"/><stop offset="0.9365" stop-color="#d55700"/><stop offset="0.9993" stop-color="#d04b00"/></linearGradient><linearGradient id="g242"><stop offset="0.0006684" stop-color="#c53700"/><stop offset="0.1905" stop-color="#c43500"/><stop offset="0.2801" stop-color="#b72300"/><stop offset="0.2921" stop-color="#b42001"/><stop offset="0.3082" stop-color="#ae1a33"/><stop offset="0.3349" stop-color="#a0109f"/><stop offset="0.3523" stop-color="#950ad5"/><stop offset="0.3656" stop-color="#8e07ee"/><stop offset="0.387" stop-color="#8305fe"/><stop offset="0.4031" stop-color="#7903fc"/><stop offset="0.4151" stop-color="#6e02ea"/><stop offset="0.4258" stop-color="#6101c9"/><stop offset="0.4405" stop-color="#4b0085"/><stop offset="0.4525" stop-color="#38004d"/><stop offset="0.4632" stop-color="#2b002d"/><stop offset="0.4766" stop-color="#1e0016"/><stop offset="0.4873" stop-color="#1d0015"/><stop offset="0.4993" stop-color="#280027"/><stop offset="0.5074" stop-color="#330040"/><stop offset="0.518" stop-color="#470077"/><stop offset="0.5341" stop-color="#6401d2"/><stop offset="0.5421" stop-color="#7202f2"/><stop offset="0.5501" stop-color="#7e04ff"/><stop offset="0.5568" stop-color="#8706fa"/><stop offset="0.5635" stop-color="#9109e5"/><stop offset="0.5702" stop-color="#9a0cc0"/><stop offset="0.5782" stop-color="#a41283"/><stop offset="0.5916" stop-color="#b31e0f"/><stop offset="0.5929" stop-color="#b41f05"/><stop offset="0.5956" stop-color="#b62200"/><stop offset="0.6397" stop-color="#cf4900"/><stop offset="0.6838" stop-color="#e78b00"/><stop offset="0.732" stop-color="#f8d700"/><stop offset="0.7654" stop-color="#fdf600"/><stop offset="0.7854" stop-color="#fef800"/><stop offset="0.8135" stop-color="#fae300"/><stop offset="0.8322" stop-color="#f4c600"/><stop offset="0.867" stop-color="#e68800"/><stop offset="0.891" stop-color="#de6e00"/><stop offset="0.9352" stop-color="#d55800"/><stop offset="0.9993" stop-color="#d04b00"/></linearGradient><linearGradient id="g243"><stop offset="0.0006684" stop-color="#c53700"/><stop offset="0.1892" stop-color="#c43500"/><stop offset="0.2774" stop-color="#b92500"/><stop offset="0.2934" stop-color="#b42000"/><stop offset="0.3082" stop-color="#af1b2d"/><stop offset="0.3362" stop-color="#a00f9f"/><stop offset="0.3536" stop-color="#950ad6"/><stop offset="0.367" stop-color="#8d07ef"/><stop offset="0.3884" stop-color="#8305fe"/><stop offset="0.4044" stop-color="#7903fc"/><stop offset="0.4164" stop-color="#6d02e9"/><stop offset="0.4271" stop-color="#6001c7"/><stop offset="0.4432" stop-color="#48007b"/><stop offset="0.4552" stop-color="#350045"/><stop offset="0.4672" stop-color="#270025"/><stop offset="0.4793" stop-color="#1c0014"/><stop offset="0.49" stop-color="#1e0016"/><stop offset="0.502" stop-color="#2a002b"/><stop offset="0.51" stop-color="#370049"/><stop offset="0.5261" stop-color="#5500a3"/><stop offset="0.5368" stop-color="#6801dc"/><stop offset="0.5448" stop-color="#7502f7"/><stop offset="0.5515" stop-color="#7f04ff"/><stop offset="0.5582" stop-color="#8906f8"/><stop offset="0.5648" stop-color="#9209e1"/><stop offset="0.5715" stop-color="#9b0db9"/><stop offset="0.5809" stop-color="#a7146d"/><stop offset="0.5916" stop-color="#b31e10"/><stop offset="0.5943" stop-color="#b52000"/><stop offset="0.6397" stop-color="#cf4800"/><stop offset="0.6825" stop-color="#e68900"/><stop offset="0.732" stop-color="#f8d700"/><stop offset="0.764" stop-color="#fdf600"/><stop offset="0.7841" stop-color="#fef900"/><stop offset="0.8108" stop-color="#fbe700"/><stop offset="0.8295" stop-color="#f6cb00"/><stop offset="0.8656" stop-color="#e68a00"/><stop offset="0.8897" stop-color="#de6f00"/><stop offset="0.9325" stop-color="#d65900"/><stop offset="0.9993" stop-color="#d04b00"/></linearGradient><linearGradient id="g244"><stop offset="0.0006684" stop-color="#c53700"/><stop offset="0.1878" stop-color="#c53600"/><stop offset="0.2761" stop-color="#b92600"/><stop offset="0.2961" stop-color="#b42002"/><stop offset="0.3108" stop-color="#af1a31"/><stop offset="0.3362" stop-color="#a0109b"/><stop offset="0.3536" stop-color="#950ad4"/><stop offset="0.367" stop-color="#8e08ee"/><stop offset="0.3884" stop-color="#8405fe"/><stop offset="0.4057" stop-color="#7803fb"/><stop offset="0.4178" stop-color="#6d02e8"/><stop offset="0.4285" stop-color="#5f01c5"/><stop offset="0.4552" stop-color="#360048"/><stop offset="0.4659" stop-color="#290029"/><stop offset="0.4793" stop-color="#1c0014"/><stop offset="0.49" stop-color="#1d0014"/><stop offset="0.502" stop-color="#290029"/><stop offset="0.51" stop-color="#350045"/><stop offset="0.5234" stop-color="#4e008f"/><stop offset="0.5368" stop-color="#6701d9"/><stop offset="0.5448" stop-color="#7402f6"/><stop offset="0.5515" stop-color="#7e04ff"/><stop offset="0.5582" stop-color="#8806f9"/><stop offset="0.5648" stop-color="#9209e2"/><stop offset="0.5715" stop-color="#9b0dbb"/><stop offset="0.5809" stop-color="#a7146e"/><stop offset="0.5916" stop-color="#b31e10"/><stop offset="0.5943" stop-color="#b52000"/><stop offset="0.6397" stop-color="#cf4800"/><stop offset="0.6825" stop-color="#e68900"/><stop offset="0.732" stop-color="#f8d800"/><stop offset="0.764" stop-color="#fdf600"/><stop offset="0.7841" stop-color="#fefa00"/><stop offset="0.8108" stop-color="#fbe700"/><stop offset="0.8295" stop-color="#f6cc00"/><stop offset="0.867" stop-color="#e68800"/><stop offset="0.891" stop-color="#de6e00"/><stop offset="0.9338" stop-color="#d65800"/><stop offset="0.9993" stop-color="#d04b00"/></linearGradient><linearGradient id="g245"><stop offset="0.0006684" stop-color="#c63700"/><stop offset="0.1878" stop-color="#c53600"/><stop offset="0.2747" stop-color="#ba2600"/><stop offset="0.2975" stop-color="#b42000"/><stop offset="0.3108" stop-color="#af1b2c"/><stop offset="0.3376" stop-color="#a0109c"/><stop offset="0.3549" stop-color="#950ad6"/><stop offset="0.3683" stop-color="#8d07ef"/><stop offset="0.391" stop-color="#8305fe"/><stop offset="0.4071" stop-color="#7803fb"/><stop offset="0.4178" stop-color="#6e02ea"/><stop offset="0.4285" stop-color="#6101c8"/><stop offset="0.4445" stop-color="#48007c"/><stop offset="0.4566" stop-color="#350045"/><stop offset="0.4672" stop-color="#280026"/><stop offset="0.4806" stop-color="#1b0012"/><stop offset="0.4913" stop-color="#1d0014"/><stop offset="0.5033" stop-color="#29002a"/><stop offset="0.5114" stop-color="#360048"/><stop offset="0.5261" stop-color="#52009b"/><stop offset="0.5381" stop-color="#6801dd"/><stop offset="0.5461" stop-color="#7502f7"/><stop offset="0.5528" stop-color="#7f04ff"/><stop offset="0.5595" stop-color="#8906f7"/><stop offset="0.5662" stop-color="#9309de"/><stop offset="0.5729" stop-color="#9c0eb3"/><stop offset="0.5836" stop-color="#aa1756"/><stop offset="0.5929" stop-color="#b41f06"/><stop offset="0.5943" stop-color="#b52000"/><stop offset="0.6397" stop-color="#ce4800"/><stop offset="0.6811" stop-color="#e58700"/><stop offset="0.732" stop-color="#f8d800"/><stop offset="0.764" stop-color="#fef700"/><stop offset="0.7841" stop-color="#fefa00"/><stop offset="0.8108" stop-color="#fbe800"/><stop offset="0.8295" stop-color="#f6cd00"/><stop offset="0.867" stop-color="#e68800"/><stop offset="0.891" stop-color="#de6e00"/><stop offset="0.9325" stop-color="#d65800"/><stop offset="0.9993" stop-color="#d04b00"/></linearGradient><linearGradient id="g246"><stop offset="0.0006684" stop-color="#c63700"/><stop offset="0.1865" stop-color="#c53700"/><stop offset="0.2734" stop-color="#bb2700"/><stop offset="0.2988" stop-color="#b42000"/><stop offset="0.3108" stop-color="#b01b27"/><stop offset="0.3389" stop-color="#a0109d"/><stop offset="0.3549" stop-color="#950ad4"/><stop offset="0.367" stop-color="#8e08ec"/><stop offset="0.3884" stop-color="#8405fd"/><stop offset="0.4057" stop-color="#7a03fd"/><stop offset="0.4178" stop-color="#6f02ec"/><stop offset="0.4285" stop-color="#6201cb"/><stop offset="0.4432" stop-color="#4c0087"/><stop offset="0.4566" stop-color="#360047"/><stop offset="0.4672" stop-color="#280027"/><stop offset="0.4806" stop-color="#1b0012"/><stop offset="0.4913" stop-color="#1c0013"/><stop offset="0.5033" stop-color="#280028"/><stop offset="0.5114" stop-color="#350044"/><stop offset="0.5247" stop-color="#4f008f"/><stop offset="0.5368" stop-color="#6501d4"/><stop offset="0.5448" stop-color="#7202f3"/><stop offset="0.5528" stop-color="#7e04ff"/><stop offset="0.5595" stop-color="#8806f9"/><stop offset="0.5662" stop-color="#9209e0"/><stop offset="0.5729" stop-color="#9c0db4"/><stop offset="0.5836" stop-color="#aa1756"/><stop offset="0.5929" stop-color="#b41f06"/><stop offset="0.5943" stop-color="#b52000"/><stop offset="0.6397" stop-color="#ce4700"/><stop offset="0.6798" stop-color="#e58400"/><stop offset="0.732" stop-color="#f8d900"/><stop offset="0.764" stop-color="#fef700"/><stop offset="0.7854" stop-color="#fefa00"/><stop offset="0.8122" stop-color="#fbe700"/><stop offset="0.8309" stop-color="#f5cb00"/><stop offset="0.867" stop-color="#e68900"/><stop offset="0.891" stop-color="#de6e00"/><stop offset="0.9325" stop-color="#d65800"/><stop offset="0.9993" stop-color="#d04b00"/></linearGradient><linearGradient id="g247"><stop offset="0.0006684" stop-color="#c63700"/><stop offset="0.1852" stop-color="#c63700"/><stop offset="0.2734" stop-color="#bb2800"/><stop offset="0.3015" stop-color="#b42002"/><stop offset="0.3135" stop-color="#af1b2d"/><stop offset="0.3389" stop-color="#a11099"/><stop offset="0.3549" stop-color="#960ad3"/><stop offset="0.367" stop-color="#8f08eb"/><stop offset="0.3884" stop-color="#8505fd"/><stop offset="0.4057" stop-color="#7a03fd"/><stop offset="0.4178" stop-color="#6f02ee"/><stop offset="0.4285" stop-color="#6301ce"/><stop offset="0.4418" stop-color="#4f0091"/><stop offset="0.4566" stop-color="#370049"/><stop offset="0.4659" stop-color="#2a002b"/><stop offset="0.4793" stop-color="#1c0013"/><stop offset="0.49" stop-color="#1a0010"/><stop offset="0.502" stop-color="#250022"/><stop offset="0.51" stop-color="#31003b"/><stop offset="0.5207" stop-color="#460073"/><stop offset="0.5368" stop-color="#6401d1"/><stop offset="0.5448" stop-color="#7102f1"/><stop offset="0.5528" stop-color="#7d04ff"/><stop offset="0.5595" stop-color="#8806fa"/><stop offset="0.5662" stop-color="#9209e1"/><stop offset="0.5729" stop-color="#9c0db6"/><stop offset="0.5836" stop-color="#aa1756"/><stop offset="0.5929" stop-color="#b41f05"/><stop offset="0.5943" stop-color="#b52000"/><stop offset="0.6397" stop-color="#ce4700"/><stop offset="0.6785" stop-color="#e48200"/><stop offset="0.732" stop-color="#f8d900"/><stop offset="0.764" stop-color="#fef700"/><stop offset="0.7854" stop-color="#fefb00"/><stop offset="0.8122" stop-color="#fbe800"/><stop offset="0.8309" stop-color="#f6cb00"/><stop offset="0.8683" stop-color="#e58700"/><stop offset="0.8924" stop-color="#dd6d00"/><stop offset="0.9338" stop-color="#d55800"/><stop offset="0.9993" stop-color="#d04b00"/></linearGradient><linearGradient id="g248"><stop offset="0.0006684" stop-color="#c63700"/><stop offset="0.1838" stop-color="#c63700"/><stop offset="0.2721" stop-color="#bc2900"/><stop offset="0.3028" stop-color="#b42002"/><stop offset="0.3148" stop-color="#af1b2e"/><stop offset="0.3416" stop-color="#a00fa0"/><stop offset="0.3563" stop-color="#950ad5"/><stop offset="0.3683" stop-color="#8e08ec"/><stop offset="0.391" stop-color="#8405fd"/><stop offset="0.4084" stop-color="#7903fc"/><stop offset="0.4205" stop-color="#6e02ea"/><stop offset="0.4311" stop-color="#6001c7"/><stop offset="0.4472" stop-color="#480079"/><stop offset="0.4592" stop-color="#330041"/><stop offset="0.4699" stop-color="#250022"/><stop offset="0.482" stop-color="#190010"/><stop offset="0.4926" stop-color="#1a0011"/><stop offset="0.5047" stop-color="#270026"/><stop offset="0.5127" stop-color="#350044"/><stop offset="0.5247" stop-color="#4c0087"/><stop offset="0.5381" stop-color="#6501d5"/><stop offset="0.5461" stop-color="#7302f3"/><stop offset="0.5541" stop-color="#7f04ff"/><stop offset="0.5608" stop-color="#8906f8"/><stop offset="0.5662" stop-color="#9109e3"/><stop offset="0.5729" stop-color="#9c0db7"/><stop offset="0.5836" stop-color="#aa1756"/><stop offset="0.5916" stop-color="#b31e0f"/><stop offset="0.5929" stop-color="#b41f05"/><stop offset="0.5956" stop-color="#b62200"/><stop offset="0.6397" stop-color="#ce4700"/><stop offset="0.6771" stop-color="#e38000"/><stop offset="0.7306" stop-color="#f8d800"/><stop offset="0.7627" stop-color="#fef700"/><stop offset="0.7841" stop-color="#fefb00"/><stop offset="0.8108" stop-color="#fbea00"/><stop offset="0.8295" stop-color="#f6cf00"/><stop offset="0.8683" stop-color="#e58700"/><stop offset="0.8924" stop-color="#dd6d00"/><stop offset="0.9325" stop-color="#d65800"/><stop offset="0.9993" stop-color="#d04b00"/></linearGradient><linearGradient id="g249"><stop offset="0.0006684" stop-color="#c63700"/><stop offset="0.1825" stop-color="#c63800"/><stop offset="0.2721" stop-color="#bc2900"/><stop offset="0.3041" stop-color="#b42002"/><stop offset="0.3162" stop-color="#af1b2f"/><stop offset="0.3469" stop-color="#9d0eb2"/><stop offset="0.359" stop-color="#940adb"/><stop offset="0.3723" stop-color="#8d07f1"/><stop offset="0.3964" stop-color="#8104ff"/><stop offset="0.4111" stop-color="#7703fa"/><stop offset="0.4218" stop-color="#6d02e9"/><stop offset="0.4325" stop-color="#6001c5"/><stop offset="0.4499" stop-color="#44006f"/><stop offset="0.4606" stop-color="#32003d"/><stop offset="0.4713" stop-color="#240020"/><stop offset="0.4833" stop-color="#18000f"/><stop offset="0.494" stop-color="#1a0011"/><stop offset="0.5047" stop-color="#260024"/><stop offset="0.5127" stop-color="#330040"/><stop offset="0.5247" stop-color="#4b0083"/><stop offset="0.5381" stop-color="#6401d3"/><stop offset="0.5461" stop-color="#7202f2"/><stop offset="0.5541" stop-color="#7e04ff"/><stop offset="0.5608" stop-color="#8806f9"/><stop offset="0.5662" stop-color="#9109e5"/><stop offset="0.5729" stop-color="#9b0db9"/><stop offset="0.5836" stop-color="#aa1755"/><stop offset="0.5916" stop-color="#b31e0e"/><stop offset="0.5929" stop-color="#b41f04"/><stop offset="0.5956" stop-color="#b62200"/><stop offset="0.6397" stop-color="#ce4600"/><stop offset="0.6771" stop-color="#e37f00"/><stop offset="0.7306" stop-color="#f8d900"/><stop offset="0.7614" stop-color="#fef700"/><stop offset="0.7828" stop-color="#fffc00"/><stop offset="0.8095" stop-color="#fcec00"/><stop offset="0.8282" stop-color="#f7d200"/><stop offset="0.8683" stop-color="#e58700"/><stop offset="0.8924" stop-color="#dd6d00"/><stop offset="0.9325" stop-color="#d65800"/><stop offset="0.9993" stop-color="#d04b00"/></linearGradient><linearGradient id="g250"><stop offset="0.0006684" stop-color="#c63700"/><stop offset="0.1825" stop-color="#c63800"/><stop offset="0.2721" stop-color="#bc2a00"/><stop offset="0.3055" stop-color="#b42002"/><stop offset="0.3189" stop-color="#ae1a37"/><stop offset="0.3523" stop-color="#990cc4"/><stop offset="0.363" stop-color="#9209e3"/><stop offset="0.379" stop-color="#8a06f6"/><stop offset="0.4017" stop-color="#7f04ff"/><stop offset="0.4151" stop-color="#7502f7"/><stop offset="0.4258" stop-color="#6901e0"/><stop offset="0.4365" stop-color="#5b01b7"/><stop offset="0.4592" stop-color="#350044"/><stop offset="0.4686" stop-color="#270026"/><stop offset="0.482" stop-color="#19000f"/><stop offset="0.4926" stop-color="#18000e"/><stop offset="0.5047" stop-color="#250021"/><stop offset="0.5127" stop-color="#32003d"/><stop offset="0.5234" stop-color="#470077"/><stop offset="0.5381" stop-color="#6301d0"/><stop offset="0.5461" stop-color="#7102f0"/><stop offset="0.5541" stop-color="#7d04ff"/><stop offset="0.5608" stop-color="#8706fa"/><stop offset="0.5662" stop-color="#9008e7"/><stop offset="0.5715" stop-color="#990cc5"/><stop offset="0.5795" stop-color="#a5137d"/><stop offset="0.5889" stop-color="#b01c23"/><stop offset="0.5929" stop-color="#b41f04"/><stop offset="0.5969" stop-color="#b72300"/><stop offset="0.6397" stop-color="#ce4600"/><stop offset="0.6758" stop-color="#e27d00"/><stop offset="0.7306" stop-color="#f8d900"/><stop offset="0.7614" stop-color="#fef700"/><stop offset="0.7828" stop-color="#fffc00"/><stop offset="0.8095" stop-color="#fcec00"/><stop offset="0.8282" stop-color="#f7d200"/><stop offset="0.8683" stop-color="#e58700"/><stop offset="0.8924" stop-color="#dd6d00"/><stop offset="0.9311" stop-color="#d65800"/><stop offset="0.9993" stop-color="#d04b00"/></linearGradient><linearGradient id="g251"><stop offset="0.0006684" stop-color="#c63700"/><stop offset="0.1811" stop-color="#c63800"/><stop offset="0.2707" stop-color="#bd2a00"/><stop offset="0.3055" stop-color="#b42000"/><stop offset="0.3148" stop-color="#b11c21"/><stop offset="0.3549" stop-color="#970bcc"/><stop offset="0.3656" stop-color="#9008e7"/><stop offset="0.3844" stop-color="#8806f9"/><stop offset="0.4057" stop-color="#7c03fe"/><stop offset="0.4191" stop-color="#7202f2"/><stop offset="0.4298" stop-color="#6601d6"/><stop offset="0.4405" stop-color="#5600a7"/><stop offset="0.4592" stop-color="#360046"/><stop offset="0.4686" stop-color="#270026"/><stop offset="0.482" stop-color="#18000f"/><stop offset="0.4926" stop-color="#17000d"/><stop offset="0.5047" stop-color="#23001f"/><stop offset="0.5127" stop-color="#300039"/><stop offset="0.5234" stop-color="#460073"/><stop offset="0.5381" stop-color="#6301ce"/><stop offset="0.5461" stop-color="#7002ef"/><stop offset="0.5541" stop-color="#7c03fe"/><stop offset="0.5608" stop-color="#8706fb"/><stop offset="0.5662" stop-color="#9008e9"/><stop offset="0.5715" stop-color="#990cc7"/><stop offset="0.5795" stop-color="#a5137d"/><stop offset="0.5889" stop-color="#b01c22"/><stop offset="0.5929" stop-color="#b42003"/><stop offset="0.609" stop-color="#be2c00"/><stop offset="0.6424" stop-color="#cf4900"/><stop offset="0.6852" stop-color="#e78d00"/><stop offset="0.732" stop-color="#f9db00"/><stop offset="0.7614" stop-color="#fef700"/><stop offset="0.7841" stop-color="#fffc00"/><stop offset="0.8108" stop-color="#fcec00"/><stop offset="0.8309" stop-color="#f6ce00"/><stop offset="0.8683" stop-color="#e68800"/><stop offset="0.8924" stop-color="#dd6d00"/><stop offset="0.9311" stop-color="#d65800"/><stop offset="0.9993" stop-color="#d04b00"/></linearGradient><linearGradient id="g252"><stop offset="0.0006684" stop-color="#c63700"/><stop offset="0.1798" stop-color="#c73900"/><stop offset="0.2707" stop-color="#bd2b00"/><stop offset="0.3068" stop-color="#b42000"/><stop offset="0.3189" stop-color="#af1b2f"/><stop offset="0.3549" stop-color="#980bcb"/><stop offset="0.3643" stop-color="#9109e4"/><stop offset="0.3817" stop-color="#8906f7"/><stop offset="0.4044" stop-color="#7e04ff"/><stop offset="0.4178" stop-color="#7402f5"/><stop offset="0.4285" stop-color="#6801de"/><stop offset="0.4392" stop-color="#5900b2"/><stop offset="0.4606" stop-color="#340042"/><stop offset="0.4699" stop-color="#260023"/><stop offset="0.4833" stop-color="#17000d"/><stop offset="0.494" stop-color="#16000c"/><stop offset="0.506" stop-color="#240020"/><stop offset="0.514" stop-color="#31003c"/><stop offset="0.5247" stop-color="#470077"/><stop offset="0.5394" stop-color="#6401d2"/><stop offset="0.5475" stop-color="#7102f1"/><stop offset="0.5555" stop-color="#7d04ff"/><stop offset="0.5622" stop-color="#8806f9"/><stop offset="0.5675" stop-color="#9109e4"/><stop offset="0.5729" stop-color="#9a0dbe"/><stop offset="0.5809" stop-color="#a71470"/><stop offset="0.5889" stop-color="#b01c21"/><stop offset="0.5929" stop-color="#b42002"/><stop offset="0.6397" stop-color="#cd4600"/><stop offset="0.6745" stop-color="#e27a00"/><stop offset="0.7306" stop-color="#f8da00"/><stop offset="0.76" stop-color="#fef700"/><stop offset="0.7828" stop-color="#fffd00"/><stop offset="0.8095" stop-color="#fced00"/><stop offset="0.8295" stop-color="#f7d100"/><stop offset="0.8683" stop-color="#e68800"/><stop offset="0.891" stop-color="#de6e00"/><stop offset="0.9285" stop-color="#d65900"/><stop offset="0.9993" stop-color="#d04b00"/></linearGradient><linearGradient id="g253"><stop offset="0.0006684" stop-color="#c63700"/><stop offset="0.1785" stop-color="#c73900"/><stop offset="0.2707" stop-color="#be2b00"/><stop offset="0.3082" stop-color="#b42001"/><stop offset="0.3242" stop-color="#ad1843"/><stop offset="0.3563" stop-color="#970bce"/><stop offset="0.3656" stop-color="#9108e6"/><stop offset="0.3844" stop-color="#8806f9"/><stop offset="0.4057" stop-color="#7d04ff"/><stop offset="0.4191" stop-color="#7302f4"/><stop offset="0.4298" stop-color="#6801dc"/><stop offset="0.4392" stop-color="#5b01b6"/><stop offset="0.4619" stop-color="#33003e"/><stop offset="0.4713" stop-color="#240020"/><stop offset="0.4846" stop-color="#16000b"/><stop offset="0.4953" stop-color="#16000c"/><stop offset="0.506" stop-color="#23001d"/><stop offset="0.514" stop-color="#300038"/><stop offset="0.5247" stop-color="#460073"/><stop offset="0.5394" stop-color="#6301d0"/><stop offset="0.5475" stop-color="#7102f0"/><stop offset="0.5555" stop-color="#7d03fe"/><stop offset="0.5622" stop-color="#8706fa"/><stop offset="0.5675" stop-color="#9109e5"/><stop offset="0.5729" stop-color="#9a0cbf"/><stop offset="0.5809" stop-color="#a71470"/><stop offset="0.5889" stop-color="#b11c20"/><stop offset="0.5929" stop-color="#b42001"/><stop offset="0.6397" stop-color="#cd4500"/><stop offset="0.6731" stop-color="#e17800"/><stop offset="0.7306" stop-color="#f8da00"/><stop offset="0.76" stop-color="#fef700"/><stop offset="0.7828" stop-color="#fffd00"/><stop offset="0.8095" stop-color="#fcee00"/><stop offset="0.8295" stop-color="#f7d200"/><stop offset="0.8683" stop-color="#e68800"/><stop offset="0.891" stop-color="#de6e00"/><stop offset="0.9271" stop-color="#d65900"/><stop offset="0.9993" stop-color="#d04b00"/></linearGradient><linearGradient id="g254"><stop offset="0.0006684" stop-color="#c63700"/><stop offset="0.1771" stop-color="#c73900"/><stop offset="0.2707" stop-color="#be2c00"/><stop offset="0.3095" stop-color="#b42002"/><stop offset="0.3402" stop-color="#a41285"/><stop offset="0.3563" stop-color="#970bcd"/><stop offset="0.3656" stop-color="#9109e5"/><stop offset="0.383" stop-color="#8906f8"/><stop offset="0.4057" stop-color="#7e04ff"/><stop offset="0.4205" stop-color="#7302f4"/><stop offset="0.4311" stop-color="#6701db"/><stop offset="0.4405" stop-color="#5a00b3"/><stop offset="0.4619" stop-color="#330040"/><stop offset="0.4699" stop-color="#260024"/><stop offset="0.4833" stop-color="#16000c"/><stop offset="0.494" stop-color="#14000a"/><stop offset="0.506" stop-color="#21001b"/><stop offset="0.514" stop-color="#2f0035"/><stop offset="0.5234" stop-color="#420067"/><stop offset="0.5394" stop-color="#6201cd"/><stop offset="0.5461" stop-color="#6e02eb"/><stop offset="0.5541" stop-color="#7a03fd"/><stop offset="0.5608" stop-color="#8405fd"/><stop offset="0.5662" stop-color="#8e07ee"/><stop offset="0.5715" stop-color="#970bcc"/><stop offset="0.5782" stop-color="#a3118d"/><stop offset="0.5876" stop-color="#af1b2b"/><stop offset="0.5929" stop-color="#b42000"/><stop offset="0.6397" stop-color="#cd4500"/><stop offset="0.6731" stop-color="#e17800"/><stop offset="0.7306" stop-color="#f9da00"/><stop offset="0.7587" stop-color="#fef600"/><stop offset="0.7828" stop-color="#fffd00"/><stop offset="0.8095" stop-color="#fcef00"/><stop offset="0.8295" stop-color="#f7d200"/><stop offset="0.8683" stop-color="#e68800"/><stop offset="0.891" stop-color="#de6e00"/><stop offset="0.9271" stop-color="#d65900"/><stop offset="0.9993" stop-color="#d04a00"/></linearGradient><linearGradient id="g255"><stop offset="0.0006684" stop-color="#c63700"/><stop offset="0.1771" stop-color="#c73a00"/><stop offset="0.2707" stop-color="#be2c00"/><stop offset="0.3095" stop-color="#b42000"/><stop offset="0.3282" stop-color="#ab174e"/><stop offset="0.3576" stop-color="#960bd0"/><stop offset="0.367" stop-color="#9008e7"/><stop offset="0.387" stop-color="#8706fa"/><stop offset="0.4084" stop-color="#7c03fe"/><stop offset="0.4218" stop-color="#7202f3"/><stop offset="0.4311" stop-color="#6801dd"/><stop offset="0.4405" stop-color="#5b01b6"/><stop offset="0.4619" stop-color="#340042"/><stop offset="0.4699" stop-color="#270024"/><stop offset="0.4833" stop-color="#16000c"/><stop offset="0.494" stop-color="#130009"/><stop offset="0.506" stop-color="#200019"/><stop offset="0.514" stop-color="#2d0032"/><stop offset="0.5234" stop-color="#400064"/><stop offset="0.5394" stop-color="#6201cb"/><stop offset="0.5461" stop-color="#6d02e9"/><stop offset="0.5541" stop-color="#7903fc"/><stop offset="0.5608" stop-color="#8305fe"/><stop offset="0.5662" stop-color="#8d07ef"/><stop offset="0.5715" stop-color="#970bce"/><stop offset="0.5782" stop-color="#a2118e"/><stop offset="0.5876" stop-color="#af1b2b"/><stop offset="0.5929" stop-color="#b42000"/><stop offset="0.6397" stop-color="#cd4500"/><stop offset="0.6718" stop-color="#e07500"/><stop offset="0.732" stop-color="#f9dd00"/><stop offset="0.76" stop-color="#fef700"/><stop offset="0.7828" stop-color="#fffe00"/><stop offset="0.8095" stop-color="#fcef00"/><stop offset="0.8295" stop-color="#f7d300"/><stop offset="0.8683" stop-color="#e68800"/><stop offset="0.891" stop-color="#de6e00"/><stop offset="0.9271" stop-color="#d65900"/><stop offset="0.9993" stop-color="#d04a00"/></linearGradient><linearGradient id="g256"><stop offset="0.0006684" stop-color="#c63700"/><stop offset="0.1758" stop-color="#c73a00"/><stop offset="0.2707" stop-color="#bf2c00"/><stop offset="0.3108" stop-color="#b42002"/><stop offset="0.3429" stop-color="#a3118b"/><stop offset="0.3576" stop-color="#970bcf"/><stop offset="0.367" stop-color="#9008e7"/><stop offset="0.3857" stop-color="#8806f9"/><stop offset="0.4084" stop-color="#7d03fe"/><stop offset="0.4231" stop-color="#7202f2"/><stop offset="0.4325" stop-color="#6801dc"/><stop offset="0.4418" stop-color="#5a00b3"/><stop offset="0.4632" stop-color="#32003d"/><stop offset="0.4713" stop-color="#250021"/><stop offset="0.4846" stop-color="#14000a"/><stop offset="0.4953" stop-color="#120008"/><stop offset="0.5074" stop-color="#20001a"/><stop offset="0.5154" stop-color="#2e0035"/><stop offset="0.5261" stop-color="#450071"/><stop offset="0.5408" stop-color="#6301d0"/><stop offset="0.5475" stop-color="#6f02ec"/><stop offset="0.5555" stop-color="#7a03fd"/><stop offset="0.5622" stop-color="#8505fd"/><stop offset="0.5675" stop-color="#8f08eb"/><stop offset="0.5729" stop-color="#990cc5"/><stop offset="0.5795" stop-color="#a41281"/><stop offset="0.5876" stop-color="#b01b2a"/><stop offset="0.5916" stop-color="#b31f08"/><stop offset="0.5929" stop-color="#b52000"/><stop offset="0.6397" stop-color="#cd4400"/><stop offset="0.6718" stop-color="#e07500"/><stop offset="0.732" stop-color="#f9dd00"/><stop offset="0.76" stop-color="#fef800"/><stop offset="0.7841" stop-color="#fffd00"/><stop offset="0.8108" stop-color="#fcee00"/><stop offset="0.8309" stop-color="#f7d100"/><stop offset="0.8683" stop-color="#e68800"/><stop offset="0.891" stop-color="#de6e00"/><stop offset="0.9258" stop-color="#d65900"/><stop offset="0.998" stop-color="#d04a00"/><stop offset="0.9993" stop-color="#d04a00"/></linearGradient><linearGradient id="g257"><stop offset="0.0006684" stop-color="#c63700"/><stop offset="0.1745" stop-color="#c73a00"/><stop offset="0.2707" stop-color="#bf2d00"/><stop offset="0.3108" stop-color="#b42000"/><stop offset="0.3362" stop-color="#a7146a"/><stop offset="0.3576" stop-color="#970bce"/><stop offset="0.367" stop-color="#9008e6"/><stop offset="0.3857" stop-color="#8806f9"/><stop offset="0.4084" stop-color="#7d04fe"/><stop offset="0.4231" stop-color="#7202f3"/><stop offset="0.4325" stop-color="#6901de"/><stop offset="0.4418" stop-color="#5b01b7"/><stop offset="0.4632" stop-color="#33003f"/><stop offset="0.4713" stop-color="#250022"/><stop offset="0.4833" stop-color="#15000b"/><stop offset="0.494" stop-color="#100007"/><stop offset="0.506" stop-color="#1d0015"/><stop offset="0.514" stop-color="#2b002c"/><stop offset="0.5234" stop-color="#3e005c"/><stop offset="0.5408" stop-color="#6301ce"/><stop offset="0.5475" stop-color="#6e02eb"/><stop offset="0.5555" stop-color="#7a03fc"/><stop offset="0.5622" stop-color="#8405fd"/><stop offset="0.5675" stop-color="#8e08ec"/><stop offset="0.5729" stop-color="#980cc7"/><stop offset="0.5795" stop-color="#a41282"/><stop offset="0.5876" stop-color="#b01b29"/><stop offset="0.5916" stop-color="#b41f07"/><stop offset="0.5929" stop-color="#b52000"/><stop offset="0.6397" stop-color="#cd4400"/><stop offset="0.6718" stop-color="#e07500"/><stop offset="0.732" stop-color="#f9dd00"/><stop offset="0.7587" stop-color="#fef700"/><stop offset="0.7828" stop-color="#fffe00"/><stop offset="0.8095" stop-color="#fcf000"/><stop offset="0.8295" stop-color="#f7d400"/><stop offset="0.8697" stop-color="#e58600"/><stop offset="0.8937" stop-color="#dd6b00"/><stop offset="0.9285" stop-color="#d65800"/><stop offset="0.9993" stop-color="#d04a00"/></linearGradient><linearGradient id="g258"><stop offset="0.0006684" stop-color="#c63700"/><stop offset="0.1745" stop-color="#c73a00"/><stop offset="0.2707" stop-color="#bf2d00"/><stop offset="0.3122" stop-color="#b42002"/><stop offset="0.3443" stop-color="#a3118d"/><stop offset="0.3576" stop-color="#970bcd"/><stop offset="0.367" stop-color="#9108e6"/><stop offset="0.3857" stop-color="#8806f9"/><stop offset="0.4084" stop-color="#7d04ff"/><stop offset="0.4231" stop-color="#7302f4"/><stop offset="0.4325" stop-color="#6a01e0"/><stop offset="0.4418" stop-color="#5c01ba"/><stop offset="0.4646" stop-color="#31003b"/><stop offset="0.4726" stop-color="#23001f"/><stop offset="0.4846" stop-color="#140009"/><stop offset="0.494" stop-color="#0f0006"/><stop offset="0.506" stop-color="#1c0013"/><stop offset="0.514" stop-color="#29002a"/><stop offset="0.5234" stop-color="#3d0059"/><stop offset="0.5408" stop-color="#6201cc"/><stop offset="0.5475" stop-color="#6d02ea"/><stop offset="0.5555" stop-color="#7903fc"/><stop offset="0.5622" stop-color="#8405fe"/><stop offset="0.5662" stop-color="#8b07f4"/><stop offset="0.5702" stop-color="#9309de"/><stop offset="0.5755" stop-color="#9d0eb0"/><stop offset="0.5876" stop-color="#b01b29"/><stop offset="0.5916" stop-color="#b41f06"/><stop offset="0.5929" stop-color="#b52000"/><stop offset="0.6397" stop-color="#cd4400"/><stop offset="0.6705" stop-color="#df7200"/><stop offset="0.732" stop-color="#f9dd00"/><stop offset="0.7587" stop-color="#fef700"/><stop offset="0.7828" stop-color="#fffe00"/><stop offset="0.8095" stop-color="#fcf000"/><stop offset="0.8295" stop-color="#f7d500"/><stop offset="0.8697" stop-color="#e58700"/><stop offset="0.8937" stop-color="#dd6b00"/><stop offset="0.9285" stop-color="#d55800"/><stop offset="0.9993" stop-color="#d04a00"/></linearGradient><linearGradient id="g259"><stop offset="0.0006684" stop-color="#c63700"/><stop offset="0.1731" stop-color="#c83b00"/><stop offset="0.2721" stop-color="#bf2d00"/><stop offset="0.3122" stop-color="#b42000"/><stop offset="0.3416" stop-color="#a5137d"/><stop offset="0.3576" stop-color="#970bcc"/><stop offset="0.3656" stop-color="#9109e3"/><stop offset="0.3817" stop-color="#8a06f6"/><stop offset="0.4057" stop-color="#7f04ff"/><stop offset="0.4218" stop-color="#7502f7"/><stop offset="0.4325" stop-color="#6a01e2"/><stop offset="0.4405" stop-color="#5f01c3"/><stop offset="0.4646" stop-color="#32003c"/><stop offset="0.4726" stop-color="#24001f"/><stop offset="0.4846" stop-color="#130009"/><stop offset="0.494" stop-color="#0e0005"/><stop offset="0.506" stop-color="#1b0012"/><stop offset="0.514" stop-color="#280027"/><stop offset="0.5221" stop-color="#39004e"/><stop offset="0.5341" stop-color="#53009d"/><stop offset="0.5421" stop-color="#6401d1"/><stop offset="0.5488" stop-color="#6f02ed"/><stop offset="0.5568" stop-color="#7a03fd"/><stop offset="0.5635" stop-color="#8505fc"/><stop offset="0.5675" stop-color="#8d07f0"/><stop offset="0.5715" stop-color="#950ad6"/><stop offset="0.5769" stop-color="#9f0fa4"/><stop offset="0.5876" stop-color="#b01b29"/><stop offset="0.5916" stop-color="#b41f06"/><stop offset="0.5929" stop-color="#b52000"/><stop offset="0.6397" stop-color="#cc4400"/><stop offset="0.6705" stop-color="#df7200"/><stop offset="0.732" stop-color="#f9de00"/><stop offset="0.7587" stop-color="#fef700"/><stop offset="0.7841" stop-color="#fffe00"/><stop offset="0.8108" stop-color="#fcef00"/><stop offset="0.8322" stop-color="#f7d000"/><stop offset="0.8683" stop-color="#e68900"/><stop offset="0.891" stop-color="#dd6d00"/><stop offset="0.9245" stop-color="#d65900"/><stop offset="0.9967" stop-color="#d04a00"/><stop offset="0.9993" stop-color="#d04a00"/></linearGradient><linearGradient id="g260"><stop offset="0.0006684" stop-color="#c63700"/><stop offset="0.1731" stop-color="#c83b00"/><stop offset="0.2721" stop-color="#bf2d00"/><stop offset="0.3122" stop-color="#b42000"/><stop offset="0.3295" stop-color="#ac1846"/><stop offset="0.3469" stop-color="#a11096"/><stop offset="0.3576" stop-color="#980bcb"/><stop offset="0.3656" stop-color="#9209e2"/><stop offset="0.3817" stop-color="#8a06f6"/><stop offset="0.4057" stop-color="#7f04ff"/><stop offset="0.4231" stop-color="#7402f6"/><stop offset="0.4325" stop-color="#6b01e4"/><stop offset="0.4405" stop-color="#6001c6"/><stop offset="0.4552" stop-color="#450073"/><stop offset="0.4659" stop-color="#300037"/><stop offset="0.4739" stop-color="#22001c"/><stop offset="0.486" stop-color="#120008"/><stop offset="0.4953" stop-color="#0e0005"/><stop offset="0.5074" stop-color="#1b0013"/><stop offset="0.5154" stop-color="#29002a"/><stop offset="0.5247" stop-color="#3d005b"/><stop offset="0.5421" stop-color="#6301cf"/><stop offset="0.5488" stop-color="#6e02eb"/><stop offset="0.5568" stop-color="#7a03fd"/><stop offset="0.5635" stop-color="#8505fd"/><stop offset="0.5675" stop-color="#8c07f1"/><stop offset="0.5715" stop-color="#940ad8"/><stop offset="0.5769" stop-color="#9f0fa6"/><stop offset="0.5876" stop-color="#b01b29"/><stop offset="0.5916" stop-color="#b41f05"/><stop offset="0.5929" stop-color="#b52000"/><stop offset="0.6397" stop-color="#cc4400"/><stop offset="0.6705" stop-color="#df7200"/><stop offset="0.732" stop-color="#f9de00"/><stop offset="0.7574" stop-color="#fef700"/><stop offset="0.7828" stop-color="#fffe00"/><stop offset="0.8095" stop-color="#fdf100"/><stop offset="0.8295" stop-color="#f8d600"/><stop offset="0.8697" stop-color="#e58700"/><stop offset="0.8937" stop-color="#dd6b00"/><stop offset="0.9271" stop-color="#d55800"/><stop offset="0.9993" stop-color="#cf4a00"/></linearGradient><clipPath id="pc"><rect x="108.2" y="9.8" width="747.6" height="520.1"/></clipPath><linearGradient id="cb" x1="0" y1="1" x2="0" y2="0"><stop offset="0.000" stop-color="#000000"/><stop offset="0.010" stop-color="#1a0010"/><stop offset="0.020" stop-color="#240020"/><stop offset="0.030" stop-color="#2c0030"/><stop offset="0.040" stop-color="#33003f"/><stop offset="0.050" stop-color="#39004f"/><stop offset="0.060" stop-color="#3e005e"/><stop offset="0.070" stop-color="#43006d"/><stop offset="0.080" stop-color="#48007b"/><stop offset="0.090" stop-color="#4c0089"/><stop offset="0.100" stop-color="#510096"/><stop offset="0.110" stop-color="#5500a3"/><stop offset="0.120" stop-color="#5800af"/><stop offset="0.130" stop-color="#5c01ba"/><stop offset="0.140" stop-color="#5f01c4"/><stop offset="0.150" stop-color="#6301ce"/><stop offset="0.160" stop-color="#6601d7"/><stop offset="0.170" stop-color="#6901df"/><stop offset="0.180" stop-color="#6c01e7"/><stop offset="0.190" stop-color="#6f02ed"/><stop offset="0.200" stop-color="#7202f3"/><stop offset="0.210" stop-color="#7502f7"/><stop offset="0.220" stop-color="#7803fa"/><stop offset="0.230" stop-color="#7a03fd"/><stop offset="0.240" stop-color="#7d04fe"/><stop offset="0.250" stop-color="#8004ff"/><stop offset="0.260" stop-color="#8204fe"/><stop offset="0.270" stop-color="#8505fd"/><stop offset="0.280" stop-color="#8706fa"/><stop offset="0.290" stop-color="#8906f7"/><stop offset="0.300" stop-color="#8c07f3"/><stop offset="0.310" stop-color="#8e08ed"/><stop offset="0.320" stop-color="#9008e7"/><stop offset="0.330" stop-color="#9209df"/><stop offset="0.340" stop-color="#950ad7"/><stop offset="0.350" stop-color="#970bce"/><stop offset="0.360" stop-color="#990cc4"/><stop offset="0.370" stop-color="#9b0dba"/><stop offset="0.380" stop-color="#9d0eaf"/><stop offset="0.390" stop-color="#9f0fa3"/><stop offset="0.400" stop-color="#a11096"/><stop offset="0.410" stop-color="#a31289"/><stop offset="0.420" stop-color="#a5137b"/><stop offset="0.430" stop-color="#a7146d"/><stop offset="0.440" stop-color="#a9165e"/><stop offset="0.450" stop-color="#ab174f"/><stop offset="0.460" stop-color="#ad193f"/><stop offset="0.470" stop-color="#af1a30"/><stop offset="0.480" stop-color="#b11c20"/><stop offset="0.490" stop-color="#b21e10"/><stop offset="0.500" stop-color="#b42000"/><stop offset="0.510" stop-color="#b62200"/><stop offset="0.520" stop-color="#b82400"/><stop offset="0.530" stop-color="#ba2600"/><stop offset="0.540" stop-color="#bb2800"/><stop offset="0.550" stop-color="#bd2a00"/><stop offset="0.560" stop-color="#bf2d00"/><stop offset="0.570" stop-color="#c12f00"/><stop offset="0.580" stop-color="#c23200"/><stop offset="0.590" stop-color="#c43400"/><stop offset="0.600" stop-color="#c63700"/><stop offset="0.610" stop-color="#c73a00"/><stop offset="0.620" stop-color="#c93d00"/><stop offset="0.630" stop-color="#ca4000"/><stop offset="0.640" stop-color="#cc4300"/><stop offset="0.650" stop-color="#ce4600"/><stop offset="0.660" stop-color="#cf4900"/><stop offset="0.670" stop-color="#d14d00"/><stop offset="0.680" stop-color="#d25000"/><stop offset="0.690" stop-color="#d45400"/><stop offset="0.700" stop-color="#d55700"/><stop offset="0.710" stop-color="#d75b00"/><stop offset="0.720" stop-color="#d85f00"/><stop offset="0.730" stop-color="#da6300"/><stop offset="0.740" stop-color="#db6700"/><stop offset="0.750" stop-color="#dd6c00"/><stop offset="0.760" stop-color="#de7000"/><stop offset="0.770" stop-color="#e07400"/><stop offset="0.780" stop-color="#e17900"/><stop offset="0.790" stop-color="#e37e00"/><stop offset="0.800" stop-color="#e48300"/><stop offset="0.810" stop-color="#e68800"/><stop offset="0.820" stop-color="#e78d00"/><stop offset="0.830" stop-color="#e89200"/><stop offset="0.840" stop-color="#ea9700"/><stop offset="0.850" stop-color="#eb9d00"/><stop offset="0.860" stop-color="#eca200"/><stop offset="0.870" stop-color="#eea800"/><stop offset="0.880" stop-color="#efae00"/><stop offset="0.890" stop-color="#f1b400"/><stop offset="0.900" stop-color="#f2ba00"/><stop offset="0.910" stop-color="#f3c000"/><stop offset="0.920" stop-color="#f5c700"/><stop offset="0.930" stop-color="#f6cd00"/><stop offset="0.940" stop-color="#f7d400"/><stop offset="0.950" stop-color="#f9db00"/><stop offset="0.960" stop-color="#fae200"/><stop offset="0.970" stop-color="#fbe900"/><stop offset="0.980" stop-color="#fcf000"/><stop offset="0.990" stop-color="#fef700"/><stop offset="1.000" stop-color="#ffff00"/></linearGradient></defs><g transform="translate(108.2,0)"><g transform="scale(747.6,1)"><rect x="0" width="1" y="9.8" height="1.8" fill="url(#g0)"/><rect x="0" width="1" y="11" height="2.6" fill="url(#g1)"/><rect x="0" width="1" y="13" height="2.6" fill="url(#g2)"/><rect x="0" width="1" y="15" height="2.6" fill="url(#g3)"/><rect x="0" width="1" y="17" height="2.6" fill="url(#g4)"/><rect x="0" width="1" y="19" height="2.6" fill="url(#g5)"/><rect x="0" width="1" y="21" height="2.6" fill="url(#g6)"/><rect x="0" width="1" y="23" height="2.6" fill="url(#g7)"/><rect x="0" width="1" y="25" height="2.6" fill="url(#g8)"/><rect x="0" width="1" y="27" height="2.6" fill="url(#g9)"/><rect x="0" width="1" y="29" height="2.6" fill="url(#g10)"/><rect x="0" width="1" y="31" height="2.6" fill="url(#g11)"/><rect x="0" width="1" y="33" height="2.6" fill="url(#g12)"/><rect x="0" width="1" y="35" height="2.6" fill="url(#g13)"/><rect x="0" width="1" y="37" height="2.6" fill="url(#g14)"/><rect x="0" width="1" y="39" height="2.6" fill="url(#g15)"/><rect x="0" width="1" y="41" height="2.6" fill="url(#g16)"/><rect x="0" width="1" y="43" height="2.6" fill="url(#g17)"/><rect x="0" width="1" y="45" height="2.6" fill="url(#g18)"/><rect x="0" width="1" y="47" height="2.6" fill="url(#g19)"/><rect x="0" width="1" y="49" height="2.6" fill="url(#g20)"/><rect x="0" width="1" y="51" height="2.6" fill="url(#g21)"/><rect x="0" width="1" y="53" height="2.6" fill="url(#g22)"/><rect x="0" width="1" y="55" height="2.6" fill="url(#g23)"/><rect x="0" width="1" y="57" height="2.6" fill="url(#g24)"/><rect x="0" width="1" y="59" height="2.6" fill="url(#g25)"/><rect x="0" width="1" y="61" height="2.6" fill="url(#g26)"/><rect x="0" width="1" y="63" height="2.6" fill="url(#g27)"/><rect x="0" width="1" y="65" height="2.6" fill="url(#g28)"/><rect x="0" width="1" y="67" height="2.6" fill="url(#g29)"/><rect x="0" width="1" y="69" height="2.6" fill="url(#g30)"/><rect x="0" width="1" y="71" height="2.6" fill="url(#g31)"/><rect x="0" width="1" y="73" height="2.6" fill="url(#g32)"/><rect x="0" width="1" y="75" height="2.6" fill="url(#g33)"/><rect x="0" width="1" y="77" height="2.6" fill="url(#g34)"/><rect x="0" width="1" y="79" height="2.6" fill="url(#g35)"/><rect x="0" width="1" y="81" height="2.6" fill="url(#g36)"/><rect x="0" width="1" y="83" height="2.6" fill="url(#g37)"/><rect x="0" width="1" y="85" height="2.6" fill="url(#g38)"/><rect x="0" width="1" y="87" height="2.6" fill="url(#g39)"/><rect x="0" width="1" y="89" height="2.6" fill="url(#g40)"/><rect x="0" width="1" y="91" height="2.6" fill="url(#g41)"/><rect x="0" width="1" y="93" height="2.6" fill="url(#g42)"/><rect x="0" width="1" y="95" height="2.6" fill="url(#g43)"/><rect x="0" width="1" y="97" height="2.6" fill="url(#g44)"/><rect x="0" width="1" y="99" height="2.6" fill="url(#g45)"/><rect x="0" width="1" y="101" height="2.6" fill="url(#g46)"/><rect x="0" width="1" y="103" height="2.6" fill="url(#g47)"/><rect x="0" width="1" y="105" height="2.6" fill="url(#g48)"/><rect x="0" width="1" y="107" height="2.6" fill="url(#g49)"/><rect x="0" width="1" y="109" height="2.6" fill="url(#g50)"/><rect x="0" width="1" y="111" height="2.6" fill="url(#g51)"/><rect x="0" width="1" y="113" height="2.6" fill="url(#g52)"/><rect x="0" width="1" y="115" height="2.6" fill="url(#g53)"/><rect x="0" width="1" y="117" height="2.6" fill="url(#g54)"/><rect x="0" width="1" y="119" height="2.6" fill="url(#g55)"/><rect x="0" width="1" y="121" height="2.6" fill="url(#g56)"/><rect x="0" width="1" y="123" height="2.6" fill="url(#g57)"/><rect x="0" width="1" y="125" height="2.6" fill="url(#g58)"/><rect x="0" width="1" y="127" height="2.6" fill="url(#g59)"/><rect x="0" width="1" y="129" height="2.6" fill="url(#g60)"/><rect x="0" width="1" y="131" height="2.6" fill="url(#g61)"/><rect x="0" width="1" y="133" height="2.6" fill="url(#g62)"/><rect x="0" width="1" y="135" height="2.6" fill="url(#g63)"/><rect x="0" width="1" y="137" height="2.6" fill="url(#g64)"/><rect x="0" width="1" y="139" height="2.6" fill="url(#g65)"/><rect x="0" width="1" y="141" height="2.6" fill="url(#g66)"/><rect x="0" width="1" y="143" height="2.6" fill="url(#g67)"/><rect x="0" width="1" y="145" height="2.6" fill="url(#g68)"/><rect x="0" width="1" y="147" height="2.6" fill="url(#g69)"/><rect x="0" width="1" y="149" height="2.6" fill="url(#g70)"/><rect x="0" width="1" y="151" height="2.6" fill="url(#g71)"/><rect x="0" width="1" y="153" height="2.6" fill="url(#g72)"/><rect x="0" width="1" y="155" height="2.6" fill="url(#g73)"/><rect x="0" width="1" y="157" height="2.6" fill="url(#g74)"/><rect x="0" width="1" y="159" height="2.6" fill="url(#g75)"/><rect x="0" width="1" y="161" height="2.6" fill="url(#g76)"/><rect x="0" width="1" y="163" height="2.6" fill="url(#g77)"/><rect x="0" width="1" y="165" height="2.6" fill="url(#g78)"/><rect x="0" width="1" y="167" height="2.6" fill="url(#g79)"/><rect x="0" width="1" y="169" height="2.6" fill="url(#g80)"/><rect x="0" width="1" y="171" height="2.6" fill="url(#g81)"/><rect x="0" width="1" y="173" height="2.6" fill="url(#g82)"/><rect x="0" width="1" y="175" height="2.6" fill="url(#g83)"/><rect x="0" width="1" y="177" height="2.6" fill="url(#g84)"/><rect x="0" width="1" y="179" height="2.6" fill="url(#g85)"/><rect x="0" width="1" y="181" height="2.6" fill="url(#g86)"/><rect x="0" width="1" y="183" height="2.6" fill="url(#g87)"/><rect x="0" width="1" y="185" height="2.6" fill="url(#g88)"/><rect x="0" width="1" y="187" height="2.6" fill="url(#g89)"/><rect x="0" width="1" y="189" height="2.6" fill="url(#g90)"/><rect x="0" width="1" y="191" height="2.6" fill="url(#g91)"/><rect x="0" width="1" y="193" height="2.6" fill="url(#g92)"/><rect x="0" width="1" y="195" height="2.6" fill="url(#g93)"/><rect x="0" width="1" y="197" height="2.6" fill="url(#g94)"/><rect x="0" width="1" y="199" height="2.6" fill="url(#g95)"/><rect x="0" width="1" y="201" height="2.6" fill="url(#g96)"/><rect x="0" width="1" y="203" height="2.6" fill="url(#g97)"/><rect x="0" width="1" y="205" height="2.6" fill="url(#g98)"/><rect x="0" width="1" y="207" height="2.6" fill="url(#g99)"/><rect x="0" width="1" y="209" height="2.6" fill="url(#g100)"/><rect x="0" width="1" y="211" height="2.6" fill="url(#g101)"/><rect x="0" width="1" y="213" height="2.6" fill="url(#g102)"/><rect x="0" width="1" y="215" height="2.6" fill="url(#g103)"/><rect x="0" width="1" y="217" height="2.6" fill="url(#g104)"/><rect x="0" width="1" y="219" height="2.6" fill="url(#g105)"/><rect x="0" width="1" y="221" height="2.6" fill="url(#g106)"/><rect x="0" width="1" y="223" height="2.6" fill="url(#g107)"/><rect x="0" width="1" y="225" height="2.6" fill="url(#g108)"/><rect x="0" width="1" y="227" height="2.6" fill="url(#g109)"/><rect x="0" width="1" y="229" height="2.6" fill="url(#g110)"/><rect x="0" width="1" y="231" height="2.6" fill="url(#g111)"/><rect x="0" width="1" y="233" height="2.6" fill="url(#g112)"/><rect x="0" width="1" y="235" height="2.6" fill="url(#g113)"/><rect x="0" width="1" y="237" height="2.6" fill="url(#g114)"/><rect x="0" width="1" y="239" height="2.6" fill="url(#g115)"/><rect x="0" width="1" y="241" height="2.6" fill="url(#g116)"/><rect x="0" width="1" y="243" height="2.6" fill="url(#g117)"/><rect x="0" width="1" y="245" height="2.6" fill="url(#g118)"/><rect x="0" width="1" y="247" height="2.6" fill="url(#g119)"/><rect x="0" width="1" y="249" height="2.6" fill="url(#g120)"/><rect x="0" width="1" y="251" height="2.6" fill="url(#g121)"/><rect x="0" width="1" y="253" height="2.6" fill="url(#g122)"/><rect x="0" width="1" y="255" height="2.6" fill="url(#g123)"/><rect x="0" width="1" y="257" height="2.6" fill="url(#g124)"/><rect x="0" width="1" y="259" height="2.6" fill="url(#g125)"/><rect x="0" width="1" y="261" height="2.6" fill="url(#g126)"/><rect x="0" width="1" y="263" height="2.6" fill="url(#g127)"/><rect x="0" width="1" y="265" height="2.6" fill="url(#g128)"/><rect x="0" width="1" y="267" height="2.6" fill="url(#g129)"/><rect x="0" width="1" y="269" height="2.6" fill="url(#g130)"/><rect x="0" width="1" y="271" height="2.6" fill="url(#g131)"/><rect x="0" width="1" y="273" height="2.6" fill="url(#g132)"/><rect x="0" width="1" y="275" height="2.6" fill="url(#g133)"/><rect x="0" width="1" y="277" height="2.6" fill="url(#g134)"/><rect x="0" width="1" y="279" height="2.6" fill="url(#g135)"/><rect x="0" width="1" y="281" height="2.6" fill="url(#g136)"/><rect x="0" width="1" y="283" height="2.6" fill="url(#g137)"/><rect x="0" width="1" y="285" height="2.6" fill="url(#g138)"/><rect x="0" width="1" y="287" height="2.6" fill="url(#g139)"/><rect x="0" width="1" y="289" height="2.6" fill="url(#g140)"/><rect x="0" width="1" y="291" height="2.6" fill="url(#g141)"/><rect x="0" width="1" y="293" height="2.6" fill="url(#g142)"/><rect x="0" width="1" y="295" height="2.6" fill="url(#g143)"/><rect x="0" width="1" y="297" height="2.6" fill="url(#g144)"/><rect x="0" width="1" y="299" height="2.6" fill="url(#g145)"/><rect x="0" width="1" y="301" height="2.6" fill="url(#g146)"/><rect x="0" width="1" y="303" height="2.6" fill="url(#g147)"/><rect x="0" width="1" y="305" height="2.6" fill="url(#g148)"/><rect x="0" width="1" y="307" height="2.6" fill="url(#g149)"/><rect x="0" width="1" y="309" height="2.6" fill="url(#g150)"/><rect x="0" width="1" y="311" height="2.6" fill="url(#g151)"/><rect x="0" width="1" y="313" height="2.6" fill="url(#g152)"/><rect x="0" width="1" y="315" height="2.6" fill="url(#g153)"/><rect x="0" width="1" y="317" height="2.6" fill="url(#g154)"/><rect x="0" width="1" y="319" height="2.6" fill="url(#g155)"/><rect x="0" width="1" y="321" height="2.6" fill="url(#g156)"/><rect x="0" width="1" y="323" height="2.6" fill="url(#g157)"/><rect x="0" width="1" y="325" height="2.6" fill="url(#g158)"/><rect x="0" width="1" y="327" height="2.6" fill="url(#g159)"/><rect x="0" width="1" y="329" height="2.6" fill="url(#g160)"/><rect x="0" width="1" y="331" height="2.6" fill="url(#g161)"/><rect x="0" width="1" y="333" height="2.6" fill="url(#g162)"/><rect x="0" width="1" y="335" height="2.6" fill="url(#g163)"/><rect x="0" width="1" y="337" height="2.6" fill="url(#g164)"/><rect x="0" width="1" y="339" height="2.6" fill="url(#g165)"/><rect x="0" width="1" y="341" height="2.6" fill="url(#g166)"/><rect x="0" width="1" y="343" height="2.6" fill="url(#g167)"/><rect x="0" width="1" y="345" height="2.6" fill="url(#g168)"/><rect x="0" width="1" y="347" height="2.6" fill="url(#g169)"/><rect x="0" width="1" y="349" height="2.6" fill="url(#g170)"/><rect x="0" width="1" y="351" height="2.6" fill="url(#g171)"/><rect x="0" width="1" y="353" height="2.6" fill="url(#g172)"/><rect x="0" width="1" y="355" height="2.6" fill="url(#g173)"/><rect x="0" width="1" y="357" height="2.6" fill="url(#g174)"/><rect x="0" width="1" y="359" height="2.6" fill="url(#g175)"/><rect x="0" width="1" y="361" height="2.6" fill="url(#g176)"/><rect x="0" width="1" y="363" height="2.6" fill="url(#g177)"/><rect x="0" width="1" y="365" height="2.6" fill="url(#g178)"/><rect x="0" width="1" y="367" height="2.6" fill="url(#g179)"/><rect x="0" width="1" y="369" height="2.6" fill="url(#g180)"/><rect x="0" width="1" y="371" height="2.6" fill="url(#g181)"/><rect x="0" width="1" y="373" height="2.6" fill="url(#g182)"/><rect x="0" width="1" y="375" height="2.6" fill="url(#g183)"/><rect x="0" width="1" y="377" height="2.6" fill="url(#g184)"/><rect x="0" width="1" y="379" height="2.6" fill="url(#g185)"/><rect x="0" width="1" y="381" height="2.6" fill="url(#g186)"/><rect x="0" width="1" y="383" height="2.6" fill="url(#g187)"/><rect x="0" width="1" y="385" height="2.6" fill="url(#g188)"/><rect x="0" width="1" y="387" height="2.6" fill="url(#g189)"/><rect x="0" width="1" y="389" height="2.6" fill="url(#g190)"/><rect x="0" width="1" y="391" height="2.6" fill="url(#g191)"/><rect x="0" width="1" y="393" height="2.6" fill="url(#g192)"/><rect x="0" width="1" y="395" height="2.6" fill="url(#g193)"/><rect x="0" width="1" y="397" height="2.6" fill="url(#g194)"/><rect x="0" width="1" y="399" height="2.6" fill="url(#g195)"/><rect x="0" width="1" y="401" height="2.6" fill="url(#g196)"/><rect x="0" width="1" y="403" height="2.6" fill="url(#g197)"/><rect x="0" width="1" y="405" height="2.6" fill="url(#g198)"/><rect x="0" width="1" y="407" height="2.6" fill="url(#g199)"/><rect x="0" width="1" y="409" height="2.6" fill="url(#g200)"/><rect x="0" width="1" y="411" height="2.6" fill="url(#g201)"/><rect x="0" width="1" y="413" height="2.6" fill="url(#g202)"/><rect x="0" width="1" y="415" height="2.6" fill="url(#g203)"/><rect x="0" width="1" y="417" height="2.6" fill="url(#g204)"/><rect x="0" width="1" y="419" height="2.6" fill="url(#g205)"/><rect x="0" width="1" y="421" height="2.6" fill="url(#g206)"/><rect x="0" width="1" y="423" height="2.6" fill="url(#g207)"/><rect x="0" width="1" y="425" height="2.6" fill="url(#g208)"/><rect x="0" width="1" y="427" height="2.6" fill="url(#g209)"/><rect x="0" width="1" y="429" height="2.6" fill="url(#g210)"/><rect x="0" width="1" y="431" height="2.6" fill="url(#g211)"/><rect x="0" width="1" y="433" height="2.6" fill="url(#g212)"/><rect x="0" width="1" y="435" height="2.6" fill="url(#g213)"/><rect x="0" width="1" y="437" height="2.6" fill="url(#g214)"/><rect x="0" width="1" y="439" height="2.6" fill="url(#g215)"/><rect x="0" width="1" y="441" height="2.6" fill="url(#g216)"/><rect x="0" width="1" y="443" height="2.6" fill="url(#g217)"/><rect x="0" width="1" y="445" height="2.6" fill="url(#g218)"/><rect x="0" width="1" y="447" height="2.6" fill="url(#g219)"/><rect x="0" width="1" y="449" height="2.6" fill="url(#g220)"/><rect x="0" width="1" y="451" height="2.6" fill="url(#g221)"/><rect x="0" width="1" y="453" height="2.6" fill="url(#g222)"/><rect x="0" width="1" y="455" height="2.6" fill="url(#g223)"/><rect x="0" width="1" y="457" height="2.6" fill="url(#g224)"/><rect x="0" width="1" y="459" height="2.6" fill="url(#g225)"/><rect x="0" width="1" y="461" height="2.6" fill="url(#g226)"/><rect x="0" width="1" y="463" height="2.6" fill="url(#g227)"/><rect x="0" width="1" y="465" height="2.6" fill="url(#g228)"/><rect x="0" width="1" y="467" height="2.6" fill="url(#g229)"/><rect x="0" width="1" y="469" height="2.6" fill="url(#g230)"/><rect x="0" width="1" y="471" height="2.6" fill="url(#g231)"/><rect x="0" width="1" y="473" height="2.6" fill="url(#g232)"/><rect x="0" width="1" y="475" height="2.6" fill="url(#g233)"/><rect x="0" width="1" y="477" height="2.6" fill="url(#g234)"/><rect x="0" width="1" y="479" height="2.6" fill="url(#g235)"/><rect x="0" width="1" y="481" height="2.6" fill="url(#g236)"/><rect x="0" width="1" y="483" height="2.6" fill="url(#g237)"/><rect x="0" width="1" y="485" height="2.6" fill="url(#g238)"/><rect x="0" width="1" y="487" height="2.6" fill="url(#g239)"/><rect x="0" width="1" y="489" height="2.6" fill="url(#g240)"/><rect x="0" width="1" y="491" height="2.6" fill="url(#g241)"/><rect x="0" width="1" y="493" height="2.6" fill="url(#g242)"/><rect x="0" width="1" y="495" height="2.6" fill="url(#g243)"/><rect x="0" width="1" y="497" height="2.6" fill="url(#g244)"/><rect x="0" width="1" y="499" height="2.6" fill="url(#g245)"/><rect x="0" width="1" y="501" height="2.6" fill="url(#g246)"/><rect x="0" width="1" y="503" height="2.6" fill="url(#g247)"/><rect x="0" width="1" y="505" height="2.6" fill="url(#g248)"/><rect x="0" width="1" y="507" height="2.6" fill="url(#g249)"/><rect x="0" width="1" y="509" height="2.6" fill="url(#g250)"/><rect x="0" width="1" y="511" height="2.6" fill="url(#g251)"/><rect x="0" width="1" y="513" height="2.6" fill="url(#g252)"/><rect x="0" width="1" y="515" height="2.6" fill="url(#g253)"/><rect x="0" width="1" y="517" height="2.6" fill="url(#g254)"/><rect x="0" width="1" y="519" height="2.6" fill="url(#g255)"/><rect x="0" width="1" y="521" height="2.6" fill="url(#g256)"/><rect x="0" width="1" y="523" height="2.6" fill="url(#g257)"/><rect x="0" width="1" y="525" height="2.6" fill="url(#g258)"/><rect x="0" width="1" y="527" height="2.6" fill="url(#g259)"/><rect x="0" width="1" y="529" height="0.9" fill="url(#g260)"/></g></g><g clip-path="url(#pc)" fill="none"><path d="M108.2,67.1 111.4,68.6 114.8,70.3 118.1,72.0 121.4,73.6 124.6,75.3 127.9,77.0 131.1,78.7 134.3,80.4 137.5,82.1 140.7,83.8 143.8,85.5 147.0,87.2 150.1,88.9 153.2,90.7 156.2,92.4 159.3,94.1 162.3,95.9 165.3,97.7 168.3,99.4 171.3,101.2 174.2,102.9 177.2,104.7 180.1,106.5 183.0,108.3 185.8,110.1 188.7,111.8 191.5,113.6 194.3,115.4 197.1,117.2 199.9,119.0 202.6,120.9 205.4,122.7 208.1,124.5 210.8,126.3 213.5,128.1 216.1,129.9 218.8,131.8 221.4,133.6 224.0,135.4 226.6,137.3 229.2,139.1 231.7,140.9 234.2,142.8 236.7,144.6 239.2,146.5 241.7,148.3 244.2,150.2 246.6,152.0 249.0,153.8 251.4,155.7 253.8,157.5 256.2,159.4 258.5,161.3 260.9,163.1 263.2,165.0 265.5,166.8 267.8,168.7 270.0,170.5 272.3,172.4 274.5,174.2 276.7,176.1 278.9,178.0 281.1,179.8 283.3,181.7 285.4,183.5 287.5,185.4 289.6,187.2 291.7,189.1 293.8,191.0 295.9,192.8 298.0,194.7 300.0,196.5 302.0,198.4 304.0,200.2 306.0,202.1 308.0,203.9 309.9,205.8 311.9,207.6 313.8,209.5 315.7,211.3 317.6,213.1 319.5,215.0 321.4,216.8 323.3,218.7 325.1,220.5 326.9,222.3 328.8,224.2 330.6,226.0 332.4,227.8 334.1,229.7 335.9,231.5 337.7,233.3 339.4,235.1 341.1,237.0 342.8,238.8 344.5,240.6 346.2,242.4 347.9,244.2 349.5,246.0 351.2,247.8 352.8,249.6 354.5,251.4 356.1,253.2 357.7,255.0 359.3,256.8 360.8,258.6 362.4,260.4 364.0,262.2 365.5,264.0 367.0,265.8 368.6,267.6 370.1,269.3 371.6,271.1 373.1,272.9 374.6,274.7 376.0,276.4 377.5,278.2 378.9,279.9 380.4,281.7 381.8,283.5 383.2,285.2 384.6,287.0 386.0,288.7 387.4,290.5 388.8,292.2 390.2,293.9 391.5,295.7 392.9,297.4 394.2,299.2 395.6,300.9 396.9,302.6 398.2,304.3 399.5,306.1 400.8,307.8 402.1,309.5 403.4,311.2 404.7,312.9 405.9,314.6 407.2,316.3 408.4,318.0 409.7,319.7 410.9,321.4 412.1,323.1 413.4,324.8 414.6,326.5 415.8,328.2 417.0,329.9 418.2,331.6 419.3,333.3 420.5,334.9 421.7,336.6 422.8,338.3 424.0,340.0 425.1,341.6 426.3,343.3 427.4,344.9 428.5,346.6 429.7,348.3 430.8,349.9 431.9,351.6 433.0,353.2 434.1,354.9 435.2,356.5 436.3,358.2 437.3,359.8 438.4,361.5 439.5,363.1 440.5,364.7 441.6,366.4 442.6,368.0 443.7,369.7 444.7,371.3 445.7,372.9 446.8,374.5 447.8,376.2 448.8,377.8 449.8,379.4 450.8,381.0 451.8,382.7 452.8,384.3 453.8,385.9 454.7,387.5 455.7,389.1 456.7,390.7 457.7,392.3 458.6,394.0 459.6,395.6 460.5,397.2 461.5,398.8 462.4,400.4 463.3,402.0 464.3,403.6 465.2,405.2 466.1,406.8 467.0,408.4 467.9,410.0 468.8,411.6 469.7,413.2 470.6,414.8 471.5,416.4 472.4,418.0 473.2,419.6 474.1,421.2 475.0,422.8 475.8,424.4 476.7,426.0 477.6,427.6 478.4,429.2 479.2,430.8 480.1,432.3 480.9,433.9 481.7,435.5 482.6,437.1 483.4,438.7 484.2,440.3 485.0,441.9 485.8,443.5 486.6,445.1 487.4,446.7 488.1,448.3 488.9,449.9 489.7,451.5 490.5,453.1 491.2,454.7 492.0,456.3 492.7,457.9 493.5,459.4 494.2,461.0 494.9,462.6 495.7,464.2 496.4,465.8 497.1,467.4 497.8,469.0 498.5,470.6 499.2,472.2 499.9,473.8 500.6,475.4 501.2,477.1 501.9,478.7 502.6,480.3 503.2,481.9 503.9,483.5 504.5,485.1 505.2,486.7 505.8,488.3 506.4,489.9 507.0,491.5 507.6,493.1 508.2,494.8 508.8,496.4 509.4,498.0 510.0,499.6 510.6,501.2 511.1,502.8 511.7,504.5 512.2,506.1 512.8,507.7 513.3,509.3 513.8,511.0 514.3,512.6 514.8,514.2 515.3,515.8 515.8,517.5 516.3,519.1 516.8,520.7 517.3,522.4 517.7,524.0 518.2,525.7 518.6,527.3 519.0,528.9" stroke="#fff" stroke-width="2"/><path d="M108.2,102.5 110.8,103.8 113.9,105.3 116.9,106.8 119.9,108.4 123.0,109.9 126.0,111.4 128.9,113.0 131.9,114.5 134.8,116.0 137.8,117.6 140.7,119.2 143.6,120.7 146.4,122.3 149.3,123.9 152.1,125.5 154.9,127.0 157.7,128.6 160.5,130.2 163.3,131.8 166.0,133.4 168.7,135.0 171.5,136.7 174.2,138.3 176.8,139.9 179.5,141.5 182.1,143.1 184.8,144.8 187.4,146.4 190.0,148.0 192.5,149.7 195.1,151.3 197.6,153.0 200.1,154.6 202.6,156.3 205.1,157.9 207.6,159.6 210.1,161.2 212.5,162.9 214.9,164.6 217.3,166.2 219.7,167.9 222.1,169.6 224.4,171.2 226.8,172.9 229.1,174.6 231.4,176.3 233.7,178.0 236.0,179.6 238.2,181.3 240.5,183.0 242.7,184.7 244.9,186.4 247.1,188.1 249.3,189.7 251.5,191.4 253.6,193.1 255.7,194.8 257.9,196.5 260.0,198.2 262.1,199.9 264.1,201.6 266.2,203.3 268.2,205.0 270.3,206.7 272.3,208.3 274.3,210.0 276.3,211.7 278.3,213.4 280.2,215.1 282.2,216.8 284.1,218.5 286.0,220.2 287.9,221.9 289.8,223.6 291.7,225.3 293.5,227.0 295.4,228.6 297.2,230.3 299.0,232.0 300.9,233.7 302.7,235.4 304.4,237.1 306.2,238.8 308.0,240.4 309.7,242.1 311.4,243.8 313.2,245.5 314.9,247.2 316.6,248.9 318.2,250.5 319.9,252.2 321.6,253.9 323.2,255.5 324.9,257.2 326.5,258.9 328.1,260.6 329.7,262.2 331.3,263.9 332.9,265.6 334.4,267.2 336.0,268.9 337.5,270.5 339.1,272.2 340.6,273.8 342.1,275.5 343.6,277.2 345.1,278.8 346.6,280.4 348.0,282.1 349.5,283.7 351.0,285.4 352.4,287.0 353.8,288.7 355.2,290.3 356.7,291.9 358.1,293.6 359.4,295.2 360.8,296.8 362.2,298.5 363.6,300.1 364.9,301.7 366.3,303.3 367.6,304.9 368.9,306.6 370.2,308.2 371.6,309.8 372.9,311.4 374.1,313.0 375.4,314.6 376.7,316.2 378.0,317.8 379.2,319.4 380.5,321.0 381.7,322.6 383.0,324.2 384.2,325.8 385.4,327.4 386.6,329.0 387.8,330.6 389.0,332.1 390.2,333.7 391.4,335.3 392.6,336.9 393.7,338.4 394.9,340.0 396.0,341.6 397.2,343.2 398.3,344.7 399.5,346.3 400.6,347.9 401.7,349.4 402.8,351.0 403.9,352.5 405.0,354.1 406.1,355.6 407.2,357.2 408.3,358.8 409.4,360.3 410.4,361.8 411.5,363.4 412.5,364.9 413.6,366.5 414.6,368.0 415.7,369.6 416.7,371.1 417.7,372.6 418.8,374.2 419.8,375.7 420.8,377.2 421.8,378.8 422.8,380.3 423.8,381.8 424.8,383.3 425.7,384.9 426.7,386.4 427.7,387.9 428.7,389.4 429.6,390.9 430.6,392.4 431.5,394.0 432.5,395.5 433.4,397.0 434.4,398.5 435.3,400.0 436.2,401.5 437.1,403.0 438.1,404.5 439.0,406.0 439.9,407.6 440.8,409.1 441.7,410.6 442.6,412.1 443.5,413.6 444.3,415.1 445.2,416.6 446.1,418.1 447.0,419.6 447.8,421.1 448.7,422.6 449.5,424.1 450.4,425.6 451.2,427.1 452.1,428.6 452.9,430.1 453.8,431.6 454.6,433.1 455.4,434.5 456.2,436.0 457.0,437.5 457.9,439.0 458.7,440.5 459.5,442.0 460.3,443.5 461.1,445.0 461.8,446.5 462.6,448.0 463.4,449.5 464.2,451.0 465.0,452.5 465.7,454.0 466.5,455.5 467.2,457.0 468.0,458.5 468.7,460.0 469.5,461.5 470.2,463.0 471.0,464.5 471.7,466.0 472.4,467.5 473.1,469.0 473.8,470.5 474.6,472.0 475.3,473.5 476.0,475.0 476.7,476.5 477.4,478.0 478.0,479.5 478.7,481.0 479.4,482.5 480.1,484.0 480.7,485.5 481.4,487.0 482.0,488.5 482.7,490.0 483.3,491.5 484.0,493.0 484.6,494.6 485.2,496.1 485.9,497.6 486.5,499.1 487.1,500.6 487.7,502.1 488.3,503.7 488.9,505.2 489.5,506.7 490.1,508.2 490.7,509.8 491.2,511.3 491.8,512.8 492.3,514.3 492.9,515.9 493.4,517.4 494.0,518.9 494.5,520.5 495.1,522.0 495.6,523.5 496.1,525.1 496.6,526.6 497.1,528.2 497.6,529.7" stroke="#f00" stroke-width="2" stroke-dasharray="14.5 4.3 5.5 4.3" stroke-dashoffset="13.5"/><path d="M241.9,14.2 242.4,14.5 242.9,14.9 243.4,15.3 243.9,15.7 244.4,16.0 244.9,16.4 245.4,16.8 245.9,17.1 246.4,17.5 246.9,17.9 247.4,18.3 247.9,18.6 248.4,19.0 248.9,19.4 249.4,19.7 249.9,20.1 250.4,20.5 250.9,20.9 251.4,21.2 251.9,21.6 252.4,22.0 252.9,22.4 253.1,22.5M264.5,31.3 265.0,31.7 265.5,32.0 266.0,32.4 266.5,32.8 266.9,33.1 267.4,33.5 267.9,33.9 268.4,34.3 268.8,34.6 269.3,35.0 269.8,35.4 270.3,35.8 270.7,36.1 271.2,36.5 271.7,36.9 272.1,37.2 272.6,37.6 273.1,38.0 273.6,38.4 274.0,38.7 274.5,39.1 275.0,39.5 275.4,39.8 275.5,39.9M290.1,51.7 290.5,52.1 290.9,52.5 291.4,52.9 291.8,53.2 292.3,53.6 292.7,54.0 293.2,54.3 293.6,54.7 294.1,55.1 294.5,55.5 295.0,55.8 295.4,56.2 295.8,56.6 296.3,57.0 296.7,57.3 297.2,57.7 297.6,58.1 298.0,58.4 298.5,58.8 298.9,59.2 299.3,59.6 299.8,59.9 300.2,60.3 300.7,60.7 300.8,60.8M311.8,70.3 312.2,70.7 312.6,71.1 313.1,71.4 313.5,71.8 313.9,72.2 314.3,72.5 314.7,72.9 315.1,73.3 315.6,73.7 316.0,74.0 316.4,74.4 316.8,74.8 317.2,75.1 317.6,75.5 318.1,75.9 318.5,76.2 318.9,76.6 319.3,77.0 319.7,77.4 320.1,77.7 320.5,78.1 320.9,78.5 321.3,78.8 321.8,79.2 322.2,79.6 322.2,79.6M333.4,89.9 333.8,90.3 334.2,90.7 334.6,91.0 335.0,91.4 335.4,91.8 335.7,92.1 336.1,92.5 336.5,92.9 336.9,93.2 337.3,93.6 337.7,94.0 338.1,94.3 338.5,94.7 338.9,95.1 339.2,95.5 339.6,95.8 340.0,96.2 340.4,96.6 340.8,96.9 341.2,97.3 341.5,97.7 341.9,98.0 342.3,98.4 342.7,98.8 343.1,99.1 343.5,99.5 343.5,99.6M353.6,109.4 353.9,109.8 354.3,110.2 354.7,110.5 355.0,110.9 355.4,111.3 355.8,111.6 356.1,112.0 356.5,112.4 356.9,112.7 357.2,113.1 357.6,113.5 357.9,113.8 358.3,114.2 358.7,114.6 359.0,114.9 359.4,115.3 359.7,115.7 360.1,116.0 360.5,116.4 360.8,116.7 361.2,117.1 361.5,117.5 361.9,117.8 362.3,118.2 362.6,118.6 363.0,118.9 363.3,119.3 363.4,119.4M376.5,133.1 376.8,133.5 377.2,133.9 377.5,134.2 377.8,134.6 378.2,135.0 378.5,135.3 378.8,135.7 379.2,136.0 379.5,136.4 379.8,136.8 380.2,137.1 380.5,137.5 380.8,137.9 381.2,138.2 381.5,138.6 381.8,138.9 382.2,139.3 382.5,139.7 382.8,140.0 383.1,140.4 383.5,140.7 383.8,141.1 384.1,141.5 384.5,141.8 384.8,142.2 385.1,142.6 385.4,142.9 385.8,143.3 385.9,143.5M395.6,154.4 395.9,154.8 396.3,155.2 396.6,155.5 396.9,155.9 397.2,156.2 397.5,156.6 397.8,156.9 398.1,157.3 398.4,157.7 398.7,158.0 399.0,158.4 399.3,158.7 399.6,159.1 400.0,159.4 400.3,159.8 400.6,160.2 400.9,160.5 401.2,160.9 401.5,161.2 401.8,161.6 402.1,161.9 402.4,162.3 402.7,162.7 403.0,163.0 403.3,163.4 403.6,163.7 403.9,164.1 404.2,164.4 404.5,164.8 404.7,165.1M414.5,176.9 414.8,177.2 415.0,177.6 415.3,177.9 415.6,178.3 415.9,178.6 416.2,179.0 416.5,179.3 416.8,179.7 417.0,180.0 417.3,180.4 417.6,180.8 417.9,181.1 418.2,181.5 418.5,181.8 418.7,182.2 419.0,182.5 419.3,182.9 419.6,183.2 419.9,183.6 420.1,183.9 420.4,184.3 420.7,184.6 421.0,185.0 421.2,185.3 421.5,185.7 421.8,186.0 422.1,186.4 422.4,186.7 422.6,187.1 422.9,187.4 423.2,187.8 423.2,187.8M432.1,199.3 432.3,199.7 432.6,200.0 432.8,200.3 433.1,200.7 433.4,201.0 433.6,201.4 433.9,201.7 434.2,202.1 434.4,202.4 434.7,202.8 434.9,203.1 435.2,203.5 435.4,203.8 435.7,204.2 436.0,204.5 436.2,204.9 436.5,205.2 436.7,205.5 437.0,205.9 437.3,206.2 437.5,206.6 437.8,206.9 438.0,207.3 438.3,207.6 438.5,208.0 438.8,208.3 439.0,208.7 439.3,209.0 439.5,209.3 439.8,209.7 440.1,210.0 440.3,210.4 440.4,210.5M451.1,225.4 451.3,225.8 451.6,226.1 451.8,226.4 452.0,226.8 452.3,227.1 452.5,227.5 452.7,227.8 453.0,228.1 453.2,228.5 453.5,228.8 453.7,229.2 453.9,229.5 454.2,229.8 454.4,230.2 454.6,230.5 454.9,230.9 455.1,231.2 455.3,231.5 455.6,231.9 455.8,232.2 456.0,232.5 456.3,232.9 456.5,233.2 456.7,233.6 457.0,233.9 457.2,234.2 457.4,234.6 457.6,234.9 457.9,235.2 458.1,235.6 458.3,235.9 458.6,236.2 458.8,236.6 459.0,236.9 459.0,237.0M467.3,249.3 467.5,249.6 467.7,250.0 467.9,250.3 468.1,250.6 468.3,250.9 468.6,251.3 468.8,251.6 469.0,251.9 469.2,252.3 469.4,252.6 469.6,252.9 469.9,253.3 470.1,253.6 470.3,253.9 470.5,254.3 470.7,254.6 470.9,254.9 471.1,255.2 471.4,255.6 471.6,255.9 471.8,256.2 472.0,256.6 472.2,256.9 472.4,257.2 472.6,257.6 472.8,257.9 473.0,258.2 473.3,258.5 473.5,258.9 473.7,259.2 473.9,259.5 474.1,259.9 474.3,260.2 474.5,260.5 474.7,260.8 474.9,261.0M482.5,273.2 482.7,273.6 482.9,273.9 483.1,274.2 483.3,274.5 483.5,274.9 483.7,275.2 483.9,275.5 484.1,275.8 484.3,276.2 484.5,276.5 484.7,276.8 484.9,277.1 485.1,277.5 485.2,277.8 485.4,278.1 485.6,278.4 485.8,278.7 486.0,279.1 486.2,279.4 486.4,279.7 486.6,280.0 486.8,280.4 487.0,280.7 487.2,281.0 487.4,281.3 487.6,281.6 487.8,282.0 488.0,282.3 488.2,282.6 488.4,282.9 488.6,283.2 488.7,283.6 488.9,283.9 489.1,284.2 489.3,284.5 489.5,284.9 489.7,285.2 489.7,285.2M497.4,298.2 497.6,298.5 497.7,298.8 497.9,299.2 498.1,299.5 498.3,299.8 498.5,300.1 498.7,300.4 498.8,300.7 499.0,301.1 499.2,301.4 499.4,301.7 499.6,302.0 499.7,302.3 499.9,302.6 500.1,302.9 500.3,303.3 500.5,303.6 500.6,303.9 500.8,304.2 501.0,304.5 501.2,304.8 501.4,305.1 501.5,305.5 501.7,305.8 501.9,306.1 502.1,306.4 502.3,306.7 502.4,307.0 502.6,307.3 502.8,307.6 503.0,308.0 503.1,308.3 503.3,308.6 503.5,308.9 503.7,309.2 503.9,309.5 504.0,309.8 504.2,310.1 504.3,310.4M513.0,325.9 513.1,326.2 513.3,326.6 513.5,326.9 513.6,327.2 513.8,327.5 514.0,327.8 514.1,328.1 514.3,328.4 514.5,328.7 514.6,329.0 514.8,329.3 515.0,329.6 515.1,329.9 515.3,330.2 515.5,330.5 515.6,330.8 515.8,331.1 516.0,331.5 516.1,331.8 516.3,332.1 516.5,332.4 516.6,332.7 516.8,333.0 516.9,333.3 517.1,333.6 517.3,333.9 517.4,334.2 517.6,334.5 517.8,334.8 517.9,335.1 518.1,335.4 518.3,335.7 518.4,336.0 518.6,336.3 518.7,336.6 518.9,336.9 519.1,337.2 519.2,337.5 519.4,337.9 519.6,338.2 519.6,338.3M526.4,351.1 526.5,351.4 526.7,351.7 526.8,352.0 527.0,352.3 527.2,352.6 527.3,352.9 527.5,353.2 527.6,353.5 527.8,353.8 527.9,354.1 528.1,354.4 528.2,354.7 528.4,355.0 528.6,355.3 528.7,355.6 528.9,355.9 529.0,356.2 529.2,356.5 529.3,356.8 529.5,357.1 529.6,357.4 529.8,357.7 529.9,358.0 530.1,358.3 530.2,358.6 530.4,358.9 530.5,359.2 530.7,359.5 530.8,359.8 531.0,360.1 531.2,360.4 531.3,360.7 531.5,361.0 531.6,361.3 531.8,361.6 531.9,361.9 532.1,362.2 532.2,362.5 532.4,362.8 532.5,363.1 532.7,363.4 532.8,363.6M539.3,376.7 539.5,377.0 539.6,377.3 539.8,377.6 539.9,377.8 540.1,378.1 540.2,378.4 540.3,378.7 540.5,379.0 540.6,379.3 540.8,379.6 540.9,379.9 541.1,380.2 541.2,380.5 541.4,380.8 541.5,381.1 541.6,381.4 541.8,381.7 541.9,382.0 542.1,382.2 542.2,382.5 542.4,382.8 542.5,383.1 542.7,383.4 542.8,383.7 542.9,384.0 543.1,384.3 543.2,384.6 543.4,384.9 543.5,385.2 543.7,385.5 543.8,385.8 543.9,386.1 544.1,386.3 544.2,386.6 544.4,386.9 544.5,387.2 544.6,387.5 544.8,387.8 544.9,388.1 545.1,388.4 545.2,388.7 545.3,389.0 545.5,389.2M551.9,402.6 552.0,402.9 552.1,403.2 552.3,403.5 552.4,403.8 552.5,404.1 552.7,404.4 552.8,404.7 552.9,405.0 553.1,405.2 553.2,405.5 553.3,405.8 553.5,406.1 553.6,406.4 553.7,406.7 553.9,407.0 554.0,407.3 554.1,407.6 554.3,407.8 554.4,408.1 554.5,408.4 554.7,408.7 554.8,409.0 554.9,409.3 555.1,409.6 555.2,409.9 555.3,410.2 555.5,410.4 555.6,410.7 555.7,411.0 555.9,411.3 556.0,411.6 556.1,411.9 556.3,412.2 556.4,412.5 556.5,412.8 556.7,413.0 556.8,413.3 556.9,413.6 557.1,413.9 557.2,414.2 557.3,414.5 557.5,414.8 557.6,415.1 557.7,415.3M566.1,434.3 566.2,434.6 566.4,434.9 566.5,435.2 566.6,435.5 566.7,435.8 566.8,436.1 567.0,436.3 567.1,436.6 567.2,436.9 567.3,437.2 567.5,437.5 567.6,437.8 567.7,438.1 567.8,438.4 567.9,438.6 568.1,438.9 568.2,439.2 568.3,439.5 568.4,439.8 568.5,440.1 568.7,440.4 568.8,440.6 568.9,440.9 569.0,441.2 569.1,441.5 569.3,441.8 569.4,442.1 569.5,442.4 569.6,442.7 569.7,442.9 569.9,443.2 570.0,443.5 570.1,443.8 570.2,444.1 570.3,444.4 570.5,444.7 570.6,445.0 570.7,445.2 570.8,445.5 570.9,445.8 571.0,446.1 571.2,446.4 571.3,446.7 571.4,447.0 571.5,447.2 571.5,447.2M576.7,460.5 576.8,460.7 577.0,461.0 577.1,461.3 577.2,461.6 577.3,461.9 577.4,462.2 577.5,462.5 577.6,462.7 577.7,463.0 577.8,463.3 577.9,463.6 578.0,463.9 578.2,464.2 578.3,464.5 578.4,464.8 578.5,465.0 578.6,465.3 578.7,465.6 578.8,465.9 578.9,466.2 579.0,466.5 579.1,466.8 579.2,467.1 579.3,467.3 579.4,467.6 579.5,467.9 579.6,468.2 579.8,468.5 579.9,468.8 580.0,469.1 580.1,469.4 580.2,469.6 580.3,469.9 580.4,470.2 580.5,470.5 580.6,470.8 580.7,471.1 580.8,471.4 580.9,471.7 581.0,471.9 581.1,472.2 581.2,472.5 581.3,472.8 581.4,473.1 581.5,473.4 581.6,473.6M586.3,487.5 586.4,487.8 586.5,488.1 586.6,488.4 586.7,488.7 586.7,489.0 586.8,489.2 586.9,489.5 587.0,489.8 587.1,490.1 587.2,490.4 587.3,490.7 587.4,491.0 587.5,491.3 587.6,491.6 587.6,491.8 587.7,492.1 587.8,492.4 587.9,492.7 588.0,493.0 588.1,493.3 588.2,493.6 588.3,493.9 588.4,494.2 588.4,494.5 588.5,494.7 588.6,495.0 588.7,495.3 588.8,495.6 588.9,495.9 589.0,496.2 589.0,496.5 589.1,496.8 589.2,497.1 589.3,497.3 589.4,497.6 589.5,497.9 589.5,498.2 589.6,498.5 589.7,498.8 589.8,499.1 589.9,499.4 590.0,499.7 590.0,500.0 590.1,500.2 590.2,500.5 590.3,500.8 590.3,500.9M594.0,515.4 594.1,515.7 594.2,515.9 594.2,516.2 594.3,516.5 594.4,516.8 594.4,517.1 594.5,517.4 594.6,517.7 594.6,518.0 594.7,518.3 594.7,518.6 594.8,518.9 594.9,519.2 594.9,519.5 595.0,519.7 595.1,520.0 595.1,520.3 595.2,520.6 595.3,520.9 595.3,521.2 595.4,521.5 595.4,521.8 595.5,522.1 595.6,522.4 595.6,522.7 595.7,523.0 595.7,523.2 595.8,523.5 595.9,523.8 595.9,524.1 596.0,524.4 596.0,524.7 596.1,525.0 596.1,525.3 596.2,525.6 596.3,525.9 596.3,526.2 596.4,526.5 596.4,526.8 596.5,527.0 596.5,527.3 596.6,527.6 596.6,527.9 596.7,528.2 596.7,528.5 596.8,528.8 596.8,529.1" stroke="#fff" stroke-width="1.8"/><path d="M109.4,189.6 109.8,189.8 110.2,189.9 110.6,190.1 111.0,190.3 111.4,190.5 111.8,190.7 112.2,190.9 112.6,191.1 113.0,191.3 113.4,191.5 113.8,191.7 114.2,191.9 114.6,192.1 115.0,192.3 115.4,192.5 115.8,192.7 116.2,192.9 116.6,193.1 117.0,193.3 117.4,193.5 117.8,193.7 118.2,193.9 118.6,194.1 119.0,194.3 119.4,194.5 119.8,194.7 120.2,194.9 120.6,195.1 121.0,195.3 121.4,195.5 121.8,195.7 122.0,195.7M135.0,202.4 135.4,202.7 135.8,202.9 136.2,203.1 136.5,203.3 136.9,203.5 137.3,203.7 137.7,203.9 138.1,204.1 138.4,204.3 138.8,204.5 139.2,204.7 139.6,204.9 139.9,205.1 140.3,205.3 140.7,205.5 141.1,205.7 141.5,205.9 141.8,206.1 142.2,206.3 142.6,206.5 143.0,206.7 143.3,206.9 143.7,207.1 144.1,207.3 144.5,207.5 144.8,207.7 145.2,207.9 145.6,208.1 145.9,208.3 146.3,208.5 146.7,208.7 147.1,208.9 147.3,209.1M160.6,216.5 160.9,216.7 161.3,217.0 161.6,217.2 162.0,217.4 162.3,217.6 162.7,217.8 163.1,218.0 163.4,218.2 163.8,218.4 164.1,218.6 164.5,218.8 164.8,219.0 165.2,219.2 165.5,219.4 165.9,219.7 166.2,219.9 166.6,220.1 167.0,220.3 167.3,220.5 167.7,220.7 168.0,220.9 168.4,221.1 168.7,221.3 169.1,221.5 169.4,221.7 169.8,221.9 170.1,222.2 170.5,222.4 170.8,222.6 171.2,222.8 171.5,223.0 171.8,223.2 172.2,223.4 172.5,223.6 172.6,223.7M185.1,231.4 185.5,231.6 185.8,231.8 186.1,232.0 186.5,232.3 186.8,232.5 187.1,232.7 187.5,232.9 187.8,233.1 188.1,233.3 188.5,233.5 188.8,233.7 189.1,233.9 189.5,234.2 189.8,234.4 190.1,234.6 190.5,234.8 190.8,235.0 191.1,235.2 191.4,235.4 191.8,235.6 192.1,235.9 192.4,236.1 192.8,236.3 193.1,236.5 193.4,236.7 193.7,236.9 194.1,237.1 194.4,237.4 194.7,237.6 195.0,237.8 195.4,238.0 195.7,238.2 196.0,238.4 196.3,238.6 196.7,238.8 196.9,239.0M209.3,247.4 209.6,247.6 209.9,247.8 210.2,248.1 210.6,248.3 210.9,248.5 211.2,248.7 211.5,248.9 211.8,249.1 212.1,249.4 212.4,249.6 212.7,249.8 213.0,250.0 213.3,250.2 213.6,250.4 213.9,250.6 214.2,250.9 214.5,251.1 214.8,251.3 215.2,251.5 215.5,251.7 215.8,251.9 216.1,252.2 216.4,252.4 216.7,252.6 217.0,252.8 217.3,253.0 217.6,253.2 217.9,253.5 218.2,253.7 218.5,253.9 218.8,254.1 219.1,254.3 219.4,254.5 219.7,254.8 220.0,255.0 220.3,255.2 220.6,255.4 220.7,255.5M237.7,268.2 238.0,268.4 238.2,268.7 238.5,268.9 238.8,269.1 239.1,269.3 239.4,269.5 239.6,269.8 239.9,270.0 240.2,270.2 240.5,270.4 240.7,270.6 241.0,270.8 241.3,271.1 241.6,271.3 241.9,271.5 242.1,271.7 242.4,271.9 242.7,272.2 243.0,272.4 243.2,272.6 243.5,272.8 243.8,273.0 244.1,273.2 244.3,273.5 244.6,273.7 244.9,273.9 245.2,274.1 245.4,274.3 245.7,274.6 246.0,274.8 246.2,275.0 246.5,275.2 246.8,275.4 247.1,275.6 247.3,275.9 247.6,276.1 247.9,276.3 248.1,276.5 248.4,276.7 248.6,276.9M259.8,286.1 260.0,286.4 260.3,286.6 260.5,286.8 260.8,287.0 261.0,287.2 261.3,287.5 261.6,287.7 261.8,287.9 262.1,288.1 262.3,288.3 262.6,288.6 262.8,288.8 263.1,289.0 263.3,289.2 263.6,289.4 263.8,289.7 264.1,289.9 264.4,290.1 264.6,290.3 264.9,290.5 265.1,290.7 265.4,291.0 265.6,291.2 265.9,291.4 266.1,291.6 266.4,291.8 266.6,292.1 266.9,292.3 267.1,292.5 267.4,292.7 267.6,292.9 267.9,293.2 268.1,293.4 268.4,293.6 268.6,293.8 268.9,294.0 269.1,294.3 269.4,294.5 269.6,294.7 269.9,294.9 270.1,295.1 270.3,295.3M280.7,304.8 281.0,305.0 281.2,305.2 281.4,305.4 281.7,305.6 281.9,305.8 282.1,306.1 282.4,306.3 282.6,306.5 282.8,306.7 283.1,306.9 283.3,307.2 283.5,307.4 283.8,307.6 284.0,307.8 284.2,308.0 284.5,308.3 284.7,308.5 284.9,308.7 285.2,308.9 285.4,309.1 285.6,309.3 285.9,309.6 286.1,309.8 286.3,310.0 286.5,310.2 286.8,310.4 287.0,310.7 287.2,310.9 287.5,311.1 287.7,311.3 287.9,311.5 288.2,311.7 288.4,312.0 288.6,312.2 288.8,312.4 289.1,312.6 289.3,312.8 289.5,313.1 289.7,313.3 290.0,313.5 290.2,313.7 290.4,313.9 290.6,314.1 290.9,314.4 290.9,314.4M301.7,325.0 301.9,325.2 302.1,325.5 302.3,325.7 302.5,325.9 302.7,326.1 302.9,326.3 303.1,326.5 303.4,326.8 303.6,327.0 303.8,327.2 304.0,327.4 304.2,327.6 304.4,327.9 304.6,328.1 304.8,328.3 305.1,328.5 305.3,328.7 305.5,328.9 305.7,329.2 305.9,329.4 306.1,329.6 306.3,329.8 306.5,330.0 306.7,330.2 306.9,330.5 307.2,330.7 307.4,330.9 307.6,331.1 307.8,331.3 308.0,331.5 308.2,331.8 308.4,332.0 308.6,332.2 308.8,332.4 309.0,332.6 309.2,332.8 309.4,333.1 309.6,333.3 309.9,333.5 310.1,333.7 310.3,333.9 310.5,334.1 310.7,334.3 310.9,334.6 311.1,334.8 311.3,335.0 311.4,335.1M322.9,347.5 323.1,347.7 323.2,347.9 323.4,348.1 323.6,348.3 323.8,348.6 324.0,348.8 324.2,349.0 324.4,349.2 324.6,349.4 324.8,349.6 325.0,349.9 325.2,350.1 325.4,350.3 325.6,350.5 325.7,350.7 325.9,350.9 326.1,351.1 326.3,351.4 326.5,351.6 326.7,351.8 326.9,352.0 327.1,352.2 327.3,352.4 327.5,352.6 327.7,352.8 327.8,353.1 328.0,353.3 328.2,353.5 328.4,353.7 328.6,353.9 328.8,354.1 329.0,354.3 329.2,354.6 329.3,354.8 329.5,355.0 329.7,355.2 329.9,355.4 330.1,355.6 330.3,355.8 330.5,356.1 330.7,356.3 330.8,356.5 331.0,356.7 331.2,356.9 331.4,357.1 331.6,357.3 331.8,357.5 332.0,357.8 332.1,358.0M341.6,369.0 341.7,369.2 341.9,369.4 342.1,369.7 342.3,369.9 342.5,370.1 342.6,370.3 342.8,370.5 343.0,370.7 343.2,370.9 343.3,371.1 343.5,371.4 343.7,371.6 343.9,371.8 344.0,372.0 344.2,372.2 344.4,372.4 344.6,372.6 344.7,372.8 344.9,373.0 345.1,373.3 345.3,373.5 345.4,373.7 345.6,373.9 345.8,374.1 346.0,374.3 346.1,374.5 346.3,374.7 346.5,374.9 346.6,375.2 346.8,375.4 347.0,375.6 347.2,375.8 347.3,376.0 347.5,376.2 347.7,376.4 347.9,376.6 348.0,376.8 348.2,377.1 348.4,377.3 348.5,377.5 348.7,377.7 348.9,377.9 349.1,378.1 349.2,378.3 349.4,378.5 349.6,378.7 349.7,378.9 349.9,379.2 350.1,379.4 350.2,379.6 350.4,379.8 350.5,379.8M360.1,392.0 360.2,392.2 360.4,392.4 360.5,392.6 360.7,392.8 360.8,393.0 361.0,393.2 361.2,393.4 361.3,393.6 361.5,393.8 361.7,394.0 361.8,394.2 362.0,394.4 362.1,394.7 362.3,394.9 362.5,395.1 362.6,395.3 362.8,395.5 362.9,395.7 363.1,395.9 363.3,396.1 363.4,396.3 363.6,396.5 363.7,396.7 363.9,396.9 364.1,397.2 364.2,397.4 364.4,397.6 364.5,397.8 364.7,398.0 364.8,398.2 365.0,398.4 365.2,398.6 365.3,398.8 365.5,399.0 365.6,399.2 365.8,399.4 366.0,399.7 366.1,399.9 366.3,400.1 366.4,400.3 366.6,400.5 366.7,400.7 366.9,400.9 367.1,401.1 367.2,401.3 367.4,401.5 367.5,401.7 367.7,401.9 367.8,402.1 368.0,402.4 368.2,402.6 368.3,402.8 368.5,403.0 368.6,403.2M377.8,415.7 377.9,415.8 378.1,416.0 378.2,416.2 378.4,416.4 378.5,416.7 378.7,416.9 378.8,417.1 379.0,417.3 379.1,417.5 379.3,417.7 379.4,417.9 379.6,418.1 379.7,418.3 379.9,418.5 380.0,418.7 380.2,418.9 380.3,419.1 380.4,419.3 380.6,419.5 380.7,419.8 380.9,420.0 381.0,420.2 381.2,420.4 381.3,420.6 381.5,420.8 381.6,421.0 381.8,421.2 381.9,421.4 382.1,421.6 382.2,421.8 382.4,422.0 382.5,422.2 382.6,422.4 382.8,422.6 382.9,422.9 383.1,423.1 383.2,423.3 383.4,423.5 383.5,423.7 383.7,423.9 383.8,424.1 384.0,424.3 384.1,424.5 384.2,424.7 384.4,424.9 384.5,425.1 384.7,425.3 384.8,425.5 385.0,425.7 385.1,425.9 385.3,426.2 385.4,426.4 385.5,426.6 385.7,426.8 385.8,427.0 385.9,427.1M394.7,439.9 394.7,440.0 394.8,440.2 395.0,440.4 395.1,440.6 395.2,440.8 395.4,441.0 395.5,441.2 395.7,441.4 395.8,441.6 395.9,441.8 396.1,442.0 396.2,442.2 396.3,442.4 396.5,442.7 396.6,442.9 396.7,443.1 396.9,443.3 397.0,443.5 397.2,443.7 397.3,443.9 397.4,444.1 397.6,444.3 397.7,444.5 397.8,444.7 398.0,444.9 398.1,445.1 398.2,445.3 398.4,445.5 398.5,445.8 398.6,446.0 398.8,446.2 398.9,446.4 399.0,446.6 399.2,446.8 399.3,447.0 399.5,447.2 399.6,447.4 399.7,447.6 399.9,447.8 400.0,448.0 400.1,448.2 400.3,448.4 400.4,448.6 400.5,448.8 400.7,449.1 400.8,449.3 400.9,449.5 401.1,449.7 401.2,449.9 401.3,450.1 401.5,450.3 401.6,450.5 401.7,450.7 401.8,450.9 402.0,451.1 402.1,451.3 402.2,451.5 402.3,451.6M410.5,464.8 410.6,465.0 410.7,465.2 410.9,465.4 411.0,465.6 411.1,465.8 411.2,466.1 411.4,466.3 411.5,466.5 411.6,466.7 411.7,466.9 411.8,467.1 412.0,467.3 412.1,467.5 412.2,467.7 412.3,467.9 412.5,468.1 412.6,468.3 412.7,468.6 412.8,468.8 413.0,469.0 413.1,469.2 413.2,469.4 413.3,469.6 413.4,469.8 413.6,470.0 413.7,470.2 413.8,470.4 413.9,470.6 414.1,470.8 414.2,471.1 414.3,471.3 414.4,471.5 414.5,471.7 414.7,471.9 414.8,472.1 414.9,472.3 415.0,472.5 415.2,472.7 415.3,472.9 415.4,473.1 415.5,473.4 415.6,473.6 415.8,473.8 415.9,474.0 416.0,474.2 416.1,474.4 416.2,474.6 416.4,474.8 416.5,475.0 416.6,475.2 416.7,475.4 416.8,475.7 417.0,475.9 417.1,476.1 417.2,476.3 417.3,476.5 417.4,476.7 417.5,476.9 417.6,476.9M425.0,490.6 425.1,490.8 425.2,491.0 425.3,491.2 425.4,491.4 425.5,491.7 425.6,491.9 425.7,492.1 425.8,492.3 425.9,492.5 426.1,492.7 426.2,492.9 426.3,493.1 426.4,493.4 426.5,493.6 426.6,493.8 426.7,494.0 426.8,494.2 426.9,494.4 427.0,494.6 427.1,494.8 427.2,495.1 427.3,495.3 427.4,495.5 427.5,495.7 427.7,495.9 427.8,496.1 427.9,496.3 428.0,496.5 428.1,496.8 428.2,497.0 428.3,497.2 428.4,497.4 428.5,497.6 428.6,497.8 428.7,498.0 428.8,498.2 428.9,498.5 429.0,498.7 429.1,498.9 429.2,499.1 429.3,499.3 429.4,499.5 429.5,499.7 429.6,500.0 429.7,500.2 429.8,500.4 429.9,500.6 430.0,500.8 430.1,501.0 430.3,501.2 430.4,501.5 430.5,501.7 430.6,501.9 430.7,502.1 430.8,502.3 430.9,502.5 431.0,502.7 431.1,503.0 431.2,503.2M437.4,517.4 437.5,517.6 437.6,517.8 437.6,518.1 437.7,518.3 437.8,518.5 437.9,518.7 438.0,518.9 438.1,519.1 438.2,519.4 438.2,519.6 438.3,519.8 438.4,520.0 438.5,520.2 438.6,520.5 438.7,520.7 438.8,520.9 438.8,521.1 438.9,521.3 439.0,521.5 439.1,521.8 439.2,522.0 439.3,522.2 439.3,522.4 439.4,522.6 439.5,522.9 439.6,523.1 439.7,523.3 439.8,523.5 439.8,523.7 439.9,523.9 440.0,524.2 440.1,524.4 440.2,524.6 440.2,524.8 440.3,525.0 440.4,525.3 440.5,525.5 440.6,525.7 440.6,525.9 440.7,526.1 440.8,526.4 440.9,526.6 441.0,526.8 441.0,527.0 441.1,527.2 441.2,527.5 441.3,527.7 441.3,527.9 441.4,528.1 441.5,528.3 441.6,528.6 441.7,528.8 441.7,529.0 441.8,529.2 441.9,529.4 442.0,529.7 442.0,529.9 442.0,529.9" stroke="#fff" stroke-width="1.8"/></g><path d="M191.3 529.9v-12.7M191.3 9.8v12.7M108.2 472.1h18.5M855.8 472.1h-18.5M274.3 529.9v-12.7M274.3 9.8v12.7M108.2 414.3h18.5M855.8 414.3h-18.5M357.4 529.9v-12.7M357.4 9.8v12.7M108.2 356.5h18.5M855.8 356.5h-18.5M440.5 529.9v-12.7M440.5 9.8v12.7M108.2 298.7h18.5M855.8 298.7h-18.5M523.5 529.9v-12.7M523.5 9.8v12.7M108.2 241.0h18.5M855.8 241.0h-18.5M606.6 529.9v-12.7M606.6 9.8v12.7M108.2 183.2h18.5M855.8 183.2h-18.5M689.7 529.9v-12.7M689.7 9.8v12.7M108.2 125.4h18.5M855.8 125.4h-18.5M772.7 529.9v-12.7M772.7 9.8v12.7M108.2 67.6h18.5M855.8 67.6h-18.5" stroke="#000" stroke-width="1.7" fill="none"/><rect x="108.2" y="9.8" width="747.6" height="520.1" fill="none" stroke="#000" stroke-width="1.7"/><text x="112.0" y="576" font-size="34" text-anchor="middle">0.2</text><text x="82.3" y="542.3" font-size="34" text-anchor="end">0.2</text><text x="195.1" y="576" font-size="34" text-anchor="middle">0.4</text><text x="82.3" y="484.5" font-size="34" text-anchor="end">0.4</text><text x="278.1" y="576" font-size="34" text-anchor="middle">0.6</text><text x="82.3" y="426.7" font-size="34" text-anchor="end">0.6</text><text x="361.2" y="576" font-size="34" text-anchor="middle">0.8</text><text x="82.3" y="368.9" font-size="34" text-anchor="end">0.8</text><text x="444.3" y="576" font-size="34" text-anchor="middle">1</text><text x="82.3" y="311.1" font-size="34" text-anchor="end">1</text><text x="527.3" y="576" font-size="34" text-anchor="middle">1.2</text><text x="82.3" y="253.4" font-size="34" text-anchor="end">1.2</text><text x="610.4" y="576" font-size="34" text-anchor="middle">1.4</text><text x="82.3" y="195.6" font-size="34" text-anchor="end">1.4</text><text x="693.5" y="576" font-size="34" text-anchor="middle">1.6</text><text x="82.3" y="137.8" font-size="34" text-anchor="end">1.6</text><text x="776.5" y="576" font-size="34" text-anchor="middle">1.8</text><text x="82.3" y="80.0" font-size="34" text-anchor="end">1.8</text><text x="859.6" y="576" font-size="34" text-anchor="middle">2</text><text x="82.3" y="22.2" font-size="34" text-anchor="end">2</text><text x="437.8" y="619" font-size="37.5">r (fm)</text><text transform="translate(27,316.4) rotate(-90)" font-size="37.5">a (fm)</text><rect x="874.1" y="10.4" width="37.2" height="519.6" fill="url(#cb)"/><path d="M874.1 439.8h5.5M911.3 439.8h-5.5M874.1 359.7h5.5M911.3 359.7h-5.5M874.1 302.9h5.5M911.3 302.9h-5.5M874.1 258.8h5.5M911.3 258.8h-5.5M874.1 222.7h5.5M911.3 222.7h-5.5M874.1 192.3h5.5M911.3 192.3h-5.5M874.1 165.9h5.5M911.3 165.9h-5.5M874.1 142.6h5.5M911.3 142.6h-5.5M874.1 121.8h10.7M911.3 121.8h-10.7" stroke="#000" stroke-width="1.7"/><rect x="874.1" y="10.4" width="37.2" height="519.6" fill="none" stroke="#000" stroke-width="1.7"/><text x="936" y="132.6" font-size="28" style="font-family:'Liberation Sans',Arial,sans-serif">10</text><text transform="translate(964.5,351.4) rotate(-90)" font-size="37.4">reduced</text><text transform="translate(964.5,224.5) rotate(-90)" font-size="44">χ</text><text transform="translate(951,204.5) rotate(-90)" font-size="31.8">2</text></svg></body></html>
